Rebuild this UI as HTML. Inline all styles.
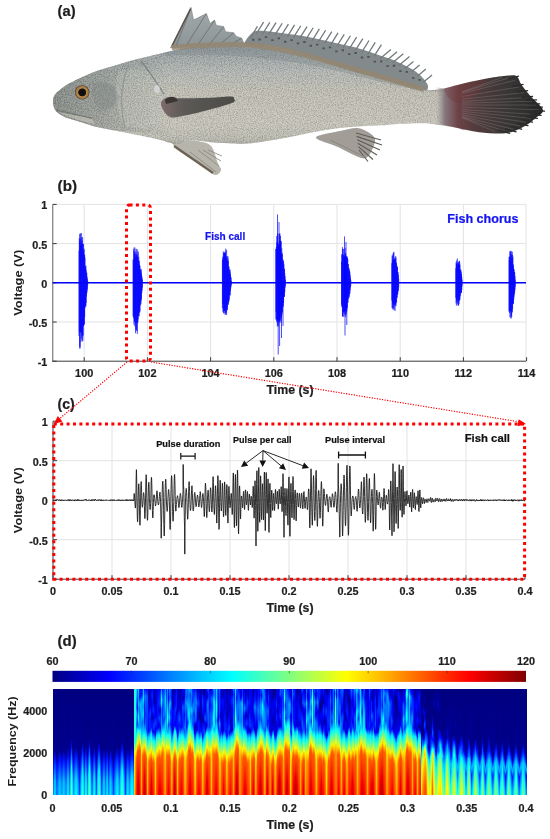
<!DOCTYPE html><html><head><meta charset="utf-8"><title>Fish call figure</title><style>html,body{margin:0;padding:0;background:#fff;overflow:hidden}svg{display:block}</style></head><body><svg width="550" height="839" viewBox="0 0 550 839" font-family='"Liberation Sans", Arial, sans-serif' font-weight="bold"><defs>
<linearGradient id="gBody" x1="0" y1="40" x2="0" y2="146" gradientUnits="userSpaceOnUse">
 <stop offset="0" stop-color="#7b858a"/><stop offset="0.12" stop-color="#959ea3"/><stop offset="0.3" stop-color="#b0b4b3"/>
 <stop offset="0.5" stop-color="#bfbdb4"/><stop offset="0.8" stop-color="#c5c3ba"/><stop offset="0.93" stop-color="#b9b8b0"/><stop offset="1" stop-color="#9c9b94"/>
</linearGradient>
<linearGradient id="gHead" x1="50" y1="0" x2="170" y2="0" gradientUnits="userSpaceOnUse">
 <stop offset="0" stop-color="#6f7777" stop-opacity="0.85"/><stop offset="0.45" stop-color="#7c8484" stop-opacity="0.6"/><stop offset="0.8" stop-color="#87908f" stop-opacity="0.3"/><stop offset="1" stop-color="#8a9292" stop-opacity="0"/>
</linearGradient>
<linearGradient id="gTail" x1="436" y1="0" x2="545" y2="0" gradientUnits="userSpaceOnUse">
 <stop offset="0" stop-color="#9a9396" stop-opacity="0"/><stop offset="0.08" stop-color="#86787d"/>
 <stop offset="0.2" stop-color="#6c4347"/><stop offset="0.38" stop-color="#4f3b3c"/>
 <stop offset="0.65" stop-color="#3a3636"/><stop offset="1" stop-color="#262626"/>
</linearGradient>
<linearGradient id="gPed" x1="0" y1="80" x2="0" y2="130" gradientUnits="userSpaceOnUse">
 <stop offset="0" stop-color="#8e8a8c"/><stop offset="0.5" stop-color="#a19c9c"/><stop offset="1" stop-color="#9a9494"/>
</linearGradient>
<linearGradient id="gPect" x1="160" y1="0" x2="235" y2="0" gradientUnits="userSpaceOnUse">
 <stop offset="0" stop-color="#806c6c"/><stop offset="0.3" stop-color="#5d5a57"/><stop offset="1" stop-color="#4a4a47"/>
</linearGradient>
<linearGradient id="gFin" x1="0" y1="0" x2="0" y2="1">
 <stop offset="0" stop-color="#a2aaac"/><stop offset="1" stop-color="#8c9495"/>
</linearGradient>
<radialGradient id="gEye" cx="0.5" cy="0.5" r="0.5">
 <stop offset="0" stop-color="#0d0d0d"/><stop offset="0.5" stop-color="#151210"/><stop offset="0.6" stop-color="#b98a45"/>
 <stop offset="0.85" stop-color="#9c7444"/><stop offset="1" stop-color="#3e342c"/>
</radialGradient>
<filter id="fSpeck" x="0" y="0" width="1" height="1" color-interpolation-filters="sRGB">
 <feTurbulence type="fractalNoise" baseFrequency="0.85" numOctaves="2" seed="4"/>
 <feColorMatrix type="matrix" values="2.4 0 0 0 -0.48  2.4 0 0 0 -0.48  2.3 0 0 0 -0.5  0 0 0 0 0.16"/>
</filter>
<clipPath id="cBody"><path d="M53,103C52.75,100.33 53.27,97.55 54.5,95.3C55.73,93.05 57.97,91.45 60.4,89.5C62.83,87.55 65.23,85.78 69.1,83.6C72.97,81.42 78.75,78.58 83.6,76.4C88.45,74.22 93.35,72.2 98.2,70.5C103.05,68.8 107.85,67.65 112.7,66.2C117.55,64.75 122.45,63.17 127.3,61.8C132.15,60.43 136.95,59.22 141.8,58C146.65,56.78 151.53,55.67 156.4,54.5C161.27,53.33 166.15,52.07 171,51C175.85,49.93 180.67,48.93 185.5,48.1C190.33,47.27 192.58,46.52 200,46C207.42,45.48 221.67,45.25 230,45C238.33,44.75 242.33,44.25 250,44.5C257.67,44.75 266.83,44.92 276,46.5C285.17,48.08 296,51.08 305,54C314,56.92 321.17,60.88 330,64C338.83,67.12 348.5,70.03 358,72.7C367.5,75.37 378.25,77.57 387,80C395.75,82.43 404.17,85.6 410.5,87.3C416.83,89 419.17,89.97 425,90.2C430.83,90.43 440.33,89.15 445.5,88.7C450.67,88.25 452.58,87.7 456,87.5C459.42,87.3 464.33,80.92 466,87.5C467.67,94.08 467.75,120.33 466,127C464.25,133.67 461.2,128 455.5,127.5C449.8,127 437.72,124.72 431.8,124C425.88,123.28 425.3,123.23 420,123.2C414.7,123.17 405.5,123.5 400,123.8C394.5,124.1 394,124.55 387,125C380,125.45 367.67,125.75 358,126.5C348.33,127.25 337.75,128.28 329,129.5C320.25,130.72 314.27,132.12 305.5,133.8C296.73,135.48 286.1,137.98 276.4,139.6C266.7,141.22 257.03,142.97 247.3,143.5C237.57,144.03 227.72,143.35 218,142.8C208.28,142.25 195.88,140 189,140.2C182.12,140.4 182.13,144.22 176.7,144C171.27,143.78 164.63,140.72 156.4,138.9C148.17,137.08 137,135.03 127.3,133.1C117.6,131.17 105.48,129 98.2,127.3C90.92,125.6 88.45,124.37 83.6,122.9C78.75,121.43 72.48,119.62 69.1,118.5C65.72,117.38 65.48,117.4 63.3,116.2C61.12,115 57.72,113.5 56,111.3C54.28,109.1 53.25,105.67 53,103Z"/></clipPath><linearGradient id="gCb" x1="0" y1="0" x2="1" y2="0"><stop offset="0" stop-color="#000080"/><stop offset="0.06" stop-color="#0000bf"/><stop offset="0.12" stop-color="#0000ff"/><stop offset="0.19" stop-color="#0040ff"/><stop offset="0.25" stop-color="#0080ff"/><stop offset="0.31" stop-color="#00bfff"/><stop offset="0.38" stop-color="#00ffff"/><stop offset="0.44" stop-color="#40ffbf"/><stop offset="0.5" stop-color="#80ff80"/><stop offset="0.56" stop-color="#bfff40"/><stop offset="0.62" stop-color="#ffff00"/><stop offset="0.69" stop-color="#ffbf00"/><stop offset="0.75" stop-color="#ff8000"/><stop offset="0.81" stop-color="#ff4000"/><stop offset="0.88" stop-color="#ff0000"/><stop offset="0.94" stop-color="#bf0000"/><stop offset="1" stop-color="#800000"/></linearGradient><linearGradient id="c0" x1="0" y1="0" x2="0" y2="1"><stop offset="0.000" stop-color="#000080"/><stop offset="0.619" stop-color="#000090"/><stop offset="0.724" stop-color="#000fff"/><stop offset="0.924" stop-color="#0084ff"/><stop offset="1.000" stop-color="#008cff"/></linearGradient><linearGradient id="c1" x1="0" y1="0" x2="0" y2="1"><stop offset="0.000" stop-color="#000080"/><stop offset="0.571" stop-color="#000093"/><stop offset="0.657" stop-color="#000fff"/><stop offset="0.857" stop-color="#00b7ff"/><stop offset="1.000" stop-color="#00d5ff"/></linearGradient><linearGradient id="c2" x1="0" y1="0" x2="0" y2="1"><stop offset="0.000" stop-color="#000080"/><stop offset="0.571" stop-color="#000089"/><stop offset="0.667" stop-color="#0011ff"/><stop offset="0.867" stop-color="#00b2ff"/><stop offset="1.000" stop-color="#00ccff"/></linearGradient><linearGradient id="c3" x1="0" y1="0" x2="0" y2="1"><stop offset="0.000" stop-color="#000080"/><stop offset="0.629" stop-color="#000090"/><stop offset="0.743" stop-color="#0014ff"/><stop offset="0.952" stop-color="#007bff"/><stop offset="1.000" stop-color="#007eff"/></linearGradient><linearGradient id="c4" x1="0" y1="0" x2="0" y2="1"><stop offset="0.000" stop-color="#000080"/><stop offset="0.619" stop-color="#00008d"/><stop offset="0.724" stop-color="#000cff"/><stop offset="0.924" stop-color="#0081ff"/><stop offset="1.000" stop-color="#0089ff"/></linearGradient><linearGradient id="c5" x1="0" y1="0" x2="0" y2="1"><stop offset="0.000" stop-color="#000080"/><stop offset="0.590" stop-color="#000089"/><stop offset="0.686" stop-color="#000aff"/><stop offset="0.886" stop-color="#009cff"/><stop offset="1.000" stop-color="#00afff"/></linearGradient><linearGradient id="c6" x1="0" y1="0" x2="0" y2="1"><stop offset="0.000" stop-color="#000080"/><stop offset="0.571" stop-color="#00008d"/><stop offset="0.667" stop-color="#0015ff"/><stop offset="0.867" stop-color="#00b6ff"/><stop offset="1.000" stop-color="#00d0ff"/></linearGradient><linearGradient id="c7" x1="0" y1="0" x2="0" y2="1"><stop offset="0.000" stop-color="#000080"/><stop offset="0.581" stop-color="#00008e"/><stop offset="0.676" stop-color="#0012ff"/><stop offset="0.876" stop-color="#00abff"/><stop offset="1.000" stop-color="#00c2ff"/></linearGradient><linearGradient id="c8" x1="0" y1="0" x2="0" y2="1"><stop offset="0.000" stop-color="#000080"/><stop offset="0.600" stop-color="#000087"/><stop offset="0.705" stop-color="#000fff"/><stop offset="0.905" stop-color="#0092ff"/><stop offset="1.000" stop-color="#009fff"/></linearGradient><linearGradient id="c9" x1="0" y1="0" x2="0" y2="1"><stop offset="0.000" stop-color="#000080"/><stop offset="0.590" stop-color="#00008b"/><stop offset="0.686" stop-color="#000cff"/><stop offset="0.886" stop-color="#009fff"/><stop offset="1.000" stop-color="#00b1ff"/></linearGradient><linearGradient id="c10" x1="0" y1="0" x2="0" y2="1"><stop offset="0.000" stop-color="#000080"/><stop offset="0.571" stop-color="#000094"/><stop offset="0.657" stop-color="#0010ff"/><stop offset="0.857" stop-color="#00b7ff"/><stop offset="1.000" stop-color="#00d5ff"/></linearGradient><linearGradient id="c11" x1="0" y1="0" x2="0" y2="1"><stop offset="0.000" stop-color="#000080"/><stop offset="0.581" stop-color="#000090"/><stop offset="0.676" stop-color="#0015ff"/><stop offset="0.876" stop-color="#00aeff"/><stop offset="1.000" stop-color="#00c4ff"/></linearGradient><linearGradient id="c12" x1="0" y1="0" x2="0" y2="1"><stop offset="0.000" stop-color="#000080"/><stop offset="0.610" stop-color="#000094"/><stop offset="0.705" stop-color="#000dff"/><stop offset="0.905" stop-color="#0090ff"/><stop offset="1.000" stop-color="#009dff"/></linearGradient><linearGradient id="c13" x1="0" y1="0" x2="0" y2="1"><stop offset="0.000" stop-color="#000080"/><stop offset="0.610" stop-color="#000090"/><stop offset="0.714" stop-color="#0014ff"/><stop offset="0.914" stop-color="#0090ff"/><stop offset="1.000" stop-color="#009aff"/></linearGradient><linearGradient id="c14" x1="0" y1="0" x2="0" y2="1"><stop offset="0.000" stop-color="#000080"/><stop offset="0.552" stop-color="#000087"/><stop offset="0.638" stop-color="#000aff"/><stop offset="0.838" stop-color="#00c0ff"/><stop offset="1.000" stop-color="#00e7ff"/></linearGradient><linearGradient id="c15" x1="0" y1="0" x2="0" y2="1"><stop offset="0.000" stop-color="#000080"/><stop offset="0.552" stop-color="#000087"/><stop offset="0.638" stop-color="#0009ff"/><stop offset="0.838" stop-color="#00bfff"/><stop offset="1.000" stop-color="#00e6ff"/></linearGradient><linearGradient id="c16" x1="0" y1="0" x2="0" y2="1"><stop offset="0.000" stop-color="#000080"/><stop offset="0.610" stop-color="#00008f"/><stop offset="0.714" stop-color="#0012ff"/><stop offset="0.914" stop-color="#008fff"/><stop offset="1.000" stop-color="#0099ff"/></linearGradient><linearGradient id="c17" x1="0" y1="0" x2="0" y2="1"><stop offset="0.000" stop-color="#000080"/><stop offset="0.552" stop-color="#000094"/><stop offset="0.638" stop-color="#0016ff"/><stop offset="0.838" stop-color="#00cbff"/><stop offset="1.000" stop-color="#00f2ff"/></linearGradient><linearGradient id="c18" x1="0" y1="0" x2="0" y2="1"><stop offset="0.000" stop-color="#000080"/><stop offset="0.476" stop-color="#000094"/><stop offset="0.543" stop-color="#000cff"/><stop offset="0.733" stop-color="#00fbff"/><stop offset="0.952" stop-color="#65ff9a"/><stop offset="1.000" stop-color="#68ff97"/></linearGradient><linearGradient id="c19" x1="0" y1="0" x2="0" y2="1"><stop offset="0.000" stop-color="#000080"/><stop offset="0.543" stop-color="#000093"/><stop offset="0.619" stop-color="#000cff"/><stop offset="0.819" stop-color="#00cfff"/><stop offset="1.000" stop-color="#01fffe"/></linearGradient><linearGradient id="c20" x1="0" y1="0" x2="0" y2="1"><stop offset="0.000" stop-color="#000080"/><stop offset="0.610" stop-color="#000089"/><stop offset="0.714" stop-color="#000cff"/><stop offset="0.914" stop-color="#0088ff"/><stop offset="1.000" stop-color="#0092ff"/></linearGradient><linearGradient id="c21" x1="0" y1="0" x2="0" y2="1"><stop offset="0.000" stop-color="#000080"/><stop offset="0.581" stop-color="#000093"/><stop offset="0.667" stop-color="#000cff"/><stop offset="0.867" stop-color="#00adff"/><stop offset="1.000" stop-color="#00c7ff"/></linearGradient><linearGradient id="c22" x1="0" y1="0" x2="0" y2="1"><stop offset="0.000" stop-color="#000080"/><stop offset="0.552" stop-color="#000094"/><stop offset="0.638" stop-color="#0016ff"/><stop offset="0.838" stop-color="#00ccff"/><stop offset="1.000" stop-color="#00f3ff"/></linearGradient><linearGradient id="c23" x1="0" y1="0" x2="0" y2="1"><stop offset="0.000" stop-color="#000080"/><stop offset="0.543" stop-color="#00008c"/><stop offset="0.629" stop-color="#0011ff"/><stop offset="0.829" stop-color="#00ceff"/><stop offset="1.000" stop-color="#00faff"/></linearGradient><linearGradient id="c24" x1="0" y1="0" x2="0" y2="1"><stop offset="0.000" stop-color="#000080"/><stop offset="0.571" stop-color="#00008c"/><stop offset="0.667" stop-color="#0014ff"/><stop offset="0.867" stop-color="#00b5ff"/><stop offset="1.000" stop-color="#00cfff"/></linearGradient><linearGradient id="c25" x1="0" y1="0" x2="0" y2="1"><stop offset="0.000" stop-color="#000080"/><stop offset="0.610" stop-color="#000093"/><stop offset="0.705" stop-color="#000cff"/><stop offset="0.905" stop-color="#008fff"/><stop offset="1.000" stop-color="#009cff"/></linearGradient><linearGradient id="c26" x1="0" y1="0" x2="0" y2="1"><stop offset="0.000" stop-color="#000080"/><stop offset="0.667" stop-color="#000093"/><stop offset="0.800" stop-color="#000fff"/><stop offset="1.000" stop-color="#004cff"/></linearGradient><linearGradient id="c27" x1="0" y1="0" x2="0" y2="1"><stop offset="0.000" stop-color="#000080"/><stop offset="0.610" stop-color="#000092"/><stop offset="0.714" stop-color="#0015ff"/><stop offset="0.914" stop-color="#0091ff"/><stop offset="1.000" stop-color="#009bff"/></linearGradient><linearGradient id="c28" x1="0" y1="0" x2="0" y2="1"><stop offset="0.000" stop-color="#000080"/><stop offset="0.543" stop-color="#000089"/><stop offset="0.629" stop-color="#000fff"/><stop offset="0.829" stop-color="#00ccff"/><stop offset="1.000" stop-color="#00f8ff"/></linearGradient><linearGradient id="c29" x1="0" y1="0" x2="0" y2="1"><stop offset="0.000" stop-color="#000080"/><stop offset="0.495" stop-color="#00008a"/><stop offset="0.571" stop-color="#000eff"/><stop offset="0.762" stop-color="#00ebff"/><stop offset="1.000" stop-color="#42ffbd"/></linearGradient><linearGradient id="c30" x1="0" y1="0" x2="0" y2="1"><stop offset="0.000" stop-color="#000080"/><stop offset="0.543" stop-color="#000091"/><stop offset="0.629" stop-color="#0016ff"/><stop offset="0.829" stop-color="#00d2ff"/><stop offset="1.000" stop-color="#00feff"/></linearGradient><linearGradient id="c31" x1="0" y1="0" x2="0" y2="1"><stop offset="0.000" stop-color="#000080"/><stop offset="0.600" stop-color="#00008c"/><stop offset="0.705" stop-color="#0014ff"/><stop offset="0.905" stop-color="#0097ff"/><stop offset="1.000" stop-color="#00a4ff"/></linearGradient><linearGradient id="c32" x1="0" y1="0" x2="0" y2="1"><stop offset="0.000" stop-color="#000080"/><stop offset="0.533" stop-color="#00008c"/><stop offset="0.619" stop-color="#0014ff"/><stop offset="0.819" stop-color="#00d7ff"/><stop offset="1.000" stop-color="#09fff6"/></linearGradient><linearGradient id="c33" x1="0" y1="0" x2="0" y2="1"><stop offset="0.000" stop-color="#000080"/><stop offset="0.543" stop-color="#000086"/><stop offset="0.629" stop-color="#000cff"/><stop offset="0.829" stop-color="#00c9ff"/><stop offset="1.000" stop-color="#00f4ff"/></linearGradient><linearGradient id="c34" x1="0" y1="0" x2="0" y2="1"><stop offset="0.000" stop-color="#000080"/><stop offset="0.600" stop-color="#00008a"/><stop offset="0.705" stop-color="#0012ff"/><stop offset="0.905" stop-color="#0095ff"/><stop offset="1.000" stop-color="#00a2ff"/></linearGradient><linearGradient id="c35" x1="0" y1="0" x2="0" y2="1"><stop offset="0.000" stop-color="#000080"/><stop offset="0.524" stop-color="#000089"/><stop offset="0.610" stop-color="#0015ff"/><stop offset="0.810" stop-color="#00dfff"/><stop offset="0.981" stop-color="#15ffea"/><stop offset="1.000" stop-color="#16ffe9"/></linearGradient><linearGradient id="c36" x1="0" y1="0" x2="0" y2="1"><stop offset="0.000" stop-color="#000080"/><stop offset="0.467" stop-color="#000082"/><stop offset="0.543" stop-color="#000eff"/><stop offset="0.733" stop-color="#00fcff"/><stop offset="0.952" stop-color="#66ff99"/><stop offset="1.000" stop-color="#69ff96"/></linearGradient><linearGradient id="c37" x1="0" y1="0" x2="0" y2="1"><stop offset="0.000" stop-color="#000080"/><stop offset="0.533" stop-color="#000090"/><stop offset="0.610" stop-color="#000bff"/><stop offset="0.800" stop-color="#00cfff"/><stop offset="0.981" stop-color="#0cfff3"/><stop offset="1.000" stop-color="#0dfff2"/></linearGradient><linearGradient id="c38" x1="0" y1="0" x2="0" y2="1"><stop offset="0.000" stop-color="#000080"/><stop offset="0.610" stop-color="#00008b"/><stop offset="0.714" stop-color="#000eff"/><stop offset="0.914" stop-color="#008aff"/><stop offset="1.000" stop-color="#0095ff"/></linearGradient><linearGradient id="c39" x1="0" y1="0" x2="0" y2="1"><stop offset="0.000" stop-color="#000080"/><stop offset="0.629" stop-color="#000094"/><stop offset="0.733" stop-color="#000fff"/><stop offset="0.933" stop-color="#007cff"/><stop offset="1.000" stop-color="#0083ff"/></linearGradient><linearGradient id="c40" x1="0" y1="0" x2="0" y2="1"><stop offset="0.000" stop-color="#000080"/><stop offset="0.562" stop-color="#000092"/><stop offset="0.648" stop-color="#0011ff"/><stop offset="0.848" stop-color="#00c0ff"/><stop offset="1.000" stop-color="#00e2ff"/></linearGradient><linearGradient id="c41" x1="0" y1="0" x2="0" y2="1"><stop offset="0.000" stop-color="#000080"/><stop offset="0.533" stop-color="#000089"/><stop offset="0.619" stop-color="#0011ff"/><stop offset="0.819" stop-color="#00d5ff"/><stop offset="1.000" stop-color="#06fff9"/></linearGradient><linearGradient id="c42" x1="0" y1="0" x2="0" y2="1"><stop offset="0.000" stop-color="#000080"/><stop offset="0.590" stop-color="#00008e"/><stop offset="0.686" stop-color="#000fff"/><stop offset="0.886" stop-color="#00a1ff"/><stop offset="1.000" stop-color="#00b4ff"/></linearGradient><linearGradient id="c43" x1="0" y1="0" x2="0" y2="1"><stop offset="0.000" stop-color="#000080"/><stop offset="0.648" stop-color="#00008f"/><stop offset="0.771" stop-color="#0010ff"/><stop offset="0.981" stop-color="#0062ff"/><stop offset="1.000" stop-color="#0062ff"/></linearGradient><linearGradient id="c44" x1="0" y1="0" x2="0" y2="1"><stop offset="0.000" stop-color="#000080"/><stop offset="0.562" stop-color="#000091"/><stop offset="0.648" stop-color="#0010ff"/><stop offset="0.848" stop-color="#00bfff"/><stop offset="1.000" stop-color="#00e1ff"/></linearGradient><linearGradient id="c45" x1="0" y1="0" x2="0" y2="1"><stop offset="0.000" stop-color="#000080"/><stop offset="0.505" stop-color="#000091"/><stop offset="0.581" stop-color="#0013ff"/><stop offset="0.771" stop-color="#00e9ff"/><stop offset="1.000" stop-color="#39ffc6"/></linearGradient><linearGradient id="c46" x1="0" y1="0" x2="0" y2="1"><stop offset="0.000" stop-color="#000080"/><stop offset="0.495" stop-color="#000084"/><stop offset="0.571" stop-color="#0009ff"/><stop offset="0.762" stop-color="#00e7ff"/><stop offset="0.990" stop-color="#3effc1"/><stop offset="1.000" stop-color="#3effc1"/></linearGradient><linearGradient id="c47" x1="0" y1="0" x2="0" y2="1"><stop offset="0.000" stop-color="#000080"/><stop offset="0.552" stop-color="#000086"/><stop offset="0.638" stop-color="#0009ff"/><stop offset="0.838" stop-color="#00bfff"/><stop offset="1.000" stop-color="#00e6ff"/></linearGradient><linearGradient id="c48" x1="0" y1="0" x2="0" y2="1"><stop offset="0.000" stop-color="#000080"/><stop offset="0.638" stop-color="#00008d"/><stop offset="0.762" stop-color="#0013ff"/><stop offset="0.971" stop-color="#006cff"/><stop offset="1.000" stop-color="#006dff"/></linearGradient><linearGradient id="c49" x1="0" y1="0" x2="0" y2="1"><stop offset="0.000" stop-color="#000080"/><stop offset="0.619" stop-color="#000091"/><stop offset="0.724" stop-color="#0010ff"/><stop offset="0.924" stop-color="#0085ff"/><stop offset="1.000" stop-color="#008dff"/></linearGradient><linearGradient id="c50" x1="0" y1="0" x2="0" y2="1"><stop offset="0.000" stop-color="#000080"/><stop offset="0.562" stop-color="#000085"/><stop offset="0.657" stop-color="#0011ff"/><stop offset="0.857" stop-color="#00b9ff"/><stop offset="1.000" stop-color="#00d7ff"/></linearGradient><linearGradient id="c51" x1="0" y1="0" x2="0" y2="1"><stop offset="0.000" stop-color="#000080"/><stop offset="0.562" stop-color="#000086"/><stop offset="0.657" stop-color="#0012ff"/><stop offset="0.857" stop-color="#00b9ff"/><stop offset="1.000" stop-color="#00d7ff"/></linearGradient><linearGradient id="c52" x1="0" y1="0" x2="0" y2="1"><stop offset="0.000" stop-color="#000080"/><stop offset="0.619" stop-color="#000092"/><stop offset="0.724" stop-color="#0011ff"/><stop offset="0.924" stop-color="#0086ff"/><stop offset="1.000" stop-color="#008eff"/></linearGradient><linearGradient id="c53" x1="0" y1="0" x2="0" y2="1"><stop offset="0.000" stop-color="#000080"/><stop offset="0.571" stop-color="#00008d"/><stop offset="0.667" stop-color="#0015ff"/><stop offset="0.867" stop-color="#00b5ff"/><stop offset="1.000" stop-color="#00cfff"/></linearGradient><linearGradient id="c54" x1="0" y1="0" x2="0" y2="1"><stop offset="0.000" stop-color="#000080"/><stop offset="0.552" stop-color="#00008b"/><stop offset="0.638" stop-color="#000dff"/><stop offset="0.838" stop-color="#00c3ff"/><stop offset="1.000" stop-color="#00eaff"/></linearGradient><linearGradient id="c55" x1="0" y1="0" x2="0" y2="1"><stop offset="0.000" stop-color="#000080"/><stop offset="0.619" stop-color="#000089"/><stop offset="0.733" stop-color="#0011ff"/><stop offset="0.933" stop-color="#007fff"/><stop offset="1.000" stop-color="#0085ff"/></linearGradient><linearGradient id="c56" x1="0" y1="0" x2="0" y2="1"><stop offset="0.000" stop-color="#000080"/><stop offset="0.590" stop-color="#000092"/><stop offset="0.686" stop-color="#0013ff"/><stop offset="0.886" stop-color="#00a5ff"/><stop offset="1.000" stop-color="#00b7ff"/></linearGradient><linearGradient id="c57" x1="0" y1="0" x2="0" y2="1"><stop offset="0.000" stop-color="#000080"/><stop offset="0.562" stop-color="#000093"/><stop offset="0.648" stop-color="#0013ff"/><stop offset="0.848" stop-color="#00c1ff"/><stop offset="1.000" stop-color="#00e4ff"/></linearGradient><linearGradient id="c58" x1="0" y1="0" x2="0" y2="1"><stop offset="0.000" stop-color="#000080"/><stop offset="0.581" stop-color="#00008f"/><stop offset="0.676" stop-color="#0014ff"/><stop offset="0.876" stop-color="#00adff"/><stop offset="1.000" stop-color="#00c3ff"/></linearGradient><linearGradient id="c59" x1="0" y1="0" x2="0" y2="1"><stop offset="0.000" stop-color="#000080"/><stop offset="0.619" stop-color="#000095"/><stop offset="0.724" stop-color="#0013ff"/><stop offset="0.924" stop-color="#0088ff"/><stop offset="1.000" stop-color="#0090ff"/></linearGradient><linearGradient id="c60" x1="0" y1="0" x2="0" y2="1"><stop offset="0.000" stop-color="#000080"/><stop offset="0.610" stop-color="#000087"/><stop offset="0.724" stop-color="#0014ff"/><stop offset="0.924" stop-color="#0089ff"/><stop offset="1.000" stop-color="#0091ff"/></linearGradient><linearGradient id="c61" x1="0" y1="0" x2="0" y2="1"><stop offset="0.000" stop-color="#000080"/><stop offset="0.552" stop-color="#00008e"/><stop offset="0.638" stop-color="#0011ff"/><stop offset="0.838" stop-color="#00c6ff"/><stop offset="1.000" stop-color="#00edff"/></linearGradient><linearGradient id="c62" x1="0" y1="0" x2="0" y2="1"><stop offset="0.000" stop-color="#000080"/><stop offset="0.543" stop-color="#000089"/><stop offset="0.629" stop-color="#000eff"/><stop offset="0.829" stop-color="#00cbff"/><stop offset="1.000" stop-color="#00f7ff"/></linearGradient><linearGradient id="c63" x1="0" y1="0" x2="0" y2="1"><stop offset="0.000" stop-color="#000080"/><stop offset="0.571" stop-color="#00008b"/><stop offset="0.667" stop-color="#0014ff"/><stop offset="0.867" stop-color="#00b4ff"/><stop offset="1.000" stop-color="#00ceff"/></linearGradient><linearGradient id="c64" x1="0" y1="0" x2="0" y2="1"><stop offset="0.000" stop-color="#000080"/><stop offset="0.600" stop-color="#000086"/><stop offset="0.705" stop-color="#000eff"/><stop offset="0.905" stop-color="#0092ff"/><stop offset="1.000" stop-color="#009eff"/></linearGradient><linearGradient id="c65" x1="0" y1="0" x2="0" y2="1"><stop offset="0.000" stop-color="#000080"/><stop offset="0.552" stop-color="#00008c"/><stop offset="0.638" stop-color="#000fff"/><stop offset="0.838" stop-color="#00c4ff"/><stop offset="1.000" stop-color="#00ebff"/></linearGradient><linearGradient id="c66" x1="0" y1="0" x2="0" y2="1"><stop offset="0.000" stop-color="#000080"/><stop offset="0.505" stop-color="#00008a"/><stop offset="0.581" stop-color="#000cff"/><stop offset="0.771" stop-color="#00e4ff"/><stop offset="0.952" stop-color="#31ffce"/><stop offset="1.000" stop-color="#34ffcb"/></linearGradient><linearGradient id="c67" x1="0" y1="0" x2="0" y2="1"><stop offset="0.000" stop-color="#000080"/><stop offset="0.495" stop-color="#00008f"/><stop offset="0.571" stop-color="#0013ff"/><stop offset="0.771" stop-color="#00f7ff"/><stop offset="1.000" stop-color="#47ffb8"/></linearGradient><linearGradient id="c68" x1="0" y1="0" x2="0" y2="1"><stop offset="0.000" stop-color="#000080"/><stop offset="0.543" stop-color="#000095"/><stop offset="0.619" stop-color="#000dff"/><stop offset="0.819" stop-color="#00d0ff"/><stop offset="1.000" stop-color="#02fffd"/></linearGradient><linearGradient id="c69" x1="0" y1="0" x2="0" y2="1"><stop offset="0.000" stop-color="#000080"/><stop offset="0.590" stop-color="#000089"/><stop offset="0.695" stop-color="#0014ff"/><stop offset="0.895" stop-color="#009fff"/><stop offset="1.000" stop-color="#00afff"/></linearGradient><linearGradient id="c70" x1="0" y1="0" x2="0" y2="1"><stop offset="0.000" stop-color="#000080"/><stop offset="0.600" stop-color="#00008f"/><stop offset="0.695" stop-color="#000cff"/><stop offset="0.895" stop-color="#0097ff"/><stop offset="1.000" stop-color="#00a6ff"/></linearGradient><linearGradient id="c71" x1="0" y1="0" x2="0" y2="1"><stop offset="0.000" stop-color="#000080"/><stop offset="0.571" stop-color="#000091"/><stop offset="0.657" stop-color="#000dff"/><stop offset="0.857" stop-color="#00b5ff"/><stop offset="1.000" stop-color="#00d3ff"/></linearGradient><linearGradient id="c72" x1="0" y1="0" x2="0" y2="1"><stop offset="0.000" stop-color="#000080"/><stop offset="0.600" stop-color="#00008c"/><stop offset="0.705" stop-color="#0013ff"/><stop offset="0.905" stop-color="#0097ff"/><stop offset="1.000" stop-color="#00a3ff"/></linearGradient><linearGradient id="c73" x1="0" y1="0" x2="0" y2="1"><stop offset="0.000" stop-color="#000080"/><stop offset="0.562" stop-color="#000088"/><stop offset="0.657" stop-color="#0014ff"/><stop offset="0.857" stop-color="#00bcff"/><stop offset="1.000" stop-color="#00d9ff"/></linearGradient><linearGradient id="c74" x1="0" y1="0" x2="0" y2="1"><stop offset="0.000" stop-color="#000080"/><stop offset="0.533" stop-color="#00008b"/><stop offset="0.619" stop-color="#0014ff"/><stop offset="0.819" stop-color="#00d7ff"/><stop offset="1.000" stop-color="#09fff6"/></linearGradient><linearGradient id="c75" x1="0" y1="0" x2="0" y2="1"><stop offset="0.000" stop-color="#000080"/><stop offset="0.533" stop-color="#000089"/><stop offset="0.619" stop-color="#0011ff"/><stop offset="0.819" stop-color="#00d5ff"/><stop offset="1.000" stop-color="#07fff8"/></linearGradient><linearGradient id="c76" x1="0" y1="0" x2="0" y2="1"><stop offset="0.000" stop-color="#1affe5"/><stop offset="0.495" stop-color="#1effe1"/><stop offset="0.600" stop-color="#fffc00"/><stop offset="0.629" stop-color="#ffda00"/><stop offset="0.800" stop-color="#ffdb00"/><stop offset="1.000" stop-color="#ffbd00"/></linearGradient><linearGradient id="c77" x1="0" y1="0" x2="0" y2="1"><stop offset="0.000" stop-color="#1affe5"/><stop offset="0.495" stop-color="#24ffdb"/><stop offset="0.600" stop-color="#fff400"/><stop offset="0.695" stop-color="#ff9d00"/><stop offset="1.000" stop-color="#ff6f00"/></linearGradient><linearGradient id="c78" x1="0" y1="0" x2="0" y2="1"><stop offset="0.000" stop-color="#00e0ff"/><stop offset="0.057" stop-color="#00c4ff"/><stop offset="0.171" stop-color="#006dff"/><stop offset="0.229" stop-color="#00c9ff"/><stop offset="0.343" stop-color="#0071ff"/><stop offset="0.429" stop-color="#00fdff"/><stop offset="0.533" stop-color="#bdff42"/><stop offset="0.571" stop-color="#ffe500"/><stop offset="0.648" stop-color="#ff5b00"/><stop offset="1.000" stop-color="#ff1d00"/></linearGradient><linearGradient id="c79" x1="0" y1="0" x2="0" y2="1"><stop offset="0.000" stop-color="#0072ff"/><stop offset="0.067" stop-color="#005cff"/><stop offset="0.181" stop-color="#0008ff"/><stop offset="0.257" stop-color="#0065ff"/><stop offset="0.324" stop-color="#003aff"/><stop offset="0.362" stop-color="#008eff"/><stop offset="0.381" stop-color="#00f0ff"/><stop offset="0.429" stop-color="#68ff97"/><stop offset="0.514" stop-color="#fff900"/><stop offset="0.590" stop-color="#ff5b00"/><stop offset="0.886" stop-color="#e60000"/><stop offset="1.000" stop-color="#d60000"/></linearGradient><linearGradient id="c80" x1="0" y1="0" x2="0" y2="1"><stop offset="0.000" stop-color="#00ccff"/><stop offset="0.095" stop-color="#00a4ff"/><stop offset="0.143" stop-color="#00c3ff"/><stop offset="0.190" stop-color="#0091ff"/><stop offset="0.257" stop-color="#09fff6"/><stop offset="0.295" stop-color="#00ecff"/><stop offset="0.343" stop-color="#007fff"/><stop offset="0.371" stop-color="#00b9ff"/><stop offset="0.390" stop-color="#0bfff4"/><stop offset="0.438" stop-color="#8fff70"/><stop offset="0.505" stop-color="#ffe700"/><stop offset="0.581" stop-color="#ff5800"/><stop offset="0.848" stop-color="#e40000"/><stop offset="1.000" stop-color="#c40000"/></linearGradient><linearGradient id="c81" x1="0" y1="0" x2="0" y2="1"><stop offset="0.000" stop-color="#0039ff"/><stop offset="0.076" stop-color="#0007ff"/><stop offset="0.133" stop-color="#0092ff"/><stop offset="0.210" stop-color="#006eff"/><stop offset="0.371" stop-color="#00aeff"/><stop offset="0.390" stop-color="#00f6ff"/><stop offset="0.448" stop-color="#baff45"/><stop offset="0.486" stop-color="#ffe800"/><stop offset="0.562" stop-color="#ff5a00"/><stop offset="0.952" stop-color="#f10000"/><stop offset="1.000" stop-color="#ea0000"/></linearGradient><linearGradient id="c82" x1="0" y1="0" x2="0" y2="1"><stop offset="0.000" stop-color="#000eff"/><stop offset="0.067" stop-color="#000fff"/><stop offset="0.143" stop-color="#00c5ff"/><stop offset="0.200" stop-color="#00abff"/><stop offset="0.257" stop-color="#007eff"/><stop offset="0.352" stop-color="#0097ff"/><stop offset="0.400" stop-color="#07fff8"/><stop offset="0.505" stop-color="#fffa00"/><stop offset="0.581" stop-color="#ff6900"/><stop offset="1.000" stop-color="#ff3700"/></linearGradient><linearGradient id="c83" x1="0" y1="0" x2="0" y2="1"><stop offset="0.000" stop-color="#0007ff"/><stop offset="0.057" stop-color="#0011ff"/><stop offset="0.114" stop-color="#00a5ff"/><stop offset="0.200" stop-color="#00b8ff"/><stop offset="0.276" stop-color="#00adff"/><stop offset="0.333" stop-color="#007cff"/><stop offset="0.457" stop-color="#00f2ff"/><stop offset="0.581" stop-color="#fff800"/><stop offset="0.619" stop-color="#ffd400"/><stop offset="1.000" stop-color="#ffa100"/></linearGradient><linearGradient id="c84" x1="0" y1="0" x2="0" y2="1"><stop offset="0.000" stop-color="#0040ff"/><stop offset="0.048" stop-color="#0030ff"/><stop offset="0.105" stop-color="#00a5ff"/><stop offset="0.181" stop-color="#0099ff"/><stop offset="0.248" stop-color="#00c5ff"/><stop offset="0.314" stop-color="#0060ff"/><stop offset="0.362" stop-color="#0092ff"/><stop offset="0.448" stop-color="#0efff1"/><stop offset="0.562" stop-color="#ffea00"/><stop offset="0.638" stop-color="#ff6700"/><stop offset="1.000" stop-color="#ff3700"/></linearGradient><linearGradient id="c85" x1="0" y1="0" x2="0" y2="1"><stop offset="0.000" stop-color="#00a5ff"/><stop offset="0.067" stop-color="#00d0ff"/><stop offset="0.105" stop-color="#00e4ff"/><stop offset="0.162" stop-color="#009fff"/><stop offset="0.229" stop-color="#00d8ff"/><stop offset="0.305" stop-color="#0088ff"/><stop offset="0.400" stop-color="#00c9ff"/><stop offset="0.438" stop-color="#1cffe3"/><stop offset="0.543" stop-color="#ffec00"/><stop offset="0.619" stop-color="#ff5a00"/><stop offset="0.962" stop-color="#f40000"/><stop offset="1.000" stop-color="#ef0000"/></linearGradient><linearGradient id="c86" x1="0" y1="0" x2="0" y2="1"><stop offset="0.000" stop-color="#000aff"/><stop offset="0.076" stop-color="#006cff"/><stop offset="0.162" stop-color="#001aff"/><stop offset="0.314" stop-color="#0023ff"/><stop offset="0.381" stop-color="#00a9ff"/><stop offset="0.429" stop-color="#09fff6"/><stop offset="0.533" stop-color="#ffeb00"/><stop offset="0.610" stop-color="#ff5800"/><stop offset="0.829" stop-color="#e80000"/><stop offset="1.000" stop-color="#bb0000"/></linearGradient><linearGradient id="c87" x1="0" y1="0" x2="0" y2="1"><stop offset="0.000" stop-color="#000bff"/><stop offset="0.067" stop-color="#0081ff"/><stop offset="0.248" stop-color="#0035ff"/><stop offset="0.324" stop-color="#0066ff"/><stop offset="0.429" stop-color="#00e6ff"/><stop offset="0.457" stop-color="#39ffc6"/><stop offset="0.543" stop-color="#fff800"/><stop offset="0.619" stop-color="#ff5b00"/><stop offset="0.933" stop-color="#f20000"/><stop offset="1.000" stop-color="#e90000"/></linearGradient><linearGradient id="c88" x1="0" y1="0" x2="0" y2="1"><stop offset="0.000" stop-color="#0000f4"/><stop offset="0.067" stop-color="#0060ff"/><stop offset="0.190" stop-color="#0043ff"/><stop offset="0.267" stop-color="#003dff"/><stop offset="0.371" stop-color="#003dff"/><stop offset="0.457" stop-color="#0bfff4"/><stop offset="0.581" stop-color="#ffeb00"/><stop offset="0.657" stop-color="#ff5f00"/><stop offset="1.000" stop-color="#ff2f00"/></linearGradient><linearGradient id="c89" x1="0" y1="0" x2="0" y2="1"><stop offset="0.000" stop-color="#0014ff"/><stop offset="0.086" stop-color="#0059ff"/><stop offset="0.295" stop-color="#003cff"/><stop offset="0.410" stop-color="#002eff"/><stop offset="0.486" stop-color="#00ddff"/><stop offset="0.533" stop-color="#31ffce"/><stop offset="0.629" stop-color="#fffb00"/><stop offset="0.657" stop-color="#ffd700"/><stop offset="1.000" stop-color="#ffac00"/></linearGradient><linearGradient id="c90" x1="0" y1="0" x2="0" y2="1"><stop offset="0.000" stop-color="#0000d3"/><stop offset="0.076" stop-color="#0000cd"/><stop offset="0.238" stop-color="#0012ff"/><stop offset="0.400" stop-color="#0000f5"/><stop offset="0.457" stop-color="#00d1ff"/><stop offset="0.505" stop-color="#1fffe0"/><stop offset="0.610" stop-color="#fffb00"/><stop offset="0.695" stop-color="#ff8a00"/><stop offset="1.000" stop-color="#ff5a00"/></linearGradient><linearGradient id="c91" x1="0" y1="0" x2="0" y2="1"><stop offset="0.000" stop-color="#0000bd"/><stop offset="0.057" stop-color="#00009a"/><stop offset="0.124" stop-color="#0000cf"/><stop offset="0.181" stop-color="#0000d8"/><stop offset="0.238" stop-color="#0024ff"/><stop offset="0.390" stop-color="#001cff"/><stop offset="0.448" stop-color="#00ccff"/><stop offset="0.495" stop-color="#27ffd8"/><stop offset="0.600" stop-color="#fff000"/><stop offset="0.676" stop-color="#ff5c00"/><stop offset="1.000" stop-color="#ff1f00"/></linearGradient><linearGradient id="c92" x1="0" y1="0" x2="0" y2="1"><stop offset="0.000" stop-color="#0000d1"/><stop offset="0.105" stop-color="#0000ea"/><stop offset="0.152" stop-color="#0000d4"/><stop offset="0.190" stop-color="#0022ff"/><stop offset="0.229" stop-color="#003bff"/><stop offset="0.286" stop-color="#0018ff"/><stop offset="0.352" stop-color="#001eff"/><stop offset="0.381" stop-color="#0027ff"/><stop offset="0.429" stop-color="#00d5ff"/><stop offset="0.476" stop-color="#1cffe3"/><stop offset="0.590" stop-color="#ffea00"/><stop offset="0.667" stop-color="#ff5900"/><stop offset="0.952" stop-color="#f70000"/><stop offset="1.000" stop-color="#f10000"/></linearGradient><linearGradient id="c93" x1="0" y1="0" x2="0" y2="1"><stop offset="0.000" stop-color="#0000c6"/><stop offset="0.057" stop-color="#0016ff"/><stop offset="0.114" stop-color="#0000de"/><stop offset="0.162" stop-color="#0000dd"/><stop offset="0.219" stop-color="#0003ff"/><stop offset="0.267" stop-color="#0000b3"/><stop offset="0.324" stop-color="#0010ff"/><stop offset="0.362" stop-color="#0013ff"/><stop offset="0.419" stop-color="#00deff"/><stop offset="0.467" stop-color="#21ffde"/><stop offset="0.571" stop-color="#fff800"/><stop offset="0.657" stop-color="#ff5500"/><stop offset="0.857" stop-color="#e80000"/><stop offset="1.000" stop-color="#c80000"/></linearGradient><linearGradient id="c94" x1="0" y1="0" x2="0" y2="1"><stop offset="0.000" stop-color="#0000fa"/><stop offset="0.067" stop-color="#0024ff"/><stop offset="0.133" stop-color="#0002ff"/><stop offset="0.200" stop-color="#001dff"/><stop offset="0.229" stop-color="#0000e7"/><stop offset="0.267" stop-color="#0000a8"/><stop offset="0.333" stop-color="#0012ff"/><stop offset="0.400" stop-color="#000cff"/><stop offset="0.457" stop-color="#00c9ff"/><stop offset="0.495" stop-color="#16ffe9"/><stop offset="0.610" stop-color="#fff100"/><stop offset="0.686" stop-color="#ff5a00"/><stop offset="0.990" stop-color="#fb0000"/><stop offset="1.000" stop-color="#fa0000"/></linearGradient><linearGradient id="c95" x1="0" y1="0" x2="0" y2="1"><stop offset="0.000" stop-color="#0000f5"/><stop offset="0.105" stop-color="#0000af"/><stop offset="0.162" stop-color="#0013ff"/><stop offset="0.210" stop-color="#0028ff"/><stop offset="0.267" stop-color="#0000d8"/><stop offset="0.314" stop-color="#0019ff"/><stop offset="0.362" stop-color="#003aff"/><stop offset="0.400" stop-color="#0000f3"/><stop offset="0.438" stop-color="#006eff"/><stop offset="0.486" stop-color="#04fffb"/><stop offset="0.610" stop-color="#fff300"/><stop offset="0.686" stop-color="#ff5c00"/><stop offset="1.000" stop-color="#ff2000"/></linearGradient><linearGradient id="c96" x1="0" y1="0" x2="0" y2="1"><stop offset="0.000" stop-color="#0000b8"/><stop offset="0.124" stop-color="#00009d"/><stop offset="0.190" stop-color="#0012ff"/><stop offset="0.267" stop-color="#0000ef"/><stop offset="0.343" stop-color="#003dff"/><stop offset="0.410" stop-color="#0000ef"/><stop offset="0.448" stop-color="#007fff"/><stop offset="0.495" stop-color="#04fffb"/><stop offset="0.619" stop-color="#fff300"/><stop offset="0.705" stop-color="#ff8400"/><stop offset="1.000" stop-color="#ff5500"/></linearGradient><linearGradient id="c97" x1="0" y1="0" x2="0" y2="1"><stop offset="0.000" stop-color="#0000b5"/><stop offset="0.076" stop-color="#0000df"/><stop offset="0.133" stop-color="#0000bc"/><stop offset="0.210" stop-color="#0000ff"/><stop offset="0.257" stop-color="#0000e9"/><stop offset="0.314" stop-color="#003eff"/><stop offset="0.371" stop-color="#0000f3"/><stop offset="0.429" stop-color="#0000f6"/><stop offset="0.486" stop-color="#00d3ff"/><stop offset="0.533" stop-color="#25ffda"/><stop offset="0.638" stop-color="#fff200"/><stop offset="0.676" stop-color="#ffe300"/><stop offset="1.000" stop-color="#ffc200"/></linearGradient><linearGradient id="c98" x1="0" y1="0" x2="0" y2="1"><stop offset="0.000" stop-color="#0000c1"/><stop offset="0.095" stop-color="#0000de"/><stop offset="0.238" stop-color="#0000db"/><stop offset="0.286" stop-color="#0018ff"/><stop offset="0.324" stop-color="#0029ff"/><stop offset="0.371" stop-color="#0000ee"/><stop offset="0.390" stop-color="#0023ff"/><stop offset="0.438" stop-color="#00d9ff"/><stop offset="0.476" stop-color="#1dffe2"/><stop offset="0.590" stop-color="#ffec00"/><stop offset="0.667" stop-color="#ff8300"/><stop offset="1.000" stop-color="#ff5200"/></linearGradient><linearGradient id="c99" x1="0" y1="0" x2="0" y2="1"><stop offset="0.000" stop-color="#0000e5"/><stop offset="0.133" stop-color="#0017ff"/><stop offset="0.267" stop-color="#000dff"/><stop offset="0.371" stop-color="#0005ff"/><stop offset="0.438" stop-color="#00e7ff"/><stop offset="0.524" stop-color="#83ff7c"/><stop offset="0.581" stop-color="#fff600"/><stop offset="0.657" stop-color="#ff5c00"/><stop offset="1.000" stop-color="#ff2800"/></linearGradient><linearGradient id="c100" x1="0" y1="0" x2="0" y2="1"><stop offset="0.000" stop-color="#0000ec"/><stop offset="0.095" stop-color="#001eff"/><stop offset="0.152" stop-color="#001bff"/><stop offset="0.210" stop-color="#0000e1"/><stop offset="0.276" stop-color="#0033ff"/><stop offset="0.324" stop-color="#0000e4"/><stop offset="0.362" stop-color="#0000f3"/><stop offset="0.429" stop-color="#00e3ff"/><stop offset="0.495" stop-color="#64ff9b"/><stop offset="0.571" stop-color="#ffec00"/><stop offset="0.648" stop-color="#ff5a00"/><stop offset="1.000" stop-color="#ff0400"/></linearGradient><linearGradient id="c101" x1="0" y1="0" x2="0" y2="1"><stop offset="0.000" stop-color="#0000f5"/><stop offset="0.143" stop-color="#002bff"/><stop offset="0.190" stop-color="#0000d5"/><stop offset="0.238" stop-color="#0008ff"/><stop offset="0.276" stop-color="#004bff"/><stop offset="0.333" stop-color="#0000ec"/><stop offset="0.352" stop-color="#0000e4"/><stop offset="0.381" stop-color="#0037ff"/><stop offset="0.438" stop-color="#00f7ff"/><stop offset="0.552" stop-color="#fffe00"/><stop offset="0.638" stop-color="#ff5900"/><stop offset="0.924" stop-color="#f10000"/><stop offset="1.000" stop-color="#e60000"/></linearGradient><linearGradient id="c102" x1="0" y1="0" x2="0" y2="1"><stop offset="0.000" stop-color="#0009ff"/><stop offset="0.057" stop-color="#0048ff"/><stop offset="0.133" stop-color="#0060ff"/><stop offset="0.181" stop-color="#0000e8"/><stop offset="0.219" stop-color="#0000d9"/><stop offset="0.267" stop-color="#0032ff"/><stop offset="0.314" stop-color="#0036ff"/><stop offset="0.371" stop-color="#0000f2"/><stop offset="0.467" stop-color="#13ffec"/><stop offset="0.571" stop-color="#ffff00"/><stop offset="0.657" stop-color="#ff5800"/><stop offset="0.933" stop-color="#f20000"/><stop offset="1.000" stop-color="#e90000"/></linearGradient><linearGradient id="c103" x1="0" y1="0" x2="0" y2="1"><stop offset="0.000" stop-color="#007fff"/><stop offset="0.105" stop-color="#0ffff0"/><stop offset="0.143" stop-color="#00e2ff"/><stop offset="0.200" stop-color="#0069ff"/><stop offset="0.333" stop-color="#0093ff"/><stop offset="0.400" stop-color="#00b5ff"/><stop offset="0.457" stop-color="#1effe1"/><stop offset="0.552" stop-color="#fffa00"/><stop offset="0.629" stop-color="#ff5c00"/><stop offset="1.000" stop-color="#fd0000"/></linearGradient><linearGradient id="c104" x1="0" y1="0" x2="0" y2="1"><stop offset="0.000" stop-color="#0010ff"/><stop offset="0.105" stop-color="#008aff"/><stop offset="0.190" stop-color="#002eff"/><stop offset="0.324" stop-color="#003fff"/><stop offset="0.410" stop-color="#0dfff2"/><stop offset="0.514" stop-color="#e0ff1f"/><stop offset="0.562" stop-color="#ffb000"/><stop offset="0.610" stop-color="#ff5c00"/><stop offset="1.000" stop-color="#ff1400"/></linearGradient><linearGradient id="c105" x1="0" y1="0" x2="0" y2="1"><stop offset="0.000" stop-color="#002dff"/><stop offset="0.067" stop-color="#004eff"/><stop offset="0.114" stop-color="#0061ff"/><stop offset="0.181" stop-color="#0054ff"/><stop offset="0.238" stop-color="#0074ff"/><stop offset="0.305" stop-color="#0041ff"/><stop offset="0.362" stop-color="#00a1ff"/><stop offset="0.410" stop-color="#0ffff0"/><stop offset="0.524" stop-color="#e4ff1b"/><stop offset="0.600" stop-color="#ff8200"/><stop offset="1.000" stop-color="#ff4100"/></linearGradient><linearGradient id="c106" x1="0" y1="0" x2="0" y2="1"><stop offset="0.000" stop-color="#0046ff"/><stop offset="0.114" stop-color="#0097ff"/><stop offset="0.238" stop-color="#0066ff"/><stop offset="0.286" stop-color="#0043ff"/><stop offset="0.410" stop-color="#08fff7"/><stop offset="0.514" stop-color="#b4ff4b"/><stop offset="0.552" stop-color="#ffed00"/><stop offset="0.648" stop-color="#ffa800"/><stop offset="1.000" stop-color="#ff7900"/></linearGradient><linearGradient id="c107" x1="0" y1="0" x2="0" y2="1"><stop offset="0.000" stop-color="#0082ff"/><stop offset="0.086" stop-color="#00d3ff"/><stop offset="0.181" stop-color="#00bbff"/><stop offset="0.267" stop-color="#007eff"/><stop offset="0.333" stop-color="#00ccff"/><stop offset="0.410" stop-color="#00d7ff"/><stop offset="0.448" stop-color="#15ffea"/><stop offset="0.571" stop-color="#ffed00"/><stop offset="0.705" stop-color="#ffb400"/><stop offset="1.000" stop-color="#ff8b00"/></linearGradient><linearGradient id="c108" x1="0" y1="0" x2="0" y2="1"><stop offset="0.000" stop-color="#0021ff"/><stop offset="0.171" stop-color="#007aff"/><stop offset="0.248" stop-color="#007fff"/><stop offset="0.314" stop-color="#00a9ff"/><stop offset="0.362" stop-color="#008cff"/><stop offset="0.438" stop-color="#19ffe6"/><stop offset="0.543" stop-color="#fffd00"/><stop offset="0.629" stop-color="#ff7000"/><stop offset="1.000" stop-color="#ff3f00"/></linearGradient><linearGradient id="c109" x1="0" y1="0" x2="0" y2="1"><stop offset="0.000" stop-color="#0090ff"/><stop offset="0.076" stop-color="#007eff"/><stop offset="0.238" stop-color="#0cfff3"/><stop offset="0.295" stop-color="#2affd5"/><stop offset="0.343" stop-color="#00cfff"/><stop offset="0.400" stop-color="#00adff"/><stop offset="0.438" stop-color="#0efff1"/><stop offset="0.552" stop-color="#fff800"/><stop offset="0.629" stop-color="#ff5c00"/><stop offset="1.000" stop-color="#ff1500"/></linearGradient><linearGradient id="c110" x1="0" y1="0" x2="0" y2="1"><stop offset="0.000" stop-color="#0025ff"/><stop offset="0.095" stop-color="#0000fe"/><stop offset="0.267" stop-color="#00b2ff"/><stop offset="0.343" stop-color="#0036ff"/><stop offset="0.438" stop-color="#09fff6"/><stop offset="0.552" stop-color="#fff400"/><stop offset="0.629" stop-color="#ff5b00"/><stop offset="0.943" stop-color="#f40000"/><stop offset="1.000" stop-color="#eb0000"/></linearGradient><linearGradient id="c111" x1="0" y1="0" x2="0" y2="1"><stop offset="0.000" stop-color="#007aff"/><stop offset="0.086" stop-color="#004bff"/><stop offset="0.152" stop-color="#00c7ff"/><stop offset="0.219" stop-color="#009eff"/><stop offset="0.267" stop-color="#00d7ff"/><stop offset="0.333" stop-color="#006dff"/><stop offset="0.438" stop-color="#11ffee"/><stop offset="0.552" stop-color="#fff900"/><stop offset="0.629" stop-color="#ff5c00"/><stop offset="1.000" stop-color="#ff0900"/></linearGradient><linearGradient id="c112" x1="0" y1="0" x2="0" y2="1"><stop offset="0.000" stop-color="#0069ff"/><stop offset="0.048" stop-color="#0050ff"/><stop offset="0.086" stop-color="#004cff"/><stop offset="0.133" stop-color="#00b6ff"/><stop offset="0.181" stop-color="#0071ff"/><stop offset="0.219" stop-color="#002eff"/><stop offset="0.276" stop-color="#0058ff"/><stop offset="0.333" stop-color="#0023ff"/><stop offset="0.448" stop-color="#05fffa"/><stop offset="0.533" stop-color="#93ff6c"/><stop offset="0.590" stop-color="#ffe300"/><stop offset="0.667" stop-color="#ff6d00"/><stop offset="1.000" stop-color="#ff3d00"/></linearGradient><linearGradient id="c113" x1="0" y1="0" x2="0" y2="1"><stop offset="0.000" stop-color="#001eff"/><stop offset="0.086" stop-color="#0022ff"/><stop offset="0.143" stop-color="#003bff"/><stop offset="0.257" stop-color="#0025ff"/><stop offset="0.352" stop-color="#0003ff"/><stop offset="0.419" stop-color="#0057ff"/><stop offset="0.524" stop-color="#12ffed"/><stop offset="0.638" stop-color="#fff600"/><stop offset="0.695" stop-color="#ffca00"/><stop offset="1.000" stop-color="#ff9500"/></linearGradient><linearGradient id="c114" x1="0" y1="0" x2="0" y2="1"><stop offset="0.000" stop-color="#0000a5"/><stop offset="0.162" stop-color="#0000bc"/><stop offset="0.210" stop-color="#0000fe"/><stop offset="0.276" stop-color="#0000f7"/><stop offset="0.333" stop-color="#0000ec"/><stop offset="0.371" stop-color="#0000d2"/><stop offset="0.429" stop-color="#0027ff"/><stop offset="0.476" stop-color="#00cfff"/><stop offset="0.524" stop-color="#1affe5"/><stop offset="0.638" stop-color="#ffeb00"/><stop offset="0.724" stop-color="#ff9500"/><stop offset="1.000" stop-color="#ff6700"/></linearGradient><linearGradient id="c115" x1="0" y1="0" x2="0" y2="1"><stop offset="0.000" stop-color="#000094"/><stop offset="0.086" stop-color="#0000cf"/><stop offset="0.143" stop-color="#0000b8"/><stop offset="0.210" stop-color="#0009ff"/><stop offset="0.286" stop-color="#0011ff"/><stop offset="0.333" stop-color="#000aff"/><stop offset="0.381" stop-color="#0000f8"/><stop offset="0.438" stop-color="#00e8ff"/><stop offset="0.505" stop-color="#45ffba"/><stop offset="0.590" stop-color="#fffa00"/><stop offset="0.667" stop-color="#ff5c00"/><stop offset="1.000" stop-color="#ff0800"/></linearGradient><linearGradient id="c116" x1="0" y1="0" x2="0" y2="1"><stop offset="0.000" stop-color="#000096"/><stop offset="0.076" stop-color="#0000fc"/><stop offset="0.143" stop-color="#0000e3"/><stop offset="0.210" stop-color="#0022ff"/><stop offset="0.343" stop-color="#0000fd"/><stop offset="0.390" stop-color="#00efff"/><stop offset="0.495" stop-color="#82ff7d"/><stop offset="0.552" stop-color="#fff600"/><stop offset="0.638" stop-color="#ff5500"/><stop offset="0.838" stop-color="#e60000"/><stop offset="1.000" stop-color="#bd0000"/></linearGradient><linearGradient id="c117" x1="0" y1="0" x2="0" y2="1"><stop offset="0.000" stop-color="#0000d5"/><stop offset="0.143" stop-color="#000cff"/><stop offset="0.190" stop-color="#002fff"/><stop offset="0.314" stop-color="#0000ea"/><stop offset="0.352" stop-color="#0007ff"/><stop offset="0.400" stop-color="#01fffe"/><stop offset="0.486" stop-color="#62ff9d"/><stop offset="0.562" stop-color="#ffef00"/><stop offset="0.638" stop-color="#ff5a00"/><stop offset="0.914" stop-color="#f00000"/><stop offset="1.000" stop-color="#e40000"/></linearGradient><linearGradient id="c118" x1="0" y1="0" x2="0" y2="1"><stop offset="0.000" stop-color="#0008ff"/><stop offset="0.057" stop-color="#0017ff"/><stop offset="0.171" stop-color="#001eff"/><stop offset="0.229" stop-color="#0000d6"/><stop offset="0.295" stop-color="#0000ff"/><stop offset="0.381" stop-color="#0014ff"/><stop offset="0.438" stop-color="#00e3ff"/><stop offset="0.486" stop-color="#1dffe2"/><stop offset="0.590" stop-color="#ffff00"/><stop offset="0.676" stop-color="#ff6700"/><stop offset="1.000" stop-color="#ff3600"/></linearGradient><linearGradient id="c119" x1="0" y1="0" x2="0" y2="1"><stop offset="0.000" stop-color="#0000cc"/><stop offset="0.152" stop-color="#0000e2"/><stop offset="0.210" stop-color="#0000ad"/><stop offset="0.267" stop-color="#0014ff"/><stop offset="0.438" stop-color="#0004ff"/><stop offset="0.505" stop-color="#00dbff"/><stop offset="0.552" stop-color="#2dffd2"/><stop offset="0.648" stop-color="#ffff00"/><stop offset="0.676" stop-color="#ffd700"/><stop offset="1.000" stop-color="#ffad00"/></linearGradient><linearGradient id="c120" x1="0" y1="0" x2="0" y2="1"><stop offset="0.000" stop-color="#0000b7"/><stop offset="0.190" stop-color="#0000d5"/><stop offset="0.238" stop-color="#002dff"/><stop offset="0.286" stop-color="#003eff"/><stop offset="0.343" stop-color="#000cff"/><stop offset="0.410" stop-color="#0019ff"/><stop offset="0.467" stop-color="#00d2ff"/><stop offset="0.514" stop-color="#26ffd9"/><stop offset="0.619" stop-color="#fff100"/><stop offset="0.705" stop-color="#ff8500"/><stop offset="1.000" stop-color="#ff5600"/></linearGradient><linearGradient id="c121" x1="0" y1="0" x2="0" y2="1"><stop offset="0.000" stop-color="#00009a"/><stop offset="0.181" stop-color="#0000d4"/><stop offset="0.219" stop-color="#0022ff"/><stop offset="0.276" stop-color="#005bff"/><stop offset="0.343" stop-color="#000bff"/><stop offset="0.381" stop-color="#0042ff"/><stop offset="0.429" stop-color="#00deff"/><stop offset="0.476" stop-color="#1cffe3"/><stop offset="0.590" stop-color="#ffec00"/><stop offset="0.667" stop-color="#ff5b00"/><stop offset="1.000" stop-color="#ff1b00"/></linearGradient><linearGradient id="c122" x1="0" y1="0" x2="0" y2="1"><stop offset="0.000" stop-color="#00009b"/><stop offset="0.057" stop-color="#0000b0"/><stop offset="0.133" stop-color="#0000c7"/><stop offset="0.210" stop-color="#0000e8"/><stop offset="0.286" stop-color="#0034ff"/><stop offset="0.362" stop-color="#0004ff"/><stop offset="0.390" stop-color="#004bff"/><stop offset="0.438" stop-color="#00e1ff"/><stop offset="0.486" stop-color="#26ffd9"/><stop offset="0.590" stop-color="#fff100"/><stop offset="0.667" stop-color="#ff5a00"/><stop offset="1.000" stop-color="#fc0000"/></linearGradient><linearGradient id="c123" x1="0" y1="0" x2="0" y2="1"><stop offset="0.000" stop-color="#0000c0"/><stop offset="0.314" stop-color="#000eff"/><stop offset="0.362" stop-color="#000dff"/><stop offset="0.419" stop-color="#00ceff"/><stop offset="0.457" stop-color="#11ffee"/><stop offset="0.571" stop-color="#ffec00"/><stop offset="0.648" stop-color="#ff5900"/><stop offset="0.924" stop-color="#f20000"/><stop offset="1.000" stop-color="#e70000"/></linearGradient><linearGradient id="c124" x1="0" y1="0" x2="0" y2="1"><stop offset="0.000" stop-color="#0000ff"/><stop offset="0.095" stop-color="#0000c6"/><stop offset="0.133" stop-color="#000bff"/><stop offset="0.171" stop-color="#004eff"/><stop offset="0.248" stop-color="#0030ff"/><stop offset="0.352" stop-color="#0009ff"/><stop offset="0.438" stop-color="#00f0ff"/><stop offset="0.562" stop-color="#fff000"/><stop offset="0.638" stop-color="#ff5b00"/><stop offset="1.000" stop-color="#ff0700"/></linearGradient><linearGradient id="c125" x1="0" y1="0" x2="0" y2="1"><stop offset="0.000" stop-color="#0000fa"/><stop offset="0.086" stop-color="#0000ba"/><stop offset="0.133" stop-color="#000dff"/><stop offset="0.171" stop-color="#0053ff"/><stop offset="0.257" stop-color="#001dff"/><stop offset="0.371" stop-color="#004aff"/><stop offset="0.457" stop-color="#0cfff3"/><stop offset="0.571" stop-color="#fff300"/><stop offset="0.648" stop-color="#ff6800"/><stop offset="1.000" stop-color="#ff3700"/></linearGradient><linearGradient id="c126" x1="0" y1="0" x2="0" y2="1"><stop offset="0.000" stop-color="#0000e0"/><stop offset="0.076" stop-color="#0000d5"/><stop offset="0.133" stop-color="#0023ff"/><stop offset="0.181" stop-color="#004bff"/><stop offset="0.248" stop-color="#0000f7"/><stop offset="0.362" stop-color="#0068ff"/><stop offset="0.400" stop-color="#0045ff"/><stop offset="0.476" stop-color="#00faff"/><stop offset="0.600" stop-color="#feff01"/><stop offset="0.648" stop-color="#ffc500"/><stop offset="1.000" stop-color="#ff8500"/></linearGradient><linearGradient id="c127" x1="0" y1="0" x2="0" y2="1"><stop offset="0.000" stop-color="#004fff"/><stop offset="0.076" stop-color="#0057ff"/><stop offset="0.133" stop-color="#0091ff"/><stop offset="0.219" stop-color="#0058ff"/><stop offset="0.276" stop-color="#005eff"/><stop offset="0.419" stop-color="#008aff"/><stop offset="0.495" stop-color="#0ffff0"/><stop offset="0.610" stop-color="#fffb00"/><stop offset="0.648" stop-color="#ffd100"/><stop offset="1.000" stop-color="#ff9a00"/></linearGradient><linearGradient id="c128" x1="0" y1="0" x2="0" y2="1"><stop offset="0.000" stop-color="#007bff"/><stop offset="0.076" stop-color="#005cff"/><stop offset="0.133" stop-color="#0092ff"/><stop offset="0.238" stop-color="#0031ff"/><stop offset="0.305" stop-color="#001cff"/><stop offset="0.352" stop-color="#000dff"/><stop offset="0.410" stop-color="#007dff"/><stop offset="0.476" stop-color="#0ffff0"/><stop offset="0.590" stop-color="#fff900"/><stop offset="0.676" stop-color="#ff9700"/><stop offset="1.000" stop-color="#ff6700"/></linearGradient><linearGradient id="c129" x1="0" y1="0" x2="0" y2="1"><stop offset="0.000" stop-color="#006eff"/><stop offset="0.076" stop-color="#0056ff"/><stop offset="0.143" stop-color="#00aeff"/><stop offset="0.267" stop-color="#007cff"/><stop offset="0.314" stop-color="#001fff"/><stop offset="0.352" stop-color="#004dff"/><stop offset="0.438" stop-color="#08fff7"/><stop offset="0.562" stop-color="#ffef00"/><stop offset="0.638" stop-color="#ff6a00"/><stop offset="1.000" stop-color="#ff3900"/></linearGradient><linearGradient id="c130" x1="0" y1="0" x2="0" y2="1"><stop offset="0.000" stop-color="#0084ff"/><stop offset="0.076" stop-color="#0071ff"/><stop offset="0.238" stop-color="#00edff"/><stop offset="0.314" stop-color="#008dff"/><stop offset="0.371" stop-color="#07fff8"/><stop offset="0.505" stop-color="#e8ff17"/><stop offset="0.581" stop-color="#ff6c00"/><stop offset="1.000" stop-color="#ff0900"/></linearGradient><linearGradient id="c131" x1="0" y1="0" x2="0" y2="1"><stop offset="0.000" stop-color="#00bbff"/><stop offset="0.057" stop-color="#0060ff"/><stop offset="0.219" stop-color="#00d6ff"/><stop offset="0.286" stop-color="#00d3ff"/><stop offset="0.352" stop-color="#0cfff3"/><stop offset="0.495" stop-color="#fffb00"/><stop offset="0.581" stop-color="#ff5900"/><stop offset="0.933" stop-color="#ee0000"/><stop offset="1.000" stop-color="#e50000"/></linearGradient><linearGradient id="c132" x1="0" y1="0" x2="0" y2="1"><stop offset="0.000" stop-color="#009eff"/><stop offset="0.057" stop-color="#003bff"/><stop offset="0.200" stop-color="#00aaff"/><stop offset="0.257" stop-color="#006dff"/><stop offset="0.333" stop-color="#00dfff"/><stop offset="0.371" stop-color="#29ffd6"/><stop offset="0.429" stop-color="#82ff7d"/><stop offset="0.476" stop-color="#d4ff2b"/><stop offset="0.505" stop-color="#ffe000"/><stop offset="0.571" stop-color="#ff5b00"/><stop offset="0.895" stop-color="#ea0000"/><stop offset="1.000" stop-color="#db0000"/></linearGradient><linearGradient id="c133" x1="0" y1="0" x2="0" y2="1"><stop offset="0.000" stop-color="#0094ff"/><stop offset="0.095" stop-color="#006eff"/><stop offset="0.152" stop-color="#0077ff"/><stop offset="0.200" stop-color="#00d3ff"/><stop offset="0.257" stop-color="#0080ff"/><stop offset="0.371" stop-color="#00c8ff"/><stop offset="0.400" stop-color="#11ffee"/><stop offset="0.486" stop-color="#9cff63"/><stop offset="0.533" stop-color="#ffef00"/><stop offset="0.610" stop-color="#ff5b00"/><stop offset="1.000" stop-color="#ff0300"/></linearGradient><linearGradient id="c134" x1="0" y1="0" x2="0" y2="1"><stop offset="0.000" stop-color="#0034ff"/><stop offset="0.057" stop-color="#0041ff"/><stop offset="0.114" stop-color="#0025ff"/><stop offset="0.200" stop-color="#009dff"/><stop offset="0.267" stop-color="#0061ff"/><stop offset="0.324" stop-color="#005bff"/><stop offset="0.419" stop-color="#16ffe9"/><stop offset="0.524" stop-color="#fff400"/><stop offset="0.600" stop-color="#ff5c00"/><stop offset="1.000" stop-color="#ff1200"/></linearGradient><linearGradient id="c135" x1="0" y1="0" x2="0" y2="1"><stop offset="0.000" stop-color="#0017ff"/><stop offset="0.086" stop-color="#0041ff"/><stop offset="0.171" stop-color="#008dff"/><stop offset="0.238" stop-color="#0037ff"/><stop offset="0.295" stop-color="#005cff"/><stop offset="0.352" stop-color="#002fff"/><stop offset="0.438" stop-color="#00ffff"/><stop offset="0.552" stop-color="#fffd00"/><stop offset="0.638" stop-color="#ff6e00"/><stop offset="1.000" stop-color="#ff3d00"/></linearGradient><linearGradient id="c136" x1="0" y1="0" x2="0" y2="1"><stop offset="0.000" stop-color="#0008ff"/><stop offset="0.086" stop-color="#0050ff"/><stop offset="0.190" stop-color="#0075ff"/><stop offset="0.238" stop-color="#0025ff"/><stop offset="0.295" stop-color="#004aff"/><stop offset="0.343" stop-color="#0000e1"/><stop offset="0.390" stop-color="#0000d4"/><stop offset="0.419" stop-color="#0000f7"/><stop offset="0.486" stop-color="#00ddff"/><stop offset="0.533" stop-color="#30ffcf"/><stop offset="0.629" stop-color="#fffb00"/><stop offset="0.676" stop-color="#ffc700"/><stop offset="1.000" stop-color="#ff8b00"/></linearGradient><linearGradient id="c137" x1="0" y1="0" x2="0" y2="1"><stop offset="0.000" stop-color="#002bff"/><stop offset="0.105" stop-color="#0078ff"/><stop offset="0.162" stop-color="#0074ff"/><stop offset="0.210" stop-color="#0096ff"/><stop offset="0.295" stop-color="#0054ff"/><stop offset="0.324" stop-color="#0000f8"/><stop offset="0.362" stop-color="#0000ab"/><stop offset="0.419" stop-color="#0010ff"/><stop offset="0.514" stop-color="#00f5ff"/><stop offset="0.648" stop-color="#fff000"/><stop offset="0.705" stop-color="#ffdc00"/><stop offset="1.000" stop-color="#ffac00"/></linearGradient><linearGradient id="c138" x1="0" y1="0" x2="0" y2="1"><stop offset="0.000" stop-color="#0000ee"/><stop offset="0.124" stop-color="#0084ff"/><stop offset="0.286" stop-color="#003dff"/><stop offset="0.333" stop-color="#0000ee"/><stop offset="0.371" stop-color="#0000d2"/><stop offset="0.400" stop-color="#0016ff"/><stop offset="0.448" stop-color="#00ceff"/><stop offset="0.495" stop-color="#1fffe0"/><stop offset="0.600" stop-color="#fffb00"/><stop offset="0.686" stop-color="#ff7c00"/><stop offset="1.000" stop-color="#ff4c00"/></linearGradient><linearGradient id="c139" x1="0" y1="0" x2="0" y2="1"><stop offset="0.000" stop-color="#00009e"/><stop offset="0.086" stop-color="#000dff"/><stop offset="0.133" stop-color="#003fff"/><stop offset="0.210" stop-color="#0003ff"/><stop offset="0.295" stop-color="#0000d7"/><stop offset="0.352" stop-color="#0000f6"/><stop offset="0.381" stop-color="#0000f2"/><stop offset="0.429" stop-color="#00c2ff"/><stop offset="0.476" stop-color="#11ffee"/><stop offset="0.590" stop-color="#fff200"/><stop offset="0.667" stop-color="#ff5c00"/><stop offset="1.000" stop-color="#ff1700"/></linearGradient><linearGradient id="c140" x1="0" y1="0" x2="0" y2="1"><stop offset="0.000" stop-color="#0000b6"/><stop offset="0.095" stop-color="#0017ff"/><stop offset="0.133" stop-color="#0040ff"/><stop offset="0.181" stop-color="#0000ec"/><stop offset="0.267" stop-color="#0000ab"/><stop offset="0.324" stop-color="#001aff"/><stop offset="0.371" stop-color="#001aff"/><stop offset="0.390" stop-color="#001fff"/><stop offset="0.448" stop-color="#00c1ff"/><stop offset="0.486" stop-color="#1cffe3"/><stop offset="0.590" stop-color="#ffff00"/><stop offset="0.676" stop-color="#ff5900"/><stop offset="0.971" stop-color="#f90000"/><stop offset="1.000" stop-color="#f50000"/></linearGradient><linearGradient id="c141" x1="0" y1="0" x2="0" y2="1"><stop offset="0.000" stop-color="#0000c4"/><stop offset="0.086" stop-color="#0000ec"/><stop offset="0.143" stop-color="#0019ff"/><stop offset="0.210" stop-color="#0000b7"/><stop offset="0.248" stop-color="#000085"/><stop offset="0.314" stop-color="#0004ff"/><stop offset="0.381" stop-color="#000bff"/><stop offset="0.410" stop-color="#0018ff"/><stop offset="0.486" stop-color="#07fff8"/><stop offset="0.610" stop-color="#fff000"/><stop offset="0.686" stop-color="#ff5a00"/><stop offset="0.981" stop-color="#fc0000"/><stop offset="1.000" stop-color="#f90000"/></linearGradient><linearGradient id="c142" x1="0" y1="0" x2="0" y2="1"><stop offset="0.000" stop-color="#0000b7"/><stop offset="0.048" stop-color="#0000a1"/><stop offset="0.105" stop-color="#0000c3"/><stop offset="0.229" stop-color="#0000a0"/><stop offset="0.267" stop-color="#00008f"/><stop offset="0.352" stop-color="#0000f1"/><stop offset="0.390" stop-color="#000fff"/><stop offset="0.476" stop-color="#05fffa"/><stop offset="0.590" stop-color="#fffb00"/><stop offset="0.667" stop-color="#ff5c00"/><stop offset="1.000" stop-color="#ff1200"/></linearGradient><linearGradient id="c143" x1="0" y1="0" x2="0" y2="1"><stop offset="0.000" stop-color="#0000c7"/><stop offset="0.038" stop-color="#0000b6"/><stop offset="0.086" stop-color="#0000ee"/><stop offset="0.190" stop-color="#0000b8"/><stop offset="0.286" stop-color="#00009a"/><stop offset="0.371" stop-color="#0000f1"/><stop offset="0.400" stop-color="#000dff"/><stop offset="0.448" stop-color="#00beff"/><stop offset="0.486" stop-color="#12ffed"/><stop offset="0.600" stop-color="#fff700"/><stop offset="0.676" stop-color="#ff7100"/><stop offset="1.000" stop-color="#ff4000"/></linearGradient><linearGradient id="c144" x1="0" y1="0" x2="0" y2="1"><stop offset="0.000" stop-color="#0000d9"/><stop offset="0.038" stop-color="#0000e8"/><stop offset="0.114" stop-color="#003fff"/><stop offset="0.200" stop-color="#0012ff"/><stop offset="0.238" stop-color="#0000f0"/><stop offset="0.286" stop-color="#0000a7"/><stop offset="0.362" stop-color="#0011ff"/><stop offset="0.419" stop-color="#001dff"/><stop offset="0.448" stop-color="#0008ff"/><stop offset="0.514" stop-color="#00ddff"/><stop offset="0.562" stop-color="#30ffcf"/><stop offset="0.657" stop-color="#fffb00"/><stop offset="0.695" stop-color="#ffd400"/><stop offset="1.000" stop-color="#ffa200"/></linearGradient><linearGradient id="c145" x1="0" y1="0" x2="0" y2="1"><stop offset="0.000" stop-color="#000080"/><stop offset="0.038" stop-color="#000092"/><stop offset="0.086" stop-color="#0000ff"/><stop offset="0.133" stop-color="#001aff"/><stop offset="0.210" stop-color="#0004ff"/><stop offset="0.257" stop-color="#0000e6"/><stop offset="0.305" stop-color="#0000a7"/><stop offset="0.352" stop-color="#000fff"/><stop offset="0.390" stop-color="#003dff"/><stop offset="0.429" stop-color="#0020ff"/><stop offset="0.495" stop-color="#00deff"/><stop offset="0.543" stop-color="#32ffcd"/><stop offset="0.638" stop-color="#fffa00"/><stop offset="0.714" stop-color="#ffa900"/><stop offset="1.000" stop-color="#ff7800"/></linearGradient><linearGradient id="c146" x1="0" y1="0" x2="0" y2="1"><stop offset="0.000" stop-color="#000080"/><stop offset="0.038" stop-color="#00008c"/><stop offset="0.086" stop-color="#0007ff"/><stop offset="0.162" stop-color="#0000ea"/><stop offset="0.210" stop-color="#0000e3"/><stop offset="0.267" stop-color="#0036ff"/><stop offset="0.324" stop-color="#0000ff"/><stop offset="0.390" stop-color="#0037ff"/><stop offset="0.419" stop-color="#0061ff"/><stop offset="0.467" stop-color="#00dfff"/><stop offset="0.514" stop-color="#27ffd8"/><stop offset="0.619" stop-color="#ffef00"/><stop offset="0.695" stop-color="#ff6c00"/><stop offset="1.000" stop-color="#ff3b00"/></linearGradient><linearGradient id="c147" x1="0" y1="0" x2="0" y2="1"><stop offset="0.000" stop-color="#0000a4"/><stop offset="0.152" stop-color="#0000fc"/><stop offset="0.210" stop-color="#0000e4"/><stop offset="0.238" stop-color="#001aff"/><stop offset="0.276" stop-color="#0058ff"/><stop offset="0.324" stop-color="#0000ef"/><stop offset="0.362" stop-color="#0000c8"/><stop offset="0.390" stop-color="#0000f8"/><stop offset="0.438" stop-color="#00ddff"/><stop offset="0.495" stop-color="#20ffdf"/><stop offset="0.600" stop-color="#fff900"/><stop offset="0.676" stop-color="#ff5c00"/><stop offset="1.000" stop-color="#ff1000"/></linearGradient><linearGradient id="c148" x1="0" y1="0" x2="0" y2="1"><stop offset="0.000" stop-color="#0006ff"/><stop offset="0.076" stop-color="#0000b5"/><stop offset="0.124" stop-color="#001aff"/><stop offset="0.171" stop-color="#0032ff"/><stop offset="0.295" stop-color="#0029ff"/><stop offset="0.324" stop-color="#0000e0"/><stop offset="0.343" stop-color="#0000ac"/><stop offset="0.371" stop-color="#0017ff"/><stop offset="0.400" stop-color="#00c1ff"/><stop offset="0.419" stop-color="#01fffe"/><stop offset="0.552" stop-color="#fffa00"/><stop offset="0.638" stop-color="#ff5700"/><stop offset="0.886" stop-color="#e80000"/><stop offset="1.000" stop-color="#d80000"/></linearGradient><linearGradient id="c149" x1="0" y1="0" x2="0" y2="1"><stop offset="0.000" stop-color="#003eff"/><stop offset="0.038" stop-color="#0000e9"/><stop offset="0.076" stop-color="#0000ee"/><stop offset="0.143" stop-color="#0080ff"/><stop offset="0.276" stop-color="#0040ff"/><stop offset="0.324" stop-color="#0027ff"/><stop offset="0.352" stop-color="#002aff"/><stop offset="0.419" stop-color="#0bfff4"/><stop offset="0.543" stop-color="#fffe00"/><stop offset="0.629" stop-color="#ff5800"/><stop offset="0.867" stop-color="#e70000"/><stop offset="1.000" stop-color="#ce0000"/></linearGradient><linearGradient id="c150" x1="0" y1="0" x2="0" y2="1"><stop offset="0.000" stop-color="#0047ff"/><stop offset="0.057" stop-color="#001fff"/><stop offset="0.124" stop-color="#0066ff"/><stop offset="0.362" stop-color="#0059ff"/><stop offset="0.438" stop-color="#00f8ff"/><stop offset="0.571" stop-color="#ffeb00"/><stop offset="0.648" stop-color="#ff5a00"/><stop offset="1.000" stop-color="#fe0000"/></linearGradient><linearGradient id="c151" x1="0" y1="0" x2="0" y2="1"><stop offset="0.000" stop-color="#0000e5"/><stop offset="0.057" stop-color="#0018ff"/><stop offset="0.105" stop-color="#001bff"/><stop offset="0.181" stop-color="#0000f8"/><stop offset="0.248" stop-color="#0041ff"/><stop offset="0.352" stop-color="#0028ff"/><stop offset="0.419" stop-color="#00d4ff"/><stop offset="0.457" stop-color="#10ffef"/><stop offset="0.571" stop-color="#ffea00"/><stop offset="0.648" stop-color="#ff5c00"/><stop offset="1.000" stop-color="#ff2700"/></linearGradient><linearGradient id="c152" x1="0" y1="0" x2="0" y2="1"><stop offset="0.000" stop-color="#0000bc"/><stop offset="0.057" stop-color="#001dff"/><stop offset="0.095" stop-color="#0036ff"/><stop offset="0.152" stop-color="#0009ff"/><stop offset="0.238" stop-color="#005cff"/><stop offset="0.362" stop-color="#0054ff"/><stop offset="0.419" stop-color="#00e6ff"/><stop offset="0.467" stop-color="#1effe1"/><stop offset="0.571" stop-color="#fff800"/><stop offset="0.657" stop-color="#ff8d00"/><stop offset="1.000" stop-color="#ff5c00"/></linearGradient><linearGradient id="c153" x1="0" y1="0" x2="0" y2="1"><stop offset="0.000" stop-color="#0000ce"/><stop offset="0.048" stop-color="#0012ff"/><stop offset="0.086" stop-color="#005aff"/><stop offset="0.162" stop-color="#0039ff"/><stop offset="0.295" stop-color="#005fff"/><stop offset="0.352" stop-color="#007cff"/><stop offset="0.410" stop-color="#00fcff"/><stop offset="0.476" stop-color="#32ffcd"/><stop offset="0.571" stop-color="#fff800"/><stop offset="0.610" stop-color="#ffdb00"/><stop offset="1.000" stop-color="#ffb200"/></linearGradient><linearGradient id="c154" x1="0" y1="0" x2="0" y2="1"><stop offset="0.000" stop-color="#0013ff"/><stop offset="0.038" stop-color="#000fff"/><stop offset="0.095" stop-color="#0066ff"/><stop offset="0.171" stop-color="#003cff"/><stop offset="0.276" stop-color="#0096ff"/><stop offset="0.324" stop-color="#007cff"/><stop offset="0.390" stop-color="#09fff6"/><stop offset="0.505" stop-color="#cbff34"/><stop offset="0.543" stop-color="#ffd700"/><stop offset="0.619" stop-color="#ff8900"/><stop offset="1.000" stop-color="#ff5900"/></linearGradient><linearGradient id="c155" x1="0" y1="0" x2="0" y2="1"><stop offset="0.000" stop-color="#0088ff"/><stop offset="0.038" stop-color="#0054ff"/><stop offset="0.105" stop-color="#00ccff"/><stop offset="0.181" stop-color="#00beff"/><stop offset="0.276" stop-color="#04fffb"/><stop offset="0.381" stop-color="#00ceff"/><stop offset="0.419" stop-color="#24ffdb"/><stop offset="0.533" stop-color="#ffea00"/><stop offset="0.610" stop-color="#ff6100"/><stop offset="1.000" stop-color="#ff3000"/></linearGradient><linearGradient id="c156" x1="0" y1="0" x2="0" y2="1"><stop offset="0.000" stop-color="#0097ff"/><stop offset="0.057" stop-color="#007fff"/><stop offset="0.124" stop-color="#00ecff"/><stop offset="0.343" stop-color="#00edff"/><stop offset="0.381" stop-color="#00aaff"/><stop offset="0.419" stop-color="#0ffff0"/><stop offset="0.543" stop-color="#ffee00"/><stop offset="0.619" stop-color="#ff5c00"/><stop offset="1.000" stop-color="#ff1500"/></linearGradient><linearGradient id="c157" x1="0" y1="0" x2="0" y2="1"><stop offset="0.000" stop-color="#0055ff"/><stop offset="0.086" stop-color="#0060ff"/><stop offset="0.162" stop-color="#009aff"/><stop offset="0.248" stop-color="#008bff"/><stop offset="0.305" stop-color="#0073ff"/><stop offset="0.390" stop-color="#00e6ff"/><stop offset="0.467" stop-color="#81ff7e"/><stop offset="0.533" stop-color="#fff400"/><stop offset="0.610" stop-color="#ff5b00"/><stop offset="0.971" stop-color="#f40000"/><stop offset="1.000" stop-color="#f00000"/></linearGradient><linearGradient id="c158" x1="0" y1="0" x2="0" y2="1"><stop offset="0.000" stop-color="#00cdff"/><stop offset="0.067" stop-color="#00c0ff"/><stop offset="0.143" stop-color="#16ffe9"/><stop offset="0.248" stop-color="#00f5ff"/><stop offset="0.295" stop-color="#00aaff"/><stop offset="0.400" stop-color="#14ffeb"/><stop offset="0.524" stop-color="#ffec00"/><stop offset="0.600" stop-color="#ff5a00"/><stop offset="0.952" stop-color="#f20000"/><stop offset="1.000" stop-color="#eb0000"/></linearGradient><linearGradient id="c159" x1="0" y1="0" x2="0" y2="1"><stop offset="0.000" stop-color="#0059ff"/><stop offset="0.086" stop-color="#005cff"/><stop offset="0.162" stop-color="#0080ff"/><stop offset="0.248" stop-color="#0057ff"/><stop offset="0.295" stop-color="#0011ff"/><stop offset="0.371" stop-color="#00b2ff"/><stop offset="0.429" stop-color="#0bfff4"/><stop offset="0.543" stop-color="#ffef00"/><stop offset="0.619" stop-color="#ff5b00"/><stop offset="1.000" stop-color="#ff0e00"/></linearGradient><linearGradient id="c160" x1="0" y1="0" x2="0" y2="1"><stop offset="0.000" stop-color="#0021ff"/><stop offset="0.229" stop-color="#0000f0"/><stop offset="0.286" stop-color="#0000d3"/><stop offset="0.324" stop-color="#0027ff"/><stop offset="0.371" stop-color="#0012ff"/><stop offset="0.457" stop-color="#01fffe"/><stop offset="0.581" stop-color="#ffee00"/><stop offset="0.657" stop-color="#ff7200"/><stop offset="1.000" stop-color="#ff4100"/></linearGradient><linearGradient id="c161" x1="0" y1="0" x2="0" y2="1"><stop offset="0.000" stop-color="#006bff"/><stop offset="0.067" stop-color="#0040ff"/><stop offset="0.133" stop-color="#004dff"/><stop offset="0.219" stop-color="#004eff"/><stop offset="0.257" stop-color="#001bff"/><stop offset="0.324" stop-color="#00a0ff"/><stop offset="0.390" stop-color="#0041ff"/><stop offset="0.429" stop-color="#0063ff"/><stop offset="0.514" stop-color="#0ffff0"/><stop offset="0.629" stop-color="#fffc00"/><stop offset="0.676" stop-color="#ffc600"/><stop offset="1.000" stop-color="#ff8900"/></linearGradient><linearGradient id="c162" x1="0" y1="0" x2="0" y2="1"><stop offset="0.000" stop-color="#0012ff"/><stop offset="0.067" stop-color="#000aff"/><stop offset="0.114" stop-color="#0021ff"/><stop offset="0.181" stop-color="#000aff"/><stop offset="0.238" stop-color="#0000e4"/><stop offset="0.267" stop-color="#0000e3"/><stop offset="0.333" stop-color="#0049ff"/><stop offset="0.419" stop-color="#001aff"/><stop offset="0.476" stop-color="#00d2ff"/><stop offset="0.524" stop-color="#24ffdb"/><stop offset="0.629" stop-color="#fff400"/><stop offset="0.695" stop-color="#ffc200"/><stop offset="1.000" stop-color="#ff8f00"/></linearGradient><linearGradient id="c163" x1="0" y1="0" x2="0" y2="1"><stop offset="0.000" stop-color="#0000d0"/><stop offset="0.048" stop-color="#0000a6"/><stop offset="0.124" stop-color="#0000fd"/><stop offset="0.229" stop-color="#0000bc"/><stop offset="0.267" stop-color="#0000b2"/><stop offset="0.314" stop-color="#0000e8"/><stop offset="0.390" stop-color="#0000e5"/><stop offset="0.410" stop-color="#0024ff"/><stop offset="0.448" stop-color="#00cdff"/><stop offset="0.505" stop-color="#27ffd8"/><stop offset="0.610" stop-color="#fff000"/><stop offset="0.686" stop-color="#ff7100"/><stop offset="1.000" stop-color="#ff4000"/></linearGradient><linearGradient id="c164" x1="0" y1="0" x2="0" y2="1"><stop offset="0.000" stop-color="#0000d7"/><stop offset="0.048" stop-color="#000096"/><stop offset="0.114" stop-color="#000dff"/><stop offset="0.200" stop-color="#0000ec"/><stop offset="0.257" stop-color="#0000c8"/><stop offset="0.305" stop-color="#0000e1"/><stop offset="0.371" stop-color="#0000b7"/><stop offset="0.419" stop-color="#0000f3"/><stop offset="0.476" stop-color="#00d4ff"/><stop offset="0.524" stop-color="#22ffdd"/><stop offset="0.629" stop-color="#fff800"/><stop offset="0.705" stop-color="#ff5c00"/><stop offset="1.000" stop-color="#ff2000"/></linearGradient><linearGradient id="c165" x1="0" y1="0" x2="0" y2="1"><stop offset="0.000" stop-color="#0000d5"/><stop offset="0.048" stop-color="#0000b0"/><stop offset="0.114" stop-color="#0007ff"/><stop offset="0.238" stop-color="#0000e2"/><stop offset="0.295" stop-color="#0000f2"/><stop offset="0.371" stop-color="#0000e5"/><stop offset="0.400" stop-color="#0002ff"/><stop offset="0.448" stop-color="#00d3ff"/><stop offset="0.495" stop-color="#1dffe2"/><stop offset="0.600" stop-color="#fffe00"/><stop offset="0.686" stop-color="#ff5800"/><stop offset="0.933" stop-color="#f50000"/><stop offset="1.000" stop-color="#eb0000"/></linearGradient><linearGradient id="c166" x1="0" y1="0" x2="0" y2="1"><stop offset="0.000" stop-color="#0000d1"/><stop offset="0.114" stop-color="#0000de"/><stop offset="0.171" stop-color="#0000b6"/><stop offset="0.267" stop-color="#000fff"/><stop offset="0.343" stop-color="#001eff"/><stop offset="0.390" stop-color="#0021ff"/><stop offset="0.448" stop-color="#00d4ff"/><stop offset="0.495" stop-color="#26ffd9"/><stop offset="0.600" stop-color="#fff200"/><stop offset="0.676" stop-color="#ff5b00"/><stop offset="1.000" stop-color="#ff0b00"/></linearGradient><linearGradient id="c167" x1="0" y1="0" x2="0" y2="1"><stop offset="0.000" stop-color="#0000c2"/><stop offset="0.086" stop-color="#0000e1"/><stop offset="0.162" stop-color="#0000f0"/><stop offset="0.314" stop-color="#0018ff"/><stop offset="0.371" stop-color="#002eff"/><stop offset="0.400" stop-color="#0010ff"/><stop offset="0.467" stop-color="#00dcff"/><stop offset="0.505" stop-color="#25ffda"/><stop offset="0.610" stop-color="#fff200"/><stop offset="0.686" stop-color="#ff6c00"/><stop offset="1.000" stop-color="#ff3b00"/></linearGradient><linearGradient id="c168" x1="0" y1="0" x2="0" y2="1"><stop offset="0.000" stop-color="#00008f"/><stop offset="0.057" stop-color="#0000d8"/><stop offset="0.124" stop-color="#0000c1"/><stop offset="0.190" stop-color="#0000f4"/><stop offset="0.248" stop-color="#0000ab"/><stop offset="0.333" stop-color="#0013ff"/><stop offset="0.438" stop-color="#000bff"/><stop offset="0.495" stop-color="#00dbff"/><stop offset="0.543" stop-color="#2dffd2"/><stop offset="0.638" stop-color="#ffff00"/><stop offset="0.676" stop-color="#ffcd00"/><stop offset="1.000" stop-color="#ff8d00"/></linearGradient><linearGradient id="c169" x1="0" y1="0" x2="0" y2="1"><stop offset="0.000" stop-color="#000080"/><stop offset="0.057" stop-color="#0000c5"/><stop offset="0.133" stop-color="#0000bd"/><stop offset="0.248" stop-color="#00009f"/><stop offset="0.352" stop-color="#000eff"/><stop offset="0.410" stop-color="#001aff"/><stop offset="0.429" stop-color="#000eff"/><stop offset="0.495" stop-color="#00dfff"/><stop offset="0.543" stop-color="#32ffcd"/><stop offset="0.638" stop-color="#fff900"/><stop offset="0.714" stop-color="#ffab00"/><stop offset="1.000" stop-color="#ff7a00"/></linearGradient><linearGradient id="c170" x1="0" y1="0" x2="0" y2="1"><stop offset="0.000" stop-color="#0000a0"/><stop offset="0.057" stop-color="#0000dd"/><stop offset="0.210" stop-color="#0000c2"/><stop offset="0.333" stop-color="#0011ff"/><stop offset="0.381" stop-color="#0042ff"/><stop offset="0.410" stop-color="#002cff"/><stop offset="0.467" stop-color="#00d5ff"/><stop offset="0.514" stop-color="#26ffd9"/><stop offset="0.619" stop-color="#fff100"/><stop offset="0.695" stop-color="#ff6c00"/><stop offset="1.000" stop-color="#ff3b00"/></linearGradient><linearGradient id="c171" x1="0" y1="0" x2="0" y2="1"><stop offset="0.000" stop-color="#000097"/><stop offset="0.076" stop-color="#0000df"/><stop offset="0.190" stop-color="#0000b4"/><stop offset="0.257" stop-color="#0000e9"/><stop offset="0.324" stop-color="#0015ff"/><stop offset="0.371" stop-color="#0043ff"/><stop offset="0.410" stop-color="#0000fb"/><stop offset="0.448" stop-color="#007aff"/><stop offset="0.486" stop-color="#00ebff"/><stop offset="0.581" stop-color="#a3ff5c"/><stop offset="0.629" stop-color="#ffe700"/><stop offset="0.705" stop-color="#ff5a00"/><stop offset="1.000" stop-color="#ff1900"/></linearGradient><linearGradient id="c172" x1="0" y1="0" x2="0" y2="1"><stop offset="0.000" stop-color="#000091"/><stop offset="0.105" stop-color="#0000eb"/><stop offset="0.190" stop-color="#0000ba"/><stop offset="0.248" stop-color="#0000d6"/><stop offset="0.295" stop-color="#0000c1"/><stop offset="0.362" stop-color="#0000f7"/><stop offset="0.400" stop-color="#0000e6"/><stop offset="0.419" stop-color="#002dff"/><stop offset="0.457" stop-color="#00c7ff"/><stop offset="0.495" stop-color="#1bffe4"/><stop offset="0.610" stop-color="#ffea00"/><stop offset="0.686" stop-color="#ff5900"/><stop offset="0.990" stop-color="#fc0000"/><stop offset="1.000" stop-color="#fb0000"/></linearGradient><linearGradient id="c173" x1="0" y1="0" x2="0" y2="1"><stop offset="0.000" stop-color="#0000e0"/><stop offset="0.057" stop-color="#0000ef"/><stop offset="0.114" stop-color="#0022ff"/><stop offset="0.181" stop-color="#0000ee"/><stop offset="0.257" stop-color="#0000ea"/><stop offset="0.305" stop-color="#0000cd"/><stop offset="0.381" stop-color="#0000b0"/><stop offset="0.400" stop-color="#0000f8"/><stop offset="0.448" stop-color="#00caff"/><stop offset="0.476" stop-color="#0dfff2"/><stop offset="0.590" stop-color="#fffe00"/><stop offset="0.676" stop-color="#ff5b00"/><stop offset="1.000" stop-color="#ff1b00"/></linearGradient><linearGradient id="c174" x1="0" y1="0" x2="0" y2="1"><stop offset="0.000" stop-color="#000bff"/><stop offset="0.048" stop-color="#0000d0"/><stop offset="0.095" stop-color="#002dff"/><stop offset="0.210" stop-color="#0003ff"/><stop offset="0.343" stop-color="#0000da"/><stop offset="0.381" stop-color="#0000d6"/><stop offset="0.390" stop-color="#0002ff"/><stop offset="0.438" stop-color="#00c9ff"/><stop offset="0.476" stop-color="#18ffe7"/><stop offset="0.590" stop-color="#fff400"/><stop offset="0.667" stop-color="#ff7800"/><stop offset="1.000" stop-color="#ff4700"/></linearGradient><linearGradient id="c175" x1="0" y1="0" x2="0" y2="1"><stop offset="0.000" stop-color="#006cff"/><stop offset="0.048" stop-color="#0029ff"/><stop offset="0.114" stop-color="#0070ff"/><stop offset="0.190" stop-color="#0045ff"/><stop offset="0.286" stop-color="#0067ff"/><stop offset="0.381" stop-color="#006aff"/><stop offset="0.476" stop-color="#12ffed"/><stop offset="0.590" stop-color="#fffb00"/><stop offset="0.638" stop-color="#ffc800"/><stop offset="1.000" stop-color="#ff8c00"/></linearGradient><linearGradient id="c176" x1="0" y1="0" x2="0" y2="1"><stop offset="0.000" stop-color="#0045ff"/><stop offset="0.057" stop-color="#001bff"/><stop offset="0.171" stop-color="#002fff"/><stop offset="0.229" stop-color="#004cff"/><stop offset="0.305" stop-color="#0064ff"/><stop offset="0.343" stop-color="#005bff"/><stop offset="0.400" stop-color="#00f0ff"/><stop offset="0.448" stop-color="#1effe1"/><stop offset="0.552" stop-color="#fffd00"/><stop offset="0.638" stop-color="#ff7b00"/><stop offset="1.000" stop-color="#ff4b00"/></linearGradient><linearGradient id="c177" x1="0" y1="0" x2="0" y2="1"><stop offset="0.000" stop-color="#00e0ff"/><stop offset="0.095" stop-color="#00afff"/><stop offset="0.229" stop-color="#0efff1"/><stop offset="0.276" stop-color="#57ffa8"/><stop offset="0.343" stop-color="#00f0ff"/><stop offset="0.400" stop-color="#4cffb3"/><stop offset="0.448" stop-color="#76ff89"/><stop offset="0.514" stop-color="#ffe700"/><stop offset="0.590" stop-color="#ff5a00"/><stop offset="0.990" stop-color="#f50000"/><stop offset="1.000" stop-color="#f30000"/></linearGradient><linearGradient id="c178" x1="0" y1="0" x2="0" y2="1"><stop offset="0.000" stop-color="#0058ff"/><stop offset="0.086" stop-color="#001aff"/><stop offset="0.181" stop-color="#0075ff"/><stop offset="0.305" stop-color="#00d1ff"/><stop offset="0.362" stop-color="#18ffe7"/><stop offset="0.467" stop-color="#e4ff1b"/><stop offset="0.543" stop-color="#ff7200"/><stop offset="0.810" stop-color="#ea0000"/><stop offset="1.000" stop-color="#b80000"/></linearGradient><linearGradient id="c179" x1="0" y1="0" x2="0" y2="1"><stop offset="0.000" stop-color="#003fff"/><stop offset="0.086" stop-color="#0028ff"/><stop offset="0.152" stop-color="#007cff"/><stop offset="0.276" stop-color="#005fff"/><stop offset="0.333" stop-color="#00b8ff"/><stop offset="0.371" stop-color="#1bffe4"/><stop offset="0.476" stop-color="#fff100"/><stop offset="0.552" stop-color="#ff5b00"/><stop offset="0.848" stop-color="#e70000"/><stop offset="1.000" stop-color="#c80000"/></linearGradient><linearGradient id="c180" x1="0" y1="0" x2="0" y2="1"><stop offset="0.000" stop-color="#000dff"/><stop offset="0.067" stop-color="#0047ff"/><stop offset="0.162" stop-color="#0077ff"/><stop offset="0.238" stop-color="#0055ff"/><stop offset="0.286" stop-color="#003cff"/><stop offset="0.352" stop-color="#00f6ff"/><stop offset="0.410" stop-color="#45ffba"/><stop offset="0.495" stop-color="#fffb00"/><stop offset="0.571" stop-color="#ff5d00"/><stop offset="1.000" stop-color="#ff0b00"/></linearGradient><linearGradient id="c181" x1="0" y1="0" x2="0" y2="1"><stop offset="0.000" stop-color="#0000eb"/><stop offset="0.067" stop-color="#003bff"/><stop offset="0.152" stop-color="#0083ff"/><stop offset="0.286" stop-color="#0074ff"/><stop offset="0.362" stop-color="#00ceff"/><stop offset="0.429" stop-color="#1affe5"/><stop offset="0.552" stop-color="#fff000"/><stop offset="0.648" stop-color="#ffa600"/><stop offset="1.000" stop-color="#ff7700"/></linearGradient><linearGradient id="c182" x1="0" y1="0" x2="0" y2="1"><stop offset="0.000" stop-color="#0000e0"/><stop offset="0.086" stop-color="#0001ff"/><stop offset="0.133" stop-color="#0086ff"/><stop offset="0.305" stop-color="#007aff"/><stop offset="0.429" stop-color="#11ffee"/><stop offset="0.552" stop-color="#fff100"/><stop offset="0.648" stop-color="#ffa600"/><stop offset="1.000" stop-color="#ff7700"/></linearGradient><linearGradient id="c183" x1="0" y1="0" x2="0" y2="1"><stop offset="0.000" stop-color="#0000fb"/><stop offset="0.057" stop-color="#0000d5"/><stop offset="0.086" stop-color="#0010ff"/><stop offset="0.133" stop-color="#00aaff"/><stop offset="0.295" stop-color="#0071ff"/><stop offset="0.362" stop-color="#00a4ff"/><stop offset="0.448" stop-color="#12ffed"/><stop offset="0.562" stop-color="#ffed00"/><stop offset="0.638" stop-color="#ff7e00"/><stop offset="1.000" stop-color="#ff4d00"/></linearGradient><linearGradient id="c184" x1="0" y1="0" x2="0" y2="1"><stop offset="0.000" stop-color="#0042ff"/><stop offset="0.048" stop-color="#002cff"/><stop offset="0.143" stop-color="#00ccff"/><stop offset="0.286" stop-color="#008fff"/><stop offset="0.448" stop-color="#00f2ff"/><stop offset="0.581" stop-color="#fff200"/><stop offset="0.657" stop-color="#ff6600"/><stop offset="1.000" stop-color="#ff3500"/></linearGradient><linearGradient id="c185" x1="0" y1="0" x2="0" y2="1"><stop offset="0.000" stop-color="#0000d7"/><stop offset="0.057" stop-color="#0000ed"/><stop offset="0.133" stop-color="#0016ff"/><stop offset="0.190" stop-color="#0048ff"/><stop offset="0.257" stop-color="#0000f3"/><stop offset="0.343" stop-color="#0014ff"/><stop offset="0.400" stop-color="#00f3ff"/><stop offset="0.476" stop-color="#58ffa7"/><stop offset="0.552" stop-color="#fffe00"/><stop offset="0.638" stop-color="#ff5a00"/><stop offset="1.000" stop-color="#ff0700"/></linearGradient><linearGradient id="c186" x1="0" y1="0" x2="0" y2="1"><stop offset="0.000" stop-color="#0000f9"/><stop offset="0.124" stop-color="#001bff"/><stop offset="0.181" stop-color="#008cff"/><stop offset="0.257" stop-color="#0009ff"/><stop offset="0.352" stop-color="#002cff"/><stop offset="0.400" stop-color="#00ddff"/><stop offset="0.457" stop-color="#2dffd2"/><stop offset="0.562" stop-color="#fff300"/><stop offset="0.638" stop-color="#ff5b00"/><stop offset="0.952" stop-color="#f40000"/><stop offset="1.000" stop-color="#ed0000"/></linearGradient><linearGradient id="c187" x1="0" y1="0" x2="0" y2="1"><stop offset="0.000" stop-color="#0000ac"/><stop offset="0.114" stop-color="#0000d5"/><stop offset="0.143" stop-color="#001fff"/><stop offset="0.181" stop-color="#004fff"/><stop offset="0.229" stop-color="#0000e8"/><stop offset="0.257" stop-color="#0000c8"/><stop offset="0.314" stop-color="#000eff"/><stop offset="0.362" stop-color="#0017ff"/><stop offset="0.410" stop-color="#00ddff"/><stop offset="0.467" stop-color="#31ffce"/><stop offset="0.571" stop-color="#ffeb00"/><stop offset="0.648" stop-color="#ff5900"/><stop offset="0.924" stop-color="#ef0000"/><stop offset="1.000" stop-color="#e40000"/></linearGradient><linearGradient id="c188" x1="0" y1="0" x2="0" y2="1"><stop offset="0.000" stop-color="#0000aa"/><stop offset="0.124" stop-color="#0018ff"/><stop offset="0.190" stop-color="#003cff"/><stop offset="0.229" stop-color="#0000d7"/><stop offset="0.257" stop-color="#0000b7"/><stop offset="0.295" stop-color="#0019ff"/><stop offset="0.324" stop-color="#0040ff"/><stop offset="0.371" stop-color="#0000ff"/><stop offset="0.400" stop-color="#005cff"/><stop offset="0.438" stop-color="#00e1ff"/><stop offset="0.495" stop-color="#3bffc4"/><stop offset="0.590" stop-color="#ffee00"/><stop offset="0.667" stop-color="#ff5a00"/><stop offset="1.000" stop-color="#ff0400"/></linearGradient><linearGradient id="c189" x1="0" y1="0" x2="0" y2="1"><stop offset="0.000" stop-color="#0000d7"/><stop offset="0.057" stop-color="#0000e6"/><stop offset="0.133" stop-color="#0044ff"/><stop offset="0.200" stop-color="#0015ff"/><stop offset="0.257" stop-color="#0000c8"/><stop offset="0.295" stop-color="#0013ff"/><stop offset="0.324" stop-color="#002bff"/><stop offset="0.362" stop-color="#0000d7"/><stop offset="0.410" stop-color="#0004ff"/><stop offset="0.457" stop-color="#00c9ff"/><stop offset="0.514" stop-color="#26ffd9"/><stop offset="0.619" stop-color="#fff200"/><stop offset="0.695" stop-color="#ff5c00"/><stop offset="1.000" stop-color="#ff2b00"/></linearGradient><linearGradient id="c190" x1="0" y1="0" x2="0" y2="1"><stop offset="0.000" stop-color="#0000c9"/><stop offset="0.057" stop-color="#0000b4"/><stop offset="0.124" stop-color="#000bff"/><stop offset="0.229" stop-color="#0000d2"/><stop offset="0.324" stop-color="#000fff"/><stop offset="0.381" stop-color="#0000d1"/><stop offset="0.410" stop-color="#0012ff"/><stop offset="0.457" stop-color="#00cdff"/><stop offset="0.505" stop-color="#23ffdc"/><stop offset="0.610" stop-color="#fff600"/><stop offset="0.686" stop-color="#ff7300"/><stop offset="1.000" stop-color="#ff4100"/></linearGradient><linearGradient id="c191" x1="0" y1="0" x2="0" y2="1"><stop offset="0.000" stop-color="#0000f4"/><stop offset="0.133" stop-color="#001dff"/><stop offset="0.190" stop-color="#0000df"/><stop offset="0.295" stop-color="#0033ff"/><stop offset="0.343" stop-color="#002bff"/><stop offset="0.381" stop-color="#0000dd"/><stop offset="0.400" stop-color="#0000e7"/><stop offset="0.429" stop-color="#006cff"/><stop offset="0.457" stop-color="#00d5ff"/><stop offset="0.505" stop-color="#2bffd4"/><stop offset="0.610" stop-color="#ffeb00"/><stop offset="0.695" stop-color="#ff9000"/><stop offset="1.000" stop-color="#ff6100"/></linearGradient><linearGradient id="c192" x1="0" y1="0" x2="0" y2="1"><stop offset="0.000" stop-color="#0000dd"/><stop offset="0.114" stop-color="#0000f9"/><stop offset="0.190" stop-color="#0000eb"/><stop offset="0.305" stop-color="#001dff"/><stop offset="0.343" stop-color="#003dff"/><stop offset="0.381" stop-color="#0000e3"/><stop offset="0.410" stop-color="#0000dd"/><stop offset="0.429" stop-color="#003bff"/><stop offset="0.467" stop-color="#00d4ff"/><stop offset="0.514" stop-color="#25ffda"/><stop offset="0.619" stop-color="#fff300"/><stop offset="0.667" stop-color="#ffd700"/><stop offset="1.000" stop-color="#ffa600"/></linearGradient><linearGradient id="c193" x1="0" y1="0" x2="0" y2="1"><stop offset="0.000" stop-color="#0000fc"/><stop offset="0.267" stop-color="#0000f4"/><stop offset="0.352" stop-color="#0026ff"/><stop offset="0.390" stop-color="#0012ff"/><stop offset="0.448" stop-color="#00d8ff"/><stop offset="0.495" stop-color="#2affd5"/><stop offset="0.600" stop-color="#ffeb00"/><stop offset="0.676" stop-color="#ff6e00"/><stop offset="1.000" stop-color="#ff3d00"/></linearGradient><linearGradient id="c194" x1="0" y1="0" x2="0" y2="1"><stop offset="0.000" stop-color="#0000c1"/><stop offset="0.257" stop-color="#0000ea"/><stop offset="0.381" stop-color="#0029ff"/><stop offset="0.438" stop-color="#00d6ff"/><stop offset="0.486" stop-color="#28ffd7"/><stop offset="0.590" stop-color="#ffef00"/><stop offset="0.667" stop-color="#ff5a00"/><stop offset="1.000" stop-color="#ff0200"/></linearGradient><linearGradient id="c195" x1="0" y1="0" x2="0" y2="1"><stop offset="0.000" stop-color="#000085"/><stop offset="0.095" stop-color="#0000c7"/><stop offset="0.152" stop-color="#0019ff"/><stop offset="0.190" stop-color="#0021ff"/><stop offset="0.248" stop-color="#0000d9"/><stop offset="0.362" stop-color="#0002ff"/><stop offset="0.419" stop-color="#00c5ff"/><stop offset="0.457" stop-color="#0ffff0"/><stop offset="0.571" stop-color="#fff300"/><stop offset="0.648" stop-color="#ff5a00"/><stop offset="0.933" stop-color="#f40000"/><stop offset="1.000" stop-color="#ea0000"/></linearGradient><linearGradient id="c196" x1="0" y1="0" x2="0" y2="1"><stop offset="0.000" stop-color="#0000c1"/><stop offset="0.057" stop-color="#0004ff"/><stop offset="0.114" stop-color="#0017ff"/><stop offset="0.171" stop-color="#0082ff"/><stop offset="0.276" stop-color="#0000f0"/><stop offset="0.343" stop-color="#0000f9"/><stop offset="0.371" stop-color="#0000c3"/><stop offset="0.390" stop-color="#000bff"/><stop offset="0.429" stop-color="#00baff"/><stop offset="0.467" stop-color="#0dfff2"/><stop offset="0.581" stop-color="#fff700"/><stop offset="0.657" stop-color="#ff5d00"/><stop offset="1.000" stop-color="#ff2700"/></linearGradient><linearGradient id="c197" x1="0" y1="0" x2="0" y2="1"><stop offset="0.000" stop-color="#0000e3"/><stop offset="0.105" stop-color="#0019ff"/><stop offset="0.171" stop-color="#0078ff"/><stop offset="0.343" stop-color="#0000f3"/><stop offset="0.381" stop-color="#0000d2"/><stop offset="0.419" stop-color="#0006ff"/><stop offset="0.476" stop-color="#00cbff"/><stop offset="0.524" stop-color="#1dffe2"/><stop offset="0.629" stop-color="#fffd00"/><stop offset="0.667" stop-color="#ffd000"/><stop offset="1.000" stop-color="#ff9600"/></linearGradient><linearGradient id="c198" x1="0" y1="0" x2="0" y2="1"><stop offset="0.000" stop-color="#0000d8"/><stop offset="0.086" stop-color="#0000de"/><stop offset="0.133" stop-color="#001bff"/><stop offset="0.181" stop-color="#0048ff"/><stop offset="0.324" stop-color="#0000f4"/><stop offset="0.371" stop-color="#0000c4"/><stop offset="0.419" stop-color="#0006ff"/><stop offset="0.476" stop-color="#00d3ff"/><stop offset="0.524" stop-color="#25ffda"/><stop offset="0.629" stop-color="#fff200"/><stop offset="0.724" stop-color="#ffa500"/><stop offset="1.000" stop-color="#ff7800"/></linearGradient><linearGradient id="c199" x1="0" y1="0" x2="0" y2="1"><stop offset="0.000" stop-color="#0000eb"/><stop offset="0.067" stop-color="#0000e7"/><stop offset="0.200" stop-color="#005dff"/><stop offset="0.286" stop-color="#0029ff"/><stop offset="0.352" stop-color="#0000f7"/><stop offset="0.419" stop-color="#00c3ff"/><stop offset="0.457" stop-color="#17ffe8"/><stop offset="0.562" stop-color="#fff100"/><stop offset="0.638" stop-color="#ff5c00"/><stop offset="1.000" stop-color="#ff2600"/></linearGradient><linearGradient id="c200" x1="0" y1="0" x2="0" y2="1"><stop offset="0.000" stop-color="#0008ff"/><stop offset="0.076" stop-color="#0016ff"/><stop offset="0.200" stop-color="#0084ff"/><stop offset="0.276" stop-color="#0050ff"/><stop offset="0.362" stop-color="#007dff"/><stop offset="0.448" stop-color="#15ffea"/><stop offset="0.543" stop-color="#fffc00"/><stop offset="0.619" stop-color="#ff5c00"/><stop offset="1.000" stop-color="#ff0000"/></linearGradient><linearGradient id="c201" x1="0" y1="0" x2="0" y2="1"><stop offset="0.000" stop-color="#0009ff"/><stop offset="0.057" stop-color="#0000ed"/><stop offset="0.162" stop-color="#0057ff"/><stop offset="0.219" stop-color="#0060ff"/><stop offset="0.276" stop-color="#0038ff"/><stop offset="0.429" stop-color="#15ffea"/><stop offset="0.533" stop-color="#fff900"/><stop offset="0.610" stop-color="#ff5b00"/><stop offset="0.914" stop-color="#ec0000"/><stop offset="1.000" stop-color="#e00000"/></linearGradient><linearGradient id="c202" x1="0" y1="0" x2="0" y2="1"><stop offset="0.000" stop-color="#004dff"/><stop offset="0.057" stop-color="#0025ff"/><stop offset="0.152" stop-color="#0094ff"/><stop offset="0.219" stop-color="#0099ff"/><stop offset="0.286" stop-color="#005bff"/><stop offset="0.362" stop-color="#00c3ff"/><stop offset="0.390" stop-color="#12ffed"/><stop offset="0.505" stop-color="#fff900"/><stop offset="0.590" stop-color="#ff5700"/><stop offset="0.848" stop-color="#e40000"/><stop offset="1.000" stop-color="#c40000"/></linearGradient><linearGradient id="c203" x1="0" y1="0" x2="0" y2="1"><stop offset="0.000" stop-color="#0055ff"/><stop offset="0.057" stop-color="#0000fb"/><stop offset="0.095" stop-color="#0037ff"/><stop offset="0.143" stop-color="#0095ff"/><stop offset="0.219" stop-color="#00a2ff"/><stop offset="0.295" stop-color="#0038ff"/><stop offset="0.362" stop-color="#00a2ff"/><stop offset="0.400" stop-color="#0ffff0"/><stop offset="0.457" stop-color="#a8ff57"/><stop offset="0.505" stop-color="#fff400"/><stop offset="0.581" stop-color="#ff5b00"/><stop offset="0.924" stop-color="#ee0000"/><stop offset="1.000" stop-color="#e30000"/></linearGradient><linearGradient id="c204" x1="0" y1="0" x2="0" y2="1"><stop offset="0.000" stop-color="#00adff"/><stop offset="0.067" stop-color="#004bff"/><stop offset="0.152" stop-color="#00faff"/><stop offset="0.229" stop-color="#00d7ff"/><stop offset="0.324" stop-color="#006cff"/><stop offset="0.371" stop-color="#0080ff"/><stop offset="0.410" stop-color="#00ffff"/><stop offset="0.467" stop-color="#96ff69"/><stop offset="0.524" stop-color="#ffe800"/><stop offset="0.600" stop-color="#ff5b00"/><stop offset="1.000" stop-color="#ff0e00"/></linearGradient><linearGradient id="c205" x1="0" y1="0" x2="0" y2="1"><stop offset="0.000" stop-color="#0081ff"/><stop offset="0.124" stop-color="#007cff"/><stop offset="0.181" stop-color="#00c3ff"/><stop offset="0.371" stop-color="#0079ff"/><stop offset="0.438" stop-color="#16ffe9"/><stop offset="0.552" stop-color="#ffec00"/><stop offset="0.629" stop-color="#ff7700"/><stop offset="1.000" stop-color="#ff4600"/></linearGradient><linearGradient id="c206" x1="0" y1="0" x2="0" y2="1"><stop offset="0.000" stop-color="#0050ff"/><stop offset="0.076" stop-color="#007fff"/><stop offset="0.133" stop-color="#004aff"/><stop offset="0.210" stop-color="#009bff"/><stop offset="0.352" stop-color="#0084ff"/><stop offset="0.390" stop-color="#0065ff"/><stop offset="0.476" stop-color="#09fff6"/><stop offset="0.590" stop-color="#fffd00"/><stop offset="0.629" stop-color="#ffd000"/><stop offset="1.000" stop-color="#ff9500"/></linearGradient><linearGradient id="c207" x1="0" y1="0" x2="0" y2="1"><stop offset="0.000" stop-color="#000bff"/><stop offset="0.067" stop-color="#003eff"/><stop offset="0.124" stop-color="#0033ff"/><stop offset="0.248" stop-color="#0072ff"/><stop offset="0.343" stop-color="#0069ff"/><stop offset="0.390" stop-color="#0052ff"/><stop offset="0.467" stop-color="#00fcff"/><stop offset="0.590" stop-color="#fffc00"/><stop offset="0.667" stop-color="#ff9f00"/><stop offset="1.000" stop-color="#ff6d00"/></linearGradient><linearGradient id="c208" x1="0" y1="0" x2="0" y2="1"><stop offset="0.000" stop-color="#0000b4"/><stop offset="0.114" stop-color="#000dff"/><stop offset="0.181" stop-color="#0053ff"/><stop offset="0.333" stop-color="#0054ff"/><stop offset="0.419" stop-color="#13ffec"/><stop offset="0.533" stop-color="#fffa00"/><stop offset="0.610" stop-color="#ff5c00"/><stop offset="1.000" stop-color="#fe0000"/></linearGradient><linearGradient id="c209" x1="0" y1="0" x2="0" y2="1"><stop offset="0.000" stop-color="#0000a7"/><stop offset="0.038" stop-color="#0000d0"/><stop offset="0.076" stop-color="#0000f7"/><stop offset="0.133" stop-color="#0000ef"/><stop offset="0.210" stop-color="#006aff"/><stop offset="0.305" stop-color="#0013ff"/><stop offset="0.343" stop-color="#0013ff"/><stop offset="0.410" stop-color="#00eeff"/><stop offset="0.524" stop-color="#c8ff37"/><stop offset="0.562" stop-color="#ffda00"/><stop offset="0.629" stop-color="#ff5900"/><stop offset="0.867" stop-color="#e80000"/><stop offset="1.000" stop-color="#cf0000"/></linearGradient><linearGradient id="c210" x1="0" y1="0" x2="0" y2="1"><stop offset="0.000" stop-color="#0000f9"/><stop offset="0.086" stop-color="#003cff"/><stop offset="0.143" stop-color="#001eff"/><stop offset="0.219" stop-color="#0061ff"/><stop offset="0.305" stop-color="#001eff"/><stop offset="0.371" stop-color="#0058ff"/><stop offset="0.448" stop-color="#07fff8"/><stop offset="0.562" stop-color="#e4ff1b"/><stop offset="0.638" stop-color="#ff6f00"/><stop offset="1.000" stop-color="#ff0c00"/></linearGradient><linearGradient id="c211" x1="0" y1="0" x2="0" y2="1"><stop offset="0.000" stop-color="#0000b2"/><stop offset="0.133" stop-color="#0001ff"/><stop offset="0.181" stop-color="#000aff"/><stop offset="0.229" stop-color="#0000eb"/><stop offset="0.390" stop-color="#0002ff"/><stop offset="0.448" stop-color="#00cfff"/><stop offset="0.495" stop-color="#26ffd9"/><stop offset="0.600" stop-color="#fff100"/><stop offset="0.686" stop-color="#ff8900"/><stop offset="1.000" stop-color="#ff5a00"/></linearGradient><linearGradient id="c212" x1="0" y1="0" x2="0" y2="1"><stop offset="0.000" stop-color="#0000bb"/><stop offset="0.086" stop-color="#0000dd"/><stop offset="0.162" stop-color="#0000fe"/><stop offset="0.219" stop-color="#0000d5"/><stop offset="0.276" stop-color="#0000f1"/><stop offset="0.410" stop-color="#0000e1"/><stop offset="0.429" stop-color="#001dff"/><stop offset="0.476" stop-color="#00d4ff"/><stop offset="0.524" stop-color="#27ffd8"/><stop offset="0.629" stop-color="#fff000"/><stop offset="0.724" stop-color="#ff9f00"/><stop offset="1.000" stop-color="#ff7200"/></linearGradient><linearGradient id="c213" x1="0" y1="0" x2="0" y2="1"><stop offset="0.000" stop-color="#0000be"/><stop offset="0.105" stop-color="#0000c9"/><stop offset="0.257" stop-color="#0000d7"/><stop offset="0.314" stop-color="#0000c9"/><stop offset="0.390" stop-color="#0000c5"/><stop offset="0.429" stop-color="#0012ff"/><stop offset="0.476" stop-color="#00cdff"/><stop offset="0.524" stop-color="#1affe5"/><stop offset="0.638" stop-color="#ffeb00"/><stop offset="0.714" stop-color="#ff5b00"/><stop offset="1.000" stop-color="#ff2a00"/></linearGradient><linearGradient id="c214" x1="0" y1="0" x2="0" y2="1"><stop offset="0.000" stop-color="#00009d"/><stop offset="0.219" stop-color="#0000fd"/><stop offset="0.305" stop-color="#0000a6"/><stop offset="0.390" stop-color="#0000e3"/><stop offset="0.419" stop-color="#0087ff"/><stop offset="0.448" stop-color="#00f0ff"/><stop offset="0.505" stop-color="#33ffcc"/><stop offset="0.600" stop-color="#fff800"/><stop offset="0.686" stop-color="#ff5600"/><stop offset="0.905" stop-color="#ee0000"/><stop offset="1.000" stop-color="#e00000"/></linearGradient><linearGradient id="c215" x1="0" y1="0" x2="0" y2="1"><stop offset="0.000" stop-color="#000080"/><stop offset="0.057" stop-color="#000090"/><stop offset="0.143" stop-color="#0000f2"/><stop offset="0.257" stop-color="#0000d5"/><stop offset="0.305" stop-color="#0000a8"/><stop offset="0.381" stop-color="#0000f0"/><stop offset="0.438" stop-color="#00eaff"/><stop offset="0.505" stop-color="#48ffb7"/><stop offset="0.590" stop-color="#fff700"/><stop offset="0.667" stop-color="#ff5c00"/><stop offset="1.000" stop-color="#ff0700"/></linearGradient><linearGradient id="c216" x1="0" y1="0" x2="0" y2="1"><stop offset="0.000" stop-color="#000092"/><stop offset="0.057" stop-color="#0000a9"/><stop offset="0.124" stop-color="#0002ff"/><stop offset="0.210" stop-color="#0000c2"/><stop offset="0.276" stop-color="#0000bc"/><stop offset="0.333" stop-color="#0000d2"/><stop offset="0.429" stop-color="#0003ff"/><stop offset="0.486" stop-color="#00ceff"/><stop offset="0.533" stop-color="#20ffdf"/><stop offset="0.638" stop-color="#fff900"/><stop offset="0.724" stop-color="#ff9800"/><stop offset="1.000" stop-color="#ff6900"/></linearGradient><linearGradient id="c217" x1="0" y1="0" x2="0" y2="1"><stop offset="0.000" stop-color="#000092"/><stop offset="0.067" stop-color="#0000a5"/><stop offset="0.133" stop-color="#0002ff"/><stop offset="0.219" stop-color="#0000db"/><stop offset="0.276" stop-color="#0000d2"/><stop offset="0.390" stop-color="#0000c7"/><stop offset="0.448" stop-color="#000dff"/><stop offset="0.505" stop-color="#00d4ff"/><stop offset="0.552" stop-color="#26ffd9"/><stop offset="0.657" stop-color="#fff100"/><stop offset="0.752" stop-color="#ffbb00"/><stop offset="1.000" stop-color="#ff8e00"/></linearGradient><linearGradient id="c218" x1="0" y1="0" x2="0" y2="1"><stop offset="0.000" stop-color="#0000df"/><stop offset="0.076" stop-color="#0000ef"/><stop offset="0.143" stop-color="#0032ff"/><stop offset="0.210" stop-color="#0000f7"/><stop offset="0.267" stop-color="#0027ff"/><stop offset="0.324" stop-color="#0000e2"/><stop offset="0.400" stop-color="#0000d6"/><stop offset="0.429" stop-color="#0000f4"/><stop offset="0.486" stop-color="#00cfff"/><stop offset="0.533" stop-color="#21ffde"/><stop offset="0.638" stop-color="#fff900"/><stop offset="0.724" stop-color="#ff7900"/><stop offset="1.000" stop-color="#ff4a00"/></linearGradient><linearGradient id="c219" x1="0" y1="0" x2="0" y2="1"><stop offset="0.000" stop-color="#0000d4"/><stop offset="0.086" stop-color="#0000e0"/><stop offset="0.152" stop-color="#0000e9"/><stop offset="0.200" stop-color="#0000a6"/><stop offset="0.257" stop-color="#0007ff"/><stop offset="0.381" stop-color="#0000f6"/><stop offset="0.448" stop-color="#00e6ff"/><stop offset="0.524" stop-color="#76ff89"/><stop offset="0.590" stop-color="#ffee00"/><stop offset="0.667" stop-color="#ff5a00"/><stop offset="1.000" stop-color="#ff0200"/></linearGradient><linearGradient id="c220" x1="0" y1="0" x2="0" y2="1"><stop offset="0.000" stop-color="#0000dc"/><stop offset="0.143" stop-color="#0000ee"/><stop offset="0.210" stop-color="#0000d1"/><stop offset="0.267" stop-color="#0000ff"/><stop offset="0.352" stop-color="#0000ef"/><stop offset="0.419" stop-color="#00d0ff"/><stop offset="0.457" stop-color="#21ffde"/><stop offset="0.562" stop-color="#fffc00"/><stop offset="0.648" stop-color="#ff5700"/><stop offset="0.876" stop-color="#e70000"/><stop offset="1.000" stop-color="#d30000"/></linearGradient><linearGradient id="c221" x1="0" y1="0" x2="0" y2="1"><stop offset="0.000" stop-color="#0006ff"/><stop offset="0.048" stop-color="#0027ff"/><stop offset="0.076" stop-color="#0000e7"/><stop offset="0.114" stop-color="#0000c2"/><stop offset="0.171" stop-color="#0000f9"/><stop offset="0.257" stop-color="#001fff"/><stop offset="0.286" stop-color="#0000de"/><stop offset="0.324" stop-color="#000096"/><stop offset="0.343" stop-color="#00009f"/><stop offset="0.362" stop-color="#000dff"/><stop offset="0.390" stop-color="#00b3ff"/><stop offset="0.438" stop-color="#1affe5"/><stop offset="0.552" stop-color="#fff600"/><stop offset="0.638" stop-color="#ff5400"/><stop offset="0.819" stop-color="#e80000"/><stop offset="1.000" stop-color="#b10000"/></linearGradient><linearGradient id="c222" x1="0" y1="0" x2="0" y2="1"><stop offset="0.000" stop-color="#004bff"/><stop offset="0.048" stop-color="#0057ff"/><stop offset="0.086" stop-color="#0000ef"/><stop offset="0.124" stop-color="#0000f4"/><stop offset="0.181" stop-color="#000dff"/><stop offset="0.219" stop-color="#000fff"/><stop offset="0.257" stop-color="#003fff"/><stop offset="0.305" stop-color="#0000e2"/><stop offset="0.343" stop-color="#0000c5"/><stop offset="0.362" stop-color="#001dff"/><stop offset="0.400" stop-color="#00d4ff"/><stop offset="0.438" stop-color="#1effe1"/><stop offset="0.552" stop-color="#fff300"/><stop offset="0.629" stop-color="#ff5a00"/><stop offset="0.876" stop-color="#e70000"/><stop offset="1.000" stop-color="#d30000"/></linearGradient><linearGradient id="c223" x1="0" y1="0" x2="0" y2="1"><stop offset="0.000" stop-color="#004eff"/><stop offset="0.105" stop-color="#0000fb"/><stop offset="0.286" stop-color="#0015ff"/><stop offset="0.352" stop-color="#0000fe"/><stop offset="0.410" stop-color="#00ceff"/><stop offset="0.457" stop-color="#1affe5"/><stop offset="0.562" stop-color="#fff700"/><stop offset="0.638" stop-color="#ff5c00"/><stop offset="1.000" stop-color="#ff0300"/></linearGradient><linearGradient id="c224" x1="0" y1="0" x2="0" y2="1"><stop offset="0.000" stop-color="#0058ff"/><stop offset="0.076" stop-color="#0030ff"/><stop offset="0.171" stop-color="#0049ff"/><stop offset="0.229" stop-color="#007bff"/><stop offset="0.295" stop-color="#006fff"/><stop offset="0.371" stop-color="#006bff"/><stop offset="0.457" stop-color="#07fff8"/><stop offset="0.571" stop-color="#fff500"/><stop offset="0.648" stop-color="#ff6a00"/><stop offset="1.000" stop-color="#ff3900"/></linearGradient><linearGradient id="c225" x1="0" y1="0" x2="0" y2="1"><stop offset="0.000" stop-color="#0027ff"/><stop offset="0.086" stop-color="#0052ff"/><stop offset="0.162" stop-color="#002dff"/><stop offset="0.238" stop-color="#0075ff"/><stop offset="0.295" stop-color="#008eff"/><stop offset="0.352" stop-color="#0086ff"/><stop offset="0.381" stop-color="#0079ff"/><stop offset="0.467" stop-color="#0dfff2"/><stop offset="0.581" stop-color="#fff300"/><stop offset="0.667" stop-color="#ffb200"/><stop offset="1.000" stop-color="#ff8200"/></linearGradient><linearGradient id="c226" x1="0" y1="0" x2="0" y2="1"><stop offset="0.000" stop-color="#00d5ff"/><stop offset="0.057" stop-color="#18ffe7"/><stop offset="0.095" stop-color="#1bffe4"/><stop offset="0.162" stop-color="#00c1ff"/><stop offset="0.229" stop-color="#05fffa"/><stop offset="0.286" stop-color="#09fff6"/><stop offset="0.314" stop-color="#36ffc9"/><stop offset="0.371" stop-color="#00e9ff"/><stop offset="0.410" stop-color="#20ffdf"/><stop offset="0.514" stop-color="#fff800"/><stop offset="0.600" stop-color="#ff7b00"/><stop offset="1.000" stop-color="#ff4a00"/></linearGradient><linearGradient id="c227" x1="0" y1="0" x2="0" y2="1"><stop offset="0.000" stop-color="#004dff"/><stop offset="0.095" stop-color="#007bff"/><stop offset="0.152" stop-color="#0019ff"/><stop offset="0.219" stop-color="#006dff"/><stop offset="0.276" stop-color="#0039ff"/><stop offset="0.343" stop-color="#00f7ff"/><stop offset="0.410" stop-color="#53ffac"/><stop offset="0.486" stop-color="#ffeb00"/><stop offset="0.562" stop-color="#ff5b00"/><stop offset="1.000" stop-color="#fb0000"/></linearGradient><linearGradient id="c228" x1="0" y1="0" x2="0" y2="1"><stop offset="0.000" stop-color="#0045ff"/><stop offset="0.114" stop-color="#006aff"/><stop offset="0.181" stop-color="#0057ff"/><stop offset="0.229" stop-color="#0069ff"/><stop offset="0.276" stop-color="#0044ff"/><stop offset="0.362" stop-color="#08fff7"/><stop offset="0.467" stop-color="#c6ff39"/><stop offset="0.495" stop-color="#ffeb00"/><stop offset="0.571" stop-color="#ff5900"/><stop offset="0.886" stop-color="#e50000"/><stop offset="1.000" stop-color="#d50000"/></linearGradient><linearGradient id="c229" x1="0" y1="0" x2="0" y2="1"><stop offset="0.000" stop-color="#001cff"/><stop offset="0.086" stop-color="#006aff"/><stop offset="0.162" stop-color="#0067ff"/><stop offset="0.276" stop-color="#0068ff"/><stop offset="0.333" stop-color="#01fffe"/><stop offset="0.467" stop-color="#b2ff4d"/><stop offset="0.505" stop-color="#fff000"/><stop offset="0.581" stop-color="#ff5a00"/><stop offset="0.857" stop-color="#e80000"/><stop offset="1.000" stop-color="#cd0000"/></linearGradient><linearGradient id="c230" x1="0" y1="0" x2="0" y2="1"><stop offset="0.000" stop-color="#0016ff"/><stop offset="0.048" stop-color="#0020ff"/><stop offset="0.143" stop-color="#008fff"/><stop offset="0.267" stop-color="#007cff"/><stop offset="0.324" stop-color="#07fff8"/><stop offset="0.371" stop-color="#46ffb9"/><stop offset="0.448" stop-color="#7cff83"/><stop offset="0.514" stop-color="#fff900"/><stop offset="0.590" stop-color="#ff5c00"/><stop offset="1.000" stop-color="#fc0000"/></linearGradient><linearGradient id="c231" x1="0" y1="0" x2="0" y2="1"><stop offset="0.000" stop-color="#0000ff"/><stop offset="0.067" stop-color="#001cff"/><stop offset="0.143" stop-color="#00a7ff"/><stop offset="0.210" stop-color="#008dff"/><stop offset="0.267" stop-color="#0067ff"/><stop offset="0.314" stop-color="#00b8ff"/><stop offset="0.352" stop-color="#07fff8"/><stop offset="0.419" stop-color="#44ffbb"/><stop offset="0.514" stop-color="#fffd00"/><stop offset="0.590" stop-color="#ff6100"/><stop offset="1.000" stop-color="#ff2f00"/></linearGradient><linearGradient id="c232" x1="0" y1="0" x2="0" y2="1"><stop offset="0.000" stop-color="#0000d7"/><stop offset="0.067" stop-color="#0000e0"/><stop offset="0.095" stop-color="#0027ff"/><stop offset="0.143" stop-color="#0082ff"/><stop offset="0.200" stop-color="#0076ff"/><stop offset="0.257" stop-color="#0000fc"/><stop offset="0.305" stop-color="#001cff"/><stop offset="0.352" stop-color="#0044ff"/><stop offset="0.400" stop-color="#004bff"/><stop offset="0.476" stop-color="#00fcff"/><stop offset="0.600" stop-color="#fffd00"/><stop offset="0.629" stop-color="#ffda00"/><stop offset="0.800" stop-color="#ffdb00"/><stop offset="1.000" stop-color="#ffbd00"/></linearGradient><linearGradient id="c233" x1="0" y1="0" x2="0" y2="1"><stop offset="0.000" stop-color="#0000eb"/><stop offset="0.076" stop-color="#0000d1"/><stop offset="0.152" stop-color="#0017ff"/><stop offset="0.200" stop-color="#0031ff"/><stop offset="0.248" stop-color="#0000d8"/><stop offset="0.305" stop-color="#0000f2"/><stop offset="0.371" stop-color="#003cff"/><stop offset="0.419" stop-color="#0022ff"/><stop offset="0.486" stop-color="#00e6ff"/><stop offset="0.543" stop-color="#4effb1"/><stop offset="0.629" stop-color="#ffef00"/><stop offset="0.724" stop-color="#ffa100"/><stop offset="1.000" stop-color="#ff7400"/></linearGradient><linearGradient id="c234" x1="0" y1="0" x2="0" y2="1"><stop offset="0.000" stop-color="#007aff"/><stop offset="0.038" stop-color="#007cff"/><stop offset="0.133" stop-color="#003eff"/><stop offset="0.210" stop-color="#0061ff"/><stop offset="0.267" stop-color="#0054ff"/><stop offset="0.371" stop-color="#00cbff"/><stop offset="0.457" stop-color="#18ffe7"/><stop offset="0.571" stop-color="#ffea00"/><stop offset="0.648" stop-color="#ff5b00"/><stop offset="1.000" stop-color="#ff2000"/></linearGradient><linearGradient id="c235" x1="0" y1="0" x2="0" y2="1"><stop offset="0.000" stop-color="#0016ff"/><stop offset="0.038" stop-color="#0041ff"/><stop offset="0.114" stop-color="#0000f5"/><stop offset="0.276" stop-color="#0011ff"/><stop offset="0.324" stop-color="#002cff"/><stop offset="0.381" stop-color="#00e9ff"/><stop offset="0.467" stop-color="#6cff93"/><stop offset="0.543" stop-color="#ffe800"/><stop offset="0.619" stop-color="#ff5900"/><stop offset="0.933" stop-color="#f00000"/><stop offset="1.000" stop-color="#e70000"/></linearGradient><linearGradient id="c236" x1="0" y1="0" x2="0" y2="1"><stop offset="0.000" stop-color="#000aff"/><stop offset="0.038" stop-color="#0038ff"/><stop offset="0.114" stop-color="#0000f3"/><stop offset="0.190" stop-color="#0014ff"/><stop offset="0.267" stop-color="#000eff"/><stop offset="0.314" stop-color="#000bff"/><stop offset="0.352" stop-color="#0000e3"/><stop offset="0.371" stop-color="#0029ff"/><stop offset="0.410" stop-color="#00cfff"/><stop offset="0.448" stop-color="#16ffe9"/><stop offset="0.562" stop-color="#fff600"/><stop offset="0.638" stop-color="#ff5b00"/><stop offset="0.876" stop-color="#e90000"/><stop offset="1.000" stop-color="#d40000"/></linearGradient><linearGradient id="c237" x1="0" y1="0" x2="0" y2="1"><stop offset="0.000" stop-color="#0000f9"/><stop offset="0.105" stop-color="#0000ea"/><stop offset="0.190" stop-color="#0000ee"/><stop offset="0.248" stop-color="#0000ec"/><stop offset="0.324" stop-color="#0000ec"/><stop offset="0.343" stop-color="#0000d4"/><stop offset="0.362" stop-color="#0008ff"/><stop offset="0.419" stop-color="#00daff"/><stop offset="0.457" stop-color="#2bffd4"/><stop offset="0.552" stop-color="#fffe00"/><stop offset="0.638" stop-color="#ff5600"/><stop offset="0.829" stop-color="#e50000"/><stop offset="1.000" stop-color="#b40000"/></linearGradient><linearGradient id="c238" x1="0" y1="0" x2="0" y2="1"><stop offset="0.000" stop-color="#0000b3"/><stop offset="0.086" stop-color="#0000b5"/><stop offset="0.143" stop-color="#0000fa"/><stop offset="0.210" stop-color="#0000d4"/><stop offset="0.267" stop-color="#0000e8"/><stop offset="0.343" stop-color="#0000d5"/><stop offset="0.352" stop-color="#0004ff"/><stop offset="0.400" stop-color="#00d3ff"/><stop offset="0.448" stop-color="#24ffdb"/><stop offset="0.552" stop-color="#fff600"/><stop offset="0.629" stop-color="#ff5a00"/><stop offset="0.857" stop-color="#e50000"/><stop offset="1.000" stop-color="#c60000"/></linearGradient><linearGradient id="c239" x1="0" y1="0" x2="0" y2="1"><stop offset="0.000" stop-color="#000080"/><stop offset="0.095" stop-color="#0000d7"/><stop offset="0.143" stop-color="#0000f3"/><stop offset="0.200" stop-color="#0000cb"/><stop offset="0.257" stop-color="#0000ea"/><stop offset="0.314" stop-color="#0000b1"/><stop offset="0.352" stop-color="#0000f7"/><stop offset="0.400" stop-color="#00e5ff"/><stop offset="0.476" stop-color="#49ffb6"/><stop offset="0.562" stop-color="#fff300"/><stop offset="0.638" stop-color="#ff5a00"/><stop offset="0.924" stop-color="#f10000"/><stop offset="1.000" stop-color="#e70000"/></linearGradient><linearGradient id="c240" x1="0" y1="0" x2="0" y2="1"><stop offset="0.000" stop-color="#000091"/><stop offset="0.076" stop-color="#0000f4"/><stop offset="0.229" stop-color="#0010ff"/><stop offset="0.333" stop-color="#0000ed"/><stop offset="0.381" stop-color="#0017ff"/><stop offset="0.438" stop-color="#00d3ff"/><stop offset="0.486" stop-color="#1fffe0"/><stop offset="0.590" stop-color="#fffb00"/><stop offset="0.667" stop-color="#ff5c00"/><stop offset="1.000" stop-color="#ff1b00"/></linearGradient><linearGradient id="c241" x1="0" y1="0" x2="0" y2="1"><stop offset="0.000" stop-color="#0000ad"/><stop offset="0.067" stop-color="#0000d6"/><stop offset="0.124" stop-color="#0000bd"/><stop offset="0.229" stop-color="#0016ff"/><stop offset="0.267" stop-color="#0016ff"/><stop offset="0.333" stop-color="#0000dc"/><stop offset="0.381" stop-color="#0017ff"/><stop offset="0.438" stop-color="#00caff"/><stop offset="0.476" stop-color="#12ffed"/><stop offset="0.590" stop-color="#fff200"/><stop offset="0.667" stop-color="#ff7300"/><stop offset="1.000" stop-color="#ff4100"/></linearGradient><linearGradient id="c242" x1="0" y1="0" x2="0" y2="1"><stop offset="0.000" stop-color="#0000c7"/><stop offset="0.143" stop-color="#00009a"/><stop offset="0.229" stop-color="#0013ff"/><stop offset="0.267" stop-color="#0014ff"/><stop offset="0.333" stop-color="#0000bc"/><stop offset="0.400" stop-color="#0017ff"/><stop offset="0.457" stop-color="#00ccff"/><stop offset="0.495" stop-color="#15ffea"/><stop offset="0.610" stop-color="#fff200"/><stop offset="0.695" stop-color="#ffbe00"/><stop offset="1.000" stop-color="#ff8e00"/></linearGradient><linearGradient id="c243" x1="0" y1="0" x2="0" y2="1"><stop offset="0.000" stop-color="#001cff"/><stop offset="0.067" stop-color="#0000c4"/><stop offset="0.190" stop-color="#0000c7"/><stop offset="0.238" stop-color="#0016ff"/><stop offset="0.286" stop-color="#0032ff"/><stop offset="0.381" stop-color="#0013ff"/><stop offset="0.419" stop-color="#002eff"/><stop offset="0.476" stop-color="#00dbff"/><stop offset="0.524" stop-color="#2effd1"/><stop offset="0.619" stop-color="#fffe00"/><stop offset="0.705" stop-color="#ff7d00"/><stop offset="1.000" stop-color="#ff4d00"/></linearGradient><linearGradient id="c244" x1="0" y1="0" x2="0" y2="1"><stop offset="0.000" stop-color="#0063ff"/><stop offset="0.048" stop-color="#0001ff"/><stop offset="0.124" stop-color="#0041ff"/><stop offset="0.171" stop-color="#0000ec"/><stop offset="0.219" stop-color="#0000e9"/><stop offset="0.324" stop-color="#0060ff"/><stop offset="0.400" stop-color="#003bff"/><stop offset="0.476" stop-color="#00f4ff"/><stop offset="0.610" stop-color="#ffed00"/><stop offset="0.686" stop-color="#ff5a00"/><stop offset="1.000" stop-color="#ff0700"/></linearGradient><linearGradient id="c245" x1="0" y1="0" x2="0" y2="1"><stop offset="0.000" stop-color="#0001ff"/><stop offset="0.076" stop-color="#001dff"/><stop offset="0.133" stop-color="#0056ff"/><stop offset="0.190" stop-color="#0000e9"/><stop offset="0.238" stop-color="#0000cd"/><stop offset="0.295" stop-color="#001bff"/><stop offset="0.381" stop-color="#0051ff"/><stop offset="0.438" stop-color="#00d9ff"/><stop offset="0.476" stop-color="#18ffe7"/><stop offset="0.581" stop-color="#fffd00"/><stop offset="0.667" stop-color="#ff5800"/><stop offset="0.924" stop-color="#f30000"/><stop offset="1.000" stop-color="#e80000"/></linearGradient><linearGradient id="c246" x1="0" y1="0" x2="0" y2="1"><stop offset="0.000" stop-color="#0000c1"/><stop offset="0.086" stop-color="#0012ff"/><stop offset="0.143" stop-color="#0062ff"/><stop offset="0.200" stop-color="#0000ee"/><stop offset="0.248" stop-color="#0000d5"/><stop offset="0.324" stop-color="#001dff"/><stop offset="0.390" stop-color="#0053ff"/><stop offset="0.448" stop-color="#00e4ff"/><stop offset="0.495" stop-color="#2cffd3"/><stop offset="0.590" stop-color="#feff01"/><stop offset="0.676" stop-color="#ff5c00"/><stop offset="1.000" stop-color="#ff2a00"/></linearGradient><linearGradient id="c247" x1="0" y1="0" x2="0" y2="1"><stop offset="0.000" stop-color="#0000b9"/><stop offset="0.095" stop-color="#0008ff"/><stop offset="0.143" stop-color="#0054ff"/><stop offset="0.200" stop-color="#0000f0"/><stop offset="0.286" stop-color="#0017ff"/><stop offset="0.410" stop-color="#000dff"/><stop offset="0.467" stop-color="#00d7ff"/><stop offset="0.514" stop-color="#25ffda"/><stop offset="0.619" stop-color="#fff200"/><stop offset="0.695" stop-color="#ffc400"/><stop offset="1.000" stop-color="#ff9300"/></linearGradient><linearGradient id="c248" x1="0" y1="0" x2="0" y2="1"><stop offset="0.000" stop-color="#0077ff"/><stop offset="0.067" stop-color="#005aff"/><stop offset="0.133" stop-color="#00d3ff"/><stop offset="0.200" stop-color="#009aff"/><stop offset="0.305" stop-color="#00f1ff"/><stop offset="0.381" stop-color="#007cff"/><stop offset="0.438" stop-color="#00bcff"/><stop offset="0.476" stop-color="#13ffec"/><stop offset="0.590" stop-color="#fff500"/><stop offset="0.676" stop-color="#ffa500"/><stop offset="1.000" stop-color="#ff7600"/></linearGradient><linearGradient id="c249" x1="0" y1="0" x2="0" y2="1"><stop offset="0.000" stop-color="#0025ff"/><stop offset="0.057" stop-color="#0000d9"/><stop offset="0.095" stop-color="#000eff"/><stop offset="0.133" stop-color="#004dff"/><stop offset="0.200" stop-color="#0043ff"/><stop offset="0.276" stop-color="#00b4ff"/><stop offset="0.333" stop-color="#006aff"/><stop offset="0.390" stop-color="#0043ff"/><stop offset="0.486" stop-color="#03fffc"/><stop offset="0.610" stop-color="#fff500"/><stop offset="0.695" stop-color="#ff8f00"/><stop offset="1.000" stop-color="#ff6000"/></linearGradient><linearGradient id="c250" x1="0" y1="0" x2="0" y2="1"><stop offset="0.000" stop-color="#0000fc"/><stop offset="0.076" stop-color="#0000e2"/><stop offset="0.171" stop-color="#0016ff"/><stop offset="0.267" stop-color="#00b0ff"/><stop offset="0.381" stop-color="#0074ff"/><stop offset="0.486" stop-color="#0efff1"/><stop offset="0.600" stop-color="#fffc00"/><stop offset="0.686" stop-color="#ff7400"/><stop offset="1.000" stop-color="#ff4400"/></linearGradient><linearGradient id="c251" x1="0" y1="0" x2="0" y2="1"><stop offset="0.000" stop-color="#002eff"/><stop offset="0.086" stop-color="#0014ff"/><stop offset="0.133" stop-color="#0042ff"/><stop offset="0.171" stop-color="#0043ff"/><stop offset="0.229" stop-color="#009dff"/><stop offset="0.314" stop-color="#0090ff"/><stop offset="0.400" stop-color="#07fff8"/><stop offset="0.524" stop-color="#fff200"/><stop offset="0.600" stop-color="#ff5b00"/><stop offset="1.000" stop-color="#ff0100"/></linearGradient><linearGradient id="c252" x1="0" y1="0" x2="0" y2="1"><stop offset="0.000" stop-color="#0074ff"/><stop offset="0.076" stop-color="#0069ff"/><stop offset="0.124" stop-color="#00beff"/><stop offset="0.181" stop-color="#00a4ff"/><stop offset="0.238" stop-color="#00cfff"/><stop offset="0.305" stop-color="#0071ff"/><stop offset="0.343" stop-color="#00b6ff"/><stop offset="0.381" stop-color="#0dfff2"/><stop offset="0.486" stop-color="#fffd00"/><stop offset="0.571" stop-color="#ff5900"/><stop offset="0.895" stop-color="#e70000"/><stop offset="1.000" stop-color="#d90000"/></linearGradient><linearGradient id="c253" x1="0" y1="0" x2="0" y2="1"><stop offset="0.000" stop-color="#002aff"/><stop offset="0.067" stop-color="#0065ff"/><stop offset="0.114" stop-color="#00c5ff"/><stop offset="0.181" stop-color="#0063ff"/><stop offset="0.238" stop-color="#009cff"/><stop offset="0.305" stop-color="#003eff"/><stop offset="0.400" stop-color="#07fff8"/><stop offset="0.505" stop-color="#ffff00"/><stop offset="0.590" stop-color="#ff5900"/><stop offset="0.914" stop-color="#eb0000"/><stop offset="1.000" stop-color="#df0000"/></linearGradient><linearGradient id="c254" x1="0" y1="0" x2="0" y2="1"><stop offset="0.000" stop-color="#00dbff"/><stop offset="0.048" stop-color="#1fffe0"/><stop offset="0.124" stop-color="#81ff7e"/><stop offset="0.181" stop-color="#29ffd6"/><stop offset="0.267" stop-color="#4dffb2"/><stop offset="0.333" stop-color="#2effd1"/><stop offset="0.352" stop-color="#00e3ff"/><stop offset="0.381" stop-color="#00a1ff"/><stop offset="0.429" stop-color="#14ffeb"/><stop offset="0.533" stop-color="#ffff00"/><stop offset="0.619" stop-color="#ff5a00"/><stop offset="1.000" stop-color="#ff0500"/></linearGradient><linearGradient id="c255" x1="0" y1="0" x2="0" y2="1"><stop offset="0.000" stop-color="#0019ff"/><stop offset="0.105" stop-color="#0083ff"/><stop offset="0.152" stop-color="#0095ff"/><stop offset="0.238" stop-color="#0081ff"/><stop offset="0.352" stop-color="#0094ff"/><stop offset="0.390" stop-color="#00b4ff"/><stop offset="0.429" stop-color="#22ffdd"/><stop offset="0.524" stop-color="#ffff00"/><stop offset="0.610" stop-color="#ff5b00"/><stop offset="1.000" stop-color="#ff1400"/></linearGradient><linearGradient id="c256" x1="0" y1="0" x2="0" y2="1"><stop offset="0.000" stop-color="#004fff"/><stop offset="0.048" stop-color="#002fff"/><stop offset="0.124" stop-color="#00baff"/><stop offset="0.257" stop-color="#007dff"/><stop offset="0.314" stop-color="#00aeff"/><stop offset="0.381" stop-color="#00a2ff"/><stop offset="0.429" stop-color="#0afff5"/><stop offset="0.543" stop-color="#fff600"/><stop offset="0.619" stop-color="#ff6500"/><stop offset="1.000" stop-color="#ff3300"/></linearGradient><linearGradient id="c257" x1="0" y1="0" x2="0" y2="1"><stop offset="0.000" stop-color="#0014ff"/><stop offset="0.057" stop-color="#0000d1"/><stop offset="0.086" stop-color="#0019ff"/><stop offset="0.124" stop-color="#005eff"/><stop offset="0.200" stop-color="#0006ff"/><stop offset="0.257" stop-color="#000eff"/><stop offset="0.305" stop-color="#0077ff"/><stop offset="0.390" stop-color="#007eff"/><stop offset="0.467" stop-color="#08fff7"/><stop offset="0.590" stop-color="#fff900"/><stop offset="0.676" stop-color="#ff9e00"/><stop offset="1.000" stop-color="#ff6e00"/></linearGradient><linearGradient id="c258" x1="0" y1="0" x2="0" y2="1"><stop offset="0.000" stop-color="#001bff"/><stop offset="0.067" stop-color="#0000f4"/><stop offset="0.124" stop-color="#004fff"/><stop offset="0.171" stop-color="#0000eb"/><stop offset="0.238" stop-color="#0000de"/><stop offset="0.267" stop-color="#001cff"/><stop offset="0.324" stop-color="#0072ff"/><stop offset="0.390" stop-color="#0087ff"/><stop offset="0.448" stop-color="#00fbff"/><stop offset="0.514" stop-color="#53ffac"/><stop offset="0.600" stop-color="#ffe900"/><stop offset="1.000" stop-color="#ffa800"/></linearGradient><linearGradient id="c259" x1="0" y1="0" x2="0" y2="1"><stop offset="0.000" stop-color="#0045ff"/><stop offset="0.057" stop-color="#0023ff"/><stop offset="0.124" stop-color="#0091ff"/><stop offset="0.219" stop-color="#0000fa"/><stop offset="0.276" stop-color="#0023ff"/><stop offset="0.381" stop-color="#0092ff"/><stop offset="0.429" stop-color="#00ffff"/><stop offset="0.505" stop-color="#5dffa2"/><stop offset="0.581" stop-color="#fff400"/><stop offset="0.667" stop-color="#ff8b00"/><stop offset="1.000" stop-color="#ff5b00"/></linearGradient><linearGradient id="c260" x1="0" y1="0" x2="0" y2="1"><stop offset="0.000" stop-color="#0024ff"/><stop offset="0.076" stop-color="#0024ff"/><stop offset="0.133" stop-color="#004eff"/><stop offset="0.210" stop-color="#0000ef"/><stop offset="0.286" stop-color="#0000e9"/><stop offset="0.343" stop-color="#0018ff"/><stop offset="0.390" stop-color="#005dff"/><stop offset="0.438" stop-color="#00ecff"/><stop offset="0.505" stop-color="#49ffb6"/><stop offset="0.590" stop-color="#fff500"/><stop offset="0.667" stop-color="#ff6400"/><stop offset="1.000" stop-color="#ff3300"/></linearGradient><linearGradient id="c261" x1="0" y1="0" x2="0" y2="1"><stop offset="0.000" stop-color="#002cff"/><stop offset="0.076" stop-color="#0025ff"/><stop offset="0.133" stop-color="#0000d2"/><stop offset="0.190" stop-color="#0000b4"/><stop offset="0.257" stop-color="#0000e4"/><stop offset="0.333" stop-color="#0006ff"/><stop offset="0.400" stop-color="#00aaff"/><stop offset="0.438" stop-color="#00fcff"/><stop offset="0.524" stop-color="#87ff78"/><stop offset="0.581" stop-color="#fff100"/><stop offset="0.657" stop-color="#ff5b00"/><stop offset="1.000" stop-color="#ff0900"/></linearGradient><linearGradient id="c262" x1="0" y1="0" x2="0" y2="1"><stop offset="0.000" stop-color="#0017ff"/><stop offset="0.086" stop-color="#0000ee"/><stop offset="0.143" stop-color="#000080"/><stop offset="0.190" stop-color="#000092"/><stop offset="0.238" stop-color="#0000ff"/><stop offset="0.314" stop-color="#0000df"/><stop offset="0.362" stop-color="#0042ff"/><stop offset="0.400" stop-color="#0096ff"/><stop offset="0.438" stop-color="#00f9ff"/><stop offset="0.514" stop-color="#6dff92"/><stop offset="0.581" stop-color="#fff900"/><stop offset="0.657" stop-color="#ff5b00"/><stop offset="0.933" stop-color="#f50000"/><stop offset="1.000" stop-color="#eb0000"/></linearGradient><linearGradient id="c263" x1="0" y1="0" x2="0" y2="1"><stop offset="0.000" stop-color="#0000f9"/><stop offset="0.086" stop-color="#0000c4"/><stop offset="0.162" stop-color="#00008b"/><stop offset="0.210" stop-color="#0000d1"/><stop offset="0.248" stop-color="#0005ff"/><stop offset="0.314" stop-color="#0000c4"/><stop offset="0.371" stop-color="#0004ff"/><stop offset="0.400" stop-color="#0056ff"/><stop offset="0.438" stop-color="#00e5ff"/><stop offset="0.495" stop-color="#39ffc6"/><stop offset="0.590" stop-color="#fff100"/><stop offset="0.667" stop-color="#ff5900"/><stop offset="0.886" stop-color="#e50000"/><stop offset="1.000" stop-color="#d50000"/></linearGradient><linearGradient id="c264" x1="0" y1="0" x2="0" y2="1"><stop offset="0.000" stop-color="#0001ff"/><stop offset="0.114" stop-color="#00008c"/><stop offset="0.229" stop-color="#000bff"/><stop offset="0.276" stop-color="#0000e2"/><stop offset="0.314" stop-color="#0000b9"/><stop offset="0.400" stop-color="#0001ff"/><stop offset="0.457" stop-color="#00d7ff"/><stop offset="0.505" stop-color="#21ffde"/><stop offset="0.610" stop-color="#fff900"/><stop offset="0.686" stop-color="#ff5b00"/><stop offset="0.981" stop-color="#fb0000"/><stop offset="1.000" stop-color="#f90000"/></linearGradient><linearGradient id="c265" x1="0" y1="0" x2="0" y2="1"><stop offset="0.000" stop-color="#001fff"/><stop offset="0.076" stop-color="#0000c5"/><stop offset="0.124" stop-color="#0000b1"/><stop offset="0.162" stop-color="#0008ff"/><stop offset="0.200" stop-color="#003eff"/><stop offset="0.276" stop-color="#0000f3"/><stop offset="0.324" stop-color="#0000cc"/><stop offset="0.381" stop-color="#001fff"/><stop offset="0.438" stop-color="#00daff"/><stop offset="0.486" stop-color="#25ffda"/><stop offset="0.590" stop-color="#fff300"/><stop offset="0.667" stop-color="#ff5b00"/><stop offset="1.000" stop-color="#ff0800"/></linearGradient><linearGradient id="c266" x1="0" y1="0" x2="0" y2="1"><stop offset="0.000" stop-color="#0000cb"/><stop offset="0.086" stop-color="#0000cf"/><stop offset="0.133" stop-color="#0000bb"/><stop offset="0.181" stop-color="#0017ff"/><stop offset="0.248" stop-color="#0000ed"/><stop offset="0.305" stop-color="#000098"/><stop offset="0.371" stop-color="#000dff"/><stop offset="0.400" stop-color="#001cff"/><stop offset="0.467" stop-color="#00e8ff"/><stop offset="0.543" stop-color="#7aff85"/><stop offset="0.610" stop-color="#ffea00"/><stop offset="0.686" stop-color="#ff6200"/><stop offset="1.000" stop-color="#ff3200"/></linearGradient><linearGradient id="c267" x1="0" y1="0" x2="0" y2="1"><stop offset="0.000" stop-color="#00009a"/><stop offset="0.038" stop-color="#0000dc"/><stop offset="0.076" stop-color="#0001ff"/><stop offset="0.143" stop-color="#0000e4"/><stop offset="0.219" stop-color="#002eff"/><stop offset="0.276" stop-color="#0000d9"/><stop offset="0.314" stop-color="#0000b7"/><stop offset="0.381" stop-color="#0000f2"/><stop offset="0.419" stop-color="#0000db"/><stop offset="0.438" stop-color="#0021ff"/><stop offset="0.476" stop-color="#00caff"/><stop offset="0.524" stop-color="#1dffe2"/><stop offset="0.629" stop-color="#fffe00"/><stop offset="0.705" stop-color="#ff9e00"/><stop offset="1.000" stop-color="#ff6c00"/></linearGradient><linearGradient id="c268" x1="0" y1="0" x2="0" y2="1"><stop offset="0.000" stop-color="#000080"/><stop offset="0.029" stop-color="#00009e"/><stop offset="0.067" stop-color="#0000fe"/><stop offset="0.152" stop-color="#0000f5"/><stop offset="0.210" stop-color="#003fff"/><stop offset="0.295" stop-color="#0000f0"/><stop offset="0.390" stop-color="#0000e4"/><stop offset="0.438" stop-color="#0000ca"/><stop offset="0.457" stop-color="#000fff"/><stop offset="0.505" stop-color="#00d1ff"/><stop offset="0.552" stop-color="#23ffdc"/><stop offset="0.657" stop-color="#fff500"/><stop offset="0.686" stop-color="#ffde00"/><stop offset="0.790" stop-color="#ffea00"/><stop offset="1.000" stop-color="#ffc500"/></linearGradient><linearGradient id="c269" x1="0" y1="0" x2="0" y2="1"><stop offset="0.000" stop-color="#000080"/><stop offset="0.029" stop-color="#000093"/><stop offset="0.076" stop-color="#0000e4"/><stop offset="0.219" stop-color="#0014ff"/><stop offset="0.276" stop-color="#0028ff"/><stop offset="0.381" stop-color="#0017ff"/><stop offset="0.419" stop-color="#0000d2"/><stop offset="0.438" stop-color="#000eff"/><stop offset="0.476" stop-color="#00c8ff"/><stop offset="0.524" stop-color="#1affe5"/><stop offset="0.638" stop-color="#ffeb00"/><stop offset="0.733" stop-color="#ff9a00"/><stop offset="1.000" stop-color="#ff6d00"/></linearGradient><linearGradient id="c270" x1="0" y1="0" x2="0" y2="1"><stop offset="0.000" stop-color="#0000b7"/><stop offset="0.105" stop-color="#0011ff"/><stop offset="0.257" stop-color="#0027ff"/><stop offset="0.305" stop-color="#0034ff"/><stop offset="0.381" stop-color="#000aff"/><stop offset="0.467" stop-color="#00f5ff"/><stop offset="0.600" stop-color="#ffef00"/><stop offset="0.676" stop-color="#ff6300"/><stop offset="1.000" stop-color="#ff3300"/></linearGradient><linearGradient id="c271" x1="0" y1="0" x2="0" y2="1"><stop offset="0.000" stop-color="#0000d0"/><stop offset="0.114" stop-color="#0014ff"/><stop offset="0.200" stop-color="#0015ff"/><stop offset="0.305" stop-color="#0033ff"/><stop offset="0.381" stop-color="#0016ff"/><stop offset="0.448" stop-color="#00ddff"/><stop offset="0.495" stop-color="#26ffd9"/><stop offset="0.600" stop-color="#fff100"/><stop offset="0.676" stop-color="#ff5b00"/><stop offset="1.000" stop-color="#ff1800"/></linearGradient><linearGradient id="c272" x1="0" y1="0" x2="0" y2="1"><stop offset="0.000" stop-color="#0013ff"/><stop offset="0.057" stop-color="#003eff"/><stop offset="0.105" stop-color="#0077ff"/><stop offset="0.181" stop-color="#004dff"/><stop offset="0.314" stop-color="#0084ff"/><stop offset="0.371" stop-color="#00acff"/><stop offset="0.429" stop-color="#0cfff3"/><stop offset="0.533" stop-color="#c3ff3c"/><stop offset="0.571" stop-color="#ffde00"/><stop offset="0.638" stop-color="#ff5b00"/><stop offset="0.943" stop-color="#f40000"/><stop offset="1.000" stop-color="#ec0000"/></linearGradient><linearGradient id="c273" x1="0" y1="0" x2="0" y2="1"><stop offset="0.000" stop-color="#0000d1"/><stop offset="0.114" stop-color="#0012ff"/><stop offset="0.181" stop-color="#0000dc"/><stop offset="0.248" stop-color="#0047ff"/><stop offset="0.314" stop-color="#0034ff"/><stop offset="0.390" stop-color="#00f1ff"/><stop offset="0.524" stop-color="#fff700"/><stop offset="0.600" stop-color="#ff5b00"/><stop offset="0.867" stop-color="#e60000"/><stop offset="1.000" stop-color="#ce0000"/></linearGradient><linearGradient id="c274" x1="0" y1="0" x2="0" y2="1"><stop offset="0.000" stop-color="#001dff"/><stop offset="0.133" stop-color="#0021ff"/><stop offset="0.181" stop-color="#0011ff"/><stop offset="0.267" stop-color="#0071ff"/><stop offset="0.314" stop-color="#004eff"/><stop offset="0.400" stop-color="#01fffe"/><stop offset="0.524" stop-color="#ffee00"/><stop offset="0.600" stop-color="#ff5a00"/><stop offset="0.952" stop-color="#f30000"/><stop offset="1.000" stop-color="#ed0000"/></linearGradient><linearGradient id="c275" x1="0" y1="0" x2="0" y2="1"><stop offset="0.000" stop-color="#0080ff"/><stop offset="0.048" stop-color="#0060ff"/><stop offset="0.257" stop-color="#0094ff"/><stop offset="0.314" stop-color="#00abff"/><stop offset="0.400" stop-color="#0dfff2"/><stop offset="0.467" stop-color="#72ff8d"/><stop offset="0.533" stop-color="#fff100"/><stop offset="0.610" stop-color="#ff5c00"/><stop offset="1.000" stop-color="#ff1700"/></linearGradient><linearGradient id="c276" x1="0" y1="0" x2="0" y2="1"><stop offset="0.000" stop-color="#0046ff"/><stop offset="0.038" stop-color="#0000f9"/><stop offset="0.133" stop-color="#003eff"/><stop offset="0.210" stop-color="#0075ff"/><stop offset="0.276" stop-color="#0077ff"/><stop offset="0.410" stop-color="#0efff1"/><stop offset="0.514" stop-color="#c9ff36"/><stop offset="0.552" stop-color="#ffd800"/><stop offset="0.619" stop-color="#ff7500"/><stop offset="1.000" stop-color="#ff4400"/></linearGradient><linearGradient id="c277" x1="0" y1="0" x2="0" y2="1"><stop offset="0.000" stop-color="#00e9ff"/><stop offset="0.038" stop-color="#008bff"/><stop offset="0.095" stop-color="#0afff5"/><stop offset="0.219" stop-color="#6fff90"/><stop offset="0.305" stop-color="#53ffac"/><stop offset="0.352" stop-color="#00ecff"/><stop offset="0.390" stop-color="#26ffd9"/><stop offset="0.505" stop-color="#fffa00"/><stop offset="0.590" stop-color="#ff9200"/><stop offset="1.000" stop-color="#ff6100"/></linearGradient><linearGradient id="c278" x1="0" y1="0" x2="0" y2="1"><stop offset="0.000" stop-color="#0028ff"/><stop offset="0.038" stop-color="#0000d2"/><stop offset="0.067" stop-color="#0000fc"/><stop offset="0.114" stop-color="#006cff"/><stop offset="0.305" stop-color="#0086ff"/><stop offset="0.381" stop-color="#0dfff2"/><stop offset="0.448" stop-color="#91ff6e"/><stop offset="0.505" stop-color="#eaff15"/><stop offset="0.610" stop-color="#ff9400"/><stop offset="1.000" stop-color="#ff6400"/></linearGradient><linearGradient id="c279" x1="0" y1="0" x2="0" y2="1"><stop offset="0.000" stop-color="#0092ff"/><stop offset="0.057" stop-color="#0076ff"/><stop offset="0.105" stop-color="#00b1ff"/><stop offset="0.219" stop-color="#008fff"/><stop offset="0.343" stop-color="#00c7ff"/><stop offset="0.400" stop-color="#19ffe6"/><stop offset="0.505" stop-color="#acff53"/><stop offset="0.552" stop-color="#ffde00"/><stop offset="0.619" stop-color="#ff5e00"/><stop offset="1.000" stop-color="#ff2d00"/></linearGradient><linearGradient id="c280" x1="0" y1="0" x2="0" y2="1"><stop offset="0.000" stop-color="#0040ff"/><stop offset="0.057" stop-color="#003aff"/><stop offset="0.105" stop-color="#0069ff"/><stop offset="0.238" stop-color="#0053ff"/><stop offset="0.314" stop-color="#0026ff"/><stop offset="0.381" stop-color="#00f1ff"/><stop offset="0.486" stop-color="#9aff65"/><stop offset="0.533" stop-color="#fff200"/><stop offset="0.610" stop-color="#ff5b00"/><stop offset="0.971" stop-color="#f50000"/><stop offset="1.000" stop-color="#f10000"/></linearGradient><linearGradient id="c281" x1="0" y1="0" x2="0" y2="1"><stop offset="0.000" stop-color="#000dff"/><stop offset="0.076" stop-color="#000eff"/><stop offset="0.181" stop-color="#006fff"/><stop offset="0.286" stop-color="#0020ff"/><stop offset="0.324" stop-color="#0011ff"/><stop offset="0.371" stop-color="#00c7ff"/><stop offset="0.429" stop-color="#12ffed"/><stop offset="0.543" stop-color="#fff400"/><stop offset="0.619" stop-color="#ff5c00"/><stop offset="1.000" stop-color="#ff0d00"/></linearGradient><linearGradient id="c282" x1="0" y1="0" x2="0" y2="1"><stop offset="0.000" stop-color="#004cff"/><stop offset="0.076" stop-color="#0028ff"/><stop offset="0.171" stop-color="#004aff"/><stop offset="0.248" stop-color="#0059ff"/><stop offset="0.410" stop-color="#00b4ff"/><stop offset="0.467" stop-color="#13ffec"/><stop offset="0.581" stop-color="#fffc00"/><stop offset="0.667" stop-color="#ff8800"/><stop offset="1.000" stop-color="#ff5800"/></linearGradient><linearGradient id="c283" x1="0" y1="0" x2="0" y2="1"><stop offset="0.000" stop-color="#0057ff"/><stop offset="0.124" stop-color="#0019ff"/><stop offset="0.219" stop-color="#0000f5"/><stop offset="0.324" stop-color="#0077ff"/><stop offset="0.410" stop-color="#0061ff"/><stop offset="0.486" stop-color="#00f8ff"/><stop offset="0.619" stop-color="#ffec00"/><stop offset="0.838" stop-color="#ffac00"/><stop offset="1.000" stop-color="#ff9400"/></linearGradient><linearGradient id="c284" x1="0" y1="0" x2="0" y2="1"><stop offset="0.000" stop-color="#006bff"/><stop offset="0.133" stop-color="#001eff"/><stop offset="0.210" stop-color="#0000eb"/><stop offset="0.267" stop-color="#0050ff"/><stop offset="0.381" stop-color="#0041ff"/><stop offset="0.476" stop-color="#01fffe"/><stop offset="0.600" stop-color="#fffb00"/><stop offset="0.686" stop-color="#ff6c00"/><stop offset="1.000" stop-color="#ff3c00"/></linearGradient><linearGradient id="c285" x1="0" y1="0" x2="0" y2="1"><stop offset="0.000" stop-color="#003eff"/><stop offset="0.095" stop-color="#0000e9"/><stop offset="0.171" stop-color="#0000af"/><stop offset="0.229" stop-color="#000eff"/><stop offset="0.267" stop-color="#0026ff"/><stop offset="0.343" stop-color="#0000db"/><stop offset="0.371" stop-color="#0000fb"/><stop offset="0.429" stop-color="#00d5ff"/><stop offset="0.476" stop-color="#22ffdd"/><stop offset="0.581" stop-color="#fffc00"/><stop offset="0.667" stop-color="#ff5900"/><stop offset="1.000" stop-color="#fc0000"/></linearGradient><linearGradient id="c286" x1="0" y1="0" x2="0" y2="1"><stop offset="0.000" stop-color="#0000d1"/><stop offset="0.057" stop-color="#000091"/><stop offset="0.181" stop-color="#0000a5"/><stop offset="0.314" stop-color="#0000d1"/><stop offset="0.371" stop-color="#0000cb"/><stop offset="0.390" stop-color="#0029ff"/><stop offset="0.429" stop-color="#00cdff"/><stop offset="0.476" stop-color="#22ffdd"/><stop offset="0.581" stop-color="#fff800"/><stop offset="0.657" stop-color="#ff5b00"/><stop offset="0.952" stop-color="#f70000"/><stop offset="1.000" stop-color="#f00000"/></linearGradient><linearGradient id="c287" x1="0" y1="0" x2="0" y2="1"><stop offset="0.000" stop-color="#0000e5"/><stop offset="0.057" stop-color="#0000d2"/><stop offset="0.171" stop-color="#0000fb"/><stop offset="0.276" stop-color="#0000af"/><stop offset="0.324" stop-color="#0007ff"/><stop offset="0.400" stop-color="#0000db"/><stop offset="0.419" stop-color="#0010ff"/><stop offset="0.467" stop-color="#00cdff"/><stop offset="0.514" stop-color="#22ffdd"/><stop offset="0.619" stop-color="#fff600"/><stop offset="0.695" stop-color="#ff6400"/><stop offset="1.000" stop-color="#ff3300"/></linearGradient><linearGradient id="c288" x1="0" y1="0" x2="0" y2="1"><stop offset="0.000" stop-color="#0000bf"/><stop offset="0.219" stop-color="#0016ff"/><stop offset="0.257" stop-color="#0000cc"/><stop offset="0.286" stop-color="#0000b6"/><stop offset="0.333" stop-color="#0000fe"/><stop offset="0.390" stop-color="#0000d8"/><stop offset="0.419" stop-color="#0000fa"/><stop offset="0.476" stop-color="#00d3ff"/><stop offset="0.524" stop-color="#26ffd9"/><stop offset="0.629" stop-color="#fff100"/><stop offset="0.724" stop-color="#ffa500"/><stop offset="1.000" stop-color="#ff7800"/></linearGradient><linearGradient id="c289" x1="0" y1="0" x2="0" y2="1"><stop offset="0.000" stop-color="#0000aa"/><stop offset="0.105" stop-color="#0000ba"/><stop offset="0.200" stop-color="#0019ff"/><stop offset="0.238" stop-color="#0018ff"/><stop offset="0.314" stop-color="#0000c8"/><stop offset="0.410" stop-color="#0000f7"/><stop offset="0.467" stop-color="#00caff"/><stop offset="0.505" stop-color="#10ffef"/><stop offset="0.619" stop-color="#fff900"/><stop offset="0.686" stop-color="#ffb200"/><stop offset="1.000" stop-color="#ff7c00"/></linearGradient><linearGradient id="c290" x1="0" y1="0" x2="0" y2="1"><stop offset="0.000" stop-color="#0000f6"/><stop offset="0.086" stop-color="#0000ba"/><stop offset="0.238" stop-color="#0000fe"/><stop offset="0.333" stop-color="#0000d5"/><stop offset="0.362" stop-color="#0000fe"/><stop offset="0.419" stop-color="#00e4ff"/><stop offset="0.476" stop-color="#28ffd7"/><stop offset="0.581" stop-color="#ffed00"/><stop offset="0.657" stop-color="#ff6500"/><stop offset="1.000" stop-color="#ff3400"/></linearGradient><linearGradient id="c291" x1="0" y1="0" x2="0" y2="1"><stop offset="0.000" stop-color="#0000f9"/><stop offset="0.105" stop-color="#000080"/><stop offset="0.181" stop-color="#000093"/><stop offset="0.352" stop-color="#0000fa"/><stop offset="0.410" stop-color="#00e8ff"/><stop offset="0.486" stop-color="#55ffaa"/><stop offset="0.562" stop-color="#fffe00"/><stop offset="0.648" stop-color="#ff5a00"/><stop offset="1.000" stop-color="#ff0c00"/></linearGradient><linearGradient id="c292" x1="0" y1="0" x2="0" y2="1"><stop offset="0.000" stop-color="#002fff"/><stop offset="0.048" stop-color="#000eff"/><stop offset="0.114" stop-color="#0000ab"/><stop offset="0.229" stop-color="#0000d7"/><stop offset="0.352" stop-color="#0013ff"/><stop offset="0.400" stop-color="#0014ff"/><stop offset="0.448" stop-color="#00d2ff"/><stop offset="0.495" stop-color="#1fffe0"/><stop offset="0.600" stop-color="#fffb00"/><stop offset="0.686" stop-color="#ff5900"/><stop offset="1.000" stop-color="#ff0600"/></linearGradient><linearGradient id="c293" x1="0" y1="0" x2="0" y2="1"><stop offset="0.000" stop-color="#006fff"/><stop offset="0.057" stop-color="#0042ff"/><stop offset="0.114" stop-color="#0000f3"/><stop offset="0.276" stop-color="#0010ff"/><stop offset="0.324" stop-color="#0027ff"/><stop offset="0.371" stop-color="#0029ff"/><stop offset="0.390" stop-color="#0028ff"/><stop offset="0.448" stop-color="#00ddff"/><stop offset="0.495" stop-color="#2cffd3"/><stop offset="0.600" stop-color="#ffe900"/><stop offset="0.676" stop-color="#ff5800"/><stop offset="0.933" stop-color="#f30000"/><stop offset="1.000" stop-color="#ea0000"/></linearGradient><linearGradient id="c294" x1="0" y1="0" x2="0" y2="1"><stop offset="0.000" stop-color="#003bff"/><stop offset="0.095" stop-color="#0000e9"/><stop offset="0.152" stop-color="#0000df"/><stop offset="0.229" stop-color="#001eff"/><stop offset="0.314" stop-color="#0000eb"/><stop offset="0.362" stop-color="#0046ff"/><stop offset="0.410" stop-color="#00e9ff"/><stop offset="0.467" stop-color="#2fffd0"/><stop offset="0.571" stop-color="#fff000"/><stop offset="0.648" stop-color="#ff5900"/><stop offset="0.867" stop-color="#e70000"/><stop offset="1.000" stop-color="#ce0000"/></linearGradient><linearGradient id="c295" x1="0" y1="0" x2="0" y2="1"><stop offset="0.000" stop-color="#0044ff"/><stop offset="0.114" stop-color="#0000fc"/><stop offset="0.190" stop-color="#0000f5"/><stop offset="0.267" stop-color="#000eff"/><stop offset="0.324" stop-color="#0000f9"/><stop offset="0.362" stop-color="#001eff"/><stop offset="0.419" stop-color="#00d5ff"/><stop offset="0.457" stop-color="#17ffe8"/><stop offset="0.571" stop-color="#fff900"/><stop offset="0.648" stop-color="#ff5b00"/><stop offset="0.933" stop-color="#f50000"/><stop offset="1.000" stop-color="#eb0000"/></linearGradient><linearGradient id="c296" x1="0" y1="0" x2="0" y2="1"><stop offset="0.000" stop-color="#0095ff"/><stop offset="0.105" stop-color="#0035ff"/><stop offset="0.200" stop-color="#0000f3"/><stop offset="0.267" stop-color="#0052ff"/><stop offset="0.390" stop-color="#0034ff"/><stop offset="0.467" stop-color="#00fcff"/><stop offset="0.600" stop-color="#ffee00"/><stop offset="0.676" stop-color="#ff5b00"/><stop offset="1.000" stop-color="#ff1900"/></linearGradient><linearGradient id="c297" x1="0" y1="0" x2="0" y2="1"><stop offset="0.000" stop-color="#007cff"/><stop offset="0.057" stop-color="#0033ff"/><stop offset="0.171" stop-color="#0000e4"/><stop offset="0.219" stop-color="#0016ff"/><stop offset="0.276" stop-color="#0058ff"/><stop offset="0.352" stop-color="#002cff"/><stop offset="0.448" stop-color="#04fffb"/><stop offset="0.562" stop-color="#fff700"/><stop offset="0.638" stop-color="#ff5d00"/><stop offset="1.000" stop-color="#ff2a00"/></linearGradient><linearGradient id="c298" x1="0" y1="0" x2="0" y2="1"><stop offset="0.000" stop-color="#00edff"/><stop offset="0.048" stop-color="#009aff"/><stop offset="0.171" stop-color="#0093ff"/><stop offset="0.229" stop-color="#00f2ff"/><stop offset="0.381" stop-color="#00cbff"/><stop offset="0.410" stop-color="#00b0ff"/><stop offset="0.457" stop-color="#13ffec"/><stop offset="0.562" stop-color="#fffa00"/><stop offset="0.648" stop-color="#ff8700"/><stop offset="1.000" stop-color="#ff5600"/></linearGradient><linearGradient id="c299" x1="0" y1="0" x2="0" y2="1"><stop offset="0.000" stop-color="#00c3ff"/><stop offset="0.057" stop-color="#005fff"/><stop offset="0.133" stop-color="#007cff"/><stop offset="0.171" stop-color="#0095ff"/><stop offset="0.210" stop-color="#00e3ff"/><stop offset="0.286" stop-color="#0093ff"/><stop offset="0.381" stop-color="#00ceff"/><stop offset="0.419" stop-color="#00beff"/><stop offset="0.467" stop-color="#1dffe2"/><stop offset="0.571" stop-color="#fffd00"/><stop offset="0.610" stop-color="#ffd200"/><stop offset="1.000" stop-color="#ff9d00"/></linearGradient><linearGradient id="c300" x1="0" y1="0" x2="0" y2="1"><stop offset="0.000" stop-color="#006cff"/><stop offset="0.067" stop-color="#0018ff"/><stop offset="0.210" stop-color="#008dff"/><stop offset="0.276" stop-color="#003cff"/><stop offset="0.333" stop-color="#00a5ff"/><stop offset="0.371" stop-color="#00ddff"/><stop offset="0.429" stop-color="#1bffe4"/><stop offset="0.533" stop-color="#fff200"/><stop offset="0.619" stop-color="#ff9300"/><stop offset="1.000" stop-color="#ff6200"/></linearGradient><linearGradient id="c301" x1="0" y1="0" x2="0" y2="1"><stop offset="0.000" stop-color="#007fff"/><stop offset="0.086" stop-color="#0041ff"/><stop offset="0.210" stop-color="#00aeff"/><stop offset="0.276" stop-color="#007bff"/><stop offset="0.352" stop-color="#00d0ff"/><stop offset="0.400" stop-color="#00acff"/><stop offset="0.438" stop-color="#0efff1"/><stop offset="0.552" stop-color="#ffec00"/><stop offset="0.629" stop-color="#ff7400"/><stop offset="1.000" stop-color="#ff4300"/></linearGradient><linearGradient id="c302" x1="0" y1="0" x2="0" y2="1"><stop offset="0.000" stop-color="#00e3ff"/><stop offset="0.095" stop-color="#00beff"/><stop offset="0.181" stop-color="#16ffe9"/><stop offset="0.257" stop-color="#1fffe0"/><stop offset="0.314" stop-color="#1bffe4"/><stop offset="0.362" stop-color="#00beff"/><stop offset="0.419" stop-color="#17ffe8"/><stop offset="0.514" stop-color="#fff400"/><stop offset="0.590" stop-color="#ff5c00"/><stop offset="1.000" stop-color="#ff0d00"/></linearGradient><linearGradient id="c303" x1="0" y1="0" x2="0" y2="1"><stop offset="0.000" stop-color="#0031ff"/><stop offset="0.133" stop-color="#0099ff"/><stop offset="0.219" stop-color="#0075ff"/><stop offset="0.314" stop-color="#00ccff"/><stop offset="0.362" stop-color="#00d2ff"/><stop offset="0.400" stop-color="#1dffe2"/><stop offset="0.495" stop-color="#fff600"/><stop offset="0.571" stop-color="#ff5b00"/><stop offset="0.924" stop-color="#ed0000"/><stop offset="1.000" stop-color="#e30000"/></linearGradient><linearGradient id="c304" x1="0" y1="0" x2="0" y2="1"><stop offset="0.000" stop-color="#0000cb"/><stop offset="0.057" stop-color="#0018ff"/><stop offset="0.124" stop-color="#007aff"/><stop offset="0.219" stop-color="#0025ff"/><stop offset="0.295" stop-color="#008cff"/><stop offset="0.343" stop-color="#0096ff"/><stop offset="0.419" stop-color="#19ffe6"/><stop offset="0.533" stop-color="#fff700"/><stop offset="0.610" stop-color="#ff5b00"/><stop offset="0.895" stop-color="#ea0000"/><stop offset="1.000" stop-color="#db0000"/></linearGradient><linearGradient id="c305" x1="0" y1="0" x2="0" y2="1"><stop offset="0.000" stop-color="#0030ff"/><stop offset="0.076" stop-color="#0059ff"/><stop offset="0.143" stop-color="#00a3ff"/><stop offset="0.410" stop-color="#09fff6"/><stop offset="0.514" stop-color="#baff45"/><stop offset="0.552" stop-color="#ffe700"/><stop offset="0.629" stop-color="#ff5900"/><stop offset="0.943" stop-color="#f40000"/><stop offset="1.000" stop-color="#ec0000"/></linearGradient><linearGradient id="c306" x1="0" y1="0" x2="0" y2="1"><stop offset="0.000" stop-color="#004aff"/><stop offset="0.076" stop-color="#0020ff"/><stop offset="0.152" stop-color="#006dff"/><stop offset="0.238" stop-color="#00c2ff"/><stop offset="0.381" stop-color="#00e9ff"/><stop offset="0.505" stop-color="#c0ff3f"/><stop offset="0.543" stop-color="#ffe200"/><stop offset="0.610" stop-color="#ff5c00"/><stop offset="1.000" stop-color="#f90000"/></linearGradient><linearGradient id="c307" x1="0" y1="0" x2="0" y2="1"><stop offset="0.000" stop-color="#0000ea"/><stop offset="0.086" stop-color="#0000d9"/><stop offset="0.143" stop-color="#001cff"/><stop offset="0.210" stop-color="#0036ff"/><stop offset="0.324" stop-color="#004aff"/><stop offset="0.352" stop-color="#0047ff"/><stop offset="0.410" stop-color="#08fff7"/><stop offset="0.524" stop-color="#ceff31"/><stop offset="0.552" stop-color="#ffeb00"/><stop offset="0.629" stop-color="#ff5b00"/><stop offset="1.000" stop-color="#ff1b00"/></linearGradient><linearGradient id="c308" x1="0" y1="0" x2="0" y2="1"><stop offset="0.000" stop-color="#0000c9"/><stop offset="0.181" stop-color="#000fff"/><stop offset="0.362" stop-color="#0000e7"/><stop offset="0.371" stop-color="#0000fb"/><stop offset="0.419" stop-color="#00e8ff"/><stop offset="0.495" stop-color="#4fffb0"/><stop offset="0.581" stop-color="#ffee00"/><stop offset="0.657" stop-color="#ff7f00"/><stop offset="1.000" stop-color="#ff4e00"/></linearGradient><linearGradient id="c309" x1="0" y1="0" x2="0" y2="1"><stop offset="0.000" stop-color="#0000ba"/><stop offset="0.057" stop-color="#0000d5"/><stop offset="0.381" stop-color="#0014ff"/><stop offset="0.438" stop-color="#00e7ff"/><stop offset="0.495" stop-color="#30ffcf"/><stop offset="0.590" stop-color="#fffb00"/><stop offset="0.629" stop-color="#ffcf00"/><stop offset="1.000" stop-color="#ff9400"/></linearGradient><linearGradient id="c310" x1="0" y1="0" x2="0" y2="1"><stop offset="0.000" stop-color="#0000ef"/><stop offset="0.076" stop-color="#0000e9"/><stop offset="0.248" stop-color="#0000e8"/><stop offset="0.352" stop-color="#0019ff"/><stop offset="0.371" stop-color="#0010ff"/><stop offset="0.438" stop-color="#00e9ff"/><stop offset="0.505" stop-color="#55ffaa"/><stop offset="0.581" stop-color="#fffe00"/><stop offset="0.667" stop-color="#ff7e00"/><stop offset="1.000" stop-color="#ff4d00"/></linearGradient><linearGradient id="c311" x1="0" y1="0" x2="0" y2="1"><stop offset="0.000" stop-color="#004aff"/><stop offset="0.048" stop-color="#0043ff"/><stop offset="0.133" stop-color="#0000fc"/><stop offset="0.257" stop-color="#0019ff"/><stop offset="0.343" stop-color="#0030ff"/><stop offset="0.381" stop-color="#000aff"/><stop offset="0.438" stop-color="#00dcff"/><stop offset="0.486" stop-color="#23ffdc"/><stop offset="0.590" stop-color="#fff600"/><stop offset="0.667" stop-color="#ff5c00"/><stop offset="1.000" stop-color="#ff1f00"/></linearGradient><linearGradient id="c312" x1="0" y1="0" x2="0" y2="1"><stop offset="0.000" stop-color="#001aff"/><stop offset="0.086" stop-color="#0000e4"/><stop offset="0.152" stop-color="#0000f8"/><stop offset="0.324" stop-color="#0012ff"/><stop offset="0.371" stop-color="#0009ff"/><stop offset="0.429" stop-color="#00e6ff"/><stop offset="0.505" stop-color="#52ffad"/><stop offset="0.590" stop-color="#ffea00"/><stop offset="0.667" stop-color="#ff5900"/><stop offset="0.971" stop-color="#f90000"/><stop offset="1.000" stop-color="#f50000"/></linearGradient><linearGradient id="c313" x1="0" y1="0" x2="0" y2="1"><stop offset="0.000" stop-color="#000dff"/><stop offset="0.048" stop-color="#0000c9"/><stop offset="0.086" stop-color="#0000cd"/><stop offset="0.114" stop-color="#0019ff"/><stop offset="0.152" stop-color="#0021ff"/><stop offset="0.200" stop-color="#002bff"/><stop offset="0.257" stop-color="#0060ff"/><stop offset="0.333" stop-color="#0000ef"/><stop offset="0.381" stop-color="#0024ff"/><stop offset="0.448" stop-color="#00e6ff"/><stop offset="0.495" stop-color="#1fffe0"/><stop offset="0.600" stop-color="#fffb00"/><stop offset="0.686" stop-color="#ff5600"/><stop offset="0.905" stop-color="#ec0000"/><stop offset="1.000" stop-color="#df0000"/></linearGradient><linearGradient id="c314" x1="0" y1="0" x2="0" y2="1"><stop offset="0.000" stop-color="#0000cd"/><stop offset="0.048" stop-color="#00009f"/><stop offset="0.086" stop-color="#000080"/><stop offset="0.143" stop-color="#0000e4"/><stop offset="0.190" stop-color="#0000cf"/><stop offset="0.219" stop-color="#0019ff"/><stop offset="0.257" stop-color="#0058ff"/><stop offset="0.333" stop-color="#0005ff"/><stop offset="0.390" stop-color="#002aff"/><stop offset="0.448" stop-color="#00e8ff"/><stop offset="0.505" stop-color="#34ffcb"/><stop offset="0.600" stop-color="#fff700"/><stop offset="0.686" stop-color="#ff5500"/><stop offset="0.895" stop-color="#ea0000"/><stop offset="1.000" stop-color="#db0000"/></linearGradient><linearGradient id="c315" x1="0" y1="0" x2="0" y2="1"><stop offset="0.000" stop-color="#0000ac"/><stop offset="0.114" stop-color="#0000d9"/><stop offset="0.200" stop-color="#0000cc"/><stop offset="0.248" stop-color="#0016ff"/><stop offset="0.314" stop-color="#000cff"/><stop offset="0.362" stop-color="#0033ff"/><stop offset="0.429" stop-color="#00ecff"/><stop offset="0.533" stop-color="#b8ff47"/><stop offset="0.571" stop-color="#ffea00"/><stop offset="0.648" stop-color="#ff5900"/><stop offset="0.924" stop-color="#f20000"/><stop offset="1.000" stop-color="#e70000"/></linearGradient><linearGradient id="c316" x1="0" y1="0" x2="0" y2="1"><stop offset="0.000" stop-color="#0000a3"/><stop offset="0.114" stop-color="#0004ff"/><stop offset="0.267" stop-color="#0000f2"/><stop offset="0.343" stop-color="#001fff"/><stop offset="0.390" stop-color="#0000da"/><stop offset="0.410" stop-color="#0021ff"/><stop offset="0.448" stop-color="#00caff"/><stop offset="0.486" stop-color="#11ffee"/><stop offset="0.600" stop-color="#fff800"/><stop offset="0.676" stop-color="#ff5c00"/><stop offset="1.000" stop-color="#ff2200"/></linearGradient><linearGradient id="c317" x1="0" y1="0" x2="0" y2="1"><stop offset="0.000" stop-color="#0000e6"/><stop offset="0.048" stop-color="#0000f7"/><stop offset="0.105" stop-color="#0027ff"/><stop offset="0.152" stop-color="#001fff"/><stop offset="0.210" stop-color="#003eff"/><stop offset="0.324" stop-color="#005aff"/><stop offset="0.400" stop-color="#0000f4"/><stop offset="0.419" stop-color="#001fff"/><stop offset="0.467" stop-color="#00d9ff"/><stop offset="0.514" stop-color="#23ffdc"/><stop offset="0.619" stop-color="#fff600"/><stop offset="0.705" stop-color="#ff8c00"/><stop offset="1.000" stop-color="#ff5d00"/></linearGradient><linearGradient id="c318" x1="0" y1="0" x2="0" y2="1"><stop offset="0.000" stop-color="#0000c2"/><stop offset="0.048" stop-color="#0000ad"/><stop offset="0.152" stop-color="#0000ba"/><stop offset="0.190" stop-color="#0010ff"/><stop offset="0.371" stop-color="#0000f0"/><stop offset="0.400" stop-color="#0000dd"/><stop offset="0.410" stop-color="#0000fa"/><stop offset="0.457" stop-color="#00d4ff"/><stop offset="0.505" stop-color="#1cffe3"/><stop offset="0.610" stop-color="#ffff00"/><stop offset="0.638" stop-color="#ffd600"/><stop offset="1.000" stop-color="#ffa800"/></linearGradient><linearGradient id="c319" x1="0" y1="0" x2="0" y2="1"><stop offset="0.000" stop-color="#0000cb"/><stop offset="0.162" stop-color="#0000e0"/><stop offset="0.210" stop-color="#002fff"/><stop offset="0.267" stop-color="#0019ff"/><stop offset="0.362" stop-color="#0000e6"/><stop offset="0.400" stop-color="#0000d8"/><stop offset="0.410" stop-color="#0000fc"/><stop offset="0.457" stop-color="#00d0ff"/><stop offset="0.505" stop-color="#1cffe3"/><stop offset="0.610" stop-color="#feff01"/><stop offset="0.695" stop-color="#ff9100"/><stop offset="1.000" stop-color="#ff6000"/></linearGradient><linearGradient id="c320" x1="0" y1="0" x2="0" y2="1"><stop offset="0.000" stop-color="#0000dd"/><stop offset="0.095" stop-color="#0020ff"/><stop offset="0.181" stop-color="#0031ff"/><stop offset="0.248" stop-color="#0024ff"/><stop offset="0.286" stop-color="#0000dd"/><stop offset="0.381" stop-color="#0000c5"/><stop offset="0.400" stop-color="#0011ff"/><stop offset="0.438" stop-color="#00c4ff"/><stop offset="0.486" stop-color="#1effe1"/><stop offset="0.590" stop-color="#fffd00"/><stop offset="0.667" stop-color="#ff6100"/><stop offset="1.000" stop-color="#ff3000"/></linearGradient><linearGradient id="c321" x1="0" y1="0" x2="0" y2="1"><stop offset="0.000" stop-color="#0000ff"/><stop offset="0.210" stop-color="#0043ff"/><stop offset="0.276" stop-color="#0000e6"/><stop offset="0.324" stop-color="#0000e5"/><stop offset="0.362" stop-color="#0068ff"/><stop offset="0.429" stop-color="#0efff1"/><stop offset="0.533" stop-color="#fff400"/><stop offset="0.610" stop-color="#ff5b00"/><stop offset="0.962" stop-color="#f50000"/><stop offset="1.000" stop-color="#f00000"/></linearGradient><linearGradient id="c322" x1="0" y1="0" x2="0" y2="1"><stop offset="0.000" stop-color="#001eff"/><stop offset="0.152" stop-color="#0020ff"/><stop offset="0.238" stop-color="#0033ff"/><stop offset="0.305" stop-color="#0022ff"/><stop offset="0.410" stop-color="#05fffa"/><stop offset="0.524" stop-color="#ffee00"/><stop offset="0.600" stop-color="#ff5900"/><stop offset="0.876" stop-color="#e70000"/><stop offset="1.000" stop-color="#d30000"/></linearGradient><linearGradient id="c323" x1="0" y1="0" x2="0" y2="1"><stop offset="0.000" stop-color="#005dff"/><stop offset="0.076" stop-color="#0073ff"/><stop offset="0.152" stop-color="#0048ff"/><stop offset="0.248" stop-color="#00b1ff"/><stop offset="0.314" stop-color="#00b9ff"/><stop offset="0.352" stop-color="#009aff"/><stop offset="0.400" stop-color="#07fff8"/><stop offset="0.514" stop-color="#fff500"/><stop offset="0.590" stop-color="#ff5a00"/><stop offset="0.829" stop-color="#e80000"/><stop offset="1.000" stop-color="#bd0000"/></linearGradient><linearGradient id="c324" x1="0" y1="0" x2="0" y2="1"><stop offset="0.000" stop-color="#0023ff"/><stop offset="0.086" stop-color="#0048ff"/><stop offset="0.162" stop-color="#0012ff"/><stop offset="0.295" stop-color="#00efff"/><stop offset="0.352" stop-color="#00ecff"/><stop offset="0.486" stop-color="#fff200"/><stop offset="0.562" stop-color="#ff5a00"/><stop offset="0.829" stop-color="#e70000"/><stop offset="1.000" stop-color="#bf0000"/></linearGradient><linearGradient id="c325" x1="0" y1="0" x2="0" y2="1"><stop offset="0.000" stop-color="#0085ff"/><stop offset="0.057" stop-color="#00a3ff"/><stop offset="0.200" stop-color="#0083ff"/><stop offset="0.276" stop-color="#04fffb"/><stop offset="0.352" stop-color="#00beff"/><stop offset="0.390" stop-color="#1dffe2"/><stop offset="0.514" stop-color="#ffee00"/><stop offset="0.590" stop-color="#ff5b00"/><stop offset="0.962" stop-color="#f30000"/><stop offset="1.000" stop-color="#ee0000"/></linearGradient><linearGradient id="c326" x1="0" y1="0" x2="0" y2="1"><stop offset="0.000" stop-color="#0031ff"/><stop offset="0.038" stop-color="#0088ff"/><stop offset="0.095" stop-color="#0041ff"/><stop offset="0.152" stop-color="#0087ff"/><stop offset="0.219" stop-color="#006bff"/><stop offset="0.362" stop-color="#00a1ff"/><stop offset="0.410" stop-color="#1effe1"/><stop offset="0.524" stop-color="#fffd00"/><stop offset="0.600" stop-color="#ff5d00"/><stop offset="1.000" stop-color="#ff1800"/></linearGradient><linearGradient id="c327" x1="0" y1="0" x2="0" y2="1"><stop offset="0.000" stop-color="#0006ff"/><stop offset="0.038" stop-color="#006fff"/><stop offset="0.105" stop-color="#0031ff"/><stop offset="0.171" stop-color="#0081ff"/><stop offset="0.238" stop-color="#006fff"/><stop offset="0.295" stop-color="#0059ff"/><stop offset="0.390" stop-color="#13ffec"/><stop offset="0.505" stop-color="#dfff20"/><stop offset="0.552" stop-color="#ffb500"/><stop offset="0.600" stop-color="#ff6a00"/><stop offset="1.000" stop-color="#ff3900"/></linearGradient><linearGradient id="c328" x1="0" y1="0" x2="0" y2="1"><stop offset="0.000" stop-color="#001eff"/><stop offset="0.048" stop-color="#0072ff"/><stop offset="0.181" stop-color="#007cff"/><stop offset="0.238" stop-color="#0079ff"/><stop offset="0.305" stop-color="#0062ff"/><stop offset="0.362" stop-color="#00bfff"/><stop offset="0.410" stop-color="#0bfff4"/><stop offset="0.476" stop-color="#45ffba"/><stop offset="0.562" stop-color="#fff900"/><stop offset="0.629" stop-color="#ffb600"/><stop offset="1.000" stop-color="#ff8100"/></linearGradient><linearGradient id="c329" x1="0" y1="0" x2="0" y2="1"><stop offset="0.000" stop-color="#001dff"/><stop offset="0.067" stop-color="#00a2ff"/><stop offset="0.133" stop-color="#0083ff"/><stop offset="0.181" stop-color="#0073ff"/><stop offset="0.238" stop-color="#007fff"/><stop offset="0.295" stop-color="#0065ff"/><stop offset="0.362" stop-color="#0079ff"/><stop offset="0.429" stop-color="#00fbff"/><stop offset="0.495" stop-color="#56ffa9"/><stop offset="0.581" stop-color="#ffe500"/><stop offset="0.762" stop-color="#ffac00"/><stop offset="1.000" stop-color="#ff8a00"/></linearGradient><linearGradient id="c330" x1="0" y1="0" x2="0" y2="1"><stop offset="0.000" stop-color="#0004ff"/><stop offset="0.114" stop-color="#0095ff"/><stop offset="0.200" stop-color="#0086ff"/><stop offset="0.352" stop-color="#003fff"/><stop offset="0.419" stop-color="#00e6ff"/><stop offset="0.467" stop-color="#21ffde"/><stop offset="0.571" stop-color="#ffee00"/><stop offset="0.648" stop-color="#ff8400"/><stop offset="1.000" stop-color="#ff5300"/></linearGradient><linearGradient id="c331" x1="0" y1="0" x2="0" y2="1"><stop offset="0.000" stop-color="#0000df"/><stop offset="0.038" stop-color="#0000b7"/><stop offset="0.086" stop-color="#0014ff"/><stop offset="0.143" stop-color="#0078ff"/><stop offset="0.238" stop-color="#0054ff"/><stop offset="0.295" stop-color="#000aff"/><stop offset="0.381" stop-color="#0014ff"/><stop offset="0.438" stop-color="#00d1ff"/><stop offset="0.476" stop-color="#16ffe9"/><stop offset="0.590" stop-color="#ffed00"/><stop offset="0.667" stop-color="#ff6800"/><stop offset="1.000" stop-color="#ff3700"/></linearGradient><linearGradient id="c332" x1="0" y1="0" x2="0" y2="1"><stop offset="0.000" stop-color="#0000dc"/><stop offset="0.048" stop-color="#0000b0"/><stop offset="0.095" stop-color="#0012ff"/><stop offset="0.143" stop-color="#004eff"/><stop offset="0.362" stop-color="#000bff"/><stop offset="0.400" stop-color="#0012ff"/><stop offset="0.448" stop-color="#00d2ff"/><stop offset="0.495" stop-color="#22ffdd"/><stop offset="0.600" stop-color="#fff600"/><stop offset="0.676" stop-color="#ff5c00"/><stop offset="1.000" stop-color="#ff1f00"/></linearGradient><linearGradient id="c333" x1="0" y1="0" x2="0" y2="1"><stop offset="0.000" stop-color="#0000d1"/><stop offset="0.076" stop-color="#0000de"/><stop offset="0.124" stop-color="#0030ff"/><stop offset="0.229" stop-color="#0015ff"/><stop offset="0.295" stop-color="#0052ff"/><stop offset="0.381" stop-color="#0014ff"/><stop offset="0.438" stop-color="#00e3ff"/><stop offset="0.505" stop-color="#51ffae"/><stop offset="0.590" stop-color="#ffeb00"/><stop offset="0.667" stop-color="#ff5a00"/><stop offset="1.000" stop-color="#fa0000"/></linearGradient><linearGradient id="c334" x1="0" y1="0" x2="0" y2="1"><stop offset="0.000" stop-color="#0000e3"/><stop offset="0.086" stop-color="#0000da"/><stop offset="0.133" stop-color="#0000fb"/><stop offset="0.257" stop-color="#000cff"/><stop offset="0.305" stop-color="#002aff"/><stop offset="0.371" stop-color="#0000e3"/><stop offset="0.390" stop-color="#0033ff"/><stop offset="0.429" stop-color="#00d9ff"/><stop offset="0.467" stop-color="#1affe5"/><stop offset="0.581" stop-color="#fff500"/><stop offset="0.657" stop-color="#ff5b00"/><stop offset="0.971" stop-color="#f80000"/><stop offset="1.000" stop-color="#f40000"/></linearGradient><linearGradient id="c335" x1="0" y1="0" x2="0" y2="1"><stop offset="0.000" stop-color="#000eff"/><stop offset="0.086" stop-color="#0000cf"/><stop offset="0.200" stop-color="#0000e0"/><stop offset="0.248" stop-color="#0000b4"/><stop offset="0.305" stop-color="#0000e8"/><stop offset="0.362" stop-color="#0000be"/><stop offset="0.400" stop-color="#0000fa"/><stop offset="0.457" stop-color="#00d6ff"/><stop offset="0.505" stop-color="#28ffd7"/><stop offset="0.610" stop-color="#ffef00"/><stop offset="0.686" stop-color="#ff5b00"/><stop offset="1.000" stop-color="#ff1900"/></linearGradient><linearGradient id="c336" x1="0" y1="0" x2="0" y2="1"><stop offset="0.000" stop-color="#000eff"/><stop offset="0.048" stop-color="#0000b7"/><stop offset="0.095" stop-color="#0000a4"/><stop offset="0.219" stop-color="#0000bb"/><stop offset="0.324" stop-color="#0000b3"/><stop offset="0.362" stop-color="#0000c6"/><stop offset="0.410" stop-color="#0000fe"/><stop offset="0.429" stop-color="#001eff"/><stop offset="0.476" stop-color="#00d2ff"/><stop offset="0.524" stop-color="#22ffdd"/><stop offset="0.629" stop-color="#fff700"/><stop offset="0.705" stop-color="#ff7100"/><stop offset="1.000" stop-color="#ff4000"/></linearGradient><linearGradient id="c337" x1="0" y1="0" x2="0" y2="1"><stop offset="0.000" stop-color="#0000de"/><stop offset="0.095" stop-color="#000080"/><stop offset="0.267" stop-color="#0000b0"/><stop offset="0.343" stop-color="#0000bb"/><stop offset="0.410" stop-color="#0005ff"/><stop offset="0.448" stop-color="#000eff"/><stop offset="0.505" stop-color="#00d7ff"/><stop offset="0.552" stop-color="#29ffd6"/><stop offset="0.657" stop-color="#ffed00"/><stop offset="0.752" stop-color="#ff9a00"/><stop offset="1.000" stop-color="#ff6d00"/></linearGradient><linearGradient id="c338" x1="0" y1="0" x2="0" y2="1"><stop offset="0.000" stop-color="#0000b0"/><stop offset="0.057" stop-color="#0000c4"/><stop offset="0.105" stop-color="#000080"/><stop offset="0.333" stop-color="#0000c1"/><stop offset="0.429" stop-color="#0006ff"/><stop offset="0.457" stop-color="#000dff"/><stop offset="0.514" stop-color="#00d3ff"/><stop offset="0.562" stop-color="#25ffda"/><stop offset="0.667" stop-color="#fff200"/><stop offset="0.724" stop-color="#ffd400"/><stop offset="1.000" stop-color="#ffa200"/></linearGradient><linearGradient id="c339" x1="0" y1="0" x2="0" y2="1"><stop offset="0.000" stop-color="#0000a3"/><stop offset="0.048" stop-color="#0000ee"/><stop offset="0.114" stop-color="#000098"/><stop offset="0.229" stop-color="#00009b"/><stop offset="0.286" stop-color="#0000d0"/><stop offset="0.400" stop-color="#0000f3"/><stop offset="0.419" stop-color="#0012ff"/><stop offset="0.467" stop-color="#00cbff"/><stop offset="0.514" stop-color="#12ffed"/><stop offset="0.629" stop-color="#fff600"/><stop offset="0.705" stop-color="#ffae00"/><stop offset="1.000" stop-color="#ff7c00"/></linearGradient><linearGradient id="c340" x1="0" y1="0" x2="0" y2="1"><stop offset="0.000" stop-color="#0000b0"/><stop offset="0.038" stop-color="#0010ff"/><stop offset="0.181" stop-color="#0000e9"/><stop offset="0.229" stop-color="#0000bc"/><stop offset="0.286" stop-color="#0000df"/><stop offset="0.400" stop-color="#0000e8"/><stop offset="0.448" stop-color="#00daff"/><stop offset="0.495" stop-color="#12ffed"/><stop offset="0.610" stop-color="#fff700"/><stop offset="0.686" stop-color="#ff7000"/><stop offset="1.000" stop-color="#ff3f00"/></linearGradient><linearGradient id="c341" x1="0" y1="0" x2="0" y2="1"><stop offset="0.000" stop-color="#000080"/><stop offset="0.076" stop-color="#0009ff"/><stop offset="0.190" stop-color="#0000ea"/><stop offset="0.238" stop-color="#0000b4"/><stop offset="0.324" stop-color="#0000d1"/><stop offset="0.381" stop-color="#000cff"/><stop offset="0.438" stop-color="#00f1ff"/><stop offset="0.514" stop-color="#69ff96"/><stop offset="0.590" stop-color="#ffe700"/><stop offset="0.667" stop-color="#ff5a00"/><stop offset="1.000" stop-color="#ff0c00"/></linearGradient><linearGradient id="c342" x1="0" y1="0" x2="0" y2="1"><stop offset="0.000" stop-color="#000086"/><stop offset="0.086" stop-color="#0000f8"/><stop offset="0.190" stop-color="#0000e7"/><stop offset="0.257" stop-color="#0000a4"/><stop offset="0.343" stop-color="#0003ff"/><stop offset="0.390" stop-color="#00c4ff"/><stop offset="0.448" stop-color="#24ffdb"/><stop offset="0.552" stop-color="#fff600"/><stop offset="0.629" stop-color="#ff5b00"/><stop offset="0.895" stop-color="#ea0000"/><stop offset="1.000" stop-color="#db0000"/></linearGradient><linearGradient id="c343" x1="0" y1="0" x2="0" y2="1"><stop offset="0.000" stop-color="#0000a5"/><stop offset="0.143" stop-color="#0000de"/><stop offset="0.219" stop-color="#0000e3"/><stop offset="0.362" stop-color="#001dff"/><stop offset="0.429" stop-color="#00ceff"/><stop offset="0.467" stop-color="#0ffff0"/><stop offset="0.581" stop-color="#ffea00"/><stop offset="0.657" stop-color="#ff5a00"/><stop offset="1.000" stop-color="#ff0900"/></linearGradient><linearGradient id="c344" x1="0" y1="0" x2="0" y2="1"><stop offset="0.000" stop-color="#00008d"/><stop offset="0.105" stop-color="#0000c4"/><stop offset="0.143" stop-color="#0019ff"/><stop offset="0.257" stop-color="#0025ff"/><stop offset="0.314" stop-color="#004dff"/><stop offset="0.400" stop-color="#001cff"/><stop offset="0.457" stop-color="#00cbff"/><stop offset="0.495" stop-color="#1affe5"/><stop offset="0.610" stop-color="#ffec00"/><stop offset="0.686" stop-color="#ff7400"/><stop offset="1.000" stop-color="#ff4300"/></linearGradient><linearGradient id="c345" x1="0" y1="0" x2="0" y2="1"><stop offset="0.000" stop-color="#0000db"/><stop offset="0.076" stop-color="#0000fb"/><stop offset="0.114" stop-color="#0017ff"/><stop offset="0.162" stop-color="#0070ff"/><stop offset="0.229" stop-color="#0066ff"/><stop offset="0.286" stop-color="#00cfff"/><stop offset="0.381" stop-color="#0084ff"/><stop offset="0.467" stop-color="#07fff8"/><stop offset="0.590" stop-color="#ffef00"/><stop offset="0.686" stop-color="#ff9e00"/><stop offset="1.000" stop-color="#ff7000"/></linearGradient><linearGradient id="c346" x1="0" y1="0" x2="0" y2="1"><stop offset="0.000" stop-color="#0000c3"/><stop offset="0.057" stop-color="#0000f1"/><stop offset="0.105" stop-color="#0000d0"/><stop offset="0.152" stop-color="#002fff"/><stop offset="0.229" stop-color="#0047ff"/><stop offset="0.286" stop-color="#0092ff"/><stop offset="0.371" stop-color="#003bff"/><stop offset="0.438" stop-color="#00f6ff"/><stop offset="0.505" stop-color="#56ffa9"/><stop offset="0.590" stop-color="#ffe600"/><stop offset="0.714" stop-color="#ffa900"/><stop offset="1.000" stop-color="#ff8000"/></linearGradient><linearGradient id="c347" x1="0" y1="0" x2="0" y2="1"><stop offset="0.000" stop-color="#0000e9"/><stop offset="0.048" stop-color="#005bff"/><stop offset="0.124" stop-color="#0023ff"/><stop offset="0.257" stop-color="#0097ff"/><stop offset="0.362" stop-color="#004cff"/><stop offset="0.438" stop-color="#06fff9"/><stop offset="0.543" stop-color="#c5ff3a"/><stop offset="0.581" stop-color="#ffdd00"/><stop offset="0.648" stop-color="#ff7200"/><stop offset="1.000" stop-color="#ff4100"/></linearGradient><linearGradient id="c348" x1="0" y1="0" x2="0" y2="1"><stop offset="0.000" stop-color="#00cbff"/><stop offset="0.029" stop-color="#21ffde"/><stop offset="0.067" stop-color="#22ffdd"/><stop offset="0.105" stop-color="#00cbff"/><stop offset="0.152" stop-color="#00afff"/><stop offset="0.219" stop-color="#0dfff2"/><stop offset="0.295" stop-color="#00f5ff"/><stop offset="0.343" stop-color="#0095ff"/><stop offset="0.390" stop-color="#09fff6"/><stop offset="0.495" stop-color="#ffff00"/><stop offset="0.581" stop-color="#ff5a00"/><stop offset="0.990" stop-color="#f30000"/><stop offset="1.000" stop-color="#f20000"/></linearGradient><linearGradient id="c349" x1="0" y1="0" x2="0" y2="1"><stop offset="0.000" stop-color="#00dfff"/><stop offset="0.048" stop-color="#19ffe6"/><stop offset="0.086" stop-color="#00b0ff"/><stop offset="0.124" stop-color="#0089ff"/><stop offset="0.276" stop-color="#00e0ff"/><stop offset="0.324" stop-color="#00a0ff"/><stop offset="0.371" stop-color="#0bfff4"/><stop offset="0.448" stop-color="#a7ff58"/><stop offset="0.495" stop-color="#ffe700"/><stop offset="0.571" stop-color="#ff5900"/><stop offset="0.867" stop-color="#e50000"/><stop offset="1.000" stop-color="#ce0000"/></linearGradient><linearGradient id="c350" x1="0" y1="0" x2="0" y2="1"><stop offset="0.000" stop-color="#0047ff"/><stop offset="0.057" stop-color="#007bff"/><stop offset="0.105" stop-color="#004cff"/><stop offset="0.171" stop-color="#0067ff"/><stop offset="0.276" stop-color="#0088ff"/><stop offset="0.314" stop-color="#0081ff"/><stop offset="0.371" stop-color="#00f8ff"/><stop offset="0.419" stop-color="#1dffe2"/><stop offset="0.514" stop-color="#fff400"/><stop offset="0.590" stop-color="#ff5a00"/><stop offset="0.867" stop-color="#e70000"/><stop offset="1.000" stop-color="#cf0000"/></linearGradient><linearGradient id="c351" x1="0" y1="0" x2="0" y2="1"><stop offset="0.000" stop-color="#005fff"/><stop offset="0.076" stop-color="#00e4ff"/><stop offset="0.200" stop-color="#00b2ff"/><stop offset="0.352" stop-color="#00d6ff"/><stop offset="0.410" stop-color="#00f0ff"/><stop offset="0.524" stop-color="#fff400"/><stop offset="0.600" stop-color="#ff5b00"/><stop offset="1.000" stop-color="#f50000"/></linearGradient><linearGradient id="c352" x1="0" y1="0" x2="0" y2="1"><stop offset="0.000" stop-color="#0000ec"/><stop offset="0.029" stop-color="#0023ff"/><stop offset="0.076" stop-color="#009dff"/><stop offset="0.124" stop-color="#0075ff"/><stop offset="0.181" stop-color="#0032ff"/><stop offset="0.305" stop-color="#0074ff"/><stop offset="0.352" stop-color="#00c2ff"/><stop offset="0.419" stop-color="#14ffeb"/><stop offset="0.524" stop-color="#ffe900"/><stop offset="0.600" stop-color="#ff5b00"/><stop offset="1.000" stop-color="#ff1600"/></linearGradient><linearGradient id="c353" x1="0" y1="0" x2="0" y2="1"><stop offset="0.000" stop-color="#0000d6"/><stop offset="0.038" stop-color="#000bff"/><stop offset="0.086" stop-color="#006dff"/><stop offset="0.190" stop-color="#0023ff"/><stop offset="0.276" stop-color="#008eff"/><stop offset="0.324" stop-color="#0086ff"/><stop offset="0.400" stop-color="#00dfff"/><stop offset="0.448" stop-color="#4affb5"/><stop offset="0.524" stop-color="#fff900"/><stop offset="0.610" stop-color="#ff7600"/><stop offset="1.000" stop-color="#ff4600"/></linearGradient><linearGradient id="c354" x1="0" y1="0" x2="0" y2="1"><stop offset="0.000" stop-color="#0000da"/><stop offset="0.038" stop-color="#0000f2"/><stop offset="0.124" stop-color="#0034ff"/><stop offset="0.200" stop-color="#003aff"/><stop offset="0.267" stop-color="#0094ff"/><stop offset="0.362" stop-color="#0043ff"/><stop offset="0.448" stop-color="#05fffa"/><stop offset="0.562" stop-color="#fff800"/><stop offset="0.610" stop-color="#ffcc00"/><stop offset="1.000" stop-color="#ff9400"/></linearGradient><linearGradient id="c355" x1="0" y1="0" x2="0" y2="1"><stop offset="0.000" stop-color="#0000cf"/><stop offset="0.048" stop-color="#0000cb"/><stop offset="0.105" stop-color="#001dff"/><stop offset="0.305" stop-color="#002bff"/><stop offset="0.371" stop-color="#0018ff"/><stop offset="0.438" stop-color="#00e0ff"/><stop offset="0.495" stop-color="#4cffb3"/><stop offset="0.581" stop-color="#fff100"/><stop offset="0.657" stop-color="#ff7100"/><stop offset="1.000" stop-color="#ff3f00"/></linearGradient><linearGradient id="c356" x1="0" y1="0" x2="0" y2="1"><stop offset="0.000" stop-color="#0000b4"/><stop offset="0.057" stop-color="#000097"/><stop offset="0.105" stop-color="#0005ff"/><stop offset="0.200" stop-color="#0000f4"/><stop offset="0.248" stop-color="#0000e0"/><stop offset="0.305" stop-color="#0000db"/><stop offset="0.362" stop-color="#0000d4"/><stop offset="0.390" stop-color="#001cff"/><stop offset="0.448" stop-color="#00e8ff"/><stop offset="0.514" stop-color="#5cffa3"/><stop offset="0.590" stop-color="#fff500"/><stop offset="0.667" stop-color="#ff5c00"/><stop offset="1.000" stop-color="#ff0d00"/></linearGradient><linearGradient id="c357" x1="0" y1="0" x2="0" y2="1"><stop offset="0.000" stop-color="#00009f"/><stop offset="0.057" stop-color="#0000a1"/><stop offset="0.152" stop-color="#0005ff"/><stop offset="0.229" stop-color="#0000cd"/><stop offset="0.286" stop-color="#0000e5"/><stop offset="0.362" stop-color="#0000c2"/><stop offset="0.390" stop-color="#0017ff"/><stop offset="0.448" stop-color="#00f3ff"/><stop offset="0.581" stop-color="#fff200"/><stop offset="0.657" stop-color="#ff5b00"/><stop offset="1.000" stop-color="#fc0000"/></linearGradient><linearGradient id="c358" x1="0" y1="0" x2="0" y2="1"><stop offset="0.000" stop-color="#0000b3"/><stop offset="0.067" stop-color="#0000af"/><stop offset="0.162" stop-color="#000dff"/><stop offset="0.238" stop-color="#0000d3"/><stop offset="0.314" stop-color="#0000fc"/><stop offset="0.400" stop-color="#0000b0"/><stop offset="0.419" stop-color="#0008ff"/><stop offset="0.457" stop-color="#00c9ff"/><stop offset="0.505" stop-color="#1effe1"/><stop offset="0.610" stop-color="#fffd00"/><stop offset="0.695" stop-color="#ff6e00"/><stop offset="1.000" stop-color="#ff3e00"/></linearGradient><linearGradient id="c359" x1="0" y1="0" x2="0" y2="1"><stop offset="0.000" stop-color="#0000c2"/><stop offset="0.095" stop-color="#0000ee"/><stop offset="0.190" stop-color="#0007ff"/><stop offset="0.238" stop-color="#0000c8"/><stop offset="0.295" stop-color="#0018ff"/><stop offset="0.343" stop-color="#0000e2"/><stop offset="0.390" stop-color="#0000c4"/><stop offset="0.448" stop-color="#0009ff"/><stop offset="0.495" stop-color="#00caff"/><stop offset="0.543" stop-color="#1cffe3"/><stop offset="0.648" stop-color="#ffff00"/><stop offset="0.676" stop-color="#ffd400"/><stop offset="1.000" stop-color="#ffa100"/></linearGradient><linearGradient id="c360" x1="0" y1="0" x2="0" y2="1"><stop offset="0.000" stop-color="#000098"/><stop offset="0.076" stop-color="#000bff"/><stop offset="0.190" stop-color="#0000d2"/><stop offset="0.248" stop-color="#0000bd"/><stop offset="0.305" stop-color="#0000e5"/><stop offset="0.362" stop-color="#0000ae"/><stop offset="0.390" stop-color="#000bff"/><stop offset="0.429" stop-color="#00c2ff"/><stop offset="0.476" stop-color="#0ffff0"/><stop offset="0.590" stop-color="#fff300"/><stop offset="0.676" stop-color="#ff8300"/><stop offset="1.000" stop-color="#ff5400"/></linearGradient><linearGradient id="c361" x1="0" y1="0" x2="0" y2="1"><stop offset="0.000" stop-color="#0000b0"/><stop offset="0.067" stop-color="#0016ff"/><stop offset="0.124" stop-color="#0006ff"/><stop offset="0.238" stop-color="#0000c8"/><stop offset="0.295" stop-color="#0000f8"/><stop offset="0.362" stop-color="#000091"/><stop offset="0.381" stop-color="#0000c2"/><stop offset="0.390" stop-color="#0000ff"/><stop offset="0.429" stop-color="#00c2ff"/><stop offset="0.476" stop-color="#14ffeb"/><stop offset="0.590" stop-color="#ffeb00"/><stop offset="0.667" stop-color="#ff5b00"/><stop offset="1.000" stop-color="#ff2000"/></linearGradient><linearGradient id="c362" x1="0" y1="0" x2="0" y2="1"><stop offset="0.000" stop-color="#0000a3"/><stop offset="0.057" stop-color="#0000e0"/><stop offset="0.133" stop-color="#0000b0"/><stop offset="0.190" stop-color="#0000e0"/><stop offset="0.248" stop-color="#0000d2"/><stop offset="0.305" stop-color="#0000fd"/><stop offset="0.362" stop-color="#00008e"/><stop offset="0.381" stop-color="#0000a2"/><stop offset="0.400" stop-color="#000cff"/><stop offset="0.438" stop-color="#00b4ff"/><stop offset="0.476" stop-color="#0ffff0"/><stop offset="0.590" stop-color="#fff300"/><stop offset="0.667" stop-color="#ff5b00"/><stop offset="1.000" stop-color="#fb0000"/></linearGradient><linearGradient id="c363" x1="0" y1="0" x2="0" y2="1"><stop offset="0.000" stop-color="#000080"/><stop offset="0.429" stop-color="#00008e"/><stop offset="0.524" stop-color="#0019ff"/><stop offset="0.657" stop-color="#0cfff3"/><stop offset="0.733" stop-color="#8fff70"/><stop offset="0.924" stop-color="#fffb00"/><stop offset="1.000" stop-color="#ffe800"/></linearGradient><linearGradient id="c364" x1="0" y1="0" x2="0" y2="1"><stop offset="0.000" stop-color="#000080"/><stop offset="0.171" stop-color="#00008d"/><stop offset="0.210" stop-color="#0000a9"/><stop offset="0.257" stop-color="#000080"/><stop offset="0.438" stop-color="#000080"/><stop offset="0.467" stop-color="#0010ff"/><stop offset="0.514" stop-color="#007aff"/><stop offset="0.571" stop-color="#04fffb"/><stop offset="0.667" stop-color="#baff45"/><stop offset="0.752" stop-color="#fff500"/><stop offset="0.943" stop-color="#ff9b00"/><stop offset="1.000" stop-color="#ff8e00"/></linearGradient><linearGradient id="c365" x1="0" y1="0" x2="0" y2="1"><stop offset="0.000" stop-color="#000080"/><stop offset="0.133" stop-color="#000090"/><stop offset="0.171" stop-color="#0000a2"/><stop offset="0.210" stop-color="#0000f4"/><stop offset="0.257" stop-color="#00009d"/><stop offset="0.305" stop-color="#000086"/><stop offset="0.343" stop-color="#0000d0"/><stop offset="0.381" stop-color="#000080"/><stop offset="0.448" stop-color="#000096"/><stop offset="0.476" stop-color="#0003ff"/><stop offset="0.524" stop-color="#0072ff"/><stop offset="0.552" stop-color="#09fff6"/><stop offset="0.581" stop-color="#92ff6d"/><stop offset="0.667" stop-color="#fff700"/><stop offset="0.914" stop-color="#ff7c00"/><stop offset="1.000" stop-color="#ff6a00"/></linearGradient><linearGradient id="c366" x1="0" y1="0" x2="0" y2="1"><stop offset="0.000" stop-color="#000083"/><stop offset="0.095" stop-color="#000095"/><stop offset="0.124" stop-color="#000099"/><stop offset="0.181" stop-color="#000080"/><stop offset="0.219" stop-color="#0000f7"/><stop offset="0.276" stop-color="#0000d7"/><stop offset="0.305" stop-color="#0016ff"/><stop offset="0.343" stop-color="#0048ff"/><stop offset="0.381" stop-color="#0000e5"/><stop offset="0.419" stop-color="#0000aa"/><stop offset="0.467" stop-color="#0007ff"/><stop offset="0.514" stop-color="#009eff"/><stop offset="0.533" stop-color="#20ffdf"/><stop offset="0.571" stop-color="#f5ff0a"/><stop offset="0.619" stop-color="#ffbf00"/><stop offset="0.638" stop-color="#ffe400"/><stop offset="0.895" stop-color="#ff6200"/><stop offset="1.000" stop-color="#ff4d00"/></linearGradient><linearGradient id="c367" x1="0" y1="0" x2="0" y2="1"><stop offset="0.000" stop-color="#000080"/><stop offset="0.210" stop-color="#000090"/><stop offset="0.238" stop-color="#00009e"/><stop offset="0.267" stop-color="#00009a"/><stop offset="0.314" stop-color="#0019ff"/><stop offset="0.362" stop-color="#0013ff"/><stop offset="0.410" stop-color="#0009ff"/><stop offset="0.505" stop-color="#00adff"/><stop offset="0.524" stop-color="#0ffff0"/><stop offset="0.562" stop-color="#b0ff4f"/><stop offset="0.600" stop-color="#ffef00"/><stop offset="0.629" stop-color="#ffdd00"/><stop offset="0.638" stop-color="#fffc00"/><stop offset="0.648" stop-color="#ffcb00"/><stop offset="0.914" stop-color="#ff5200"/><stop offset="1.000" stop-color="#ff4100"/></linearGradient><linearGradient id="c368" x1="0" y1="0" x2="0" y2="1"><stop offset="0.000" stop-color="#000080"/><stop offset="0.371" stop-color="#000084"/><stop offset="0.419" stop-color="#0012ff"/><stop offset="0.476" stop-color="#006eff"/><stop offset="0.562" stop-color="#00dfff"/><stop offset="0.590" stop-color="#3cffc3"/><stop offset="0.629" stop-color="#a5ff5a"/><stop offset="0.638" stop-color="#a9ff56"/><stop offset="0.657" stop-color="#fdff02"/><stop offset="0.914" stop-color="#ff7c00"/><stop offset="1.000" stop-color="#ff6a00"/></linearGradient><linearGradient id="c369" x1="0" y1="0" x2="0" y2="1"><stop offset="0.000" stop-color="#000080"/><stop offset="0.400" stop-color="#000089"/><stop offset="0.438" stop-color="#000dff"/><stop offset="0.495" stop-color="#0053ff"/><stop offset="0.552" stop-color="#002bff"/><stop offset="0.600" stop-color="#00afff"/><stop offset="0.629" stop-color="#02fffd"/><stop offset="0.705" stop-color="#97ff68"/><stop offset="0.886" stop-color="#fff500"/><stop offset="1.000" stop-color="#ffda00"/></linearGradient><linearGradient id="c370" x1="0" y1="0" x2="0" y2="1"><stop offset="0.000" stop-color="#000080"/><stop offset="0.438" stop-color="#000094"/><stop offset="0.495" stop-color="#0000f2"/><stop offset="0.552" stop-color="#0000c1"/><stop offset="0.581" stop-color="#000bff"/><stop offset="0.667" stop-color="#00f4ff"/><stop offset="0.752" stop-color="#7dff82"/><stop offset="0.933" stop-color="#eeff11"/><stop offset="1.000" stop-color="#fffe00"/></linearGradient><linearGradient id="c371" x1="0" y1="0" x2="0" y2="1"><stop offset="0.000" stop-color="#000080"/><stop offset="0.400" stop-color="#000089"/><stop offset="0.457" stop-color="#00009e"/><stop offset="0.514" stop-color="#0000a9"/><stop offset="0.562" stop-color="#0000be"/><stop offset="0.590" stop-color="#0001ff"/><stop offset="0.667" stop-color="#00cfff"/><stop offset="0.724" stop-color="#27ffd8"/><stop offset="0.924" stop-color="#c0ff3f"/><stop offset="1.000" stop-color="#d6ff29"/></linearGradient><linearGradient id="c372" x1="0" y1="0" x2="0" y2="1"><stop offset="0.000" stop-color="#000080"/><stop offset="0.324" stop-color="#000090"/><stop offset="0.362" stop-color="#000099"/><stop offset="0.410" stop-color="#00008f"/><stop offset="0.467" stop-color="#000aff"/><stop offset="0.552" stop-color="#0029ff"/><stop offset="0.610" stop-color="#009dff"/><stop offset="0.638" stop-color="#09fff6"/><stop offset="0.733" stop-color="#85ff7a"/><stop offset="0.933" stop-color="#f5ff0a"/><stop offset="1.000" stop-color="#fff800"/></linearGradient><linearGradient id="c373" x1="0" y1="0" x2="0" y2="1"><stop offset="0.000" stop-color="#000080"/><stop offset="0.305" stop-color="#00008e"/><stop offset="0.362" stop-color="#0000be"/><stop offset="0.457" stop-color="#0005ff"/><stop offset="0.524" stop-color="#0057ff"/><stop offset="0.590" stop-color="#00fdff"/><stop offset="0.638" stop-color="#7eff81"/><stop offset="0.733" stop-color="#ddff22"/><stop offset="0.867" stop-color="#ffd100"/><stop offset="1.000" stop-color="#ffb200"/></linearGradient><linearGradient id="c374" x1="0" y1="0" x2="0" y2="1"><stop offset="0.000" stop-color="#000080"/><stop offset="0.248" stop-color="#000088"/><stop offset="0.362" stop-color="#0016ff"/><stop offset="0.419" stop-color="#005bff"/><stop offset="0.476" stop-color="#0006ff"/><stop offset="0.543" stop-color="#00acff"/><stop offset="0.562" stop-color="#11ffee"/><stop offset="0.610" stop-color="#dbff24"/><stop offset="0.638" stop-color="#ffd800"/><stop offset="0.667" stop-color="#ffe200"/><stop offset="0.914" stop-color="#ff6b00"/><stop offset="1.000" stop-color="#ff5900"/></linearGradient><linearGradient id="c375" x1="0" y1="0" x2="0" y2="1"><stop offset="0.000" stop-color="#000080"/><stop offset="0.095" stop-color="#000094"/><stop offset="0.124" stop-color="#0000bf"/><stop offset="0.200" stop-color="#000080"/><stop offset="0.343" stop-color="#00009c"/><stop offset="0.410" stop-color="#0015ff"/><stop offset="0.486" stop-color="#0009ff"/><stop offset="0.543" stop-color="#0089ff"/><stop offset="0.571" stop-color="#00feff"/><stop offset="0.638" stop-color="#b1ff4e"/><stop offset="0.648" stop-color="#7cff83"/><stop offset="0.714" stop-color="#c3ff3c"/><stop offset="0.857" stop-color="#ffe200"/><stop offset="1.000" stop-color="#ffc200"/></linearGradient><linearGradient id="c376" x1="0" y1="0" x2="0" y2="1"><stop offset="0.000" stop-color="#000080"/><stop offset="0.105" stop-color="#000097"/><stop offset="0.143" stop-color="#0000bd"/><stop offset="0.210" stop-color="#000080"/><stop offset="0.390" stop-color="#00009f"/><stop offset="0.495" stop-color="#0000ec"/><stop offset="0.533" stop-color="#003fff"/><stop offset="0.581" stop-color="#00baff"/><stop offset="0.629" stop-color="#04fffb"/><stop offset="0.638" stop-color="#26ffd9"/><stop offset="0.648" stop-color="#0efff1"/><stop offset="0.724" stop-color="#85ff7a"/><stop offset="0.924" stop-color="#faff05"/><stop offset="1.000" stop-color="#fff100"/></linearGradient><linearGradient id="c377" x1="0" y1="0" x2="0" y2="1"><stop offset="0.000" stop-color="#000080"/><stop offset="0.505" stop-color="#000088"/><stop offset="0.581" stop-color="#0006ff"/><stop offset="0.619" stop-color="#0046ff"/><stop offset="0.657" stop-color="#00beff"/><stop offset="0.752" stop-color="#17ffe8"/><stop offset="0.933" stop-color="#92ff6d"/><stop offset="1.000" stop-color="#a5ff5a"/></linearGradient><linearGradient id="c378" x1="0" y1="0" x2="0" y2="1"><stop offset="0.000" stop-color="#000080"/><stop offset="0.057" stop-color="#0000ae"/><stop offset="0.105" stop-color="#000080"/><stop offset="0.533" stop-color="#00008d"/><stop offset="0.610" stop-color="#0013ff"/><stop offset="0.686" stop-color="#00c7ff"/><stop offset="0.781" stop-color="#1fffe0"/><stop offset="0.943" stop-color="#8fff70"/><stop offset="1.000" stop-color="#a1ff5e"/></linearGradient><linearGradient id="c379" x1="0" y1="0" x2="0" y2="1"><stop offset="0.000" stop-color="#000080"/><stop offset="0.038" stop-color="#00008c"/><stop offset="0.086" stop-color="#0000bb"/><stop offset="0.181" stop-color="#0000bb"/><stop offset="0.257" stop-color="#00008e"/><stop offset="0.410" stop-color="#000091"/><stop offset="0.467" stop-color="#0000a4"/><stop offset="0.514" stop-color="#000bff"/><stop offset="0.581" stop-color="#004cff"/><stop offset="0.638" stop-color="#00f3ff"/><stop offset="0.648" stop-color="#00cfff"/><stop offset="0.705" stop-color="#21ffde"/><stop offset="0.914" stop-color="#bcff43"/><stop offset="1.000" stop-color="#d3ff2c"/></linearGradient><linearGradient id="c380" x1="0" y1="0" x2="0" y2="1"><stop offset="0.000" stop-color="#000080"/><stop offset="0.114" stop-color="#00009d"/><stop offset="0.171" stop-color="#0000d1"/><stop offset="0.229" stop-color="#000080"/><stop offset="0.371" stop-color="#000080"/><stop offset="0.419" stop-color="#0000de"/><stop offset="0.476" stop-color="#000fff"/><stop offset="0.533" stop-color="#005bff"/><stop offset="0.581" stop-color="#005eff"/><stop offset="0.629" stop-color="#00fcff"/><stop offset="0.714" stop-color="#8aff75"/><stop offset="0.914" stop-color="#fffd00"/><stop offset="1.000" stop-color="#ffe800"/></linearGradient><linearGradient id="c381" x1="0" y1="0" x2="0" y2="1"><stop offset="0.000" stop-color="#000080"/><stop offset="0.143" stop-color="#000092"/><stop offset="0.181" stop-color="#000097"/><stop offset="0.343" stop-color="#000080"/><stop offset="0.371" stop-color="#000095"/><stop offset="0.400" stop-color="#0000fc"/><stop offset="0.457" stop-color="#000cff"/><stop offset="0.524" stop-color="#00b0ff"/><stop offset="0.581" stop-color="#00a2ff"/><stop offset="0.619" stop-color="#0ffff0"/><stop offset="0.648" stop-color="#55ffaa"/><stop offset="0.714" stop-color="#a2ff5d"/><stop offset="0.895" stop-color="#fff700"/><stop offset="1.000" stop-color="#ffdf00"/></linearGradient><linearGradient id="c382" x1="0" y1="0" x2="0" y2="1"><stop offset="0.000" stop-color="#000080"/><stop offset="0.371" stop-color="#000092"/><stop offset="0.419" stop-color="#0000e5"/><stop offset="0.467" stop-color="#001bff"/><stop offset="0.524" stop-color="#00daff"/><stop offset="0.600" stop-color="#0dfff2"/><stop offset="0.676" stop-color="#91ff6e"/><stop offset="0.886" stop-color="#fff200"/><stop offset="1.000" stop-color="#ffd800"/></linearGradient><linearGradient id="c383" x1="0" y1="0" x2="0" y2="1"><stop offset="0.000" stop-color="#000080"/><stop offset="0.429" stop-color="#00008d"/><stop offset="0.467" stop-color="#0002ff"/><stop offset="0.562" stop-color="#00cbff"/><stop offset="0.629" stop-color="#1fffe0"/><stop offset="0.638" stop-color="#2effd1"/><stop offset="0.648" stop-color="#11ffee"/><stop offset="0.724" stop-color="#83ff7c"/><stop offset="0.924" stop-color="#f7ff08"/><stop offset="1.000" stop-color="#fff400"/></linearGradient><linearGradient id="c384" x1="0" y1="0" x2="0" y2="1"><stop offset="0.000" stop-color="#000080"/><stop offset="0.438" stop-color="#000081"/><stop offset="0.476" stop-color="#0003ff"/><stop offset="0.552" stop-color="#0042ff"/><stop offset="0.619" stop-color="#00d4ff"/><stop offset="0.638" stop-color="#00f3ff"/><stop offset="0.648" stop-color="#00c5ff"/><stop offset="0.762" stop-color="#1dffe2"/><stop offset="0.943" stop-color="#8bff74"/><stop offset="1.000" stop-color="#9aff65"/></linearGradient><linearGradient id="c385" x1="0" y1="0" x2="0" y2="1"><stop offset="0.000" stop-color="#000080"/><stop offset="0.429" stop-color="#00008f"/><stop offset="0.495" stop-color="#0000c5"/><stop offset="0.552" stop-color="#0000d2"/><stop offset="0.590" stop-color="#0022ff"/><stop offset="0.638" stop-color="#0084ff"/><stop offset="0.648" stop-color="#006cff"/><stop offset="0.705" stop-color="#00cbff"/><stop offset="0.819" stop-color="#1affe5"/><stop offset="0.952" stop-color="#70ff8f"/><stop offset="1.000" stop-color="#7fff80"/></linearGradient><linearGradient id="c386" x1="0" y1="0" x2="0" y2="1"><stop offset="0.000" stop-color="#000080"/><stop offset="0.381" stop-color="#000087"/><stop offset="0.438" stop-color="#0000aa"/><stop offset="0.495" stop-color="#00009b"/><stop offset="0.581" stop-color="#0002ff"/><stop offset="0.638" stop-color="#006fff"/><stop offset="0.657" stop-color="#0078ff"/><stop offset="0.705" stop-color="#00c4ff"/><stop offset="0.800" stop-color="#00e8ff"/><stop offset="1.000" stop-color="#60ff9f"/></linearGradient><linearGradient id="c387" x1="0" y1="0" x2="0" y2="1"><stop offset="0.000" stop-color="#000080"/><stop offset="0.390" stop-color="#000093"/><stop offset="0.476" stop-color="#000088"/><stop offset="0.524" stop-color="#0007ff"/><stop offset="0.600" stop-color="#007eff"/><stop offset="0.724" stop-color="#03fffc"/><stop offset="0.933" stop-color="#8fff70"/><stop offset="1.000" stop-color="#a1ff5e"/></linearGradient><linearGradient id="c388" x1="0" y1="0" x2="0" y2="1"><stop offset="0.000" stop-color="#000080"/><stop offset="0.457" stop-color="#00008d"/><stop offset="0.495" stop-color="#0009ff"/><stop offset="0.533" stop-color="#005bff"/><stop offset="0.610" stop-color="#00b4ff"/><stop offset="0.648" stop-color="#0bfff4"/><stop offset="0.724" stop-color="#8aff75"/><stop offset="0.924" stop-color="#fffe00"/><stop offset="1.000" stop-color="#ffeb00"/></linearGradient><linearGradient id="c389" x1="0" y1="0" x2="0" y2="1"><stop offset="0.000" stop-color="#000080"/><stop offset="0.343" stop-color="#000095"/><stop offset="0.400" stop-color="#0000d7"/><stop offset="0.457" stop-color="#0000ce"/><stop offset="0.486" stop-color="#001dff"/><stop offset="0.533" stop-color="#0090ff"/><stop offset="0.610" stop-color="#00dfff"/><stop offset="0.638" stop-color="#21ffde"/><stop offset="0.695" stop-color="#84ff7b"/><stop offset="0.924" stop-color="#feff01"/><stop offset="1.000" stop-color="#ffee00"/></linearGradient><linearGradient id="c390" x1="0" y1="0" x2="0" y2="1"><stop offset="0.000" stop-color="#000080"/><stop offset="0.324" stop-color="#000090"/><stop offset="0.390" stop-color="#0000a9"/><stop offset="0.448" stop-color="#0000ac"/><stop offset="0.505" stop-color="#0012ff"/><stop offset="0.619" stop-color="#00cdff"/><stop offset="0.686" stop-color="#1cffe3"/><stop offset="0.914" stop-color="#baff45"/><stop offset="1.000" stop-color="#d0ff2f"/></linearGradient><linearGradient id="c391" x1="0" y1="0" x2="0" y2="1"><stop offset="0.000" stop-color="#000080"/><stop offset="0.476" stop-color="#00009a"/><stop offset="0.543" stop-color="#001cff"/><stop offset="0.619" stop-color="#00a5ff"/><stop offset="0.790" stop-color="#17ffe8"/><stop offset="0.943" stop-color="#74ff8b"/><stop offset="1.000" stop-color="#84ff7b"/></linearGradient><linearGradient id="c392" x1="0" y1="0" x2="0" y2="1"><stop offset="0.000" stop-color="#000080"/><stop offset="0.390" stop-color="#000097"/><stop offset="0.552" stop-color="#0000ab"/><stop offset="0.600" stop-color="#0019ff"/><stop offset="0.648" stop-color="#0044ff"/><stop offset="0.705" stop-color="#00c3ff"/><stop offset="0.781" stop-color="#0097ff"/><stop offset="0.914" stop-color="#0dfff2"/><stop offset="1.000" stop-color="#29ffd6"/></linearGradient><linearGradient id="c393" x1="0" y1="0" x2="0" y2="1"><stop offset="0.000" stop-color="#000080"/><stop offset="0.333" stop-color="#000093"/><stop offset="0.448" stop-color="#00008d"/><stop offset="0.524" stop-color="#00009a"/><stop offset="0.610" stop-color="#0012ff"/><stop offset="0.638" stop-color="#0022ff"/><stop offset="0.676" stop-color="#0090ff"/><stop offset="0.714" stop-color="#00c2ff"/><stop offset="0.800" stop-color="#00daff"/><stop offset="0.895" stop-color="#33ffcc"/><stop offset="1.000" stop-color="#57ffa8"/></linearGradient><linearGradient id="c394" x1="0" y1="0" x2="0" y2="1"><stop offset="0.000" stop-color="#000080"/><stop offset="0.314" stop-color="#000090"/><stop offset="0.448" stop-color="#000090"/><stop offset="0.524" stop-color="#0016ff"/><stop offset="0.705" stop-color="#00f2ff"/><stop offset="0.933" stop-color="#96ff69"/><stop offset="1.000" stop-color="#a8ff57"/></linearGradient><linearGradient id="c395" x1="0" y1="0" x2="0" y2="1"><stop offset="0.000" stop-color="#000080"/><stop offset="0.438" stop-color="#000085"/><stop offset="0.486" stop-color="#0015ff"/><stop offset="0.562" stop-color="#00b0ff"/><stop offset="0.619" stop-color="#0bfff4"/><stop offset="0.657" stop-color="#00f4ff"/><stop offset="0.914" stop-color="#b8ff47"/><stop offset="1.000" stop-color="#cdff32"/></linearGradient><linearGradient id="c396" x1="0" y1="0" x2="0" y2="1"><stop offset="0.000" stop-color="#000080"/><stop offset="0.314" stop-color="#000091"/><stop offset="0.362" stop-color="#0000a2"/><stop offset="0.419" stop-color="#00008a"/><stop offset="0.467" stop-color="#0000c0"/><stop offset="0.486" stop-color="#0000fd"/><stop offset="0.552" stop-color="#00b6ff"/><stop offset="0.619" stop-color="#13ffec"/><stop offset="0.638" stop-color="#1fffe0"/><stop offset="0.648" stop-color="#00fbff"/><stop offset="0.762" stop-color="#79ff86"/><stop offset="0.943" stop-color="#d8ff27"/><stop offset="1.000" stop-color="#e6ff19"/></linearGradient><linearGradient id="c397" x1="0" y1="0" x2="0" y2="1"><stop offset="0.000" stop-color="#000080"/><stop offset="0.276" stop-color="#000091"/><stop offset="0.333" stop-color="#00009a"/><stop offset="0.467" stop-color="#000087"/><stop offset="0.514" stop-color="#0007ff"/><stop offset="0.581" stop-color="#0076ff"/><stop offset="0.638" stop-color="#00caff"/><stop offset="0.733" stop-color="#19ffe6"/><stop offset="0.933" stop-color="#9dff62"/><stop offset="1.000" stop-color="#b0ff4f"/></linearGradient><linearGradient id="c398" x1="0" y1="0" x2="0" y2="1"><stop offset="0.000" stop-color="#000080"/><stop offset="0.438" stop-color="#000096"/><stop offset="0.533" stop-color="#0000b8"/><stop offset="0.610" stop-color="#0012ff"/><stop offset="0.705" stop-color="#00c2ff"/><stop offset="0.790" stop-color="#00ccff"/><stop offset="0.886" stop-color="#24ffdb"/><stop offset="1.000" stop-color="#4fffb0"/></linearGradient><linearGradient id="c399" x1="0" y1="0" x2="0" y2="1"><stop offset="0.000" stop-color="#000080"/><stop offset="0.467" stop-color="#000087"/><stop offset="0.533" stop-color="#00009d"/><stop offset="0.600" stop-color="#0000a4"/><stop offset="0.657" stop-color="#000eff"/><stop offset="0.733" stop-color="#00c2ff"/><stop offset="0.800" stop-color="#0072ff"/><stop offset="0.952" stop-color="#00f4ff"/><stop offset="1.000" stop-color="#06fff9"/></linearGradient><linearGradient id="c400" x1="0" y1="0" x2="0" y2="1"><stop offset="0.000" stop-color="#000080"/><stop offset="0.410" stop-color="#000093"/><stop offset="0.505" stop-color="#00008c"/><stop offset="0.571" stop-color="#0006ff"/><stop offset="0.667" stop-color="#0080ff"/><stop offset="0.705" stop-color="#00bfff"/><stop offset="0.781" stop-color="#00a4ff"/><stop offset="0.905" stop-color="#13ffec"/><stop offset="1.000" stop-color="#31ffce"/></linearGradient><linearGradient id="c401" x1="0" y1="0" x2="0" y2="1"><stop offset="0.000" stop-color="#000080"/><stop offset="0.229" stop-color="#000093"/><stop offset="0.486" stop-color="#000089"/><stop offset="0.533" stop-color="#0006ff"/><stop offset="0.638" stop-color="#00b4ff"/><stop offset="0.648" stop-color="#0099ff"/><stop offset="0.733" stop-color="#00ebff"/><stop offset="0.962" stop-color="#81ff7e"/><stop offset="1.000" stop-color="#8cff73"/></linearGradient><linearGradient id="c402" x1="0" y1="0" x2="0" y2="1"><stop offset="0.000" stop-color="#000080"/><stop offset="0.457" stop-color="#000094"/><stop offset="0.524" stop-color="#000cff"/><stop offset="0.638" stop-color="#00d4ff"/><stop offset="0.705" stop-color="#14ffeb"/><stop offset="0.924" stop-color="#b4ff4b"/><stop offset="1.000" stop-color="#c9ff36"/></linearGradient><linearGradient id="c403" x1="0" y1="0" x2="0" y2="1"><stop offset="0.000" stop-color="#000080"/><stop offset="0.429" stop-color="#000088"/><stop offset="0.495" stop-color="#000dff"/><stop offset="0.610" stop-color="#0090ff"/><stop offset="0.657" stop-color="#05fffa"/><stop offset="0.743" stop-color="#78ff87"/><stop offset="0.933" stop-color="#e5ff1a"/><stop offset="1.000" stop-color="#f6ff09"/></linearGradient><linearGradient id="c404" x1="0" y1="0" x2="0" y2="1"><stop offset="0.000" stop-color="#000080"/><stop offset="0.448" stop-color="#000092"/><stop offset="0.514" stop-color="#0008ff"/><stop offset="0.600" stop-color="#0050ff"/><stop offset="0.648" stop-color="#00d9ff"/><stop offset="0.705" stop-color="#28ffd7"/><stop offset="0.924" stop-color="#bdff42"/><stop offset="1.000" stop-color="#d1ff2e"/></linearGradient><linearGradient id="c405" x1="0" y1="0" x2="0" y2="1"><stop offset="0.000" stop-color="#000080"/><stop offset="0.381" stop-color="#000082"/><stop offset="0.486" stop-color="#00008c"/><stop offset="0.581" stop-color="#0007ff"/><stop offset="0.629" stop-color="#0079ff"/><stop offset="0.676" stop-color="#00cfff"/><stop offset="0.781" stop-color="#1effe1"/><stop offset="0.943" stop-color="#84ff7b"/><stop offset="1.000" stop-color="#94ff6b"/></linearGradient><linearGradient id="c406" x1="0" y1="0" x2="0" y2="1"><stop offset="0.000" stop-color="#000080"/><stop offset="0.524" stop-color="#000087"/><stop offset="0.610" stop-color="#000aff"/><stop offset="0.657" stop-color="#0082ff"/><stop offset="0.705" stop-color="#00c7ff"/><stop offset="0.838" stop-color="#18ffe7"/><stop offset="0.981" stop-color="#65ff9a"/><stop offset="1.000" stop-color="#6bff94"/></linearGradient><linearGradient id="c407" x1="0" y1="0" x2="0" y2="1"><stop offset="0.000" stop-color="#000080"/><stop offset="0.571" stop-color="#00008d"/><stop offset="0.629" stop-color="#0003ff"/><stop offset="0.724" stop-color="#00bfff"/><stop offset="0.790" stop-color="#0063ff"/><stop offset="0.943" stop-color="#00e2ff"/><stop offset="1.000" stop-color="#00f6ff"/></linearGradient><linearGradient id="c408" x1="0" y1="0" x2="0" y2="1"><stop offset="0.000" stop-color="#000080"/><stop offset="0.438" stop-color="#00008c"/><stop offset="0.495" stop-color="#000097"/><stop offset="0.600" stop-color="#00008e"/><stop offset="0.667" stop-color="#0018ff"/><stop offset="0.743" stop-color="#00baff"/><stop offset="0.800" stop-color="#005bff"/><stop offset="0.952" stop-color="#00e0ff"/><stop offset="1.000" stop-color="#00f1ff"/></linearGradient><linearGradient id="c409" x1="0" y1="0" x2="0" y2="1"><stop offset="0.000" stop-color="#000080"/><stop offset="0.429" stop-color="#000091"/><stop offset="0.486" stop-color="#000096"/><stop offset="0.524" stop-color="#00008d"/><stop offset="0.590" stop-color="#000bff"/><stop offset="0.638" stop-color="#003dff"/><stop offset="0.657" stop-color="#0089ff"/><stop offset="0.695" stop-color="#00c6ff"/><stop offset="0.829" stop-color="#14ffeb"/><stop offset="0.971" stop-color="#66ff99"/><stop offset="1.000" stop-color="#6eff91"/></linearGradient><linearGradient id="c410" x1="0" y1="0" x2="0" y2="1"><stop offset="0.000" stop-color="#000080"/><stop offset="0.448" stop-color="#00008e"/><stop offset="0.552" stop-color="#0015ff"/><stop offset="0.638" stop-color="#007fff"/><stop offset="0.648" stop-color="#00c9ff"/><stop offset="0.724" stop-color="#21ffde"/><stop offset="0.933" stop-color="#a9ff56"/><stop offset="1.000" stop-color="#bcff43"/></linearGradient><linearGradient id="c411" x1="0" y1="0" x2="0" y2="1"><stop offset="0.000" stop-color="#000080"/><stop offset="0.467" stop-color="#00008b"/><stop offset="0.543" stop-color="#000fff"/><stop offset="0.638" stop-color="#008eff"/><stop offset="0.648" stop-color="#00c3ff"/><stop offset="0.733" stop-color="#22ffdd"/><stop offset="0.933" stop-color="#a5ff5a"/><stop offset="1.000" stop-color="#b7ff48"/></linearGradient><linearGradient id="c412" x1="0" y1="0" x2="0" y2="1"><stop offset="0.000" stop-color="#000080"/><stop offset="0.343" stop-color="#000091"/><stop offset="0.410" stop-color="#00008c"/><stop offset="0.524" stop-color="#00008f"/><stop offset="0.610" stop-color="#0016ff"/><stop offset="0.695" stop-color="#00c2ff"/><stop offset="0.771" stop-color="#0093ff"/><stop offset="0.914" stop-color="#0bfff4"/><stop offset="1.000" stop-color="#26ffd9"/></linearGradient><linearGradient id="c413" x1="0" y1="0" x2="0" y2="1"><stop offset="0.000" stop-color="#000080"/><stop offset="0.333" stop-color="#000094"/><stop offset="0.400" stop-color="#0000a0"/><stop offset="0.495" stop-color="#000080"/><stop offset="0.619" stop-color="#00008f"/><stop offset="0.676" stop-color="#0010ff"/><stop offset="0.743" stop-color="#00b7ff"/><stop offset="0.771" stop-color="#007dff"/><stop offset="0.810" stop-color="#0016ff"/><stop offset="0.952" stop-color="#0098ff"/><stop offset="1.000" stop-color="#00aaff"/></linearGradient><linearGradient id="c414" x1="0" y1="0" x2="0" y2="1"><stop offset="0.000" stop-color="#000080"/><stop offset="0.543" stop-color="#000092"/><stop offset="0.610" stop-color="#0000d5"/><stop offset="0.648" stop-color="#0014ff"/><stop offset="0.724" stop-color="#00c3ff"/><stop offset="0.790" stop-color="#0055ff"/><stop offset="0.943" stop-color="#00d6ff"/><stop offset="1.000" stop-color="#00eaff"/></linearGradient><linearGradient id="c415" x1="0" y1="0" x2="0" y2="1"><stop offset="0.000" stop-color="#000080"/><stop offset="0.524" stop-color="#000080"/><stop offset="0.590" stop-color="#000bff"/><stop offset="0.695" stop-color="#00c2ff"/><stop offset="0.781" stop-color="#00a1ff"/><stop offset="0.914" stop-color="#10ffef"/><stop offset="1.000" stop-color="#2bffd4"/></linearGradient><linearGradient id="c416" x1="0" y1="0" x2="0" y2="1"><stop offset="0.000" stop-color="#000080"/><stop offset="0.495" stop-color="#000090"/><stop offset="0.562" stop-color="#0012ff"/><stop offset="0.676" stop-color="#00cbff"/><stop offset="0.781" stop-color="#1dffe2"/><stop offset="0.943" stop-color="#85ff7a"/><stop offset="1.000" stop-color="#96ff69"/></linearGradient><linearGradient id="c417" x1="0" y1="0" x2="0" y2="1"><stop offset="0.000" stop-color="#000080"/><stop offset="0.457" stop-color="#000085"/><stop offset="0.533" stop-color="#000eff"/><stop offset="0.619" stop-color="#00a7ff"/><stop offset="0.638" stop-color="#00d8ff"/><stop offset="0.714" stop-color="#1fffe0"/><stop offset="0.924" stop-color="#afff50"/><stop offset="1.000" stop-color="#c4ff3b"/></linearGradient><linearGradient id="c418" x1="0" y1="0" x2="0" y2="1"><stop offset="0.000" stop-color="#000080"/><stop offset="0.486" stop-color="#000090"/><stop offset="0.571" stop-color="#000bff"/><stop offset="0.657" stop-color="#00c5ff"/><stop offset="0.771" stop-color="#21ffde"/><stop offset="0.943" stop-color="#8cff73"/><stop offset="1.000" stop-color="#9cff63"/></linearGradient><linearGradient id="c419" x1="0" y1="0" x2="0" y2="1"><stop offset="0.000" stop-color="#000080"/><stop offset="0.524" stop-color="#000091"/><stop offset="0.600" stop-color="#0017ff"/><stop offset="0.686" stop-color="#00c3ff"/><stop offset="0.781" stop-color="#00cbff"/><stop offset="0.876" stop-color="#1fffe0"/><stop offset="1.000" stop-color="#4effb1"/></linearGradient><linearGradient id="c420" x1="0" y1="0" x2="0" y2="1"><stop offset="0.000" stop-color="#000080"/><stop offset="0.562" stop-color="#000087"/><stop offset="0.638" stop-color="#0005ff"/><stop offset="0.714" stop-color="#00c2ff"/><stop offset="0.790" stop-color="#0084ff"/><stop offset="0.943" stop-color="#00ffff"/><stop offset="1.000" stop-color="#13ffec"/></linearGradient><linearGradient id="c421" x1="0" y1="0" x2="0" y2="1"><stop offset="0.000" stop-color="#000080"/><stop offset="0.629" stop-color="#000080"/><stop offset="0.667" stop-color="#0000f8"/><stop offset="0.752" stop-color="#00baff"/><stop offset="0.810" stop-color="#0029ff"/><stop offset="0.952" stop-color="#00acff"/><stop offset="1.000" stop-color="#00beff"/></linearGradient><linearGradient id="c422" x1="0" y1="0" x2="0" y2="1"><stop offset="0.000" stop-color="#000080"/><stop offset="0.600" stop-color="#000085"/><stop offset="0.657" stop-color="#001aff"/><stop offset="0.733" stop-color="#00bcff"/><stop offset="0.800" stop-color="#005cff"/><stop offset="0.952" stop-color="#00dbff"/><stop offset="1.000" stop-color="#00ecff"/></linearGradient><linearGradient id="c423" x1="0" y1="0" x2="0" y2="1"><stop offset="0.000" stop-color="#000080"/><stop offset="0.505" stop-color="#000095"/><stop offset="0.610" stop-color="#000cff"/><stop offset="0.686" stop-color="#00c3ff"/><stop offset="0.781" stop-color="#00bbff"/><stop offset="0.886" stop-color="#18ffe7"/><stop offset="1.000" stop-color="#40ffbf"/></linearGradient><linearGradient id="c424" x1="0" y1="0" x2="0" y2="1"><stop offset="0.000" stop-color="#000080"/><stop offset="0.457" stop-color="#00008e"/><stop offset="0.533" stop-color="#000dff"/><stop offset="0.610" stop-color="#006dff"/><stop offset="0.667" stop-color="#00d3ff"/><stop offset="0.762" stop-color="#24ffdb"/><stop offset="0.943" stop-color="#93ff6c"/><stop offset="1.000" stop-color="#a3ff5c"/></linearGradient><linearGradient id="c425" x1="0" y1="0" x2="0" y2="1"><stop offset="0.000" stop-color="#000080"/><stop offset="0.505" stop-color="#00008d"/><stop offset="0.590" stop-color="#000eff"/><stop offset="0.676" stop-color="#00c3ff"/><stop offset="0.771" stop-color="#00c3ff"/><stop offset="0.876" stop-color="#1effe1"/><stop offset="1.000" stop-color="#4bffb4"/></linearGradient><linearGradient id="c426" x1="0" y1="0" x2="0" y2="1"><stop offset="0.000" stop-color="#000080"/><stop offset="0.571" stop-color="#000083"/><stop offset="0.629" stop-color="#0005ff"/><stop offset="0.714" stop-color="#00bcff"/><stop offset="0.790" stop-color="#005eff"/><stop offset="0.943" stop-color="#00dcff"/><stop offset="1.000" stop-color="#00efff"/></linearGradient><linearGradient id="c427" x1="0" y1="0" x2="0" y2="1"><stop offset="0.000" stop-color="#000080"/><stop offset="0.648" stop-color="#000093"/><stop offset="0.705" stop-color="#0019ff"/><stop offset="0.762" stop-color="#00b5ff"/><stop offset="0.781" stop-color="#0098ff"/><stop offset="0.819" stop-color="#001fff"/><stop offset="0.962" stop-color="#009dff"/><stop offset="1.000" stop-color="#00adff"/></linearGradient><linearGradient id="c428" x1="0" y1="0" x2="0" y2="1"><stop offset="0.000" stop-color="#000080"/><stop offset="0.581" stop-color="#000095"/><stop offset="0.648" stop-color="#000eff"/><stop offset="0.724" stop-color="#00beff"/><stop offset="0.800" stop-color="#006bff"/><stop offset="0.952" stop-color="#00e8ff"/><stop offset="1.000" stop-color="#00f9ff"/></linearGradient><linearGradient id="c429" x1="0" y1="0" x2="0" y2="1"><stop offset="0.000" stop-color="#000080"/><stop offset="0.467" stop-color="#000090"/><stop offset="0.543" stop-color="#0000a1"/><stop offset="0.610" stop-color="#0018ff"/><stop offset="0.705" stop-color="#00c1ff"/><stop offset="0.790" stop-color="#00c8ff"/><stop offset="0.886" stop-color="#1fffe0"/><stop offset="1.000" stop-color="#4affb5"/></linearGradient><linearGradient id="c430" x1="0" y1="0" x2="0" y2="1"><stop offset="0.000" stop-color="#000080"/><stop offset="0.457" stop-color="#000095"/><stop offset="0.590" stop-color="#0017ff"/><stop offset="0.676" stop-color="#00caff"/><stop offset="0.790" stop-color="#1bffe4"/><stop offset="0.943" stop-color="#7cff83"/><stop offset="1.000" stop-color="#8dff72"/></linearGradient><linearGradient id="c431" x1="0" y1="0" x2="0" y2="1"><stop offset="0.000" stop-color="#000080"/><stop offset="0.467" stop-color="#000091"/><stop offset="0.581" stop-color="#0017ff"/><stop offset="0.667" stop-color="#00c6ff"/><stop offset="0.810" stop-color="#1affe5"/><stop offset="0.962" stop-color="#6dff92"/><stop offset="1.000" stop-color="#78ff87"/></linearGradient><linearGradient id="c432" x1="0" y1="0" x2="0" y2="1"><stop offset="0.000" stop-color="#000080"/><stop offset="0.533" stop-color="#000094"/><stop offset="0.600" stop-color="#000cff"/><stop offset="0.695" stop-color="#00c4ff"/><stop offset="0.800" stop-color="#00ecff"/><stop offset="1.000" stop-color="#62ff9d"/></linearGradient><linearGradient id="c433" x1="0" y1="0" x2="0" y2="1"><stop offset="0.000" stop-color="#000080"/><stop offset="0.581" stop-color="#00008c"/><stop offset="0.629" stop-color="#0005ff"/><stop offset="0.724" stop-color="#00bdff"/><stop offset="0.790" stop-color="#006fff"/><stop offset="0.943" stop-color="#00eeff"/><stop offset="1.000" stop-color="#03fffc"/></linearGradient><linearGradient id="c434" x1="0" y1="0" x2="0" y2="1"><stop offset="0.000" stop-color="#000080"/><stop offset="0.629" stop-color="#000091"/><stop offset="0.686" stop-color="#000eff"/><stop offset="0.752" stop-color="#00baff"/><stop offset="0.819" stop-color="#0023ff"/><stop offset="0.952" stop-color="#00a1ff"/><stop offset="1.000" stop-color="#00b3ff"/></linearGradient><linearGradient id="c435" x1="0" y1="0" x2="0" y2="1"><stop offset="0.000" stop-color="#000080"/><stop offset="0.610" stop-color="#000093"/><stop offset="0.667" stop-color="#000cff"/><stop offset="0.743" stop-color="#00c2ff"/><stop offset="0.810" stop-color="#004fff"/><stop offset="0.952" stop-color="#00cdff"/><stop offset="1.000" stop-color="#00dfff"/></linearGradient><linearGradient id="c436" x1="0" y1="0" x2="0" y2="1"><stop offset="0.000" stop-color="#000080"/><stop offset="0.552" stop-color="#000092"/><stop offset="0.619" stop-color="#0013ff"/><stop offset="0.705" stop-color="#00c3ff"/><stop offset="0.790" stop-color="#00aeff"/><stop offset="0.905" stop-color="#18ffe7"/><stop offset="1.000" stop-color="#37ffc8"/></linearGradient><linearGradient id="c437" x1="0" y1="0" x2="0" y2="1"><stop offset="0.000" stop-color="#000080"/><stop offset="0.505" stop-color="#00008f"/><stop offset="0.571" stop-color="#000aff"/><stop offset="0.638" stop-color="#006bff"/><stop offset="0.686" stop-color="#00cdff"/><stop offset="0.790" stop-color="#21ffde"/><stop offset="0.952" stop-color="#87ff78"/><stop offset="1.000" stop-color="#95ff6a"/></linearGradient><linearGradient id="c438" x1="0" y1="0" x2="0" y2="1"><stop offset="0.000" stop-color="#000080"/><stop offset="0.495" stop-color="#000083"/><stop offset="0.571" stop-color="#000fff"/><stop offset="0.638" stop-color="#0064ff"/><stop offset="0.657" stop-color="#00b0ff"/><stop offset="0.810" stop-color="#18ffe7"/><stop offset="0.962" stop-color="#6fff90"/><stop offset="1.000" stop-color="#7aff85"/></linearGradient><linearGradient id="c439" x1="0" y1="0" x2="0" y2="1"><stop offset="0.000" stop-color="#000080"/><stop offset="0.533" stop-color="#000088"/><stop offset="0.629" stop-color="#0012ff"/><stop offset="0.705" stop-color="#00c2ff"/><stop offset="0.790" stop-color="#00bbff"/><stop offset="0.895" stop-color="#1dffe2"/><stop offset="1.000" stop-color="#41ffbe"/></linearGradient><linearGradient id="c440" x1="0" y1="0" x2="0" y2="1"><stop offset="0.000" stop-color="#000080"/><stop offset="0.610" stop-color="#000094"/><stop offset="0.657" stop-color="#0005ff"/><stop offset="0.733" stop-color="#00baff"/><stop offset="0.800" stop-color="#0055ff"/><stop offset="0.952" stop-color="#00daff"/><stop offset="1.000" stop-color="#00ebff"/></linearGradient><linearGradient id="c441" x1="0" y1="0" x2="0" y2="1"><stop offset="0.000" stop-color="#000080"/><stop offset="0.638" stop-color="#000080"/><stop offset="0.705" stop-color="#001bff"/><stop offset="0.762" stop-color="#00b7ff"/><stop offset="0.800" stop-color="#005cff"/><stop offset="0.819" stop-color="#0021ff"/><stop offset="0.962" stop-color="#00a1ff"/><stop offset="1.000" stop-color="#00b1ff"/></linearGradient><linearGradient id="c442" x1="0" y1="0" x2="0" y2="1"><stop offset="0.000" stop-color="#000080"/><stop offset="0.581" stop-color="#00009a"/><stop offset="0.648" stop-color="#0019ff"/><stop offset="0.724" stop-color="#00c2ff"/><stop offset="0.800" stop-color="#0093ff"/><stop offset="0.933" stop-color="#07fff8"/><stop offset="1.000" stop-color="#1fffe0"/></linearGradient><linearGradient id="c443" x1="0" y1="0" x2="0" y2="1"><stop offset="0.000" stop-color="#000080"/><stop offset="0.514" stop-color="#00008e"/><stop offset="0.590" stop-color="#000aff"/><stop offset="0.695" stop-color="#00c1ff"/><stop offset="0.781" stop-color="#00beff"/><stop offset="0.886" stop-color="#1cffe3"/><stop offset="1.000" stop-color="#44ffbb"/></linearGradient><linearGradient id="c444" x1="0" y1="0" x2="0" y2="1"><stop offset="0.000" stop-color="#000080"/><stop offset="0.486" stop-color="#000086"/><stop offset="0.571" stop-color="#0011ff"/><stop offset="0.676" stop-color="#00c8ff"/><stop offset="0.810" stop-color="#18ffe7"/><stop offset="0.962" stop-color="#6dff92"/><stop offset="1.000" stop-color="#78ff87"/></linearGradient><linearGradient id="c445" x1="0" y1="0" x2="0" y2="1"><stop offset="0.000" stop-color="#000080"/><stop offset="0.543" stop-color="#00008a"/><stop offset="0.619" stop-color="#000fff"/><stop offset="0.705" stop-color="#00beff"/><stop offset="0.781" stop-color="#0096ff"/><stop offset="0.924" stop-color="#0afff5"/><stop offset="1.000" stop-color="#23ffdc"/></linearGradient><linearGradient id="c446" x1="0" y1="0" x2="0" y2="1"><stop offset="0.000" stop-color="#000080"/><stop offset="0.610" stop-color="#000092"/><stop offset="0.657" stop-color="#0008ff"/><stop offset="0.733" stop-color="#00bdff"/><stop offset="0.800" stop-color="#0048ff"/><stop offset="0.952" stop-color="#00ccff"/><stop offset="1.000" stop-color="#00ddff"/></linearGradient><linearGradient id="c447" x1="0" y1="0" x2="0" y2="1"><stop offset="0.000" stop-color="#000080"/><stop offset="0.648" stop-color="#000081"/><stop offset="0.705" stop-color="#000aff"/><stop offset="0.771" stop-color="#00c1ff"/><stop offset="0.819" stop-color="#0004ff"/><stop offset="0.876" stop-color="#0025ff"/><stop offset="0.981" stop-color="#0077ff"/><stop offset="1.000" stop-color="#007fff"/></linearGradient><linearGradient id="c448" x1="0" y1="0" x2="0" y2="1"><stop offset="0.000" stop-color="#000080"/><stop offset="0.600" stop-color="#00008d"/><stop offset="0.657" stop-color="#000dff"/><stop offset="0.733" stop-color="#00c2ff"/><stop offset="0.800" stop-color="#002cff"/><stop offset="0.952" stop-color="#00aeff"/><stop offset="1.000" stop-color="#00c0ff"/></linearGradient><linearGradient id="c449" x1="0" y1="0" x2="0" y2="1"><stop offset="0.000" stop-color="#000080"/><stop offset="0.543" stop-color="#000085"/><stop offset="0.619" stop-color="#000dff"/><stop offset="0.705" stop-color="#00c3ff"/><stop offset="0.781" stop-color="#0098ff"/><stop offset="0.914" stop-color="#0dfff2"/><stop offset="1.000" stop-color="#29ffd6"/></linearGradient><linearGradient id="c450" x1="0" y1="0" x2="0" y2="1"><stop offset="0.000" stop-color="#000080"/><stop offset="0.514" stop-color="#000094"/><stop offset="0.581" stop-color="#000bff"/><stop offset="0.686" stop-color="#00c9ff"/><stop offset="0.800" stop-color="#1affe5"/><stop offset="0.952" stop-color="#7aff85"/><stop offset="1.000" stop-color="#88ff77"/></linearGradient><linearGradient id="c451" x1="0" y1="0" x2="0" y2="1"><stop offset="0.000" stop-color="#000080"/><stop offset="0.505" stop-color="#00008a"/><stop offset="0.590" stop-color="#0016ff"/><stop offset="0.686" stop-color="#00c5ff"/><stop offset="0.790" stop-color="#00edff"/><stop offset="1.000" stop-color="#64ff9b"/></linearGradient><linearGradient id="c452" x1="0" y1="0" x2="0" y2="1"><stop offset="0.000" stop-color="#000080"/><stop offset="0.552" stop-color="#000086"/><stop offset="0.619" stop-color="#000eff"/><stop offset="0.705" stop-color="#00c2ff"/><stop offset="0.781" stop-color="#0085ff"/><stop offset="0.933" stop-color="#00ffff"/><stop offset="1.000" stop-color="#16ffe9"/></linearGradient><linearGradient id="c453" x1="0" y1="0" x2="0" y2="1"><stop offset="0.000" stop-color="#000080"/><stop offset="0.590" stop-color="#000080"/><stop offset="0.657" stop-color="#000dff"/><stop offset="0.733" stop-color="#00c1ff"/><stop offset="0.800" stop-color="#0034ff"/><stop offset="0.952" stop-color="#00b7ff"/><stop offset="1.000" stop-color="#00c8ff"/></linearGradient><linearGradient id="c454" x1="0" y1="0" x2="0" y2="1"><stop offset="0.000" stop-color="#000080"/><stop offset="0.648" stop-color="#000082"/><stop offset="0.705" stop-color="#000aff"/><stop offset="0.771" stop-color="#00c2ff"/><stop offset="0.829" stop-color="#000dff"/><stop offset="0.952" stop-color="#008dff"/><stop offset="1.000" stop-color="#00a1ff"/></linearGradient><linearGradient id="c455" x1="0" y1="0" x2="0" y2="1"><stop offset="0.000" stop-color="#000080"/><stop offset="0.610" stop-color="#000091"/><stop offset="0.676" stop-color="#0018ff"/><stop offset="0.743" stop-color="#00beff"/><stop offset="0.810" stop-color="#0048ff"/><stop offset="0.952" stop-color="#00c8ff"/><stop offset="1.000" stop-color="#00daff"/></linearGradient><linearGradient id="c456" x1="0" y1="0" x2="0" y2="1"><stop offset="0.000" stop-color="#000080"/><stop offset="0.562" stop-color="#00008b"/><stop offset="0.638" stop-color="#0018ff"/><stop offset="0.714" stop-color="#00c0ff"/><stop offset="0.790" stop-color="#008fff"/><stop offset="0.933" stop-color="#06fff9"/><stop offset="1.000" stop-color="#1cffe3"/></linearGradient><linearGradient id="c457" x1="0" y1="0" x2="0" y2="1"><stop offset="0.000" stop-color="#000080"/><stop offset="0.514" stop-color="#00008a"/><stop offset="0.600" stop-color="#0017ff"/><stop offset="0.686" stop-color="#00c5ff"/><stop offset="0.829" stop-color="#16ffe9"/><stop offset="0.981" stop-color="#68ff97"/><stop offset="1.000" stop-color="#6eff91"/></linearGradient><linearGradient id="c458" x1="0" y1="0" x2="0" y2="1"><stop offset="0.000" stop-color="#000080"/><stop offset="0.514" stop-color="#000095"/><stop offset="0.600" stop-color="#001aff"/><stop offset="0.686" stop-color="#00c5ff"/><stop offset="0.829" stop-color="#16ffe9"/><stop offset="0.981" stop-color="#68ff97"/><stop offset="1.000" stop-color="#6eff91"/></linearGradient><linearGradient id="c459" x1="0" y1="0" x2="0" y2="1"><stop offset="0.000" stop-color="#000080"/><stop offset="0.562" stop-color="#00008e"/><stop offset="0.629" stop-color="#0012ff"/><stop offset="0.714" stop-color="#00bfff"/><stop offset="0.790" stop-color="#0089ff"/><stop offset="0.943" stop-color="#02fffd"/><stop offset="1.000" stop-color="#16ffe9"/></linearGradient><linearGradient id="c460" x1="0" y1="0" x2="0" y2="1"><stop offset="0.000" stop-color="#000080"/><stop offset="0.610" stop-color="#000088"/><stop offset="0.676" stop-color="#0018ff"/><stop offset="0.743" stop-color="#00beff"/><stop offset="0.810" stop-color="#001cff"/><stop offset="0.952" stop-color="#009cff"/><stop offset="1.000" stop-color="#00aeff"/></linearGradient><linearGradient id="c461" x1="0" y1="0" x2="0" y2="1"><stop offset="0.000" stop-color="#000080"/><stop offset="0.657" stop-color="#000089"/><stop offset="0.714" stop-color="#0014ff"/><stop offset="0.771" stop-color="#00b5ff"/><stop offset="0.790" stop-color="#008cff"/><stop offset="0.829" stop-color="#0000f5"/><stop offset="0.971" stop-color="#007fff"/><stop offset="1.000" stop-color="#008bff"/></linearGradient><linearGradient id="c462" x1="0" y1="0" x2="0" y2="1"><stop offset="0.000" stop-color="#000080"/><stop offset="0.600" stop-color="#00008d"/><stop offset="0.667" stop-color="#0011ff"/><stop offset="0.743" stop-color="#00beff"/><stop offset="0.800" stop-color="#0046ff"/><stop offset="0.952" stop-color="#00c9ff"/><stop offset="1.000" stop-color="#00dbff"/></linearGradient><linearGradient id="c463" x1="0" y1="0" x2="0" y2="1"><stop offset="0.000" stop-color="#000080"/><stop offset="0.562" stop-color="#000093"/><stop offset="0.629" stop-color="#000dff"/><stop offset="0.714" stop-color="#00c0ff"/><stop offset="0.790" stop-color="#0081ff"/><stop offset="0.943" stop-color="#00faff"/><stop offset="1.000" stop-color="#0efff1"/></linearGradient><linearGradient id="c464" x1="0" y1="0" x2="0" y2="1"><stop offset="0.000" stop-color="#000080"/><stop offset="0.524" stop-color="#00008e"/><stop offset="0.600" stop-color="#0015ff"/><stop offset="0.695" stop-color="#00c5ff"/><stop offset="0.838" stop-color="#16ffe9"/><stop offset="0.990" stop-color="#64ff9b"/><stop offset="1.000" stop-color="#67ff98"/></linearGradient><linearGradient id="c465" x1="0" y1="0" x2="0" y2="1"><stop offset="0.000" stop-color="#000080"/><stop offset="0.505" stop-color="#000087"/><stop offset="0.590" stop-color="#0013ff"/><stop offset="0.686" stop-color="#00c4ff"/><stop offset="0.790" stop-color="#00e9ff"/><stop offset="1.000" stop-color="#61ff9e"/></linearGradient><linearGradient id="c466" x1="0" y1="0" x2="0" y2="1"><stop offset="0.000" stop-color="#000080"/><stop offset="0.552" stop-color="#000087"/><stop offset="0.619" stop-color="#000eff"/><stop offset="0.705" stop-color="#00c3ff"/><stop offset="0.790" stop-color="#00b9ff"/><stop offset="0.895" stop-color="#1cffe3"/><stop offset="1.000" stop-color="#41ffbe"/></linearGradient><linearGradient id="c467" x1="0" y1="0" x2="0" y2="1"><stop offset="0.000" stop-color="#000080"/><stop offset="0.600" stop-color="#000093"/><stop offset="0.657" stop-color="#0014ff"/><stop offset="0.733" stop-color="#00c0ff"/><stop offset="0.800" stop-color="#0043ff"/><stop offset="0.952" stop-color="#00c4ff"/><stop offset="1.000" stop-color="#00d5ff"/></linearGradient><linearGradient id="c468" x1="0" y1="0" x2="0" y2="1"><stop offset="0.000" stop-color="#000080"/><stop offset="0.638" stop-color="#000088"/><stop offset="0.695" stop-color="#000aff"/><stop offset="0.762" stop-color="#00bcff"/><stop offset="0.819" stop-color="#0000fd"/><stop offset="0.962" stop-color="#0082ff"/><stop offset="1.000" stop-color="#0091ff"/></linearGradient></defs><rect width="550" height="839" fill="#fff"/><text x="57.6" y="16.4" font-size="14.5" text-anchor="start" fill="#1e1e1e" stroke="#1e1e1e" stroke-width="0.22" textLength="18" lengthAdjust="spacingAndGlyphs">(a)</text>
<path d="M170.5,48 L190.9,7.3 L193.6,20 L206.4,13.5 L210,23.6 L214.5,20 L216.4,25.5 L223.6,26.4 L225.5,31.8 L233.6,32.7 L236.4,36.4 L241.8,38.2 L244,44Z" fill="url(#gFin)" stroke="#7a8183" stroke-width="0.6"/>
<path d="M176,46L191,8M186,46L206,14M197,46L214.5,20.5M208,46L223.5,27M219,45L233.5,33M229,45L241.5,38.5" stroke="#6f7678" stroke-width="1" fill="none"/>
<path d="M172,46L190.5,9" stroke="#5a5048" stroke-width="1.6" fill="none"/>
<path d="M244,44C244.5,42.42 247,38.17 249,36C251,33.83 252.5,31.75 256,31C259.5,30.25 265.17,31.08 270,31.5C274.83,31.92 280,32.83 285,33.5C290,34.17 295.33,34.75 300,35.5C304.67,36.25 308.5,37.08 313,38C317.5,38.92 322.5,40 327,41C331.5,42 335.5,43 340,44C344.5,45 349.5,45.83 354,47C358.5,48.17 362.67,49.58 367,51C371.33,52.42 375.83,54.08 380,55.5C384.17,56.92 388,57.92 392,59.5C396,61.08 400.33,63.17 404,65C407.67,66.83 411.17,68.67 414,70.5C416.83,72.33 419,74.08 421,76C423,77.92 424.83,80.17 426,82C427.17,83.83 428.33,85.33 428,87C427.67,88.67 428,92.08 424,92C420,91.92 410.17,88.17 404,86.5C397.83,84.83 393.17,83.75 387,82C380.83,80.25 374.83,78.33 367,76C359.17,73.67 349,70.83 340,68C331,65.17 322.17,61.92 313,59C303.83,56.08 294.17,52.58 285,50.5C275.83,48.42 264.5,47.33 258,46.5C251.5,45.67 248.33,45.92 246,45.5C243.67,45.08 243.5,45.58 244,44Z" fill="#838a8b"/>
<path d="M250,38.29l7.42,-11.87M256.2,34.01l7.42,-11.87M262.4,34.23l7.42,-11.87M268.6,34.45l7.42,-11.87M274.8,35.14l7.42,-11.87M281,35.97l7.42,-11.87M287.2,36.79l7.42,-11.87M293.4,37.62l7.42,-11.87M299.6,38.45l7.42,-11.87M305.8,39.62l7.42,-11.87M312,40.81l7.42,-11.87M318.2,42.11l7.42,-11.87M324.4,43.44l7.42,-11.87M330.6,44.83l7.42,-11.87M336.8,46.26l7.42,-11.87M343,47.64l7.42,-11.87M349.2,48.97l7.42,-11.87M355.4,50.43l7.42,-11.87M361.6,52.34l7.42,-11.87M367.8,54.28l7.42,-11.87M374,56.42l7.42,-11.87M380.2,58.57l10.72,-9M386.4,60.63l10.72,-9M392.6,62.77l10.72,-9M398.8,65.62l10.72,-9M405,68.55l8.43,-7.07M411.2,71.96l8.43,-7.07M417.4,76.17l8.43,-7.07M423.6,82.12l8.43,-7.07" stroke="#737a7b" stroke-width="1.3" fill="none"/>
<path d="M252,38.86h2.4v1.8h-2.4zM258.4,38.59h2.4v1.8h-2.4zM264.8,36.31h2.4v1.8h-2.4zM271.2,39.16h2.4v1.8h-2.4zM277.6,37.51h2.4v1.8h-2.4zM284,40.87h2.4v1.8h-2.4zM290.4,39.22h2.4v1.8h-2.4zM296.8,42.57h2.4v1.8h-2.4zM303.2,41.12h2.4v1.8h-2.4zM309.6,44.85h2.4v1.8h-2.4zM316,43.64h2.4v1.8h-2.4zM322.4,47.51h2.4v1.8h-2.4zM328.8,46.42h2.4v1.8h-2.4zM335.2,50.39h2.4v1.8h-2.4zM341.6,49.34h2.4v1.8h-2.4zM348,53.21h2.4v1.8h-2.4zM354.4,52.12h2.4v1.8h-2.4zM360.8,56.59h2.4v1.8h-2.4zM367.2,56.07h2.4v1.8h-2.4zM373.6,60.78h2.4v1.8h-2.4zM380,60.5h2.4v1.8h-2.4zM386.4,65.13h2.4v1.8h-2.4zM392.8,64.87h2.4v1.8h-2.4zM399.2,70.3h2.4v1.8h-2.4zM405.6,70.88h2.4v1.8h-2.4zM412,76.9h2.4v1.8h-2.4zM418.4,78.96h2.4v1.8h-2.4z" fill="#454a4c" opacity="0.85"/>
<path d="M170,138C171,136.33 179.5,139.5 184,140C188.5,140.5 192.5,140 197,141C201.5,142 207.5,142.23 211,146C214.5,149.77 216.33,159.6 218,163.6C219.67,167.6 221.45,168.1 221,170C220.55,171.9 217.97,175.33 215.3,175C212.63,174.67 209.22,170.83 205,168C200.78,165.17 194.5,161 190,158C185.5,155 181.33,153.33 178,150C174.67,146.67 169,139.67 170,138Z" fill="#b7b4ab"/>
<path d="M174,146 L213,173" stroke="#5f5242" stroke-width="2.4" fill="none" opacity="0.85"/>
<path d="M198,150L219,166M203,150L221,161M208,150L222,156M190,152L216,172" stroke="#858580" stroke-width="0.8" fill="none"/>
<path d="M316,137.5C316.33,134.83 333.17,132.58 340,131C346.83,129.42 352.33,127.83 357,128C361.67,128.17 365,130.17 368,132C371,133.83 374.33,136 375,139C375.67,142 373.5,146.83 372,150C370.5,153.17 368.67,157 366,158C363.33,159 360.67,157.83 356,156C351.33,154.17 344.67,150.08 338,147C331.33,143.92 315.67,140.17 316,137.5Z" fill="#a29e97"/>
<path d="M356,133L381,140M356.6,136.4L382,145M357.2,139.8L380,150M357.8,143.2L377,155M358.4,146.6L373,159.5M359,150L368,161.5" stroke="#5f5d59" stroke-width="1.2" fill="none"/>
<path d="M330,140L365,157" stroke="#8c8880" stroke-width="1" fill="none"/>
<path d="M53,103C52.75,100.33 53.27,97.55 54.5,95.3C55.73,93.05 57.97,91.45 60.4,89.5C62.83,87.55 65.23,85.78 69.1,83.6C72.97,81.42 78.75,78.58 83.6,76.4C88.45,74.22 93.35,72.2 98.2,70.5C103.05,68.8 107.85,67.65 112.7,66.2C117.55,64.75 122.45,63.17 127.3,61.8C132.15,60.43 136.95,59.22 141.8,58C146.65,56.78 151.53,55.67 156.4,54.5C161.27,53.33 166.15,52.07 171,51C175.85,49.93 180.67,48.93 185.5,48.1C190.33,47.27 192.58,46.52 200,46C207.42,45.48 221.67,45.25 230,45C238.33,44.75 242.33,44.25 250,44.5C257.67,44.75 266.83,44.92 276,46.5C285.17,48.08 296,51.08 305,54C314,56.92 321.17,60.88 330,64C338.83,67.12 348.5,70.03 358,72.7C367.5,75.37 378.25,77.57 387,80C395.75,82.43 404.17,85.6 410.5,87.3C416.83,89 419.17,89.97 425,90.2C430.83,90.43 440.33,89.15 445.5,88.7C450.67,88.25 452.58,87.7 456,87.5C459.42,87.3 464.33,80.92 466,87.5C467.67,94.08 467.75,120.33 466,127C464.25,133.67 461.2,128 455.5,127.5C449.8,127 437.72,124.72 431.8,124C425.88,123.28 425.3,123.23 420,123.2C414.7,123.17 405.5,123.5 400,123.8C394.5,124.1 394,124.55 387,125C380,125.45 367.67,125.75 358,126.5C348.33,127.25 337.75,128.28 329,129.5C320.25,130.72 314.27,132.12 305.5,133.8C296.73,135.48 286.1,137.98 276.4,139.6C266.7,141.22 257.03,142.97 247.3,143.5C237.57,144.03 227.72,143.35 218,142.8C208.28,142.25 195.88,140 189,140.2C182.12,140.4 182.13,144.22 176.7,144C171.27,143.78 164.63,140.72 156.4,138.9C148.17,137.08 137,135.03 127.3,133.1C117.6,131.17 105.48,129 98.2,127.3C90.92,125.6 88.45,124.37 83.6,122.9C78.75,121.43 72.48,119.62 69.1,118.5C65.72,117.38 65.48,117.4 63.3,116.2C61.12,115 57.72,113.5 56,111.3C54.28,109.1 53.25,105.67 53,103Z" fill="url(#gBody)"/>
<g clip-path="url(#cBody)">
<path d="M50,80 L170,48 L170,135 L50,125Z" fill="url(#gHead)"/>
<path d="M118,72 C135,66 150,70 160,80 C168,92 166,112 158,124 C148,130 130,130 122,122 C116,105 114,85 118,72Z" fill="#c4c6c0" opacity="0.35"/>
<rect x="50" y="40" width="420" height="110" filter="url(#fSpeck)"/>
<path d="M165,48 C230,44 300,50 350,64 C390,75 420,86 470,84 L470,92 C420,94 390,84 350,74 C300,60 230,52 165,56Z" fill="#7b8488" opacity="0.35"/>
</g>
<path d="M432,89.8C434.25,83.83 439.62,89.4 445.5,88.2C451.38,87 459.72,84.33 467.3,82.6C474.88,80.87 483.92,78.98 491,77.8C498.08,76.62 505.47,75.7 509.8,75.5C514.13,75.3 515.03,75.02 517,76.6C518.97,78.18 519.27,81.65 521.6,85C523.93,88.35 528.23,93.57 531,96.7C533.77,99.83 536.2,101.42 538.2,103.8C540.2,106.18 543.4,108.63 543,111C542.6,113.37 538.57,115.65 535.8,118C533.03,120.35 529.93,122.93 526.4,125.1C522.87,127.27 518.55,129.62 514.6,131C510.65,132.38 508.63,133.2 502.7,133.4C496.77,133.6 486.87,133.18 479,132.2C471.13,131.22 462,128.78 455.5,127.5C449,126.22 443.92,125.08 440,124.5C436.08,123.92 433.33,129.78 432,124C430.67,118.22 429.75,95.77 432,89.8Z" fill="url(#gTail)"/>
<path d="M444,88.5 C458,84 472,81.5 486,80 C482,92 472,100 458,103 C450,101 445,95 444,88.5Z" fill="#73363a" opacity="0.35"/>
<path d="M462,91.95L502,77.45M462,92.17L509,77.92M462,93.3L515,80.3M462,96.45L519,86.95M462,99.15L524,92.65M462,101.4L528,97.4M462,103.2L532,101.2M462,105L536,105M462,107.25L539,109.75M462,109.5L536,114.5M462,111.3L531,118.3M462,113.1L526,122.1M462,114.9L520,125.9M462,116.47L513,129.22M462,117.38L505,131.12M462,117.6L495,131.6" stroke="#857d7d" stroke-width="0.8" fill="none" opacity="0.5"/>
<path d="M508,79.16L518.5,76.19M512.6,86.52L523.1,84.43M517,92.04L527.5,90.61M522,97.28L532.5,96.48M526,100.32L536.5,99.88M529.2,103.82L539.7,103.79M532,106.76L542.5,107.09M534,110.44L544.5,111.21M530.5,114.12L541,115.33M526.8,116.88L537.3,118.42M522,120.1L532.5,122.03M517.4,123.41L527.9,125.73M511,126.54L521.5,129.24M505.6,128.84L516.1,131.81M499,130.22L509.5,133.35" stroke="#2a2a2a" stroke-width="1.3" fill="none" stroke-linecap="round"/>
<path d="M172,47.5 C200,45 230,44 250,45 C280,47.5 310,56 340,65 C370,73.5 395,81 424,89.5" stroke="#948670" stroke-width="5" fill="none" opacity="0.85"/>
<path d="M128,66 C122,82 119,104 125,128" stroke="#8a8e8b" stroke-width="1.3" fill="none" opacity="0.7"/>
<path d="M141,61 C150,72 158,85 164,94" stroke="#6e7472" stroke-width="1.2" fill="none" opacity="0.7"/>
<path d="M100,85 C112,80 122,90 118,105 C112,112 100,108 98,98Z" fill="#8f9696" opacity="0.35"/>
<path d="M56,110 C70,113 85,117 92,118" stroke="#6f736e" stroke-width="1" fill="none"/>
<path d="M58,112 C70,118 84,122 95,124 L92,119 C80,116 68,114 58,112Z" fill="#cfcbc0" opacity="0.55"/>
<path d="M92,84 C100,80 112,82 116,92 C118,104 110,112 100,110 C94,104 90,94 92,84Z" fill="#6f7676" opacity="0.25"/>
<ellipse cx="157" cy="89" rx="3" ry="4" fill="#dfe4e6" opacity="0.6"/>
<path d="M161,102.5C161.58,100.33 164.5,98.22 167,97.5C169.5,96.78 169.75,98.12 176,98.2C182.25,98.28 195.5,98.28 204.5,98C213.5,97.72 225.08,96.42 230,96.5C234.92,96.58 233.67,97.42 234,98.5C234.33,99.58 236.92,100.92 232,103C227.08,105.08 213.17,108.75 204.5,111C195.83,113.25 185.75,115.5 180,116.5C174.25,117.5 172.75,118 170,117C167.25,116 165,112.92 163.5,110.5C162,108.08 160.42,104.67 161,102.5Z" fill="url(#gPect)"/>
<path d="M165,100 C170,95 176,96 178,101 L166,104Z" fill="#3a3633"/>
<circle cx="82.2" cy="92.4" r="7.2" fill="url(#gEye)"/>
<text x="57.6" y="191.4" font-size="14.5" text-anchor="start" fill="#1e1e1e" stroke="#1e1e1e" stroke-width="0.22" textLength="19.4" lengthAdjust="spacingAndGlyphs">(b)</text>
<path d="M84.2,204.4V361.2M147.4,204.4V361.2M210.6,204.4V361.2M273.8,204.4V361.2M337,204.4V361.2M400.2,204.4V361.2M463.4,204.4V361.2M52.7,243.6H526.0M52.7,282.8H526.0M52.7,322H526.0M52.7,204.4H526.0V361.2" stroke="#e3e3e3" stroke-width="1" fill="none"/>
<path d="M52.7,204.4V361.2" stroke="#8e8e8e" stroke-width="1.4" fill="none"/>
<path d="M52.2,361.2H526.0M84.2,361.2v-4M147.4,361.2v-4M210.6,361.2v-4M273.8,361.2v-4M337,361.2v-4M400.2,361.2v-4M463.4,361.2v-4M526.6,361.2v-4M52.7,204.4h4M52.7,243.6h4M52.7,282.8h4M52.7,322h4M52.7,361.2h4" stroke="#3a3a3a" stroke-width="1" fill="none"/>
<text x="47.3" y="209.3" font-size="10.8" text-anchor="end" fill="#1e1e1e" stroke="#1e1e1e" stroke-width="0.22">1</text>
<text x="47.3" y="248.5" font-size="10.8" text-anchor="end" fill="#1e1e1e" stroke="#1e1e1e" stroke-width="0.22">0.5</text>
<text x="47.3" y="287.7" font-size="10.8" text-anchor="end" fill="#1e1e1e" stroke="#1e1e1e" stroke-width="0.22">0</text>
<text x="47.3" y="326.9" font-size="10.8" text-anchor="end" fill="#1e1e1e" stroke="#1e1e1e" stroke-width="0.22">-0.5</text>
<text x="47.3" y="366.1" font-size="10.8" text-anchor="end" fill="#1e1e1e" stroke="#1e1e1e" stroke-width="0.22">-1</text>
<text x="84.2" y="376.6" font-size="10.9" text-anchor="middle" fill="#1e1e1e" stroke="#1e1e1e" stroke-width="0.22">100</text>
<text x="147.4" y="376.6" font-size="10.9" text-anchor="middle" fill="#1e1e1e" stroke="#1e1e1e" stroke-width="0.22">102</text>
<text x="210.6" y="376.6" font-size="10.9" text-anchor="middle" fill="#1e1e1e" stroke="#1e1e1e" stroke-width="0.22">104</text>
<text x="273.8" y="376.6" font-size="10.9" text-anchor="middle" fill="#1e1e1e" stroke="#1e1e1e" stroke-width="0.22">106</text>
<text x="337" y="376.6" font-size="10.9" text-anchor="middle" fill="#1e1e1e" stroke="#1e1e1e" stroke-width="0.22">108</text>
<text x="400.2" y="376.6" font-size="10.9" text-anchor="middle" fill="#1e1e1e" stroke="#1e1e1e" stroke-width="0.22">110</text>
<text x="463.4" y="376.6" font-size="10.9" text-anchor="middle" fill="#1e1e1e" stroke="#1e1e1e" stroke-width="0.22">112</text>
<text x="526.6" y="376.6" font-size="10.9" text-anchor="middle" fill="#1e1e1e" stroke="#1e1e1e" stroke-width="0.22">114</text>
<text x="290" y="394.2" font-size="12" text-anchor="middle" fill="#1e1e1e" stroke="#1e1e1e" stroke-width="0.22" textLength="47" lengthAdjust="spacingAndGlyphs">Time (s)</text>
<text transform="translate(21.6,282.8) rotate(-90)" x="0" y="0" font-size="11.5" text-anchor="middle" fill="#1e1e1e" textLength="66" lengthAdjust="spacingAndGlyphs">Voltage (V)</text>
<path d="M52.7,282.8H526.0" stroke="#0000ff" stroke-width="1.6" fill="none"/>
<path d="M79,250.53V336.11M79.3,238.4V331.7M79.6,233.8V348.41M79.9,241.06V346.21M80.2,238.23V348.46M80.5,233.37V331.65M80.8,244.96V332.98M81.1,244.45V341.63M81.4,233.04V331.95M81.7,237.49V338.76M82,240.66V336.37M82.3,243.57V341.5M82.6,237.04V335.88M82.9,243.92V340.77M83.2,251.09V335.5M83.5,243.89V326.42M83.8,249.93V325.1M84.1,248.61V324.29M84.4,254.74V324.41M84.7,254.73V316.9M85,257.79V308.01M85.3,266.2V306M85.6,267.21V306.58M85.9,265.43V306.36M86.2,270.01V303M86.5,272.88V296.35M86.8,272.61V293.63M87.1,276.64V291.61M87.4,278.67V289.2M87.7,280.78V285.41M133.1,259.36V316.81M133.4,259.99V315.88M133.7,249.19V318.55M134,247.49V324.81M134.3,251.31V321.73M134.6,253.78V321.36M134.9,247.49V326.53M135.2,253.99V323.4M135.5,257.15V333.22M135.8,252.01V319.99M136.1,248.84V329.57M136.4,255.73V330.65M136.7,254.12V322.8M137,248.95V331.14M137.3,255.14V333.92M137.6,257.77V322.54M137.9,250.6V322.69M138.2,252.38V319.47M138.5,260.31V315.46M138.8,256.78V316.48M139.1,263.88V316.14M139.4,260.8V312.05M139.7,265.02V312.7M140,266.08V311.44M140.3,268.98V302.99M140.6,270.24V305.54M140.9,270.76V304.11M141.2,269.03V300.93M141.5,273.2V298.72M141.8,275.74V293.17M142.1,277.69V290.62M142.4,279.55V287.68M222.4,259.92V308.27M222.7,256.79V303.58M223,259.22V312.26M223.3,251.28V311.34M223.6,252.91V313.42M223.9,255.84V308.79M224.2,252.85V313.2M224.5,252.36V310.88M224.8,253.89V311.13M225.1,251.53V314.27M225.4,252.87V314.87M225.7,248.66V310.3M226,257.52V312.38M226.3,256.74V312.8M226.6,249.89V314.98M226.9,256V309.15M227.2,259.51V307.22M227.5,260.61V310.13M227.8,255.96V304.4M228.1,257.76V303.44M228.4,260.94V304.81M228.7,267.12V302M229,266.33V301.09M229.3,269.2V299.45M229.6,270.84V294.08M229.9,272.25V296.17M230.2,269.59V294.91M230.5,273.91V290.97M230.8,276.61V288.42M231.1,277.73V286.51M231.4,280.89V284.61M275.8,248.9V319.43M276.1,248.8V311.76M276.4,246.75V319.76M276.7,236.02V321.3M277,241.9V322.26M277.3,242.59V326.43M277.6,233.52V320.22M277.9,246.35V325.26M278.2,246.16V326.55M278.5,243.43V318.87M278.8,245.15V321.48M279.1,233.9V322.78M279.4,233.52V320.34M279.7,240.77V322.21M280,233.52V319.15M280.3,246.75V316.05M280.6,241.3V320.67M280.9,241.79V322.79M281.2,240.84V312.63M281.5,253.7V318.02M281.8,248.24V315.67M282.1,252.71V313.76M282.4,254.06V312.12M282.7,259.17V303.2M283,262.03V307.37M283.3,260.13V306.32M283.6,261.18V302.59M283.9,264.25V296.87M284.2,268.67V296.88M284.5,268.75V296.79M284.8,273.2V292.32M285.1,276.21V287.85M285.4,279.64V285.97M341.5,261.75V304.52M341.8,254.4V306.74M342.1,253.96V307.23M342.4,247.1V316.33M342.7,248.9V316.64M343,255V316.42M343.3,255.68V312.39M343.6,248.9V312.25M343.9,254.79V316.94M344.2,257.06V312.08M344.5,255.69V310.67M344.8,257.08V314.56M345.1,247.84V314.2M345.4,253.38V311.14M345.7,253.49V316.94M346,256.53V314.82M346.3,256.49V308.12M346.6,256.8V312.59M346.9,256.13V310.56M347.2,257.03V302.43M347.5,258.44V307.84M347.8,258.91V300.43M348.1,264.64V302.84M348.4,263.98V298.82M348.7,268.2V296.74M349,267.98V295.7M349.3,269.71V297.6M349.6,270.76V293.33M349.9,272.31V293.85M350.2,275.2V290.33M350.5,278.19V287.57M350.8,279.86V285.73M391.8,263.16V300.57M392.1,255.49V308.03M392.4,260.46V308.48M392.7,255.52V303.06M393,253.46V309.79M393.3,259.65V304.27M393.6,252.46V308.74M393.9,251.95V307.4M394.2,258.58V310.3M394.5,259.49V305.04M394.8,259.62V303.61M395.1,257.24V310.93M395.4,259V305.71M395.7,256.1V304.27M396,257.48V306.15M396.3,262.5V302.37M396.6,263.19V302.52M396.9,266.8V297.8M397.2,266.16V297.72M397.5,267.28V294.33M397.8,272.11V294.43M398.1,272.19V291.5M398.4,274.93V290.61M398.7,278.89V287.38M455.8,268.22V298M456.1,262.08V303.51M456.4,263.71V305.69M456.7,260.39V301.71M457,263.82V299.3M457.3,258.37V300.08M457.6,262.52V304.55M457.9,264.65V302.32M458.2,263.65V305.69M458.5,262.15V305.69M458.8,264.75V299.68M459.1,260.7V304.18M459.4,261.02V301.01M459.7,262.49V297.78M460,264.66V299.99M460.3,269.57V296.09M460.6,270.29V293.85M460.9,269.7V292.34M461.2,271.75V292.88M461.5,273.99V292.87M461.8,276.89V289.85M462.1,279.62V286.33M509,256.83V311.67M509.3,260.01V311M509.6,256.43V312.99M509.9,251.61V317.34M510.2,250.73V311.75M510.5,251.7V310.79M510.8,257.19V317.71M511.1,254.91V318.81M511.4,251.04V315.38M511.7,254.17V317.06M512,258.26V311.75M512.3,251.71V312.55M512.6,255V309.06M512.9,256.76V304.11M513.2,264.06V304.04M513.5,265.74V303.38M513.8,268.97V299.48M514.1,269.33V296.73M514.4,272.3V294.26M514.7,271.91V292.51M515,276.02V289.78M515.3,279.46V286.7M277.5,283V214.5M279,283V222M280.5,283V236M278.2,283V354.5M279.6,283V346M281.5,283V338M283,283V326M344.5,283V236.4M346,283V242M345,283V335.5M346.8,283V325" stroke="#0000ff" stroke-width="0.7" fill="none"/>
<text x="205" y="239.7" font-size="10.5" text-anchor="start" fill="#1515f0" stroke="#1515f0" stroke-width="0.22" textLength="40.2" lengthAdjust="spacingAndGlyphs">Fish call</text>
<text x="447.3" y="222.7" font-size="12" text-anchor="start" fill="#1515f0" stroke="#1515f0" stroke-width="0.22" textLength="71.2" lengthAdjust="spacingAndGlyphs">Fish chorus</text>
<text x="57.6" y="408.8" font-size="14.5" text-anchor="start" fill="#1e1e1e" stroke="#1e1e1e" stroke-width="0.22" textLength="17.2" lengthAdjust="spacingAndGlyphs">(c)</text>
<path d="M112,421.2V579.2M171,421.2V579.2M230,421.2V579.2M289,421.2V579.2M348,421.2V579.2M407,421.2V579.2M466,421.2V579.2M53.0,460.7H525.0M53.0,500.2H525.0M53.0,539.7H525.0" stroke="#e3e3e3" stroke-width="1" fill="none"/>
<path d="M53,579.2v-4M112,579.2v-4M171,579.2v-4M230,579.2v-4M289,579.2v-4M348,579.2v-4M407,579.2v-4M466,579.2v-4M525,579.2v-4M53.0,421.2h4M53.0,460.7h4M53.0,500.2h4M53.0,539.7h4M53.0,579.2h4" stroke="#3a3a3a" stroke-width="1" fill="none"/>
<text x="47.8" y="426.4" font-size="10.8" text-anchor="end" fill="#1e1e1e" stroke="#1e1e1e" stroke-width="0.22">1</text>
<text x="47.8" y="465.9" font-size="10.8" text-anchor="end" fill="#1e1e1e" stroke="#1e1e1e" stroke-width="0.22">0.5</text>
<text x="47.8" y="505.4" font-size="10.8" text-anchor="end" fill="#1e1e1e" stroke="#1e1e1e" stroke-width="0.22">0</text>
<text x="47.8" y="544.9" font-size="10.8" text-anchor="end" fill="#1e1e1e" stroke="#1e1e1e" stroke-width="0.22">-0.5</text>
<text x="47.8" y="584.4" font-size="10.8" text-anchor="end" fill="#1e1e1e" stroke="#1e1e1e" stroke-width="0.22">-1</text>
<text x="53" y="594.6" font-size="10.8" text-anchor="middle" fill="#1e1e1e" stroke="#1e1e1e" stroke-width="0.22">0</text>
<text x="112" y="594.6" font-size="10.8" text-anchor="middle" fill="#1e1e1e" stroke="#1e1e1e" stroke-width="0.22">0.05</text>
<text x="171" y="594.6" font-size="10.8" text-anchor="middle" fill="#1e1e1e" stroke="#1e1e1e" stroke-width="0.22">0.1</text>
<text x="230" y="594.6" font-size="10.8" text-anchor="middle" fill="#1e1e1e" stroke="#1e1e1e" stroke-width="0.22">0.15</text>
<text x="289" y="594.6" font-size="10.8" text-anchor="middle" fill="#1e1e1e" stroke="#1e1e1e" stroke-width="0.22">0.2</text>
<text x="348" y="594.6" font-size="10.8" text-anchor="middle" fill="#1e1e1e" stroke="#1e1e1e" stroke-width="0.22">0.25</text>
<text x="407" y="594.6" font-size="10.8" text-anchor="middle" fill="#1e1e1e" stroke="#1e1e1e" stroke-width="0.22">0.3</text>
<text x="466" y="594.6" font-size="10.8" text-anchor="middle" fill="#1e1e1e" stroke="#1e1e1e" stroke-width="0.22">0.35</text>
<text x="525" y="594.6" font-size="10.8" text-anchor="middle" fill="#1e1e1e" stroke="#1e1e1e" stroke-width="0.22">0.4</text>
<text x="290" y="611.7" font-size="12" text-anchor="middle" fill="#1e1e1e" stroke="#1e1e1e" stroke-width="0.22" textLength="47" lengthAdjust="spacingAndGlyphs">Time (s)</text>
<text transform="translate(21.6,500.2) rotate(-90)" x="0" y="0" font-size="11.5" text-anchor="middle" fill="#1e1e1e" textLength="66" lengthAdjust="spacingAndGlyphs">Voltage (V)</text>
<polyline points="53,500.75 53.2,499.99 53.4,499.9 53.6,500.66 53.8,500.33 54,500.26 54.2,500.57 54.4,500.52 54.6,500.33 54.8,499.97 55,500.36 55.2,500.34 55.4,500.5 55.6,500.41 55.8,500.57 56,500.26 56.2,499.97 56.4,500.4 56.6,500 56.8,499.67 57,500.03 57.2,499.47 57.4,499.75 57.6,499.97 57.8,500.14 58,500.33 58.2,500.33 58.4,500.47 58.6,500.12 58.8,500.54 59,499.86 59.2,500.21 59.4,499.59 59.6,499.93 59.8,500.07 60,500.3 60.2,500.56 60.4,500.29 60.6,499.84 60.8,500.87 61,500.21 61.2,499.93 61.4,500.04 61.6,500.43 61.8,499.8 62,499.9 62.2,499.79 62.4,500.4 62.6,500.15 62.8,500.25 63,500.15 63.2,500.55 63.4,500.31 63.6,500.33 63.8,500.68 64,499.9 64.2,500.44 64.4,500.03 64.6,500.3 64.8,500.27 65,500.22 65.2,500.12 65.4,500.07 65.6,500.08 65.8,500.06 66,500.33 66.2,500.52 66.4,500.15 66.6,500.46 66.8,500.44 67,499.96 67.2,500.48 67.4,500.34 67.6,499.83 67.8,500.19 68,500.33 68.2,500.69 68.4,500.57 68.6,500.77 68.8,499.43 69,500.18 69.2,500.35 69.4,500 69.6,499.79 69.8,500.65 70,500.02 70.2,500.33 70.4,499.68 70.6,500.03 70.8,500.48 71,500.05 71.2,499.89 71.4,500.44 71.6,500.61 71.8,500.15 72,500.51 72.2,500.38 72.4,500.15 72.6,499.79 72.8,500.26 73,500.43 73.2,500.09 73.4,500.4 73.6,500.59 73.8,500.22 74,500.17 74.2,499.84 74.4,499.91 74.6,501.06 74.8,500.26 75,500.46 75.2,499.84 75.4,499.89 75.6,500.33 75.8,500.15 76,499.78 76.2,500.26 76.4,500.66 76.6,500.01 76.8,500.57 77,500.19 77.2,500.29 77.4,500.04 77.6,499.43 77.8,500.47 78,499.93 78.2,500.22 78.4,499.89 78.6,500.51 78.8,499.63 79,500.37 79.2,500.36 79.4,500.31 79.6,500.51 79.8,500.66 80,500.1 80.2,500.34 80.4,500.24 80.6,500.28 80.8,500.58 81,500.08 81.2,500.48 81.4,500.64 81.6,500.12 81.8,500.57 82,499.83 82.2,500.46 82.4,500.28 82.6,500.56 82.8,500.23 83,500.01 83.2,500.23 83.4,500.23 83.6,500.47 83.8,500.42 84,499.78 84.2,500.23 84.4,499.91 84.6,499.7 84.8,500.06 85,499.8 85.2,500.07 85.4,499.8 85.6,500.18 85.8,499.6 86,500.15 86.2,499.47 86.4,500.14 86.6,500.48 86.8,500.38 87,500.15 87.2,500.52 87.4,500.11 87.6,500.1 87.8,500.3 88,500.73 88.2,500.22 88.4,500.27 88.6,500.41 88.8,499.81 89,499.87 89.2,499.91 89.4,500.13 89.6,500 89.8,499.93 90,500.64 90.2,500.57 90.4,500.81 90.6,500.5 90.8,499.92 91,500.26 91.2,500.01 91.4,500.62 91.6,499.63 91.8,500.05 92,500.07 92.2,500.38 92.4,500.74 92.6,500.46 92.8,499.83 93,499.39 93.2,500.25 93.4,500.1 93.6,500.23 93.8,500.34 94,500.05 94.2,499.84 94.4,500.66 94.6,499.65 94.8,500.11 95,500.01 95.2,499.89 95.4,499.24 95.6,499.93 95.8,500.04 96,500.13 96.2,500.19 96.4,500.67 96.6,500.26 96.8,500.67 97,500.35 97.2,500.35 97.4,499.75 97.6,500.02 97.8,500.39 98,500.29 98.2,500.32 98.4,500.52 98.6,499.86 98.8,500.27 99,500.3 99.2,499.65 99.4,500.21 99.6,500.12 99.8,500 100,499.8 100.2,500.13 100.4,500.46 100.6,500.06 100.8,499.91 101,500.56 101.2,499.57 101.4,499.89 101.6,500.71 101.8,499.95 102,500.76 102.2,500.32 102.4,500.29 102.6,500.42 102.8,500.41 103,500.65 103.2,499.95 103.4,500.1 103.6,499.93 103.8,500.54 104,500.49 104.2,500.19 104.4,500.22 104.6,500.4 104.8,500.38 105,500.16 105.2,500.48 105.4,500.02 105.6,500.02 105.8,499.75 106,500.41 106.2,500.35 106.4,500.22 106.6,500.03 106.8,500 107,500.06 107.2,500.35 107.4,500.36 107.6,500.31 107.8,500.31 108,500.13 108.2,500.22 108.4,500.41 108.6,500.27 108.8,500.32 109,499.97 109.2,500.12 109.4,500.46 109.6,500.44 109.8,500.1 110,500.32 110.2,500.41 110.4,499.73 110.6,500.21 110.8,500.84 111,500.67 111.2,500.35 111.4,499.95 111.6,499.64 111.8,500.02 112,500.53 112.2,500.88 112.4,500.57 112.6,499.76 112.8,500.1 113,500.33 113.2,499.8 113.4,500.2 113.6,499.98 113.8,499.96 114,500.51 114.2,499.79 114.4,500.3 114.6,500.02 114.8,500.15 115,500.24 115.2,500.58 115.4,500.3 115.6,500.31 115.8,500.66 116,500.46 116.2,500.52 116.4,500.26 116.6,500.1 116.8,500.2 117,500.55 117.2,500.28 117.4,499.85 117.6,500.41 117.8,500.01 118,500.01 118.2,499.94 118.4,500.41 118.6,500.2 118.8,499.62 119,500.65 119.2,500.31 119.4,500.22 119.6,499.89 119.8,500.02 120,500.74 120.2,500.21 120.4,499.94 120.6,500.04 120.8,500.61 121,500.47 121.2,500.08 121.4,500.24 121.6,499.83 121.8,500.3 122,499.79 122.2,499.9 122.4,500.24 122.6,500.8 122.8,500.26 123,500.65 123.2,500.19 123.4,500.52 123.6,500.07 123.8,500.01 124,500.11 124.2,500.22 124.4,500.4 124.6,500.4 124.8,499.89 125,499.73 125.2,499.82 125.4,500.23 125.6,500.33 125.8,500.14 126,500.73 126.2,499.51 126.4,500.2 126.6,500.39 126.8,499.88 127,500.35 127.2,500.8 127.4,499.84 127.6,500.22 127.8,499.78 128,500.09 128.2,500.35 128.4,500.7 128.6,499.97 128.8,500.15 129,500.07 129.2,499.91 129.4,499.62 129.6,500.04 129.8,500.51 130,500.21 130.2,500.06 130.4,500.75 130.6,499.83 130.8,500.5 131,500.62 131.2,499.97 131.4,499.88 131.6,500.22 131.8,500.23 132,499.62 132.2,500.71 132.4,500.05 132.6,500.09 132.8,500.19 133,500.24 133.2,500.01 133.4,500.05 133.6,500.88 133.8,500.14 134,494.34 134.2,493.46 134.4,494.94 134.6,497.95 134.8,501.32 135,504.1 135.2,506.73 135.4,508.05 135.6,506.05 135.8,500.94 136,488.59 136.2,475.5 136.4,469.66 136.6,474.65 136.8,486.06 137,501.09 137.2,511.97 137.4,519.66 137.6,521.77 137.8,518.25 138,509.09 138.2,497.83 138.4,490.19 138.6,485.33 138.8,483.8 139,487.45 139.2,494.16 139.4,504.9 139.6,516.74 139.8,524.41 140,525.29 140.2,519.95 140.4,509.68 140.6,497.27 140.8,488.06 141,482.47 141.2,481.58 141.4,484.77 141.6,492.48 141.8,500.65 142,504.14 142.2,506.75 142.4,507.3 142.6,506.37 142.8,504.15 143,500.24 143.2,496.64 143.4,493.48 143.6,492.55 143.8,493.26 144,495.69 144.2,498.81 144.4,505.82 144.6,513.9 144.8,518.38 145,518.59 145.2,513.81 145.4,506.65 145.6,496.02 145.8,484.15 146,476.23 146.2,474.66 146.4,477.44 146.6,487.16 146.8,498.23 147,508.24 147.2,516.22 147.4,520.34 147.6,519.99 147.8,514.71 148,506.41 148.2,497.53 148.4,489.17 148.6,483.45 148.8,482.25 149,484.04 149.2,489.81 149.4,498.97 149.6,503.21 149.8,507.04 150,509.56 150.2,509.45 150.4,507.28 150.6,503.81 150.8,499.92 151,489.55 151.2,480.69 151.4,477.31 151.6,477.87 151.8,484.05 152,493.1 152.2,502.58 152.4,510.41 152.6,515.92 152.8,517.93 153,516.6 153.2,510.47 153.4,502.87 153.6,498.32 153.8,495.77 154,494.73 154.2,496.29 154.4,495.8 154.6,497.41 154.8,499.58 155,501.95 155.2,503.49 155.4,506.04 155.6,505.53 155.8,505.16 156,503.35 156.2,500.48 156.4,496.89 156.6,494.07 156.8,491.14 157,490.76 157.2,491.56 157.4,494.72 157.6,498.85 157.8,501.2 158,503.52 158.2,504.41 158.4,504.92 158.6,504.11 158.8,504.23 159,501.73 159.2,499.46 159.4,496.62 159.6,493.8 159.8,492.52 160,492.06 160.2,494.39 160.4,497.85 160.6,502.62 160.8,514.11 161,522.79 161.2,538.21 161.4,527.56 161.6,522.15 161.8,513.07 162,501.65 162.2,492.68 162.4,485.93 162.6,482.03 162.8,481.16 163,483.67 163.2,489.72 163.4,497.53 163.6,509.85 163.8,523.1 164,532.28 164.2,535.98 164.4,532.94 164.6,524.57 164.8,510.4 165,497.61 165.2,489.22 165.4,482.62 165.6,479.39 165.8,479.13 166,483.69 166.2,490.92 166.4,499.87 166.6,505.03 166.8,508.43 167,510.84 167.2,511.43 167.4,510.04 167.6,507.15 167.8,501.9 168,497.25 168.2,494.17 168.4,490.13 168.6,489.44 168.8,490.76 169,492.58 169.2,496.57 169.4,501.53 169.6,514.11 169.8,524.26 170,528.66 170.2,529.56 170.4,524.47 170.6,516.18 170.8,503.29 171,492.1 171.2,483.62 171.4,477.32 171.6,475.7 171.8,476.99 172,484.23 172.2,493.26 172.4,502.67 172.6,511.41 172.8,517.81 173,521.27 173.2,520.47 173.4,516.2 173.6,508.8 173.8,501.32 174,489.84 174.2,480.77 174.4,476 174.6,474.45 174.8,478.16 175,485.62 175.2,495.62 175.4,504.4 175.6,508.96 175.8,511.11 176,510.93 176.2,507.23 176.4,504.51 176.6,502.7 176.8,499.53 177,497.69 177.2,496.85 177.4,495.65 177.6,496.09 177.8,497.14 178,498.33 178.2,499.75 178.4,503.44 178.6,505.26 178.8,507.56 179,507.63 179.2,506.85 179.4,504.2 179.6,501.99 179.8,497.88 180,495.65 180.2,494.03 180.4,493.45 180.6,494.2 180.8,495.9 181,498.18 181.2,501.24 181.4,504.83 181.6,507.02 181.8,507.44 182,506.96 182.2,505.43 182.4,502.62 182.6,500.06 182.8,494.72 183,491.18 183.2,464.48 183.4,485.06 183.6,485.81 183.8,490.72 184,498.97 184.2,510.85 184.4,521.32 184.6,527.86 184.8,554.11 185,525.51 185.2,516.73 185.4,505.1 185.6,497.41 185.8,493.07 186,489.76 186.2,488.36 186.4,489.37 186.6,492.36 186.8,496.7 187,502.22 187.2,510.18 187.4,515.75 187.6,519.27 187.8,518.94 188,515.13 188.2,508.7 188.4,499.69 188.6,491.88 188.8,485.18 189,481.72 189.2,481.64 189.4,485.49 189.6,491.76 189.8,499.69 190,504.65 190.2,508.17 190.4,510.59 190.6,510.19 190.8,508.84 191,505.61 191.2,500.55 191.4,495.08 191.6,489.42 191.8,486.11 192,485.72 192.2,489.18 192.4,493.74 192.6,499.02 192.8,505.74 193,510.61 193.2,510.81 193.4,510.81 193.6,509.4 193.8,505.81 194,501.15 194.2,498.2 194.4,493.74 194.6,492.78 194.8,492.35 195,493.74 195.2,495.68 195.4,499.14 195.6,503.14 195.8,505.06 196,506.73 196.2,506.34 196.4,505.96 196.6,502.6 196.8,500.5 197,497.93 197.2,496.75 197.4,494.95 197.6,495.54 197.8,496.07 198,498.21 198.2,500.57 198.4,503.21 198.6,505.84 198.8,507.02 199,506.57 199.2,505.45 199.4,502.76 199.6,499.4 199.8,495.33 200,493.52 200.2,491.59 200.4,492.24 200.6,495.09 200.8,498.35 201,501.85 201.2,504.56 201.4,506.92 201.6,507.58 201.8,506.52 202,503.82 202.2,501.06 202.4,497.59 202.6,494.3 202.8,493.72 203,493.42 203.2,494.89 203.4,497.86 203.6,501.76 203.8,505.62 204,512.03 204.2,516.35 204.4,516.64 204.6,511.82 204.8,503.18 205,494.61 205.2,487.18 205.4,483.17 205.6,484.49 205.8,488.07 206,494.5 206.2,503.49 206.4,510.81 206.6,516.5 206.8,517.62 207,514.97 207.2,509.62 207.4,501.35 207.6,495.21 207.8,492.42 208,490.32 208.2,490.21 208.4,493.15 208.6,497.72 208.8,503.15 209,508.52 209.2,511.18 209.4,511.74 209.6,509.85 209.8,505.24 210,499.66 210.2,492.81 210.4,488.79 210.6,487.74 210.8,489.16 211,493.16 211.2,499.18 211.4,504.72 211.6,509.47 211.8,511.97 212,511.72 212.2,508.88 212.4,502.88 212.6,492.99 212.8,482.79 213,476.6 213.2,476.74 213.4,482.42 213.6,493.36 213.8,503.28 214,509.43 214.2,513.26 214.4,514.45 214.6,510.96 214.8,505.27 215,497.76 215.2,491.28 215.4,485.95 215.6,485.69 215.8,488.64 216,494.97 216.2,503.11 216.4,514.21 216.6,520.7 216.8,523.1 217,517.56 217.2,507.97 217.4,495.88 217.6,484.25 217.8,475.63 218,475.79 218.2,482.15 218.4,494.34 218.6,508.75 218.8,523.02 219,529.42 219.2,527.34 219.4,517.29 219.6,502.45 219.8,490.77 220,482.83 220.2,480.22 220.4,483.05 220.6,491.15 220.8,501.25 221,506.58 221.2,510.93 221.4,510.89 221.6,507.87 221.8,502.89 222,495.19 222.2,487.58 222.4,483.22 222.6,484.96 222.8,490.87 223,499.96 223.2,508.71 223.4,515.02 223.6,516.75 223.8,513.27 224,505.42 224.2,496.13 224.4,486.92 224.6,481.91 224.8,484.06 225,489.65 225.2,499.55 225.4,508.3 225.6,514.25 225.8,515.46 226,512.59 226.2,505.3 226.4,495.32 226.6,488.33 226.8,484.58 227,485.5 227.2,490.82 227.4,499.9 227.6,513.37 227.8,521.67 228,523.09 228.2,515.32 228.4,504.91 228.6,493.66 228.8,487.02 229,486.4 229.2,490.88 229.4,495.34 229.6,501.85 229.8,505.09 230,507.76 230.2,507.16 230.4,505.12 230.6,500.27 230.8,498.26 231,494.65 231.2,493.35 231.4,493.88 231.6,497.97 231.8,503.95 232,511.84 232.2,514.59 232.4,513.3 232.6,507.26 232.8,497.38 233,481.82 233.2,473.56 233.4,472.92 233.6,482.82 233.8,497.03 234,513.33 234.2,524.26 234.4,527.57 234.6,520.99 234.8,507.84 235,492.09 235.2,480.27 235.4,474.52 235.6,477.7 235.8,489.15 236,504.25 236.2,518.41 236.4,525.81 236.6,524.6 236.8,514.61 237,498.79 237.2,482.3 237.4,470.37 237.6,470.16 237.8,479.95 238,497.82 238.2,517.01 238.4,531.73 238.6,533.76 238.8,523.83 239,505.52 239.2,493.37 239.4,487.69 239.6,485.88 239.8,489.83 240,496.91 240.2,509.63 240.4,518.84 240.6,518.84 240.8,512.1 241,502.74 241.2,497.93 241.4,495.99 241.6,496.01 241.8,497.07 242,499.43 242.2,503.64 242.4,506.4 242.6,507.77 242.8,505.88 243,501.78 243.2,496.07 243.4,492.47 243.6,491.33 243.8,493.47 244,498.84 244.2,504.77 244.4,509.02 244.6,509.56 244.8,506.71 245,500.57 245.2,494.01 245.4,489.8 245.6,489.98 245.8,493.47 246,500.46 246.2,502.85 246.4,504.77 246.6,503.79 246.8,502.28 247,498.72 247.2,493.71 247.4,491.49 247.6,493.42 247.8,497.65 248,503.57 248.2,508.71 248.4,510.36 248.6,508.57 248.8,502.36 249,498.26 249.2,495.06 249.4,494.04 249.6,495.86 249.8,499.97 250,501.6 250.2,503.58 250.4,504.91 250.6,502.34 250.8,500.05 251,497.55 251.2,496.24 251.4,496.8 251.6,498.46 251.8,502.04 252,505.89 252.2,507.55 252.4,506.29 252.6,501.96 252.8,496.81 253,489.81 253.2,486.22 253.4,488.89 253.6,498.41 253.8,509.33 254,518.18 254.2,517.65 254.4,510.38 254.6,498.27 254.8,486.17 255,480.74 255.2,483.79 255.4,492.94 255.6,505.54 255.8,515.5 256,545.94 256.2,513.29 256.4,503.24 256.6,484.54 256.8,472.08 257,470.73 257.2,483.64 257.4,502.48 257.6,521.84 257.8,531.32 258,527.09 258.2,511.7 258.4,494.4 258.6,484.89 258.8,467.54 259,486.41 259.2,497.32 259.4,511.49 259.6,521.49 259.8,522.32 260,513.47 260.2,497.82 260.4,483.53 260.6,475.83 260.8,479.37 261,491.24 261.2,505.64 261.4,516.37 261.6,519.59 261.8,515.07 262,502.74 262.2,491.35 262.4,484.07 262.6,483.66 262.8,490.35 263,501.81 263.2,514.42 263.4,520.05 263.6,518.07 263.8,507.07 264,490.16 264.2,475.7 264.4,472.03 264.6,480.76 264.8,497.59 265,518.11 265.2,530.65 265.4,530.22 265.6,515.66 265.8,494.73 266,479.03 266.2,472.48 266.4,478.23 266.6,494.09 266.8,506.83 267,512.58 267.2,513.24 267.4,508.37 267.6,498.92 267.8,485.87 268,478.88 268.2,482.41 268.4,492.68 268.6,510.38 268.8,527.28 269,532.44 269.2,523.09 269.4,503.53 269.6,490.5 269.8,483.59 270,483.3 270.2,492.33 270.4,503.4 270.6,514.73 270.8,517.6 271,512.31 271.2,503.53 271.4,496.97 271.6,490.88 271.8,490.18 272,493.12 272.2,499.55 272.4,506.61 272.6,510.48 272.8,510.17 273,505.38 273.2,499.47 273.4,495.47 273.6,493.47 273.8,495.16 274,498.88 274.2,504.26 274.4,509.98 274.6,510.52 274.8,506.98 275,500.91 275.2,493.08 275.4,489.46 275.6,489.51 275.8,495.6 276,501.21 276.2,502.65 276.4,503.72 276.6,503.02 276.8,500.39 277,496.42 277.2,492.14 277.4,491.28 277.6,494.1 277.8,500.13 278,506.41 278.2,509.17 278.4,508.79 278.6,504.6 278.8,497.98 279,491.55 279.2,489.22 279.4,491.14 279.6,497.06 279.8,501.59 280,503.24 280.2,503.88 280.4,502.58 280.6,500.29 280.8,494.73 281,489.52 281.2,486.67 281.4,491.24 281.6,500.65 281.8,506.75 282,511.67 282.2,510.89 282.4,505.51 282.6,495.31 282.8,480 283,473.65 283.2,478.02 283.4,491.83 283.6,507.26 283.8,519.51 284,537.34 284.2,519.03 284.4,505.87 284.6,495.49 284.8,489.95 285,488.24 285.2,491.54 285.4,498.09 285.6,506.48 285.8,513.43 286,515.63 286.2,511.23 286.4,502.25 286.6,494.88 286.8,489.31 287,488.55 287.2,493.23 287.4,498.86 287.6,513.42 287.8,523.5 288,525.17 288.2,516.2 288.4,502.54 288.6,488.1 288.8,478.91 289,476.92 289.2,484.9 289.4,498.58 289.6,518.89 289.8,534.07 290,536.32 290.2,524.79 290.4,504.21 290.6,491.63 290.8,485.08 291,483.35 291.2,488.21 291.4,497.89 291.6,507.96 291.8,515.3 292,517.85 292.2,513.21 292.4,504.07 292.6,491.77 292.8,480.87 293,476.53 293.2,479.7 293.4,491.35 293.6,504.32 293.8,514.58 294,519.63 294.2,518.43 294.4,510.27 294.6,499.5 294.8,493.23 295,490.41 295.2,489.93 295.4,493.13 295.6,498.8 295.8,510.08 296,520.22 296.2,520.92 296.4,515.07 296.6,505.61 296.8,498.27 297,493.97 297.2,492.8 297.4,493.25 297.6,495.64 297.8,500.43 298,503.99 298.2,506.7 298.4,507.06 298.6,505.09 298.8,502.5 299,497.74 299.2,494.28 299.4,493.24 299.6,493.96 299.8,497.22 300,500.34 300.2,504.92 300.4,507.65 300.6,508.18 300.8,505.96 301,501.9 301.2,497.78 301.4,494.67 301.6,493.15 301.8,493.09 302,496 302.2,499.98 302.4,504.57 302.6,507.77 302.8,508.86 303,507.5 303.2,503.64 303.4,499.04 303.6,494.29 303.8,492.01 304,491.55 304.2,494.61 304.4,498.16 304.6,502.37 304.8,506.95 305,508.35 305.2,508.31 305.4,505.79 305.6,501.75 305.8,499.33 306,497.18 306.2,497.07 306.4,497.28 306.6,497.92 306.8,499.99 307,503.96 307.2,508.57 307.4,509.62 307.6,509.06 307.8,505.85 308,500.93 308.2,495.74 308.4,491.16 308.6,488.9 308.8,488.93 309,492.16 309.2,499.75 309.4,512.81 309.6,523.77 309.8,527.88 310,525.39 310.2,516.3 310.4,502.73 310.6,488.23 310.8,476.39 311,468.82 311.2,472.14 311.4,481.21 311.6,495.13 311.8,508.86 312,519.23 312.2,524.89 312.4,525.24 312.6,517.98 312.8,508.19 313,495.33 313.2,484.45 313.4,477.6 313.6,475.56 313.8,480.39 314,489.66 314.2,501.28 314.4,511.46 314.6,518.53 314.8,520.54 315,518.57 315.2,511.5 315.4,503 315.6,488.23 315.8,476.49 316,471.05 316.2,470.4 316.4,477.81 316.6,490.45 316.8,504.6 317,516.48 317.2,524.28 317.4,526.35 317.6,522.26 317.8,514.25 318,502.22 318.2,496.75 318.4,493.02 318.6,490.41 318.8,490.55 319,492.71 319.2,496.54 319.4,502.23 319.6,509.12 319.8,515.53 320,518.31 320.2,517.63 320.4,512.48 320.6,505.15 320.8,496.29 321,489.13 321.2,483.91 321.4,481.58 321.6,483.92 321.8,489.32 322,496.95 322.2,507.96 322.4,518.46 322.6,525.15 322.8,526.18 323,521.34 323.2,512.14 323.4,501.17 323.6,493.54 323.8,488.77 324,489.47 324.2,490.89 324.4,493.67 324.6,496.57 324.8,500.47 325,503.02 325.2,504.55 325.4,505.52 325.6,505.35 325.8,504.32 326,500.91 326.2,499.38 326.4,497.14 326.6,494.9 326.8,494.22 327,494.53 327.2,495.58 327.4,498.44 327.6,501.85 327.8,506.54 328,510.71 328.2,511.82 328.4,511.91 328.6,508.33 328.8,504.07 329,499.19 329.2,498.31 329.4,497.11 329.6,496.82 329.8,496.75 330,497.2 330.2,498.7 330.4,500.57 330.6,503.03 330.8,505.97 331,506.87 331.2,507.34 331.4,505.58 331.6,502.57 331.8,499.44 332,497.25 332.2,495.08 332.4,493.71 332.6,494.28 332.8,495.28 333,497.11 333.2,500.43 333.4,502.88 333.6,505.79 333.8,507.16 334,507.35 334.2,506 334.4,504 334.6,500.59 334.8,497.14 335,494.4 335.2,491.71 335.4,491.85 335.6,492.58 335.8,494.56 336,497.47 336.2,502.25 336.4,505.48 336.6,509.8 336.8,511.91 337,512.18 337.2,508.8 337.4,504.2 337.6,498.17 337.8,491.8 338,486.98 338.2,463.29 338.4,484.75 338.6,488.14 338.8,493.57 339,500.36 339.2,511.3 339.4,521.39 339.6,526.72 339.8,537.11 340,523.72 340.2,514.37 340.4,503.35 340.6,495.07 340.8,489.34 341,484.36 341.2,483.73 341.4,485.53 341.6,489.83 341.8,495.58 342,507.23 342.2,521.91 342.4,531.84 342.6,536 342.8,532.67 343,523.87 343.2,510.33 343.4,497.09 343.6,486.59 343.8,478.55 344,475.01 344.2,476.32 344.4,481.85 344.6,490.13 344.8,501.4 345,512.2 345.2,520.81 345.4,525.24 345.6,525.71 345.8,521.02 346,512.14 346.2,501.82 346.4,487.73 346.6,475.26 346.8,467.62 347,465.22 347.2,470.93 347.4,480.07 347.6,492.8 347.8,508.16 348,522.6 348.2,531.8 348.4,535.29 348.6,533.24 348.8,524.12 349,511.66 349.2,495.85 349.4,482.07 349.6,471.48 349.8,465.94 350,467.08 350.2,473.99 350.4,485.51 350.6,500.51 350.8,507.94 351,514.39 351.2,515.99 351.4,514.73 351.6,510.72 351.8,505.23 352,501.01 352.2,498.39 352.4,497.21 352.6,496.04 352.8,496.03 353,496.37 353.2,496.97 353.4,499.24 353.6,502.65 353.8,505.85 354,508.83 354.2,509.44 354.4,509.27 354.6,507.35 354.8,502.74 355,500.19 355.2,498.59 355.4,497.4 355.6,497.1 355.8,496.49 356,497.83 356.2,498.76 356.4,500.78 356.6,505.63 356.8,509.43 357,511.3 357.2,511.23 357.4,509.26 357.6,504.95 357.8,500.15 358,494.99 358.2,491.81 358.4,489.01 358.6,489.41 358.8,490.84 359,495.64 359.2,500.78 359.4,503.4 359.6,506.13 359.8,508.01 360,507.55 360.2,505.86 360.4,503.2 360.6,499.36 360.8,495.22 361,489.28 361.2,484.55 361.4,481.71 361.6,483.98 361.8,491.05 362,500.92 362.2,507.56 362.4,511.49 362.6,514 362.8,513.67 363,509.87 363.2,504.26 363.4,496.5 363.6,486.3 363.8,479.43 364,477.11 364.2,478.87 364.4,485.6 364.6,496.19 364.8,506.76 365,515.4 365.2,521.07 365.4,522.32 365.6,518.4 365.8,511.12 366,500.88 366.2,488.9 366.4,478.63 366.6,473.7 366.8,474.35 367,480.39 367.2,491.08 367.4,502.24 367.6,512.35 367.8,517.99 368,520.35 368.2,517.62 368.4,512.08 368.6,502.77 368.8,492.97 369,484.04 369.2,479.48 369.4,478.42 369.6,483 369.8,491.53 370,501.85 370.2,511.87 370.4,520.23 370.6,522.78 370.8,521.3 371,514.81 371.2,504.34 371.4,496.62 371.6,493.15 371.8,490.45 372,489.31 372.2,492.19 372.4,496.62 372.6,503.79 372.8,517.89 373,528.02 373.2,531.18 373.4,526.68 373.6,515.47 373.8,501.38 374,488.03 374.2,477.73 374.4,473.54 374.6,475.96 374.8,483.89 375,496.95 375.2,510.53 375.4,522.69 375.6,529.28 375.8,528 376,519.35 376.2,506.21 376.4,496.67 376.6,491.58 376.8,490.13 377,492.1 377.2,494.53 377.4,497.79 377.6,500.79 377.8,503.33 378,504.3 378.2,505 378.4,503.26 378.6,501.79 378.8,498.59 379,495.01 379.2,492.36 379.4,492.25 379.6,493.69 379.8,498.08 380,501.65 380.2,506.01 380.4,507.69 380.6,508.27 380.8,507.14 381,502.82 381.2,499.32 381.4,497.39 381.6,497.08 381.8,497.24 382,497.57 382.2,498.8 382.4,502.59 382.6,507.59 382.8,510.18 383,509.85 383.2,506.4 383.4,502.72 383.6,497.01 383.8,491.28 384,488.49 384.2,489.18 384.4,493.47 384.6,498.65 384.8,503.53 385,507.79 385.2,509.54 385.4,508.19 385.6,504.81 385.8,499.49 386,497.55 386.2,495.36 386.4,495.22 386.6,495.92 386.8,498.58 387,501.3 387.2,502.99 387.4,503.98 387.6,504.09 387.8,502.49 388,501.32 388.2,497.45 388.4,492.82 388.6,489.53 388.8,490.11 389,494.2 389.2,502.68 389.4,519 389.6,528.87 389.8,529.98 390,521.44 390.2,505.99 390.4,492.6 390.6,484.79 390.8,480.89 391,483.23 391.2,490.86 391.4,502.8 391.6,516.07 391.8,525.3 392,535.71 392.2,517.73 392.4,504.04 392.6,489.21 392.8,478.42 393,463.67 393.2,479.78 393.4,491.5 393.6,507.94 393.8,524.39 394,531.8 394.2,528.68 394.4,515.81 394.6,498.33 394.8,481.53 395,471.55 395.2,471.74 395.4,482 395.6,498.67 395.8,513.16 396,522.24 396.2,523.53 396.4,516.77 396.6,504.34 396.8,494.13 397,488.28 397.2,487.03 397.4,489.44 397.6,496.45 397.8,510.16 398,522.89 398.2,528.45 398.4,522.23 398.6,508.48 398.8,488.96 399,471.35 399.2,464.66 399.4,472.17 399.6,489.44 399.8,503.79 400,508.07 400.2,510.36 400.4,507.85 400.6,502.79 400.8,487.48 401,473.25 401.2,469.53 401.4,478.8 401.6,496.06 401.8,509 402,516.1 402.2,517.22 402.4,511.49 402.6,500.8 402.8,478.51 403,465.99 403.2,470.8 403.4,486.44 403.6,502.5 403.8,512.42 404,514.43 404.2,510.26 404.4,503.67 404.6,498.59 404.8,493.62 405,491.52 405.2,493.68 405.4,497.77 405.6,501.59 405.8,505.05 406,505.89 406.2,504.96 406.4,501.33 406.6,495.97 406.8,491.51 407,490.75 407.2,494.49 407.4,500.12 407.6,502.22 407.8,503.76 408,503.47 408.2,502.5 408.4,499.92 408.6,496.35 408.8,495.02 409,495.55 409.2,498.06 409.4,502.71 409.6,506.02 409.8,507.15 410,504.46 410.2,501.01 410.4,496.39 410.6,492.35 410.8,492.27 411,495.37 411.2,501.37 411.4,507.98 411.6,511.79 411.8,509.73 412,503.89 412.2,496.3 412.4,491.14 412.6,489.5 412.8,492.46 413,499.04 413.2,504.12 413.4,507.7 413.6,507.13 413.8,503.94 414,499.05 414.2,494.6 414.4,492.71 414.6,494.5 414.8,499.11 415,504.67 415.2,508.74 415.4,509.52 415.6,505.51 415.8,499.81 416,498.16 416.2,496.64 416.4,497.38 416.6,498.64 416.8,502.13 417,503.29 417.2,504.52 417.4,502.68 417.6,500.5 417.8,494 418,490.76 418.2,492.37 418.4,497.11 418.6,503.92 418.8,510.92 419,511.5 419.2,507.56 419.4,499.45 419.6,493.63 419.8,489.9 420,491.33 420.2,496.44 420.4,503.19 420.6,507.19 420.8,507.87 421,505.16 421.2,500.38 421.4,498.58 421.6,497.49 421.8,498.69 422,499.96 422.2,501 422.4,503.64 422.6,503.82 422.8,501.75 423,499.93 423.2,498.3 423.4,497.73 423.6,498.21 423.8,498.79 424,501.31 424.2,502.96 424.4,503.6 424.6,501.56 424.8,499.77 425,499.71 425.2,499.13 425.4,499.58 425.6,500.65 425.8,501.14 426,502.62 426.2,502.45 426.4,501.91 426.6,500.03 426.8,499.65 427,498.75 427.2,499.14 427.4,500.51 427.6,501.46 427.8,502.47 428,501.66 428.2,501.24 428.4,499.81 428.6,499.44 428.8,498.67 429,498.93 429.2,499.76 429.4,500.44 429.6,500.74 429.8,501.2 430,500.55 430.2,498.99 430.4,498.52 430.6,497.42 430.8,498.09 431,500.56 431.2,502.26 431.4,502.57 431.6,502.27 431.8,500.91 432,499.12 432.2,498 432.4,498.24 432.6,498.73 432.8,499.79 433,502.09 433.2,502.1 433.4,501.32 433.6,500.45 433.8,499.97 434,499.62 434.2,499.53 434.4,499.99 434.6,500.42 434.8,501.42 435,501.93 435.2,501.81 435.4,500.69 435.6,499.44 435.8,498.23 436,498.26 436.2,498.97 436.4,500.4 436.6,500.78 436.8,500.97 437,500.44 437.2,500.36 437.4,499.41 437.6,498.39 437.8,498.33 438,499.11 438.2,500.84 438.4,501.76 438.6,501.74 438.8,501.63 439,499.9 439.2,499.37 439.4,498.64 439.6,498.79 439.8,499.46 440,500.66 440.2,500.89 440.4,501.69 440.6,501.36 440.8,500.07 441,499.28 441.2,498.91 441.4,499.32 441.6,499.88 441.8,500.81 442,501.59 442.2,501.36 442.4,501.32 442.6,500.2 442.8,499.69 443,499.18 443.2,499.05 443.4,499.85 443.6,500.83 443.8,500.61 444,500.69 444.2,500.79 444.4,500.91 444.6,499.51 444.8,499.46 445,498.91 445.2,499.94 445.4,500.7 445.6,500.89 445.8,501.37 446,501.1 446.2,499.56 446.4,499.62 446.6,498.54 446.8,498.62 447,499.81 447.2,500.46 447.4,500.35 447.6,500.75 447.8,500.85 448,500.57 448.2,499.9 448.4,499.41 448.6,498.86 448.8,499.31 449,500.79 449.2,500.2 449.4,500.84 449.6,500.46 449.8,500.37 450,499.9 450.2,499.5 450.4,499.94 450.6,498.59 450.8,500.27 451,500.46 451.2,501.39 451.4,500.69 451.6,501.1 451.8,500.17 452,499.54 452.2,499.59 452.4,499.54 452.6,500.11 452.8,500.76 453,500.97 453.2,501.52 453.4,500.82 453.6,500.16 453.8,499.64 454,499.4 454.2,499.43 454.4,499.46 454.6,500.54 454.8,500.74 455,500.49 455.2,500.83 455.4,500.26 455.6,500.05 455.8,499.64 456,499.07 456.2,499.39 456.4,499.98 456.6,500.06 456.8,500.08 457,499.79 457.2,500.32 457.4,500.01 457.6,500.38 457.8,499.79 458,499.55 458.2,500.4 458.4,500.04 458.6,500.93 458.8,500.8 459,500.09 459.2,500.36 459.4,500.08 459.6,499.45 459.8,499.52 460,499.38 460.2,499.61 460.4,500.12 460.6,500.59 460.8,499.94 461,500.57 461.2,500.37 461.4,499.52 461.6,499.47 461.8,499.37 462,499.36 462.2,499.87 462.4,500.61 462.6,500.46 462.8,501.07 463,500.59 463.2,499.73 463.4,499.69 463.6,499.94 463.8,499.37 464,499.15 464.2,500.19 464.4,499.83 464.6,500.55 464.8,500.92 465,501.05 465.2,500.31 465.4,499.91 465.6,499.65 465.8,499.38 466,499.81 466.2,499.33 466.4,500.1 466.6,500.35 466.8,500.9 467,500.67 467.2,499.9 467.4,500.02 467.6,499.88 467.8,499.79 468,499.79 468.2,499.99 468.4,500.18 468.6,500.78 468.8,500.98 469,501.13 469.2,500.13 469.4,500.33 469.6,499.72 469.8,499.68 470,499.42 470.2,500.09 470.4,499.9 470.6,499.94 470.8,500.7 471,501.13 471.2,499.98 471.4,500.41 471.6,500.15 471.8,499.63 472,499.93 472.2,500.64 472.4,499.8 472.6,499.96 472.8,500.32 473,500.47 473.2,500.52 473.4,500.89 473.6,500.2 473.8,500.3 474,499.41 474.2,499.65 474.4,500.24 474.6,500.18 474.8,500.36 475,501.28 475.2,501.3 475.4,500.97 475.6,500.64 475.8,500.33 476,500.72 476.2,499.94 476.4,499.59 476.6,499.47 476.8,500.46 477,500.29 477.2,500.79 477.4,500.84 477.6,500.45 477.8,499.92 478,500.53 478.2,500.04 478.4,500.29 478.6,500.01 478.8,500.47 479,500.6 479.2,499.97 479.4,500.35 479.6,500.4 479.8,500.88 480,500 480.2,500.37 480.4,500.36 480.6,499.57 480.8,500.24 481,499.97 481.2,499.62 481.4,500.5 481.6,500.05 481.8,500.86 482,500.83 482.2,499.92 482.4,500.44 482.6,500.63 482.8,500.24 483,499.6 483.2,499.85 483.4,500.33 483.6,500.07 483.8,500.33 484,501.11 484.2,500.82 484.4,500.42 484.6,500.27 484.8,500.01 485,499.86 485.2,499.57 485.4,500.16 485.6,500.48 485.8,500.22 486,500.1 486.2,500.38 486.4,500.89 486.6,500.97 486.8,500.64 487,500.14 487.2,500.05 487.4,499.76 487.6,500.17 487.8,499.82 488,500.17 488.2,499.88 488.4,500 488.6,500.94 488.8,500.19 489,500.76 489.2,500.24 489.4,500.2 489.6,500.22 489.8,500.52 490,500.33 490.2,499.91 490.4,500.47 490.6,500.51 490.8,499.84 491,500.08 491.2,500.41 491.4,500.5 491.6,500.37 491.8,500.07 492,500.06 492.2,500.29 492.4,500.41 492.6,499.95 492.8,499.86 493,499.74 493.2,499.71 493.4,500.69 493.6,500.37 493.8,500.59 494,500.42 494.2,500.77 494.4,500.59 494.6,499.83 494.8,500.08 495,500.17 495.2,500.39 495.4,499.72 495.6,500.16 495.8,499.91 496,500.23 496.2,500.12 496.4,500.8 496.6,500.84 496.8,500.11 497,499.81 497.2,500.26 497.4,500 497.6,500.35 497.8,500.25 498,500.16 498.2,499.8 498.4,500.07 498.6,500.22 498.8,500.24 499,499.46 499.2,499.67 499.4,500.2 499.6,500.05 499.8,500.13 500,500.21 500.2,499.8 500.4,499.83 500.6,499.81 500.8,500.49 501,500.02 501.2,499.93 501.4,500.07 501.6,500.46 501.8,500.02 502,499.91 502.2,500.07 502.4,500.46 502.6,500.08 502.8,500.04 503,500.1 503.2,499.72 503.4,500.52 503.6,500.07 503.8,500.11 504,500.77 504.2,500.3 504.4,499.72 504.6,500.64 504.8,499.9 505,500.71 505.2,500.12 505.4,500.9 505.6,500.43 505.8,500.3 506,500.65 506.2,499.85 506.4,499.99 506.6,499.77 506.8,500.01 507,500.26 507.2,500.5 507.4,500.62 507.6,500.61 507.8,500.49 508,500.17 508.2,499.82 508.4,499.85 508.6,500.72 508.8,499.96 509,500.17 509.2,500.15 509.4,500 509.6,500.51 509.8,500.49 510,500.11 510.2,500.65 510.4,500.4 510.6,500.21 510.8,500.34 511,500.03 511.2,499.53 511.4,499.53 511.6,499.6 511.8,501.05 512,499.78 512.2,500.06 512.4,500.88 512.6,500.35 512.8,501.33 513,500.41 513.2,499.72 513.4,500.67 513.6,500.02 513.8,500.48 514,500.41 514.2,499.79 514.4,500.16 514.6,500.31 514.8,500.08 515,499.71 515.2,500.34 515.4,500.26 515.6,500.85 515.8,500.34 516,500.69 516.2,500.58 516.4,500.1 516.6,500.46 516.8,500.65 517,499.9 517.2,499.73 517.4,499.82 517.6,500.12 517.8,500.6 518,500.43 518.2,500.17 518.4,500 518.6,500.23 518.8,501.27 519,500.31 519.2,499.78 519.4,500.48 519.6,500.09 519.8,499.87 520,500.17 520.2,500.44 520.4,499.98 520.6,500.06 520.8,500.38 521,499.91 521.2,500.5 521.4,499.78 521.6,499.81 521.8,499.92 522,500.04 522.2,500.47 522.4,499.96 522.6,500.05 522.8,500.51 523,499.98 523.2,499.87 523.4,499.89 523.6,500.14 523.8,500.42 524,500.08 524.2,501.14 524.4,501.19 524.6,500.39 524.8,500.58" stroke="#111" stroke-width="0.85" fill="none" stroke-linejoin="round"/>
<text x="156.2" y="447" font-size="9.8" text-anchor="start" fill="#111" stroke="#111" stroke-width="0.22" textLength="64.2" lengthAdjust="spacingAndGlyphs">Pulse duration</text>
<path d="M180.6,456.2H195.3M180.8,453V459.4M195.1,453V459.4" stroke="#111" stroke-width="1.2" fill="none"/>
<text x="233" y="442.6" font-size="9.8" text-anchor="start" fill="#111" stroke="#111" stroke-width="0.22" textLength="58.6" lengthAdjust="spacingAndGlyphs">Pulse per call</text>
<text x="325" y="443.4" font-size="9.8" text-anchor="start" fill="#111" stroke="#111" stroke-width="0.22" textLength="60" lengthAdjust="spacingAndGlyphs">Pulse interval</text>
<path d="M338.4,455H365.6M338.6,451.6V458.6M365.4,451.6V458.6" stroke="#111" stroke-width="1.3" fill="none"/>
<text x="464.7" y="441.8" font-size="11.8" text-anchor="start" fill="#111" stroke="#111" stroke-width="0.22" textLength="45.3" lengthAdjust="spacingAndGlyphs">Fish call</text>
<path d="M263,450.6L246.21,463.12M263,450.6L262.76,460.5M263,450.6L281.03,465.81M263,450.6L302.92,465.7" stroke="#111" stroke-width="0.9" fill="none"/>
<path d="M241,467L244.24,460.47L248.18,465.76ZM262.6,467L259.46,460.42L266.06,460.58ZM286,470L278.9,468.33L283.16,463.29ZM309,468L301.75,468.79L304.09,462.61Z" fill="#111"/>
<path d="M53.0,421.2V579.2H525.0" stroke="#3a3a3a" stroke-width="1" fill="none"/>
<rect x="53.8" y="424" width="470.8" height="155.2" fill="none" stroke="#ff0000" stroke-width="3" stroke-dasharray="3 3.4"/>
<rect x="126.5" y="205" width="24" height="156" rx="3" fill="none" stroke="#ff0000" stroke-width="3" stroke-dasharray="3 3.4"/>
<path d="M127,362 L58,420 M151,362 L520,422" stroke="#ff0000" stroke-width="1.2" stroke-dasharray="1.2 1.4" fill="none"/>
<path d="M54,424L57.77,416.08L62.43,421.57ZM526,424L517.52,426.25L518.69,419.14Z" fill="#ff0000"/>
<text x="57.6" y="646.1" font-size="14.5" text-anchor="start" fill="#1e1e1e" stroke="#1e1e1e" stroke-width="0.22" textLength="19" lengthAdjust="spacingAndGlyphs">(d)</text>
<rect x="52.5" y="670.8" width="473.5" height="11.1" fill="url(#gCb)"/>
<text x="52.5" y="664.5" font-size="10.8" text-anchor="middle" fill="#1e1e1e" stroke="#1e1e1e" stroke-width="0.22">60</text>
<text x="131.42" y="664.5" font-size="10.8" text-anchor="middle" fill="#1e1e1e" stroke="#1e1e1e" stroke-width="0.22">70</text>
<text x="210.33" y="664.5" font-size="10.8" text-anchor="middle" fill="#1e1e1e" stroke="#1e1e1e" stroke-width="0.22">80</text>
<text x="289.25" y="664.5" font-size="10.8" text-anchor="middle" fill="#1e1e1e" stroke="#1e1e1e" stroke-width="0.22">90</text>
<text x="368.17" y="664.5" font-size="10.8" text-anchor="middle" fill="#1e1e1e" stroke="#1e1e1e" stroke-width="0.22">100</text>
<text x="447.08" y="664.5" font-size="10.8" text-anchor="middle" fill="#1e1e1e" stroke="#1e1e1e" stroke-width="0.22">110</text>
<text x="526" y="664.5" font-size="10.8" text-anchor="middle" fill="#1e1e1e" stroke="#1e1e1e" stroke-width="0.22">120</text>
<path d="M131.42,670.8v2.5M210.33,670.8v2.5M289.25,670.8v2.5M368.17,670.8v2.5M447.08,670.8v2.5" stroke="#222" stroke-width="0.8" opacity="0.6"/>
<g shape-rendering="crispEdges"><rect x="52.5" y="689.0" width="1.5" height="106.3" fill="url(#c0)"/><rect x="53.5" y="689.0" width="1.5" height="106.3" fill="url(#c1)"/><rect x="54.5" y="689.0" width="1.5" height="106.3" fill="url(#c2)"/><rect x="55.5" y="689.0" width="1.5" height="106.3" fill="url(#c3)"/><rect x="56.5" y="689.0" width="1.5" height="106.3" fill="url(#c4)"/><rect x="57.5" y="689.0" width="1.5" height="106.3" fill="url(#c5)"/><rect x="58.5" y="689.0" width="1.5" height="106.3" fill="url(#c6)"/><rect x="59.5" y="689.0" width="1.5" height="106.3" fill="url(#c7)"/><rect x="60.5" y="689.0" width="1.5" height="106.3" fill="url(#c8)"/><rect x="61.5" y="689.0" width="1.5" height="106.3" fill="url(#c9)"/><rect x="62.5" y="689.0" width="1.5" height="106.3" fill="url(#c10)"/><rect x="63.5" y="689.0" width="1.5" height="106.3" fill="url(#c11)"/><rect x="64.5" y="689.0" width="1.5" height="106.3" fill="url(#c12)"/><rect x="65.5" y="689.0" width="1.5" height="106.3" fill="url(#c13)"/><rect x="66.5" y="689.0" width="1.5" height="106.3" fill="url(#c14)"/><rect x="67.5" y="689.0" width="1.5" height="106.3" fill="url(#c15)"/><rect x="68.5" y="689.0" width="1.5" height="106.3" fill="url(#c16)"/><rect x="69.5" y="689.0" width="1.5" height="106.3" fill="url(#c17)"/><rect x="70.5" y="689.0" width="1.5" height="106.3" fill="url(#c18)"/><rect x="71.5" y="689.0" width="1.5" height="106.3" fill="url(#c19)"/><rect x="72.5" y="689.0" width="1.5" height="106.3" fill="url(#c20)"/><rect x="73.5" y="689.0" width="1.5" height="106.3" fill="url(#c21)"/><rect x="74.5" y="689.0" width="1.5" height="106.3" fill="url(#c22)"/><rect x="75.5" y="689.0" width="1.5" height="106.3" fill="url(#c23)"/><rect x="76.5" y="689.0" width="1.5" height="106.3" fill="url(#c24)"/><rect x="77.5" y="689.0" width="1.5" height="106.3" fill="url(#c25)"/><rect x="78.5" y="689.0" width="1.5" height="106.3" fill="url(#c26)"/><rect x="79.5" y="689.0" width="1.5" height="106.3" fill="url(#c27)"/><rect x="80.5" y="689.0" width="1.5" height="106.3" fill="url(#c28)"/><rect x="81.5" y="689.0" width="1.5" height="106.3" fill="url(#c29)"/><rect x="82.5" y="689.0" width="1.5" height="106.3" fill="url(#c30)"/><rect x="83.5" y="689.0" width="1.5" height="106.3" fill="url(#c31)"/><rect x="84.5" y="689.0" width="1.5" height="106.3" fill="url(#c32)"/><rect x="85.5" y="689.0" width="1.5" height="106.3" fill="url(#c33)"/><rect x="86.5" y="689.0" width="1.5" height="106.3" fill="url(#c34)"/><rect x="87.5" y="689.0" width="1.5" height="106.3" fill="url(#c35)"/><rect x="88.5" y="689.0" width="1.5" height="106.3" fill="url(#c36)"/><rect x="89.5" y="689.0" width="1.5" height="106.3" fill="url(#c37)"/><rect x="90.5" y="689.0" width="1.5" height="106.3" fill="url(#c38)"/><rect x="91.5" y="689.0" width="1.5" height="106.3" fill="url(#c39)"/><rect x="92.5" y="689.0" width="1.5" height="106.3" fill="url(#c40)"/><rect x="93.5" y="689.0" width="1.5" height="106.3" fill="url(#c41)"/><rect x="94.5" y="689.0" width="1.5" height="106.3" fill="url(#c42)"/><rect x="95.5" y="689.0" width="1.5" height="106.3" fill="url(#c43)"/><rect x="96.5" y="689.0" width="1.5" height="106.3" fill="url(#c44)"/><rect x="97.5" y="689.0" width="1.5" height="106.3" fill="url(#c45)"/><rect x="98.5" y="689.0" width="1.5" height="106.3" fill="url(#c46)"/><rect x="99.5" y="689.0" width="1.5" height="106.3" fill="url(#c47)"/><rect x="100.5" y="689.0" width="1.5" height="106.3" fill="url(#c48)"/><rect x="101.5" y="689.0" width="1.5" height="106.3" fill="url(#c49)"/><rect x="102.5" y="689.0" width="1.5" height="106.3" fill="url(#c50)"/><rect x="103.5" y="689.0" width="1.5" height="106.3" fill="url(#c51)"/><rect x="104.5" y="689.0" width="1.5" height="106.3" fill="url(#c52)"/><rect x="105.5" y="689.0" width="1.5" height="106.3" fill="url(#c53)"/><rect x="106.5" y="689.0" width="1.5" height="106.3" fill="url(#c54)"/><rect x="107.5" y="689.0" width="1.5" height="106.3" fill="url(#c55)"/><rect x="108.5" y="689.0" width="1.5" height="106.3" fill="url(#c56)"/><rect x="109.5" y="689.0" width="1.5" height="106.3" fill="url(#c57)"/><rect x="110.5" y="689.0" width="1.5" height="106.3" fill="url(#c58)"/><rect x="111.5" y="689.0" width="1.5" height="106.3" fill="url(#c59)"/><rect x="112.5" y="689.0" width="1.5" height="106.3" fill="url(#c26)"/><rect x="113.5" y="689.0" width="1.5" height="106.3" fill="url(#c60)"/><rect x="114.5" y="689.0" width="1.5" height="106.3" fill="url(#c58)"/><rect x="115.5" y="689.0" width="1.5" height="106.3" fill="url(#c61)"/><rect x="116.5" y="689.0" width="1.5" height="106.3" fill="url(#c62)"/><rect x="117.5" y="689.0" width="1.5" height="106.3" fill="url(#c63)"/><rect x="118.5" y="689.0" width="1.5" height="106.3" fill="url(#c64)"/><rect x="119.5" y="689.0" width="1.5" height="106.3" fill="url(#c65)"/><rect x="120.5" y="689.0" width="1.5" height="106.3" fill="url(#c66)"/><rect x="121.5" y="689.0" width="1.5" height="106.3" fill="url(#c67)"/><rect x="122.5" y="689.0" width="1.5" height="106.3" fill="url(#c68)"/><rect x="123.5" y="689.0" width="1.5" height="106.3" fill="url(#c69)"/><rect x="124.5" y="689.0" width="1.5" height="106.3" fill="url(#c26)"/><rect x="125.5" y="689.0" width="1.5" height="106.3" fill="url(#c70)"/><rect x="126.5" y="689.0" width="1.5" height="106.3" fill="url(#c14)"/><rect x="127.5" y="689.0" width="1.5" height="106.3" fill="url(#c71)"/><rect x="128.5" y="689.0" width="1.5" height="106.3" fill="url(#c72)"/><rect x="129.5" y="689.0" width="1.5" height="106.3" fill="url(#c73)"/><rect x="130.5" y="689.0" width="1.5" height="106.3" fill="url(#c74)"/><rect x="131.5" y="689.0" width="1.5" height="106.3" fill="url(#c75)"/><rect x="132.5" y="689.0" width="1.5" height="106.3" fill="url(#c51)"/><rect x="133.5" y="689.0" width="1.5" height="106.3" fill="url(#c76)"/><rect x="134.5" y="689.0" width="1.5" height="106.3" fill="url(#c77)"/><rect x="135.5" y="689.0" width="1.5" height="106.3" fill="url(#c78)"/><rect x="136.5" y="689.0" width="1.5" height="106.3" fill="url(#c79)"/><rect x="137.5" y="689.0" width="1.5" height="106.3" fill="url(#c80)"/><rect x="138.5" y="689.0" width="1.5" height="106.3" fill="url(#c81)"/><rect x="139.5" y="689.0" width="1.5" height="106.3" fill="url(#c82)"/><rect x="140.5" y="689.0" width="1.5" height="106.3" fill="url(#c83)"/><rect x="141.5" y="689.0" width="1.5" height="106.3" fill="url(#c84)"/><rect x="142.5" y="689.0" width="1.5" height="106.3" fill="url(#c85)"/><rect x="143.5" y="689.0" width="1.5" height="106.3" fill="url(#c86)"/><rect x="144.5" y="689.0" width="1.5" height="106.3" fill="url(#c87)"/><rect x="145.5" y="689.0" width="1.5" height="106.3" fill="url(#c88)"/><rect x="146.5" y="689.0" width="1.5" height="106.3" fill="url(#c89)"/><rect x="147.5" y="689.0" width="1.5" height="106.3" fill="url(#c90)"/><rect x="148.5" y="689.0" width="1.5" height="106.3" fill="url(#c91)"/><rect x="149.5" y="689.0" width="1.5" height="106.3" fill="url(#c92)"/><rect x="150.5" y="689.0" width="1.5" height="106.3" fill="url(#c93)"/><rect x="151.5" y="689.0" width="1.5" height="106.3" fill="url(#c94)"/><rect x="152.5" y="689.0" width="1.5" height="106.3" fill="url(#c95)"/><rect x="153.5" y="689.0" width="1.5" height="106.3" fill="url(#c96)"/><rect x="154.5" y="689.0" width="1.5" height="106.3" fill="url(#c97)"/><rect x="155.5" y="689.0" width="1.5" height="106.3" fill="url(#c98)"/><rect x="156.5" y="689.0" width="1.5" height="106.3" fill="url(#c99)"/><rect x="157.5" y="689.0" width="1.5" height="106.3" fill="url(#c100)"/><rect x="158.5" y="689.0" width="1.5" height="106.3" fill="url(#c101)"/><rect x="159.5" y="689.0" width="1.5" height="106.3" fill="url(#c102)"/><rect x="160.5" y="689.0" width="1.5" height="106.3" fill="url(#c103)"/><rect x="161.5" y="689.0" width="1.5" height="106.3" fill="url(#c104)"/><rect x="162.5" y="689.0" width="1.5" height="106.3" fill="url(#c105)"/><rect x="163.5" y="689.0" width="1.5" height="106.3" fill="url(#c106)"/><rect x="164.5" y="689.0" width="1.5" height="106.3" fill="url(#c107)"/><rect x="165.5" y="689.0" width="1.5" height="106.3" fill="url(#c108)"/><rect x="166.5" y="689.0" width="1.5" height="106.3" fill="url(#c109)"/><rect x="167.5" y="689.0" width="1.5" height="106.3" fill="url(#c110)"/><rect x="168.5" y="689.0" width="1.5" height="106.3" fill="url(#c111)"/><rect x="169.5" y="689.0" width="1.5" height="106.3" fill="url(#c112)"/><rect x="170.5" y="689.0" width="1.5" height="106.3" fill="url(#c113)"/><rect x="171.5" y="689.0" width="1.5" height="106.3" fill="url(#c114)"/><rect x="172.5" y="689.0" width="1.5" height="106.3" fill="url(#c115)"/><rect x="173.5" y="689.0" width="1.5" height="106.3" fill="url(#c116)"/><rect x="174.5" y="689.0" width="1.5" height="106.3" fill="url(#c117)"/><rect x="175.5" y="689.0" width="1.5" height="106.3" fill="url(#c118)"/><rect x="176.5" y="689.0" width="1.5" height="106.3" fill="url(#c119)"/><rect x="177.5" y="689.0" width="1.5" height="106.3" fill="url(#c120)"/><rect x="178.5" y="689.0" width="1.5" height="106.3" fill="url(#c121)"/><rect x="179.5" y="689.0" width="1.5" height="106.3" fill="url(#c122)"/><rect x="180.5" y="689.0" width="1.5" height="106.3" fill="url(#c123)"/><rect x="181.5" y="689.0" width="1.5" height="106.3" fill="url(#c124)"/><rect x="182.5" y="689.0" width="1.5" height="106.3" fill="url(#c125)"/><rect x="183.5" y="689.0" width="1.5" height="106.3" fill="url(#c126)"/><rect x="184.5" y="689.0" width="1.5" height="106.3" fill="url(#c127)"/><rect x="185.5" y="689.0" width="1.5" height="106.3" fill="url(#c128)"/><rect x="186.5" y="689.0" width="1.5" height="106.3" fill="url(#c129)"/><rect x="187.5" y="689.0" width="1.5" height="106.3" fill="url(#c130)"/><rect x="188.5" y="689.0" width="1.5" height="106.3" fill="url(#c131)"/><rect x="189.5" y="689.0" width="1.5" height="106.3" fill="url(#c132)"/><rect x="190.5" y="689.0" width="1.5" height="106.3" fill="url(#c133)"/><rect x="191.5" y="689.0" width="1.5" height="106.3" fill="url(#c134)"/><rect x="192.5" y="689.0" width="1.5" height="106.3" fill="url(#c135)"/><rect x="193.5" y="689.0" width="1.5" height="106.3" fill="url(#c136)"/><rect x="194.5" y="689.0" width="1.5" height="106.3" fill="url(#c137)"/><rect x="195.5" y="689.0" width="1.5" height="106.3" fill="url(#c138)"/><rect x="196.5" y="689.0" width="1.5" height="106.3" fill="url(#c139)"/><rect x="197.5" y="689.0" width="1.5" height="106.3" fill="url(#c140)"/><rect x="198.5" y="689.0" width="1.5" height="106.3" fill="url(#c141)"/><rect x="199.5" y="689.0" width="1.5" height="106.3" fill="url(#c142)"/><rect x="200.5" y="689.0" width="1.5" height="106.3" fill="url(#c143)"/><rect x="201.5" y="689.0" width="1.5" height="106.3" fill="url(#c144)"/><rect x="202.5" y="689.0" width="1.5" height="106.3" fill="url(#c145)"/><rect x="203.5" y="689.0" width="1.5" height="106.3" fill="url(#c146)"/><rect x="204.5" y="689.0" width="1.5" height="106.3" fill="url(#c147)"/><rect x="205.5" y="689.0" width="1.5" height="106.3" fill="url(#c148)"/><rect x="206.5" y="689.0" width="1.5" height="106.3" fill="url(#c149)"/><rect x="207.5" y="689.0" width="1.5" height="106.3" fill="url(#c150)"/><rect x="208.5" y="689.0" width="1.5" height="106.3" fill="url(#c151)"/><rect x="209.5" y="689.0" width="1.5" height="106.3" fill="url(#c152)"/><rect x="210.5" y="689.0" width="1.5" height="106.3" fill="url(#c153)"/><rect x="211.5" y="689.0" width="1.5" height="106.3" fill="url(#c154)"/><rect x="212.5" y="689.0" width="1.5" height="106.3" fill="url(#c155)"/><rect x="213.5" y="689.0" width="1.5" height="106.3" fill="url(#c156)"/><rect x="214.5" y="689.0" width="1.5" height="106.3" fill="url(#c157)"/><rect x="215.5" y="689.0" width="1.5" height="106.3" fill="url(#c158)"/><rect x="216.5" y="689.0" width="1.5" height="106.3" fill="url(#c159)"/><rect x="217.5" y="689.0" width="1.5" height="106.3" fill="url(#c160)"/><rect x="218.5" y="689.0" width="1.5" height="106.3" fill="url(#c161)"/><rect x="219.5" y="689.0" width="1.5" height="106.3" fill="url(#c162)"/><rect x="220.5" y="689.0" width="1.5" height="106.3" fill="url(#c163)"/><rect x="221.5" y="689.0" width="1.5" height="106.3" fill="url(#c164)"/><rect x="222.5" y="689.0" width="1.5" height="106.3" fill="url(#c165)"/><rect x="223.5" y="689.0" width="1.5" height="106.3" fill="url(#c166)"/><rect x="224.5" y="689.0" width="1.5" height="106.3" fill="url(#c167)"/><rect x="225.5" y="689.0" width="1.5" height="106.3" fill="url(#c168)"/><rect x="226.5" y="689.0" width="1.5" height="106.3" fill="url(#c169)"/><rect x="227.5" y="689.0" width="1.5" height="106.3" fill="url(#c170)"/><rect x="228.5" y="689.0" width="1.5" height="106.3" fill="url(#c171)"/><rect x="229.5" y="689.0" width="1.5" height="106.3" fill="url(#c172)"/><rect x="230.5" y="689.0" width="1.5" height="106.3" fill="url(#c173)"/><rect x="231.5" y="689.0" width="1.5" height="106.3" fill="url(#c174)"/><rect x="232.5" y="689.0" width="1.5" height="106.3" fill="url(#c175)"/><rect x="233.5" y="689.0" width="1.5" height="106.3" fill="url(#c176)"/><rect x="234.5" y="689.0" width="1.5" height="106.3" fill="url(#c177)"/><rect x="235.5" y="689.0" width="1.5" height="106.3" fill="url(#c178)"/><rect x="236.5" y="689.0" width="1.5" height="106.3" fill="url(#c179)"/><rect x="237.5" y="689.0" width="1.5" height="106.3" fill="url(#c180)"/><rect x="238.5" y="689.0" width="1.5" height="106.3" fill="url(#c181)"/><rect x="239.5" y="689.0" width="1.5" height="106.3" fill="url(#c182)"/><rect x="240.5" y="689.0" width="1.5" height="106.3" fill="url(#c183)"/><rect x="241.5" y="689.0" width="1.5" height="106.3" fill="url(#c184)"/><rect x="242.5" y="689.0" width="1.5" height="106.3" fill="url(#c185)"/><rect x="243.5" y="689.0" width="1.5" height="106.3" fill="url(#c186)"/><rect x="244.5" y="689.0" width="1.5" height="106.3" fill="url(#c187)"/><rect x="245.5" y="689.0" width="1.5" height="106.3" fill="url(#c188)"/><rect x="246.5" y="689.0" width="1.5" height="106.3" fill="url(#c189)"/><rect x="247.5" y="689.0" width="1.5" height="106.3" fill="url(#c190)"/><rect x="248.5" y="689.0" width="1.5" height="106.3" fill="url(#c191)"/><rect x="249.5" y="689.0" width="1.5" height="106.3" fill="url(#c192)"/><rect x="250.5" y="689.0" width="1.5" height="106.3" fill="url(#c193)"/><rect x="251.5" y="689.0" width="1.5" height="106.3" fill="url(#c194)"/><rect x="252.5" y="689.0" width="1.5" height="106.3" fill="url(#c195)"/><rect x="253.5" y="689.0" width="1.5" height="106.3" fill="url(#c196)"/><rect x="254.5" y="689.0" width="1.5" height="106.3" fill="url(#c197)"/><rect x="255.5" y="689.0" width="1.5" height="106.3" fill="url(#c198)"/><rect x="256.5" y="689.0" width="1.5" height="106.3" fill="url(#c199)"/><rect x="257.5" y="689.0" width="1.5" height="106.3" fill="url(#c200)"/><rect x="258.5" y="689.0" width="1.5" height="106.3" fill="url(#c201)"/><rect x="259.5" y="689.0" width="1.5" height="106.3" fill="url(#c202)"/><rect x="260.5" y="689.0" width="1.5" height="106.3" fill="url(#c203)"/><rect x="261.5" y="689.0" width="1.5" height="106.3" fill="url(#c204)"/><rect x="262.5" y="689.0" width="1.5" height="106.3" fill="url(#c205)"/><rect x="263.5" y="689.0" width="1.5" height="106.3" fill="url(#c206)"/><rect x="264.5" y="689.0" width="1.5" height="106.3" fill="url(#c207)"/><rect x="265.5" y="689.0" width="1.5" height="106.3" fill="url(#c208)"/><rect x="266.5" y="689.0" width="1.5" height="106.3" fill="url(#c209)"/><rect x="267.5" y="689.0" width="1.5" height="106.3" fill="url(#c210)"/><rect x="268.5" y="689.0" width="1.5" height="106.3" fill="url(#c211)"/><rect x="269.5" y="689.0" width="1.5" height="106.3" fill="url(#c212)"/><rect x="270.5" y="689.0" width="1.5" height="106.3" fill="url(#c213)"/><rect x="271.5" y="689.0" width="1.5" height="106.3" fill="url(#c214)"/><rect x="272.5" y="689.0" width="1.5" height="106.3" fill="url(#c215)"/><rect x="273.5" y="689.0" width="1.5" height="106.3" fill="url(#c216)"/><rect x="274.5" y="689.0" width="1.5" height="106.3" fill="url(#c217)"/><rect x="275.5" y="689.0" width="1.5" height="106.3" fill="url(#c218)"/><rect x="276.5" y="689.0" width="1.5" height="106.3" fill="url(#c219)"/><rect x="277.5" y="689.0" width="1.5" height="106.3" fill="url(#c220)"/><rect x="278.5" y="689.0" width="1.5" height="106.3" fill="url(#c221)"/><rect x="279.5" y="689.0" width="1.5" height="106.3" fill="url(#c222)"/><rect x="280.5" y="689.0" width="1.5" height="106.3" fill="url(#c223)"/><rect x="281.5" y="689.0" width="1.5" height="106.3" fill="url(#c224)"/><rect x="282.5" y="689.0" width="1.5" height="106.3" fill="url(#c225)"/><rect x="283.5" y="689.0" width="1.5" height="106.3" fill="url(#c226)"/><rect x="284.5" y="689.0" width="1.5" height="106.3" fill="url(#c227)"/><rect x="285.5" y="689.0" width="1.5" height="106.3" fill="url(#c228)"/><rect x="286.5" y="689.0" width="1.5" height="106.3" fill="url(#c229)"/><rect x="287.5" y="689.0" width="1.5" height="106.3" fill="url(#c230)"/><rect x="288.5" y="689.0" width="1.5" height="106.3" fill="url(#c231)"/><rect x="289.5" y="689.0" width="1.5" height="106.3" fill="url(#c232)"/><rect x="290.5" y="689.0" width="1.5" height="106.3" fill="url(#c233)"/><rect x="291.5" y="689.0" width="1.5" height="106.3" fill="url(#c234)"/><rect x="292.5" y="689.0" width="1.5" height="106.3" fill="url(#c235)"/><rect x="293.5" y="689.0" width="1.5" height="106.3" fill="url(#c236)"/><rect x="294.5" y="689.0" width="1.5" height="106.3" fill="url(#c237)"/><rect x="295.5" y="689.0" width="1.5" height="106.3" fill="url(#c238)"/><rect x="296.5" y="689.0" width="1.5" height="106.3" fill="url(#c239)"/><rect x="297.5" y="689.0" width="1.5" height="106.3" fill="url(#c240)"/><rect x="298.5" y="689.0" width="1.5" height="106.3" fill="url(#c241)"/><rect x="299.5" y="689.0" width="1.5" height="106.3" fill="url(#c242)"/><rect x="300.5" y="689.0" width="1.5" height="106.3" fill="url(#c243)"/><rect x="301.5" y="689.0" width="1.5" height="106.3" fill="url(#c244)"/><rect x="302.5" y="689.0" width="1.5" height="106.3" fill="url(#c245)"/><rect x="303.5" y="689.0" width="1.5" height="106.3" fill="url(#c246)"/><rect x="304.5" y="689.0" width="1.5" height="106.3" fill="url(#c247)"/><rect x="305.5" y="689.0" width="1.5" height="106.3" fill="url(#c248)"/><rect x="306.5" y="689.0" width="1.5" height="106.3" fill="url(#c249)"/><rect x="307.5" y="689.0" width="1.5" height="106.3" fill="url(#c250)"/><rect x="308.5" y="689.0" width="1.5" height="106.3" fill="url(#c251)"/><rect x="309.5" y="689.0" width="1.5" height="106.3" fill="url(#c252)"/><rect x="310.5" y="689.0" width="1.5" height="106.3" fill="url(#c253)"/><rect x="311.5" y="689.0" width="1.5" height="106.3" fill="url(#c254)"/><rect x="312.5" y="689.0" width="1.5" height="106.3" fill="url(#c255)"/><rect x="313.5" y="689.0" width="1.5" height="106.3" fill="url(#c256)"/><rect x="314.5" y="689.0" width="1.5" height="106.3" fill="url(#c257)"/><rect x="315.5" y="689.0" width="1.5" height="106.3" fill="url(#c258)"/><rect x="316.5" y="689.0" width="1.5" height="106.3" fill="url(#c259)"/><rect x="317.5" y="689.0" width="1.5" height="106.3" fill="url(#c260)"/><rect x="318.5" y="689.0" width="1.5" height="106.3" fill="url(#c261)"/><rect x="319.5" y="689.0" width="1.5" height="106.3" fill="url(#c262)"/><rect x="320.5" y="689.0" width="1.5" height="106.3" fill="url(#c263)"/><rect x="321.5" y="689.0" width="1.5" height="106.3" fill="url(#c264)"/><rect x="322.5" y="689.0" width="1.5" height="106.3" fill="url(#c265)"/><rect x="323.5" y="689.0" width="1.5" height="106.3" fill="url(#c266)"/><rect x="324.5" y="689.0" width="1.5" height="106.3" fill="url(#c267)"/><rect x="325.5" y="689.0" width="1.5" height="106.3" fill="url(#c268)"/><rect x="326.5" y="689.0" width="1.5" height="106.3" fill="url(#c269)"/><rect x="327.5" y="689.0" width="1.5" height="106.3" fill="url(#c270)"/><rect x="328.5" y="689.0" width="1.5" height="106.3" fill="url(#c271)"/><rect x="329.5" y="689.0" width="1.5" height="106.3" fill="url(#c272)"/><rect x="330.5" y="689.0" width="1.5" height="106.3" fill="url(#c273)"/><rect x="331.5" y="689.0" width="1.5" height="106.3" fill="url(#c274)"/><rect x="332.5" y="689.0" width="1.5" height="106.3" fill="url(#c275)"/><rect x="333.5" y="689.0" width="1.5" height="106.3" fill="url(#c276)"/><rect x="334.5" y="689.0" width="1.5" height="106.3" fill="url(#c277)"/><rect x="335.5" y="689.0" width="1.5" height="106.3" fill="url(#c278)"/><rect x="336.5" y="689.0" width="1.5" height="106.3" fill="url(#c279)"/><rect x="337.5" y="689.0" width="1.5" height="106.3" fill="url(#c280)"/><rect x="338.5" y="689.0" width="1.5" height="106.3" fill="url(#c281)"/><rect x="339.5" y="689.0" width="1.5" height="106.3" fill="url(#c282)"/><rect x="340.5" y="689.0" width="1.5" height="106.3" fill="url(#c283)"/><rect x="341.5" y="689.0" width="1.5" height="106.3" fill="url(#c284)"/><rect x="342.5" y="689.0" width="1.5" height="106.3" fill="url(#c285)"/><rect x="343.5" y="689.0" width="1.5" height="106.3" fill="url(#c286)"/><rect x="344.5" y="689.0" width="1.5" height="106.3" fill="url(#c287)"/><rect x="345.5" y="689.0" width="1.5" height="106.3" fill="url(#c288)"/><rect x="346.5" y="689.0" width="1.5" height="106.3" fill="url(#c289)"/><rect x="347.5" y="689.0" width="1.5" height="106.3" fill="url(#c290)"/><rect x="348.5" y="689.0" width="1.5" height="106.3" fill="url(#c291)"/><rect x="349.5" y="689.0" width="1.5" height="106.3" fill="url(#c292)"/><rect x="350.5" y="689.0" width="1.5" height="106.3" fill="url(#c293)"/><rect x="351.5" y="689.0" width="1.5" height="106.3" fill="url(#c294)"/><rect x="352.5" y="689.0" width="1.5" height="106.3" fill="url(#c295)"/><rect x="353.5" y="689.0" width="1.5" height="106.3" fill="url(#c296)"/><rect x="354.5" y="689.0" width="1.5" height="106.3" fill="url(#c297)"/><rect x="355.5" y="689.0" width="1.5" height="106.3" fill="url(#c298)"/><rect x="356.5" y="689.0" width="1.5" height="106.3" fill="url(#c299)"/><rect x="357.5" y="689.0" width="1.5" height="106.3" fill="url(#c300)"/><rect x="358.5" y="689.0" width="1.5" height="106.3" fill="url(#c301)"/><rect x="359.5" y="689.0" width="1.5" height="106.3" fill="url(#c302)"/><rect x="360.5" y="689.0" width="1.5" height="106.3" fill="url(#c303)"/><rect x="361.5" y="689.0" width="1.5" height="106.3" fill="url(#c304)"/><rect x="362.5" y="689.0" width="1.5" height="106.3" fill="url(#c305)"/><rect x="363.5" y="689.0" width="1.5" height="106.3" fill="url(#c306)"/><rect x="364.5" y="689.0" width="1.5" height="106.3" fill="url(#c307)"/><rect x="365.5" y="689.0" width="1.5" height="106.3" fill="url(#c308)"/><rect x="366.5" y="689.0" width="1.5" height="106.3" fill="url(#c309)"/><rect x="367.5" y="689.0" width="1.5" height="106.3" fill="url(#c310)"/><rect x="368.5" y="689.0" width="1.5" height="106.3" fill="url(#c311)"/><rect x="369.5" y="689.0" width="1.5" height="106.3" fill="url(#c312)"/><rect x="370.5" y="689.0" width="1.5" height="106.3" fill="url(#c313)"/><rect x="371.5" y="689.0" width="1.5" height="106.3" fill="url(#c314)"/><rect x="372.5" y="689.0" width="1.5" height="106.3" fill="url(#c315)"/><rect x="373.5" y="689.0" width="1.5" height="106.3" fill="url(#c316)"/><rect x="374.5" y="689.0" width="1.5" height="106.3" fill="url(#c317)"/><rect x="375.5" y="689.0" width="1.5" height="106.3" fill="url(#c318)"/><rect x="376.5" y="689.0" width="1.5" height="106.3" fill="url(#c319)"/><rect x="377.5" y="689.0" width="1.5" height="106.3" fill="url(#c320)"/><rect x="378.5" y="689.0" width="1.5" height="106.3" fill="url(#c321)"/><rect x="379.5" y="689.0" width="1.5" height="106.3" fill="url(#c322)"/><rect x="380.5" y="689.0" width="1.5" height="106.3" fill="url(#c323)"/><rect x="381.5" y="689.0" width="1.5" height="106.3" fill="url(#c324)"/><rect x="382.5" y="689.0" width="1.5" height="106.3" fill="url(#c325)"/><rect x="383.5" y="689.0" width="1.5" height="106.3" fill="url(#c326)"/><rect x="384.5" y="689.0" width="1.5" height="106.3" fill="url(#c327)"/><rect x="385.5" y="689.0" width="1.5" height="106.3" fill="url(#c328)"/><rect x="386.5" y="689.0" width="1.5" height="106.3" fill="url(#c329)"/><rect x="387.5" y="689.0" width="1.5" height="106.3" fill="url(#c330)"/><rect x="388.5" y="689.0" width="1.5" height="106.3" fill="url(#c331)"/><rect x="389.5" y="689.0" width="1.5" height="106.3" fill="url(#c332)"/><rect x="390.5" y="689.0" width="1.5" height="106.3" fill="url(#c333)"/><rect x="391.5" y="689.0" width="1.5" height="106.3" fill="url(#c334)"/><rect x="392.5" y="689.0" width="1.5" height="106.3" fill="url(#c335)"/><rect x="393.5" y="689.0" width="1.5" height="106.3" fill="url(#c336)"/><rect x="394.5" y="689.0" width="1.5" height="106.3" fill="url(#c337)"/><rect x="395.5" y="689.0" width="1.5" height="106.3" fill="url(#c338)"/><rect x="396.5" y="689.0" width="1.5" height="106.3" fill="url(#c339)"/><rect x="397.5" y="689.0" width="1.5" height="106.3" fill="url(#c340)"/><rect x="398.5" y="689.0" width="1.5" height="106.3" fill="url(#c341)"/><rect x="399.5" y="689.0" width="1.5" height="106.3" fill="url(#c342)"/><rect x="400.5" y="689.0" width="1.5" height="106.3" fill="url(#c343)"/><rect x="401.5" y="689.0" width="1.5" height="106.3" fill="url(#c344)"/><rect x="402.5" y="689.0" width="1.5" height="106.3" fill="url(#c345)"/><rect x="403.5" y="689.0" width="1.5" height="106.3" fill="url(#c346)"/><rect x="404.5" y="689.0" width="1.5" height="106.3" fill="url(#c347)"/><rect x="405.5" y="689.0" width="1.5" height="106.3" fill="url(#c348)"/><rect x="406.5" y="689.0" width="1.5" height="106.3" fill="url(#c349)"/><rect x="407.5" y="689.0" width="1.5" height="106.3" fill="url(#c350)"/><rect x="408.5" y="689.0" width="1.5" height="106.3" fill="url(#c351)"/><rect x="409.5" y="689.0" width="1.5" height="106.3" fill="url(#c352)"/><rect x="410.5" y="689.0" width="1.5" height="106.3" fill="url(#c353)"/><rect x="411.5" y="689.0" width="1.5" height="106.3" fill="url(#c354)"/><rect x="412.5" y="689.0" width="1.5" height="106.3" fill="url(#c355)"/><rect x="413.5" y="689.0" width="1.5" height="106.3" fill="url(#c356)"/><rect x="414.5" y="689.0" width="1.5" height="106.3" fill="url(#c357)"/><rect x="415.5" y="689.0" width="1.5" height="106.3" fill="url(#c358)"/><rect x="416.5" y="689.0" width="1.5" height="106.3" fill="url(#c359)"/><rect x="417.5" y="689.0" width="1.5" height="106.3" fill="url(#c360)"/><rect x="418.5" y="689.0" width="1.5" height="106.3" fill="url(#c361)"/><rect x="419.5" y="689.0" width="1.5" height="106.3" fill="url(#c362)"/><rect x="420.5" y="689.0" width="1.5" height="106.3" fill="url(#c363)"/><rect x="421.5" y="689.0" width="1.5" height="106.3" fill="url(#c364)"/><rect x="422.5" y="689.0" width="1.5" height="106.3" fill="url(#c365)"/><rect x="423.5" y="689.0" width="1.5" height="106.3" fill="url(#c366)"/><rect x="424.5" y="689.0" width="1.5" height="106.3" fill="url(#c367)"/><rect x="425.5" y="689.0" width="1.5" height="106.3" fill="url(#c368)"/><rect x="426.5" y="689.0" width="1.5" height="106.3" fill="url(#c369)"/><rect x="427.5" y="689.0" width="1.5" height="106.3" fill="url(#c370)"/><rect x="428.5" y="689.0" width="1.5" height="106.3" fill="url(#c371)"/><rect x="429.5" y="689.0" width="1.5" height="106.3" fill="url(#c372)"/><rect x="430.5" y="689.0" width="1.5" height="106.3" fill="url(#c373)"/><rect x="431.5" y="689.0" width="1.5" height="106.3" fill="url(#c374)"/><rect x="432.5" y="689.0" width="1.5" height="106.3" fill="url(#c375)"/><rect x="433.5" y="689.0" width="1.5" height="106.3" fill="url(#c376)"/><rect x="434.5" y="689.0" width="1.5" height="106.3" fill="url(#c377)"/><rect x="435.5" y="689.0" width="1.5" height="106.3" fill="url(#c378)"/><rect x="436.5" y="689.0" width="1.5" height="106.3" fill="url(#c379)"/><rect x="437.5" y="689.0" width="1.5" height="106.3" fill="url(#c380)"/><rect x="438.5" y="689.0" width="1.5" height="106.3" fill="url(#c381)"/><rect x="439.5" y="689.0" width="1.5" height="106.3" fill="url(#c382)"/><rect x="440.5" y="689.0" width="1.5" height="106.3" fill="url(#c383)"/><rect x="441.5" y="689.0" width="1.5" height="106.3" fill="url(#c384)"/><rect x="442.5" y="689.0" width="1.5" height="106.3" fill="url(#c385)"/><rect x="443.5" y="689.0" width="1.5" height="106.3" fill="url(#c386)"/><rect x="444.5" y="689.0" width="1.5" height="106.3" fill="url(#c387)"/><rect x="445.5" y="689.0" width="1.5" height="106.3" fill="url(#c388)"/><rect x="446.5" y="689.0" width="1.5" height="106.3" fill="url(#c389)"/><rect x="447.5" y="689.0" width="1.5" height="106.3" fill="url(#c390)"/><rect x="448.5" y="689.0" width="1.5" height="106.3" fill="url(#c391)"/><rect x="449.5" y="689.0" width="1.5" height="106.3" fill="url(#c392)"/><rect x="450.5" y="689.0" width="1.5" height="106.3" fill="url(#c393)"/><rect x="451.5" y="689.0" width="1.5" height="106.3" fill="url(#c394)"/><rect x="452.5" y="689.0" width="1.5" height="106.3" fill="url(#c395)"/><rect x="453.5" y="689.0" width="1.5" height="106.3" fill="url(#c396)"/><rect x="454.5" y="689.0" width="1.5" height="106.3" fill="url(#c397)"/><rect x="455.5" y="689.0" width="1.5" height="106.3" fill="url(#c398)"/><rect x="456.5" y="689.0" width="1.5" height="106.3" fill="url(#c399)"/><rect x="457.5" y="689.0" width="1.5" height="106.3" fill="url(#c400)"/><rect x="458.5" y="689.0" width="1.5" height="106.3" fill="url(#c401)"/><rect x="459.5" y="689.0" width="1.5" height="106.3" fill="url(#c402)"/><rect x="460.5" y="689.0" width="1.5" height="106.3" fill="url(#c403)"/><rect x="461.5" y="689.0" width="1.5" height="106.3" fill="url(#c404)"/><rect x="462.5" y="689.0" width="1.5" height="106.3" fill="url(#c405)"/><rect x="463.5" y="689.0" width="1.5" height="106.3" fill="url(#c406)"/><rect x="464.5" y="689.0" width="1.5" height="106.3" fill="url(#c407)"/><rect x="465.5" y="689.0" width="1.5" height="106.3" fill="url(#c408)"/><rect x="466.5" y="689.0" width="1.5" height="106.3" fill="url(#c409)"/><rect x="467.5" y="689.0" width="1.5" height="106.3" fill="url(#c410)"/><rect x="468.5" y="689.0" width="1.5" height="106.3" fill="url(#c411)"/><rect x="469.5" y="689.0" width="1.5" height="106.3" fill="url(#c412)"/><rect x="470.5" y="689.0" width="1.5" height="106.3" fill="url(#c413)"/><rect x="471.5" y="689.0" width="1.5" height="106.3" fill="url(#c414)"/><rect x="472.5" y="689.0" width="1.5" height="106.3" fill="url(#c415)"/><rect x="473.5" y="689.0" width="1.5" height="106.3" fill="url(#c416)"/><rect x="474.5" y="689.0" width="1.5" height="106.3" fill="url(#c417)"/><rect x="475.5" y="689.0" width="1.5" height="106.3" fill="url(#c418)"/><rect x="476.5" y="689.0" width="1.5" height="106.3" fill="url(#c419)"/><rect x="477.5" y="689.0" width="1.5" height="106.3" fill="url(#c420)"/><rect x="478.5" y="689.0" width="1.5" height="106.3" fill="url(#c421)"/><rect x="479.5" y="689.0" width="1.5" height="106.3" fill="url(#c422)"/><rect x="480.5" y="689.0" width="1.5" height="106.3" fill="url(#c423)"/><rect x="481.5" y="689.0" width="1.5" height="106.3" fill="url(#c424)"/><rect x="482.5" y="689.0" width="1.5" height="106.3" fill="url(#c425)"/><rect x="483.5" y="689.0" width="1.5" height="106.3" fill="url(#c426)"/><rect x="484.5" y="689.0" width="1.5" height="106.3" fill="url(#c427)"/><rect x="485.5" y="689.0" width="1.5" height="106.3" fill="url(#c428)"/><rect x="486.5" y="689.0" width="1.5" height="106.3" fill="url(#c429)"/><rect x="487.5" y="689.0" width="1.5" height="106.3" fill="url(#c430)"/><rect x="488.5" y="689.0" width="1.5" height="106.3" fill="url(#c431)"/><rect x="489.5" y="689.0" width="1.5" height="106.3" fill="url(#c432)"/><rect x="490.5" y="689.0" width="1.5" height="106.3" fill="url(#c433)"/><rect x="491.5" y="689.0" width="1.5" height="106.3" fill="url(#c434)"/><rect x="492.5" y="689.0" width="1.5" height="106.3" fill="url(#c435)"/><rect x="493.5" y="689.0" width="1.5" height="106.3" fill="url(#c436)"/><rect x="494.5" y="689.0" width="1.5" height="106.3" fill="url(#c437)"/><rect x="495.5" y="689.0" width="1.5" height="106.3" fill="url(#c438)"/><rect x="496.5" y="689.0" width="1.5" height="106.3" fill="url(#c439)"/><rect x="497.5" y="689.0" width="1.5" height="106.3" fill="url(#c440)"/><rect x="498.5" y="689.0" width="1.5" height="106.3" fill="url(#c441)"/><rect x="499.5" y="689.0" width="1.5" height="106.3" fill="url(#c442)"/><rect x="500.5" y="689.0" width="1.5" height="106.3" fill="url(#c443)"/><rect x="501.5" y="689.0" width="1.5" height="106.3" fill="url(#c444)"/><rect x="502.5" y="689.0" width="1.5" height="106.3" fill="url(#c445)"/><rect x="503.5" y="689.0" width="1.5" height="106.3" fill="url(#c446)"/><rect x="504.5" y="689.0" width="1.5" height="106.3" fill="url(#c447)"/><rect x="505.5" y="689.0" width="1.5" height="106.3" fill="url(#c448)"/><rect x="506.5" y="689.0" width="1.5" height="106.3" fill="url(#c449)"/><rect x="507.5" y="689.0" width="1.5" height="106.3" fill="url(#c450)"/><rect x="508.5" y="689.0" width="1.5" height="106.3" fill="url(#c451)"/><rect x="509.5" y="689.0" width="1.5" height="106.3" fill="url(#c452)"/><rect x="510.5" y="689.0" width="1.5" height="106.3" fill="url(#c453)"/><rect x="511.5" y="689.0" width="1.5" height="106.3" fill="url(#c454)"/><rect x="512.5" y="689.0" width="1.5" height="106.3" fill="url(#c455)"/><rect x="513.5" y="689.0" width="1.5" height="106.3" fill="url(#c456)"/><rect x="514.5" y="689.0" width="1.5" height="106.3" fill="url(#c457)"/><rect x="515.5" y="689.0" width="1.5" height="106.3" fill="url(#c458)"/><rect x="516.5" y="689.0" width="1.5" height="106.3" fill="url(#c459)"/><rect x="517.5" y="689.0" width="1.5" height="106.3" fill="url(#c460)"/><rect x="518.5" y="689.0" width="1.5" height="106.3" fill="url(#c461)"/><rect x="519.5" y="689.0" width="1.5" height="106.3" fill="url(#c462)"/><rect x="520.5" y="689.0" width="1.5" height="106.3" fill="url(#c463)"/><rect x="521.5" y="689.0" width="1.5" height="106.3" fill="url(#c464)"/><rect x="522.5" y="689.0" width="1.5" height="106.3" fill="url(#c465)"/><rect x="523.5" y="689.0" width="1.5" height="106.3" fill="url(#c466)"/><rect x="524.5" y="689.0" width="1.5" height="106.3" fill="url(#c467)"/><rect x="525.5" y="689.0" width="1" height="106.3" fill="url(#c468)"/></g>
<text x="47.3" y="799.1" font-size="10.8" text-anchor="end" fill="#1e1e1e" stroke="#1e1e1e" stroke-width="0.22">0</text>
<text x="47.3" y="757" font-size="10.8" text-anchor="end" fill="#1e1e1e" stroke="#1e1e1e" stroke-width="0.22">2000</text>
<text x="47.3" y="714.9" font-size="10.8" text-anchor="end" fill="#1e1e1e" stroke="#1e1e1e" stroke-width="0.22">4000</text>
<text x="52.5" y="811.7" font-size="10.8" text-anchor="middle" fill="#1e1e1e" stroke="#1e1e1e" stroke-width="0.22">0</text>
<text x="111.69" y="811.7" font-size="10.8" text-anchor="middle" fill="#1e1e1e" stroke="#1e1e1e" stroke-width="0.22">0.05</text>
<text x="170.88" y="811.7" font-size="10.8" text-anchor="middle" fill="#1e1e1e" stroke="#1e1e1e" stroke-width="0.22">0.1</text>
<text x="230.06" y="811.7" font-size="10.8" text-anchor="middle" fill="#1e1e1e" stroke="#1e1e1e" stroke-width="0.22">0.15</text>
<text x="289.25" y="811.7" font-size="10.8" text-anchor="middle" fill="#1e1e1e" stroke="#1e1e1e" stroke-width="0.22">0.2</text>
<text x="348.44" y="811.7" font-size="10.8" text-anchor="middle" fill="#1e1e1e" stroke="#1e1e1e" stroke-width="0.22">0.25</text>
<text x="407.62" y="811.7" font-size="10.8" text-anchor="middle" fill="#1e1e1e" stroke="#1e1e1e" stroke-width="0.22">0.3</text>
<text x="466.81" y="811.7" font-size="10.8" text-anchor="middle" fill="#1e1e1e" stroke="#1e1e1e" stroke-width="0.22">0.35</text>
<text x="526" y="811.7" font-size="10.8" text-anchor="middle" fill="#1e1e1e" stroke="#1e1e1e" stroke-width="0.22">0.4</text>
<text x="290" y="828.9" font-size="12" text-anchor="middle" fill="#1e1e1e" stroke="#1e1e1e" stroke-width="0.22" textLength="47" lengthAdjust="spacingAndGlyphs">Time (s)</text>
<text transform="translate(16.4,741.4) rotate(-90)" x="0" y="0" font-size="11.8" text-anchor="middle" fill="#1e1e1e" textLength="90" lengthAdjust="spacingAndGlyphs">Frequency (Hz)</text></svg></body></html>
